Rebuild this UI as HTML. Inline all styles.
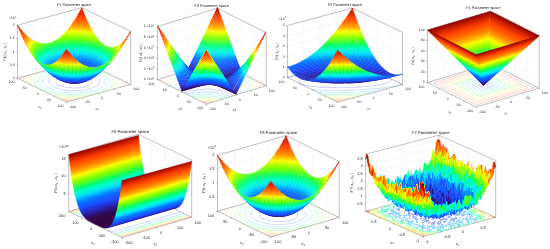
<!DOCTYPE html>
<html><head><meta charset="utf-8"><title>Parameter space</title>
<style>
html,body{margin:0;padding:0;background:#fff}
svg{display:block;text-rendering:geometricPrecision;font-family:"Liberation Sans",sans-serif;fill:#2a2a2a}
.s path{fill:currentColor;stroke:currentColor;stroke-width:.45;stroke-linejoin:round}
.k{filter:blur(.4px)}
.c path{fill:none}
.c{opacity:.55}
.c7{opacity:.9}
.g{fill:none;stroke:#ebebeb;stroke-width:.35}
.b{fill:none;stroke:#888;stroke-width:.5}
.p{font-size:3.5px}
.q{font-size:3.85px}
.p .tt{font-size:3.8px;fill:#111}
.q .tt{font-size:4.15px;fill:#111}
.u{font-size:75%}
</style></head><body>
<svg width="550" height="249" viewBox="0 0 550 249">
<rect width="550" height="249" fill="#fff"/>
<defs><linearGradient id="u" gradientUnits="userSpaceOnUse"/><filter id="cm" color-interpolation-filters="sRGB" x="-5%" y="-5%" width="110%" height="110%"><feComponentTransfer><feFuncR type="table" tableValues=".199 .19 .182 .17 .159 .15 .137 .128 .116 .106 .09 .078 .064 .052 .031 .005 0 0 0 0 0 0 0 0 0 0 0 .001 .052 .125 .201 .279 .355 .429 .498 .561 .632 .721 .795 .874 .952 .998 1 1 1 1 1 1 1 1 1 1 1 1 1 .986 .948 .914 .867 .825 .768 .719 .667 .597 .537"/><feFuncG type="table" tableValues=".026 .048 .071 .103 .137 .164 .201 .23 .271 .303 .336 .358 .391 .42 .467 .525 .581 .665 .755 .825 .883 .929 .954 .984 1 1 1 1 1 1 1 1 1 1 1 1 1 1 1 1 .993 .95 .87 .778 .713 .658 .596 .549 .506 .455 .417 .382 .343 .314 .281 .254 .218 .191 .158 .133 .102 .079 .056 .028 .006"/><feFuncB type="table" tableValues=".26 .357 .448 .56 .662 .733 .817 .874 .941 .985 1 1 1 1 1 1 1 1 1 1 .958 .909 .867 .813 .754 .674 .581 .473 .412 .332 .257 .188 .126 .073 .03 .001 0 0 0 0 .011 .019 .017 .012 .004 0 0 0 0 0 0 0 0 0 0 0 0 0 0 0 0 0 0 0 0"/></feComponentTransfer></filter></defs>
<g class="p"><g class="k"><path class="g" d="M66.4 102L17.5 78.2M17.5 78.2L17.5 25.2M82.5 97.6L33.6 73.8M33.6 73.8L33.6 20.8M98.5 93.2L49.6 69.5M49.6 69.5L49.6 16.5M114.6 88.9L65.7 65.1M65.7 65.1L65.7 12.1M130.7 84.5L81.8 60.7M81.8 60.7L81.8 7.7M66.4 102L130.7 84.5M130.7 84.5L130.7 31.5M54.2 96L118.5 78.5M118.5 78.5L118.5 25.5M42 90.1L106.2 72.6M106.2 72.6L106.2 19.6M29.7 84.2L94 66.7M94 66.7L94 13.7M17.5 78.2L81.8 60.7M81.8 60.7L81.8 7.7M17.5 78.2L81.8 60.7M81.8 60.7L130.7 84.5M17.5 65L81.8 47.5M81.8 47.5L130.7 71.2M17.5 51.7L81.8 34.2M81.8 34.2L130.7 58M17.5 38.5L81.8 21M81.8 21L130.7 44.8M17.5 25.2L81.8 7.7M81.8 7.7L130.7 31.5"/><path class="b" d="M66.4 102L130.7 84.5M66.4 102L17.5 78.2M130.7 84.5L81.8 60.7M17.5 78.2L81.8 60.7M17.5 78.2L17.5 25.2M81.8 60.7L81.8 7.7M130.7 84.5L130.7 31.5M17.5 25.2L81.8 7.7M81.8 7.7L130.7 31.5M66.4 102L66.9 103.2M82.5 97.6L83 98.8M98.5 93.2L99 94.5M114.6 88.9L115.1 90.1M130.7 84.5L131.2 85.7M66.4 102L65.8 103.2M54.2 96L53.6 97.2M42 90.1L41.4 91.3M29.7 84.2L29.1 85.4M17.5 78.2L16.9 79.4M17.5 78.2L16.2 78.2M17.5 65L16.2 65M17.5 51.7L16.2 51.7M17.5 38.5L16.2 38.5M17.5 25.2L16.2 25.2"/><g class="c" stroke-width="0.4"><path stroke="#2236d5" d="M80.6 87.6l-1 .1-1.1 .1-1.1 .1-1.1 0-.9 0-1.5 .1-1.3-.1-1.4-.1-1.5-.1-1.4-.1-1.1-.2-1.1-.2-.9-.2-1-.2-.8-.2-.9-.2-.7-.3-.8-.3-.6-.2-.7-.3-.6-.3-.5-.4-.5-.3-.9-.7-.6-.7-.4-.8-.2-.9 .3-1 .3-.6 .4-.5 .4-.4 .5-.4 .5-.3 .6-.3 .6-.4 .6-.3 .7-.2 .7-.3 .8-.2 .8-.3 .8-.2 .8-.2 .9-.2 1-.1 .9-.2 1-.1 1.1-.1 1-.1 1.2 0 .9 0 1.5-.1 1.3 .1 1.4 .1 1.5 .1 1.4 .1 1.1 .2 1.1 .2 .9 .2 1 .2 .8 .2 .9 .2 .7 .3 .8 .3 .6 .2 .7 .3 .6 .3 .5 .4 .5 .3 .9 .7 .6 .7 .4 .8 .2 .9-.3 1-.3 .6-.4 .5-.4 .4-.5 .4-.5 .3-.6 .3-.6 .4-.6 .3-.7 .2-.7 .3-.8 .2-.8 .3-.8 .2-.8 .2-.9 .2-1 .1-.9 .2z"/><path stroke="#0d6bff" d="M87 89.5l-.7 .1-1.1 .2-.9 .2-1 .1-1 .1-1 .2-1 0-1.1 .1-1.1 .1-1.2 0-1.2 .1-1.2 0-1.3 0-.9 0-1.5-.1-1.4-.1-1.3-.1-1.2-.1-1.1-.2-1.2-.1-1.1-.2-1-.2-1-.2-.9-.2-.9-.2-.9-.3-.8-.2-.8-.2-.7-.3-.8-.3-.6-.2-.7-.3-.6-.3-.6-.3-.6-.3-.5-.3-.5-.4-.5-.3-.8-.7-.7-.8-.4-.5-.3-.6-.3-.9 0-.9 .2-.9 .3-.7 .3-.5 .5-.6 .5-.5 .4-.3 .5-.4 .6-.4 .5-.3 .6-.3 .6-.3 .7-.3 .6-.3 .7-.3 .7-.3 .8-.2 .7-.3 .8-.2 .9-.2 .8-.2 .9-.2 .7-.1 1.1-.2 .9-.2 1-.1 1-.1 1-.2 1 0 1.1-.1 1.1-.1 1.2 0 1.2-.1 1.2 0 1.3 0 .9 0 1.5 .1 1.4 .1 1.3 .1 1.2 .1 1.1 .2 1.2 .1 1.1 .2 1 .2 1 .2 .9 .2 .9 .2 .9 .3 .8 .2 .8 .2 .7 .3 .8 .3 .6 .2 .7 .3 .6 .3 .6 .3 .6 .3 .5 .3 .5 .4 .5 .3 .8 .7 .7 .8 .4 .5 .3 .6 .3 .9 0 .9-.2 .9-.3 .7-.3 .5-.5 .6-.5 .5-.4 .3-.5 .4-.6 .4-.5 .3-.6 .3-.6 .3-.7 .3-.6 .3-.7 .3-.7 .3-.8 .2-.7 .3-.8 .2-.9 .2-.8 .2-.9 .2z"/><path stroke="#00d7fd" d="M86.9 91.9l-.7 .1-1.2 .1-1 .2-.9 .1-1.2 .1-1.1 .1-1.1 0-1.1 .1-1.1 0-1 .1-1.5 0-1.2 0-1.3 0-1-.1-1.5 0-1.4-.1-1.3-.1-1.3-.1-.8-.1-1.5-.2-1.1-.2-.9-.1-1.3-.2-.7-.2-1.2-.2-1-.2-.9-.3-.8-.2-.9-.2-.8-.3-.8-.2-.7-.3-.7-.2-.8-.3-.6-.3-.7-.3-.6-.3-.6-.3-.6-.3-.5-.3-.5-.3-.5-.3-.5-.4-.7-.6-.5-.4-.7-.8-.5-.8-.5-.8-.2-.8-.1-.9 .1-.9 .2-.6 .5-.9 .5-.8 .5-.5 .4-.4 .5-.4 .5-.4 .5-.4 .5-.3 .6-.4 .5-.3 .6-.3 .7-.3 .6-.3 .7-.3 .7-.3 .7-.2 .7-.3 .8-.2 .8-.2 .8-.3 .8-.2 .8-.2 .9-.2 .8-.2 .9-.1 .9-.2 1-.2 .7-.1 1.2-.1 1-.2 .9-.1 1.2-.1 1.1-.1 1.1 0 1.1-.1 1.1 0 1-.1 1.5 0 1.2 0 1.3 0 1 .1 1.5 0 1.4 .1 1.3 .1 1.3 .1 .8 .1 1.5 .2 1.1 .2 .9 .1 1.3 .2 .7 .2 1.2 .2 1 .2 .9 .3 .8 .2 .9 .2 .8 .3 .8 .2 .7 .3 .7 .2 .8 .3 .6 .3 .7 .3 .6 .3 .6 .3 .6 .3 .5 .3 .5 .3 .5 .3 .5 .4 .7 .6 .5 .4 .7 .8 .5 .8 .5 .8 .2 .8 .1 .9-.1 .9-.2 .6-.5 .9-.5 .8-.5 .5-.4 .4-.5 .4-.5 .4-.5 .4-.5 .3-.6 .4-.5 .3-.6 .3-.7 .3-.6 .3-.7 .3-.7 .3-.7 .2-.7 .3-.8 .2-.8 .2-.8 .3-.8 .2-.8 .2-.9 .2-.8 .2-.9 .1-.9 .2-1 .2z"/><path stroke="#00ffa0" d="M89.9 93.3l-.9 .2-1 .1-.9 .2-1 .1-1 .1-1.1 .1-.8 .1-1.3 .1-1.1 .1-1.1 0-1 .1-1.3 0-1.2 0-1.2 .1-1.3 0-1.3-.1-1.4 0-.8 0-1.4-.1-1.4-.1-1.3-.1-.9-.1-1.5-.2-1.2-.1-1.1-.2-1.1-.1-1.1-.2-1-.2-1-.2-1-.2-.9-.2-1-.2-.7-.2-1-.3-.8-.2-.8-.2-.8-.3-.8-.3-.7-.2-.7-.3-.7-.3-.7-.2-.6-.3-.7-.3-.6-.3-.5-.3-.6-.3-.5-.4-.5-.3-.5-.3-.5-.4-.8-.7-.8-.7-.6-.7-.6-.8-.4-.8-.3-.9-.1-.8 0-1 .2-.8 .3-.7 .2-.5 .4-.6 .4-.6 .4-.4 .4-.4 .4-.4 .5-.4 .5-.4 .5-.3 .5-.4 .6-.3 .6-.4 .5-.3 .7-.3 .6-.3 .7-.3 .6-.3 .7-.2 .7-.3 .8-.3 .7-.2 .8-.2 .7-.3 .8-.2 .8-.2 .9-.2 .8-.2 .9-.2 .9-.2 .9-.2 .9-.1 .9-.2 1-.1 .9-.2 1-.1 1-.1 1.1-.1 .8-.1 1.3-.1 1.1-.1 1.1 0 1-.1 1.3 0 1.2 0 1.2-.1 1.3 0 1.3 .1 1.4 0 .8 0 1.4 .1 1.4 .1 1.3 .1 .9 .1 1.5 .2 1.2 .1 1.1 .2 1.1 .1 1.1 .2 1 .2 1 .2 1 .2 .9 .2 1 .2 .7 .2 1 .3 .8 .2 .8 .2 .8 .3 .8 .3 .7 .2 .7 .3 .7 .3 .7 .2 .6 .3 .7 .3 .6 .3 .5 .3 .6 .3 .5 .4 .5 .3 .5 .3 .5 .4 .8 .7 .8 .7 .6 .7 .6 .8 .4 .8 .3 .9 .1 .8 0 1-.2 .8-.3 .7-.2 .5-.4 .6-.4 .6-.4 .4-.4 .4-.4 .4-.5 .4-.5 .4-.5 .3-.5 .4-.6 .3-.6 .4-.5 .3-.7 .3-.6 .3-.7 .3-.6 .3-.7 .2-.7 .3-.8 .3-.7 .2-.8 .2-.7 .3-.8 .2-.8 .2-.9 .2-.8 .2-.9 .2-.9 .2-.9 .2-.9 .1z"/><path stroke="#5bff20" d="M98.6 93.2l-.9 .3-.8 .2-.8 .2-.9 .2-.9 .1-.9 .2-.9 .2-.9 .2-.8 .1-1.1 .2-.9 .1-1 .1-1 .1-1.1 .2-1 .1-1.1 .1-1 0-1.1 .1-1.2 .1-1.1 0-1.2 .1-1.2 0-1.2 0-1.2 0-1.3 0-1.3 0-1.4-.1-1.3 0-.8-.1-1.4-.1-1.3-.1-1 0-1.6-.2-1.1-.1-1.2-.2-1-.1-1.2-.2-1.1-.2-1-.2-1-.2-1-.2-.8-.1-1.1-.3-.9-.2-.8-.2-.9-.3-.8-.2-.8-.2-.8-.3-.8-.3-.7-.2-.7-.3-.7-.3-.7-.2-.7-.3-.6-.3-.6-.3M106.2 72.6l.7 .3 .5 .3 .6 .3 .5 .3 .6 .4 .5 .3 .4 .3 .9 .7 .4 .4 .8 .7 .7 .7 .3 .5 .5 .7 .4 .8 .3 .9 .1 .7 .1 1.1-.2 .9-.2 .8-.4 .8-.3 .5-.4 .6-.6 .6-.6 .7-.5 .4-.4 .4-.5 .3-.5 .4-.5 .4-.6 .3-.5 .3-.6 .4-.6 .3-.7 .3-.6 .3-.6 .3-.7 .3-.7 .2-.7 .3-.7 .3-.8 .2-.7 .3-.8 .2-.8 .2-.7 .2M42 90.1l-.7-.3-.5-.3-.6-.3-.5-.3-.6-.4-.5-.3-.4-.3-.9-.7-.4-.4-.8-.7-.7-.7-.3-.5-.5-.7-.4-.8-.3-.9-.1-.7-.1-1.1 .2-.9 .2-.8 .4-.8 .3-.5 .4-.6 .6-.6 .6-.7 .5-.4 .4-.4 .5-.3 .5-.4 .5-.4 .6-.3 .5-.3 .6-.4 .6-.3 .7-.3 .6-.3 .6-.3 .7-.3 .7-.2 .7-.3 .7-.3 .8-.2 .7-.3 .8-.2 .8-.2 .7-.3M49.6 69.4l.9-.2 .8-.2 .8-.2 .9-.2 .9-.1 .9-.2 .9-.2 .9-.2 .8-.1 1.1-.2 .9-.1 1-.1 1-.1 1.1-.2 1-.1 1.1-.1 1 0 1.1-.1 1.2-.1 1.1 0 1.2-.1 1.2 0 1.2 0 1.2 0 1.3 0 1.3 0 1.4 .1 1.3 0 .8 .1 1.4 .1 1.3 .1 1 0 1.5 .2 1.2 .1 1.2 .2 1 .1 1.2 .2 1.1 .2 1 .2 1 .2 1 .2 .8 .1 1.1 .3 .9 .2 .8 .2 .9 .3 .8 .2 .8 .2 .8 .3 .8 .3 .7 .2 .7 .3 .7 .3 .7 .2 .7 .3 .6 .3 .6 .3"/><path stroke="#d0ff00" d="M84.2 97.2l-1.2 .1-1.1 0-1.2 .1-.9 0-1.4 .1-1.2 0-1.2 0-1.2 0-1.3 0-.8 0-1.6 0-1.5-.1-1.4-.1-1.4 0-1.4-.1-1.3-.1-1.2-.2-.8-.1-1.6-.1-1.2-.2-1.1-.1-1.1-.2-1.1-.2-1-.2-1-.2-1-.2M117.2 77.9l.5 .9 .3 .7 .2 .7 .1 1.2 0 .9-.2 1-.4 1-.3 .6-.3 .5-.4 .6-.5 .6-.4 .4-.4 .4-.5 .4-.4 .4-.5 .4-.5 .3-.5 .4M31 84.8l-.5-.9-.3-.7-.2-.7-.1-1.2 0-.9 .2-1 .4-1 .3-.6 .3-.5 .4-.6 .5-.6 .4-.4 .4-.4 .5-.4 .4-.4 .5-.4 .5-.3 .5-.4M64 65.5l1.2-.1 1.1 0 1.2-.1 .9 0 1.4-.1 1.2 0 1.2 0 1.2 0 1.3 0 .8 0 1.6 0 1.5 .1 1.4 .1 1.4 0 1.4 .1 1.3 .1 1.2 .2 .8 .1 1.6 .1 1.2 .2 1.1 .1 1.1 .2 1.1 .2 1 .2 1 .2 1 .2"/><path stroke="#ffab00" d="M78.2 98.8l-.8 0-1 0-1.5 0-1.2 0-1.3 0-1 0-1.5-.1-1.5 0-1.4-.1-1.4-.1-1.3-.1-1.3-.1-1.2-.1-1-.1-1.4-.2-1.2-.2-.8-.1M121.7 80.1l.1 .8 .1 .9-.1 .8-.2 1.1-.5 1-.3 .6-.4 .6-.4 .6-.4 .5-.4 .4M26.5 82.6l-.1-.8-.1-.9 .1-.8 .2-1.1 .5-1 .3-.6 .4-.6 .4-.6 .4-.5 .4-.4M70 63.9l.8 0 1 0 1.5 0 1.2 0 1.3 0 1 0 1.5 .1 1.5 0 1.4 .1 1.4 .1 1.3 .1 1.3 .1 1.2 .1 1 .1 1.4 .2 1.2 .2 .8 .1"/><path stroke="#ff5f00" d="M73.6 100l-1.3 0-1.3 0-1.3-.1-1.4 0-.8-.1-1.4 0-1.3-.1-.8-.1-1.5-.1-1.6-.2M125.2 81.8l-.1 1-.2 .7-.2 .8-.4 .8-.5 .8-.3 .6M23 80.9l.1-1 .2-.7 .2-.8 .4-.8 .5-.8 .3-.6M74.6 62.7l1.3 0 1.3 0 1.3 .1 1.4 0 .8 .1 1.4 0 1.3 .1 .8 .1 1.5 .1 1.6 .2"/><path stroke="#e22c00" d="M69.8 101.1l-1.5-.1-1.4-.1-1.4 0-1.4-.1M128.1 83.2l-.3 1.1-.2 .6M20.1 79.5l.3-1.1 .2-.6M78.4 61.6l1.5 .1 1.4 .1 1.4 0 1.4 .1"/></g><g filter="url(#cm)"><g stroke-width="0.35" stroke-linejoin="round"><linearGradient id="a0" href="#u" x1="74.1" y1="81.3" x2="92.4" y2="39.9"><stop offset="0" stop-color="#000"/><stop offset=".149" stop-color="#080808"/><stop offset=".366" stop-color="#202020"/><stop offset=".649" stop-color="#484848"/><stop offset="1" stop-color="#808080"/></linearGradient><path fill="url(#a0)" stroke="url(#a0)" d="M74.1 81.3Q90.2 77 106.2 46.1L103.8 44.7Q89 76.4 74.1 81.3z"/><linearGradient id="a1" href="#u" x1="74.1" y1="81.3" x2="89.5" y2="39"><stop offset="0" stop-color="#000"/><stop offset=".144" stop-color="#080808"/><stop offset=".359" stop-color="#212121"/><stop offset=".644" stop-color="#494949"/><stop offset="1" stop-color="#828282"/></linearGradient><path fill="url(#a1)" stroke="url(#a1)" d="M74.1 81.3Q89 76.4 103.8 44.7L101.4 42.7Q87.7 75.8 74.1 81.3z"/><linearGradient id="a2" href="#u" x1="74.1" y1="81.3" x2="87.2" y2="37.6"><stop offset="0" stop-color="#000"/><stop offset=".139" stop-color="#080808"/><stop offset=".352" stop-color="#222"/><stop offset=".639" stop-color="#4c4c4c"/><stop offset="1" stop-color="#878787"/></linearGradient><path fill="url(#a2)" stroke="url(#a2)" d="M74.1 81.3Q87.7 75.8 101.4 42.7L98.8 40.1Q86.5 75.2 74.1 81.3z"/><linearGradient id="a3" href="#u" x1="74.1" y1="81.3" x2="85.3" y2="35.5"><stop offset="0" stop-color="#000"/><stop offset=".135" stop-color="#090909"/><stop offset=".346" stop-color="#242424"/><stop offset=".635" stop-color="#515151"/><stop offset="1" stop-color="#909090"/></linearGradient><path fill="url(#a3)" stroke="url(#a3)" d="M74.1 81.3Q86.5 75.2 98.8 40.1L96.1 36.6Q85.1 74.5 74.1 81.3z"/><linearGradient id="a4" href="#u" x1="74.1" y1="81.3" x2="83.7" y2="32.4"><stop offset="0" stop-color="#000"/><stop offset=".13" stop-color="#0a0a0a"/><stop offset=".341" stop-color="#272727"/><stop offset=".63" stop-color="#585858"/><stop offset="1" stop-color="#9c9c9c"/></linearGradient><path fill="url(#a4)" stroke="url(#a4)" d="M74.1 81.3Q85.1 74.5 96.1 36.6L93.2 32.2Q83.6 73.8 74.1 81.3z"/><linearGradient id="a5" href="#u" x1="74.1" y1="81.3" x2="82.2" y2="28"><stop offset="0" stop-color="#000"/><stop offset=".053" stop-color="#030303"/><stop offset=".126" stop-color="#0b0b0b"/><stop offset=".22" stop-color="#181818"/><stop offset=".335" stop-color="#2b2b2b"/><stop offset=".47" stop-color="#444"/><stop offset=".626" stop-color="#616161"/><stop offset=".803" stop-color="#858585"/><stop offset="1" stop-color="#adadad"/></linearGradient><path fill="url(#a5)" stroke="url(#a5)" d="M74.1 81.3Q83.6 73.8 93.2 32.2L89.9 26.3Q82 73 74.1 81.3z"/><linearGradient id="a6" href="#u" x1="74.1" y1="81.3" x2="80.8" y2="21.9"><stop offset="0" stop-color="#000"/><stop offset=".05" stop-color="#030303"/><stop offset=".122" stop-color="#0c0c0c"/><stop offset=".215" stop-color="#1c1c1c"/><stop offset=".329" stop-color="#313131"/><stop offset=".465" stop-color="#4d4d4d"/><stop offset=".622" stop-color="#6f6f6f"/><stop offset=".8" stop-color="#979797"/><stop offset="1" stop-color="#c6c6c6"/></linearGradient><path fill="url(#a6)" stroke="url(#a6)" d="M74.1 81.3Q82 73 89.9 26.3L86.2 18.5Q80.1 72.1 74.1 81.3z"/><linearGradient id="a7" href="#u" x1="74.1" y1="81.3" x2="79.1" y2="13.2"><stop offset="0" stop-color="#000"/><stop offset=".048" stop-color="#040404"/><stop offset=".118" stop-color="#0f0f0f"/><stop offset=".21" stop-color="#212121"/><stop offset=".324" stop-color="#3a3a3a"/><stop offset=".46" stop-color="#5b5b5b"/><stop offset=".618" stop-color="#838383"/><stop offset=".798" stop-color="#b2b2b2"/><stop offset="1" stop-color="#e8e8e8"/></linearGradient><path fill="url(#a7)" stroke="url(#a7)" d="M74.1 81.3Q80.1 72.1 86.2 18.5L81.8 7.7Q78 71 74.1 81.3z"/><linearGradient id="a8" href="#u" x1="74.1" y1="81.3" x2="76.7" y2="13.2"><stop offset="0" stop-color="#000"/><stop offset=".048" stop-color="#040404"/><stop offset=".117" stop-color="#0f0f0f"/><stop offset=".209" stop-color="#212121"/><stop offset=".323" stop-color="#3a3a3a"/><stop offset=".459" stop-color="#5b5b5b"/><stop offset=".617" stop-color="#838383"/><stop offset=".798" stop-color="#b2b2b2"/><stop offset="1" stop-color="#e8e8e8"/></linearGradient><path fill="url(#a8)" stroke="url(#a8)" d="M74.1 81.3Q78 71 81.8 7.7L76 17.9Q75.1 71.8 74.1 81.3z"/><linearGradient id="a9" href="#u" x1="74.1" y1="81.3" x2="74.2" y2="21.9"><stop offset="0" stop-color="#000"/><stop offset=".049" stop-color="#030303"/><stop offset=".12" stop-color="#0c0c0c"/><stop offset=".213" stop-color="#1c1c1c"/><stop offset=".327" stop-color="#313131"/><stop offset=".463" stop-color="#4d4d4d"/><stop offset=".62" stop-color="#6f6f6f"/><stop offset=".799" stop-color="#979797"/><stop offset="1" stop-color="#c6c6c6"/></linearGradient><path fill="url(#a9)" stroke="url(#a9)" d="M74.1 81.3Q75.1 71.8 76 17.9L71.1 25.3Q72.6 72.5 74.1 81.3z"/><linearGradient id="a10" href="#u" x1="74.1" y1="81.3" x2="72.3" y2="28.1"><stop offset="0" stop-color="#000"/><stop offset=".051" stop-color="#030303"/><stop offset=".123" stop-color="#0b0b0b"/><stop offset=".217" stop-color="#181818"/><stop offset=".331" stop-color="#2b2b2b"/><stop offset=".467" stop-color="#444"/><stop offset=".623" stop-color="#616161"/><stop offset=".801" stop-color="#858585"/><stop offset="1" stop-color="#adadad"/></linearGradient><path fill="url(#a10)" stroke="url(#a10)" d="M74.1 81.3Q72.6 72.5 71.1 25.3L66.8 30.7Q70.5 73.1 74.1 81.3z"/><linearGradient id="a11" href="#u" x1="74.1" y1="81.3" x2="70.6" y2="32.5"><stop offset="0" stop-color="#000"/><stop offset=".126" stop-color="#0a0a0a"/><stop offset=".335" stop-color="#272727"/><stop offset=".626" stop-color="#585858"/><stop offset="1" stop-color="#9c9c9c"/></linearGradient><path fill="url(#a11)" stroke="url(#a11)" d="M74.1 81.3Q70.5 73.1 66.8 30.7L63 34.8Q68.5 73.6 74.1 81.3z"/><linearGradient id="a12" href="#u" x1="74.1" y1="81.3" x2="69.1" y2="35.6"><stop offset="0" stop-color="#000"/><stop offset=".129" stop-color="#090909"/><stop offset=".339" stop-color="#242424"/><stop offset=".629" stop-color="#515151"/><stop offset="1" stop-color="#909090"/></linearGradient><path fill="url(#a12)" stroke="url(#a12)" d="M74.1 81.3Q68.5 73.6 63 34.8L59.4 37.9Q66.8 74.1 74.1 81.3z"/><linearGradient id="a13" href="#u" x1="74.1" y1="81.3" x2="67.5" y2="37.6"><stop offset="0" stop-color="#000"/><stop offset=".132" stop-color="#080808"/><stop offset=".343" stop-color="#222"/><stop offset=".632" stop-color="#4c4c4c"/><stop offset="1" stop-color="#878787"/></linearGradient><path fill="url(#a13)" stroke="url(#a13)" d="M74.1 81.3Q66.8 74.1 59.4 37.9L56 40.2Q65.1 74.5 74.1 81.3z"/><linearGradient id="a14" href="#u" x1="74.1" y1="81.3" x2="65.8" y2="38.8"><stop offset="0" stop-color="#000"/><stop offset=".135" stop-color="#080808"/><stop offset=".347" stop-color="#212121"/><stop offset=".635" stop-color="#494949"/><stop offset="1" stop-color="#828282"/></linearGradient><path fill="url(#a14)" stroke="url(#a14)" d="M74.1 81.3Q65.1 74.5 56 40.2L52.8 41.8Q63.5 75 74.1 81.3z"/><linearGradient id="a15" href="#u" x1="74.1" y1="81.3" x2="63.8" y2="39.4"><stop offset="0" stop-color="#000"/><stop offset=".138" stop-color="#080808"/><stop offset=".351" stop-color="#202020"/><stop offset=".638" stop-color="#484848"/><stop offset="1" stop-color="#808080"/></linearGradient><path fill="url(#a15)" stroke="url(#a15)" d="M74.1 81.3Q63.5 75 52.8 41.8L49.6 43Q61.9 75.4 74.1 81.3z"/><linearGradient id="a16" href="#u" x1="74.1" y1="81.3" x2="61.4" y2="39.3"><stop offset="0" stop-color="#000"/><stop offset=".141" stop-color="#080808"/><stop offset=".355" stop-color="#202020"/><stop offset=".641" stop-color="#484848"/><stop offset="1" stop-color="#808080"/></linearGradient><path fill="url(#a16)" stroke="url(#a16)" d="M74.1 81.3Q61.9 75.4 49.6 43L46.5 43.6Q60.3 75.8 74.1 81.3z"/><linearGradient id="a17" href="#u" x1="74.1" y1="81.3" x2="58.4" y2="38.7"><stop offset="0" stop-color="#000"/><stop offset=".145" stop-color="#080808"/><stop offset=".36" stop-color="#212121"/><stop offset=".645" stop-color="#494949"/><stop offset="1" stop-color="#828282"/></linearGradient><path fill="url(#a17)" stroke="url(#a17)" d="M74.1 81.3Q60.3 75.8 46.5 43.6L43.3 43.6Q58.7 76.3 74.1 81.3z"/><linearGradient id="a18" href="#u" x1="74.1" y1="81.3" x2="54.4" y2="37.7"><stop offset="0" stop-color="#000"/><stop offset=".149" stop-color="#080808"/><stop offset=".366" stop-color="#222"/><stop offset=".649" stop-color="#4c4c4c"/><stop offset="1" stop-color="#878787"/></linearGradient><path fill="url(#a18)" stroke="url(#a18)" d="M74.1 81.3Q58.7 76.3 43.3 43.6L39.9 43.2Q57 76.7 74.1 81.3z"/><linearGradient id="a19" href="#u" x1="74.1" y1="81.3" x2="49.2" y2="36.5"><stop offset="0" stop-color="#000"/><stop offset=".154" stop-color="#090909"/><stop offset=".373" stop-color="#242424"/><stop offset=".654" stop-color="#515151"/><stop offset="1" stop-color="#909090"/></linearGradient><path fill="url(#a19)" stroke="url(#a19)" d="M74.1 81.3Q57 76.7 39.9 43.2L36.3 42Q55.2 77.2 74.1 81.3z"/><linearGradient id="a20" href="#u" x1="74.1" y1="81.3" x2="42.2" y2="35.7"><stop offset="0" stop-color="#000"/><stop offset=".16" stop-color="#0a0a0a"/><stop offset=".381" stop-color="#272727"/><stop offset=".66" stop-color="#585858"/><stop offset="1" stop-color="#9c9c9c"/></linearGradient><path fill="url(#a20)" stroke="url(#a20)" d="M74.1 81.3Q55.2 77.2 36.3 42L32.5 40.1Q53.3 77.7 74.1 81.3z"/><linearGradient id="a21" href="#u" x1="74.1" y1="81.3" x2="33.1" y2="36.2"><stop offset="0" stop-color="#000"/><stop offset=".077" stop-color="#030303"/><stop offset=".168" stop-color="#0b0b0b"/><stop offset=".273" stop-color="#181818"/><stop offset=".391" stop-color="#2b2b2b"/><stop offset=".523" stop-color="#444"/><stop offset=".668" stop-color="#616161"/><stop offset=".827" stop-color="#858585"/><stop offset="1" stop-color="#adadad"/></linearGradient><path fill="url(#a21)" stroke="url(#a21)" d="M74.1 81.3Q53.3 77.7 32.5 40.1L28.2 37Q51.1 78.3 74.1 81.3z"/><linearGradient id="a22" href="#u" x1="74.1" y1="81.3" x2="21.9" y2="39.7"><stop offset="0" stop-color="#000"/><stop offset=".083" stop-color="#030303"/><stop offset=".178" stop-color="#0c0c0c"/><stop offset=".285" stop-color="#1c1c1c"/><stop offset=".404" stop-color="#313131"/><stop offset=".535" stop-color="#4d4d4d"/><stop offset=".678" stop-color="#6f6f6f"/><stop offset=".833" stop-color="#979797"/><stop offset="1" stop-color="#c6c6c6"/></linearGradient><path fill="url(#a22)" stroke="url(#a22)" d="M74.1 81.3Q51.1 78.3 28.2 37L23.3 32.3Q48.7 79 74.1 81.3z"/><linearGradient id="a23" href="#u" x1="74.1" y1="81.3" x2="10.4" y2="48.8"><stop offset="0" stop-color="#000"/><stop offset=".091" stop-color="#040404"/><stop offset=".192" stop-color="#0f0f0f"/><stop offset=".303" stop-color="#212121"/><stop offset=".423" stop-color="#3a3a3a"/><stop offset=".553" stop-color="#5b5b5b"/><stop offset=".692" stop-color="#838383"/><stop offset=".841" stop-color="#b2b2b2"/><stop offset="1" stop-color="#e8e8e8"/></linearGradient><path fill="url(#a23)" stroke="url(#a23)" d="M74.1 81.3Q48.7 79 23.3 32.3L17.5 25.2Q45.8 79.8 74.1 81.3z"/><linearGradient id="a24" href="#u" x1="74.1" y1="81.3" x2="11.4" y2="66.5"><stop offset="0" stop-color="#000"/><stop offset=".106" stop-color="#040404"/><stop offset=".218" stop-color="#0f0f0f"/><stop offset=".335" stop-color="#212121"/><stop offset=".457" stop-color="#3a3a3a"/><stop offset=".585" stop-color="#5b5b5b"/><stop offset=".718" stop-color="#838383"/><stop offset=".856" stop-color="#b2b2b2"/><stop offset="1" stop-color="#e8e8e8"/></linearGradient><path fill="url(#a24)" stroke="url(#a24)" d="M74.1 81.3Q45.8 79.8 17.5 25.2L21.9 36Q48 80.8 74.1 81.3z"/><linearGradient id="a25" href="#u" x1="74.1" y1="81.3" x2="25.2" y2="83"><stop offset="0" stop-color="#000"/><stop offset=".128" stop-color="#030303"/><stop offset=".255" stop-color="#0c0c0c"/><stop offset=".381" stop-color="#1c1c1c"/><stop offset=".507" stop-color="#313131"/><stop offset=".631" stop-color="#4d4d4d"/><stop offset=".755" stop-color="#6f6f6f"/><stop offset=".878" stop-color="#979797"/><stop offset="1" stop-color="#c6c6c6"/></linearGradient><path fill="url(#a25)" stroke="url(#a25)" d="M74.1 81.3Q48 80.8 21.9 36L25.6 43.8Q49.9 81.7 74.1 81.3z"/><linearGradient id="a26" href="#u" x1="74.1" y1="81.3" x2="40.7" y2="91.4"><stop offset="0" stop-color="#000"/><stop offset=".158" stop-color="#030303"/><stop offset=".306" stop-color="#0b0b0b"/><stop offset=".445" stop-color="#181818"/><stop offset=".575" stop-color="#2b2b2b"/><stop offset=".695" stop-color="#444"/><stop offset=".806" stop-color="#616161"/><stop offset=".908" stop-color="#858585"/><stop offset="1" stop-color="#adadad"/></linearGradient><path fill="url(#a26)" stroke="url(#a26)" d="M74.1 81.3Q49.9 81.7 25.6 43.8L28.9 49.7Q51.5 82.5 74.1 81.3z"/><linearGradient id="a27" href="#u" x1="74.1" y1="81.3" x2="54" y2="93"><stop offset="0" stop-color="#000"/><stop offset=".381" stop-color="#0a0a0a"/><stop offset=".674" stop-color="#272727"/><stop offset=".881" stop-color="#585858"/><stop offset="1" stop-color="#9c9c9c"/></linearGradient><path fill="url(#a27)" stroke="url(#a27)" d="M74.1 81.3Q51.5 82.5 28.9 49.7L31.8 54.1Q53 83.3 74.1 81.3z"/><linearGradient id="a28" href="#u" x1="74.1" y1="81.3" x2="62.9" y2="91"><stop offset="0" stop-color="#000"/><stop offset=".437" stop-color="#070707"/><stop offset=".75" stop-color="#1b1b1b"/><stop offset=".937" stop-color="#3d3d3d"/><stop offset="1" stop-color="#6d6d6d"/></linearGradient><path fill="url(#a28)" stroke="url(#a28)" d="M74.1 81.3Q55.7 83 37.4 61.2L39.7 64Q56.9 83.6 74.1 81.3z"/><linearGradient id="a30" href="#u" x1="74.1" y1="81.3" x2="67.5" y2="89"><stop offset="0" stop-color="#000"/><stop offset=".437" stop-color="#040404"/><stop offset=".75" stop-color="#101010"/><stop offset=".937" stop-color="#242424"/><stop offset="1" stop-color="#404040"/></linearGradient><path fill="url(#a30)" stroke="url(#a30)" d="M74.1 81.3Q60.5 83.1 46.9 71.2L48.7 72.8Q61.4 83.5 74.1 81.3z"/><linearGradient id="a32" href="#u" x1="74.1" y1="81.3" x2="70" y2="87.5"><stop offset="0" stop-color="#000"/><stop offset=".438" stop-color="#030303"/><stop offset=".751" stop-color="#0b0b0b"/><stop offset=".938" stop-color="#181818"/><stop offset="1" stop-color="#2b2b2b"/></linearGradient><path fill="url(#a32)" stroke="url(#a32)" d="M74.1 81.3Q63.5 83.2 52.9 76L54.3 76.9Q64.2 83.5 74.1 81.3z"/><linearGradient id="a34" href="#u" x1="74.1" y1="81.3" x2="71.4" y2="86.3"><stop offset="0" stop-color="#000"/><stop offset=".75" stop-color="#080808"/><stop offset="1" stop-color="#1f1f1f"/></linearGradient><path fill="url(#a34)" stroke="url(#a34)" d="M74.1 81.3Q65.6 83.2 57.1 78.6L58.3 79.2Q66.2 83.5 74.1 81.3z"/><linearGradient id="a36" href="#u" x1="74.1" y1="81.3" x2="72.3" y2="85.5"><stop offset="0" stop-color="#000"/><stop offset=".75" stop-color="#060606"/><stop offset="1" stop-color="#181818"/></linearGradient><path fill="url(#a36)" stroke="url(#a36)" d="M74.1 81.3Q67.1 83.2 60.2 80.2L61.2 80.6Q67.7 83.5 74.1 81.3z"/><linearGradient id="a38" href="#u" x1="74.1" y1="81.3" x2="72.8" y2="84.9"><stop offset="0" stop-color="#000"/><stop offset=".75" stop-color="#050505"/><stop offset="1" stop-color="#131313"/></linearGradient><path fill="url(#a38)" stroke="url(#a38)" d="M74.1 81.3Q68.4 83.3 62.6 81.2L63.6 81.5Q68.8 83.5 74.1 81.3z"/><linearGradient id="a40" href="#u" x1="74.1" y1="81.3" x2="73.2" y2="84.5"><stop offset="0" stop-color="#000"/><stop offset=".75" stop-color="#040404"/><stop offset="1" stop-color="#101010"/></linearGradient><path fill="url(#a40)" stroke="url(#a40)" d="M74.1 81.3Q69.4 83.3 64.7 81.9L65.5 82.2Q69.8 83.5 74.1 81.3z"/><linearGradient id="a42" href="#u" x1="74.1" y1="81.3" x2="73.4" y2="84.1"><stop offset="0" stop-color="#000"/><stop offset=".749" stop-color="#040404"/><stop offset="1" stop-color="#0e0e0e"/></linearGradient><path fill="url(#a42)" stroke="url(#a42)" d="M74.1 81.3Q70.2 83.3 66.4 82.4L67.2 82.6Q70.7 83.5 74.1 81.3z"/><linearGradient id="a44" href="#u" x1="74.1" y1="81.3" x2="73.6" y2="83.9"><stop offset="0" stop-color="#000"/><stop offset=".75" stop-color="#030303"/><stop offset="1" stop-color="#0d0d0d"/></linearGradient><path fill="url(#a44)" stroke="url(#a44)" d="M74.1 81.3Q71 83.3 67.9 82.7L68.7 82.9Q71.4 83.5 74.1 81.3z"/><linearGradient id="a46" href="#u" x1="74.1" y1="81.3" x2="73.7" y2="83.7"><stop offset="0" stop-color="#000"/><stop offset=".75" stop-color="#030303"/><stop offset="1" stop-color="#0b0b0b"/></linearGradient><path fill="url(#a46)" stroke="url(#a46)" d="M74.1 81.3Q71.6 83.3 69.2 83L70 83.1Q72.1 83.5 74.1 81.3z"/><linearGradient id="a48" href="#u" x1="74.1" y1="81.3" x2="73.9" y2="83.6"><stop offset="0" stop-color="#000"/><stop offset=".749" stop-color="#030303"/><stop offset="1" stop-color="#0b0b0b"/></linearGradient><path fill="url(#a48)" stroke="url(#a48)" d="M74.1 81.3Q72.3 83.3 70.4 83.2L71.3 83.3Q72.7 83.5 74.1 81.3z"/><linearGradient id="a50" href="#u" x1="74.1" y1="81.3" x2="73.9" y2="83.5"><stop offset="0" stop-color="#000"/><stop offset=".75" stop-color="#030303"/><stop offset="1" stop-color="#0a0a0a"/></linearGradient><path fill="url(#a50)" stroke="url(#a50)" d="M74.1 81.3Q72.8 83.3 71.6 83.3L72.5 83.3Q73.3 83.5 74.1 81.3z"/><linearGradient id="a52" href="#u" x1="74.1" y1="81.3" x2="74" y2="83.4"><stop offset="0" stop-color="#000"/><stop offset="1" stop-color="#0a0a0a"/></linearGradient><path fill="url(#a52)" stroke="url(#a52)" d="M74.1 81.3Q73.3 83.5 72.5 83.4L73.7 83.4Q73.9 83.3 74.1 81.3z"/><linearGradient id="a54" href="#u" x1="74.1" y1="81.3" x2="74.1" y2="83.4"><stop offset="0" stop-color="#000"/><stop offset="1" stop-color="#0a0a0a"/></linearGradient><path fill="url(#a54)" stroke="url(#a54)" d="M74.1 81.3Q73.9 83.5 73.7 83.4L74.8 83.4Q74.4 83.3 74.1 81.3z"/><linearGradient id="a56" href="#u" x1="74.1" y1="81.3" x2="74.2" y2="83.4"><stop offset="0" stop-color="#000"/><stop offset="1" stop-color="#0a0a0a"/></linearGradient><path fill="url(#a56)" stroke="url(#a56)" d="M74.1 81.3Q74.5 83.5 74.8 83.4L75.8 83.4Q75 83.3 74.1 81.3z"/><linearGradient id="a58" href="#u" x1="74.1" y1="81.3" x2="74.3" y2="83.5"><stop offset="0" stop-color="#000"/><stop offset=".75" stop-color="#030303"/><stop offset="1" stop-color="#0a0a0a"/></linearGradient><path fill="url(#a58)" stroke="url(#a58)" d="M74.1 81.3Q75 83.5 76 83.4L77 83.3Q75.5 83.3 74.1 81.3z"/><linearGradient id="a60" href="#u" x1="74.1" y1="81.3" x2="74.3" y2="83.6"><stop offset="0" stop-color="#000"/><stop offset=".75" stop-color="#030303"/><stop offset="1" stop-color="#0b0b0b"/></linearGradient><path fill="url(#a60)" stroke="url(#a60)" d="M74.1 81.3Q75.6 83.5 77.2 83.3L78.1 83.2Q76.1 83.4 74.1 81.3z"/><linearGradient id="a62" href="#u" x1="74.1" y1="81.3" x2="74.5" y2="83.7"><stop offset="0" stop-color="#000"/><stop offset=".749" stop-color="#030303"/><stop offset="1" stop-color="#0c0c0c"/></linearGradient><path fill="url(#a62)" stroke="url(#a62)" d="M74.1 81.3Q76.3 83.5 78.4 83.1L79.4 83Q76.8 83.4 74.1 81.3z"/><linearGradient id="a64" href="#u" x1="74.1" y1="81.3" x2="74.6" y2="83.9"><stop offset="0" stop-color="#000"/><stop offset=".751" stop-color="#030303"/><stop offset="1" stop-color="#0d0d0d"/></linearGradient><path fill="url(#a64)" stroke="url(#a64)" d="M74.1 81.3Q76.9 83.5 79.8 82.9L80.8 82.7Q77.5 83.4 74.1 81.3z"/><linearGradient id="a66" href="#u" x1="74.1" y1="81.3" x2="74.8" y2="84.2"><stop offset="0" stop-color="#000"/><stop offset=".75" stop-color="#040404"/><stop offset="1" stop-color="#0f0f0f"/></linearGradient><path fill="url(#a66)" stroke="url(#a66)" d="M74.1 81.3Q77.7 83.5 81.3 82.6L82.4 82.3Q78.2 83.4 74.1 81.3z"/><linearGradient id="a68" href="#u" x1="74.1" y1="81.3" x2="75.1" y2="84.6"><stop offset="0" stop-color="#000"/><stop offset=".75" stop-color="#040404"/><stop offset="1" stop-color="#111"/></linearGradient><path fill="url(#a68)" stroke="url(#a68)" d="M74.1 81.3Q78.5 83.5 83 82.2L84.1 81.8Q79.1 83.4 74.1 81.3z"/><linearGradient id="a70" href="#u" x1="74.1" y1="81.3" x2="75.5" y2="85.1"><stop offset="0" stop-color="#000"/><stop offset=".751" stop-color="#050505"/><stop offset="1" stop-color="#141414"/></linearGradient><path fill="url(#a70)" stroke="url(#a70)" d="M74.1 81.3Q79.6 83.5 85 81.5L86.3 81.1Q80.2 83.4 74.1 81.3z"/><linearGradient id="a72" href="#u" x1="74.1" y1="81.3" x2="76.1" y2="85.7"><stop offset="0" stop-color="#000"/><stop offset=".75" stop-color="#060606"/><stop offset="1" stop-color="#191919"/></linearGradient><path fill="url(#a72)" stroke="url(#a72)" d="M74.1 81.3Q80.8 83.5 87.4 80.6L88.9 79.9Q81.5 83.3 74.1 81.3z"/><linearGradient id="a74" href="#u" x1="74.1" y1="81.3" x2="77" y2="86.6"><stop offset="0" stop-color="#000"/><stop offset=".75" stop-color="#080808"/><stop offset="1" stop-color="#212121"/></linearGradient><path fill="url(#a74)" stroke="url(#a74)" d="M74.1 81.3Q82.3 83.6 90.6 79.1L92.3 78.1Q83.2 83.3 74.1 81.3z"/><linearGradient id="a76" href="#u" x1="74.1" y1="81.3" x2="78.7" y2="87.9"><stop offset="0" stop-color="#000"/><stop offset=".437" stop-color="#030303"/><stop offset=".75" stop-color="#0c0c0c"/><stop offset=".937" stop-color="#1a1a1a"/><stop offset="1" stop-color="#2f2f2f"/></linearGradient><path fill="url(#a76)" stroke="url(#a76)" d="M74.1 81.3Q84.4 83.6 94.7 76.6L96.8 75.1Q85.5 83.3 74.1 81.3z"/><linearGradient id="a78" href="#u" x1="74.1" y1="81.3" x2="81.5" y2="89.5"><stop offset="0" stop-color="#000"/><stop offset=".438" stop-color="#040404"/><stop offset=".75" stop-color="#121212"/><stop offset=".938" stop-color="#282828"/><stop offset="1" stop-color="#484848"/></linearGradient><path fill="url(#a78)" stroke="url(#a78)" d="M74.1 81.3Q87.5 83.7 100.9 71.9L103.7 69.4Q88.9 83.3 74.1 81.3z"/><linearGradient id="a80" href="#u" x1="74.1" y1="81.3" x2="87" y2="91.6"><stop offset="0" stop-color="#000"/><stop offset=".437" stop-color="#080808"/><stop offset=".75" stop-color="#202020"/><stop offset=".937" stop-color="#484848"/><stop offset="1" stop-color="#7f7f7f"/></linearGradient><path fill="url(#a80)" stroke="url(#a80)" d="M74.1 81.3Q92.5 83.8 111 61.5L114.9 56.6Q94.5 83.2 74.1 81.3z"/><linearGradient id="a82" href="#u" x1="74.1" y1="81.3" x2="98.6" y2="93.9"><stop offset="0" stop-color="#000"/><stop offset=".212" stop-color="#040404"/><stop offset=".4" stop-color="#0f0f0f"/><stop offset=".562" stop-color="#212121"/><stop offset=".699" stop-color="#3a3a3a"/><stop offset=".812" stop-color="#5b5b5b"/><stop offset=".9" stop-color="#838383"/><stop offset=".962" stop-color="#b2b2b2"/><stop offset="1" stop-color="#e8e8e8"/></linearGradient><path fill="url(#a82)" stroke="url(#a82)" d="M74.1 81.3Q99.5 83.7 124.9 41.7L130.7 31.5Q102.4 82.9 74.1 81.3z"/><linearGradient id="a83" href="#u" x1="74.1" y1="81.3" x2="115.2" y2="91.1"><stop offset="0" stop-color="#000"/><stop offset=".154" stop-color="#040404"/><stop offset=".299" stop-color="#0f0f0f"/><stop offset=".437" stop-color="#212121"/><stop offset=".566" stop-color="#3a3a3a"/><stop offset=".687" stop-color="#5b5b5b"/><stop offset=".799" stop-color="#838383"/><stop offset=".904" stop-color="#b2b2b2"/><stop offset="1" stop-color="#e8e8e8"/></linearGradient><path fill="url(#a83)" stroke="url(#a83)" d="M74.1 81.3Q102.4 82.9 130.7 31.5L126.3 38Q100.2 81.9 74.1 81.3z"/><linearGradient id="a84" href="#u" x1="74.1" y1="81.3" x2="125.7" y2="79.7"><stop offset="0" stop-color="#000"/><stop offset=".122" stop-color="#030303"/><stop offset=".245" stop-color="#0c0c0c"/><stop offset=".369" stop-color="#1c1c1c"/><stop offset=".493" stop-color="#313131"/><stop offset=".619" stop-color="#4d4d4d"/><stop offset=".745" stop-color="#6f6f6f"/><stop offset=".872" stop-color="#979797"/><stop offset="1" stop-color="#c6c6c6"/></linearGradient><path fill="url(#a84)" stroke="url(#a84)" d="M74.1 81.3Q100.2 81.9 126.3 38L122.6 42.2Q98.3 80.9 74.1 81.3z"/><linearGradient id="a85" href="#u" x1="74.1" y1="81.3" x2="127.4" y2="65.2"><stop offset="0" stop-color="#000"/><stop offset=".105" stop-color="#030303"/><stop offset=".215" stop-color="#0b0b0b"/><stop offset=".331" stop-color="#181818"/><stop offset=".453" stop-color="#2b2b2b"/><stop offset=".581" stop-color="#444"/><stop offset=".715" stop-color="#616161"/><stop offset=".855" stop-color="#858585"/><stop offset="1" stop-color="#adadad"/></linearGradient><path fill="url(#a85)" stroke="url(#a85)" d="M74.1 81.3Q98.3 80.9 122.6 42.2L119.3 44.9Q96.7 80.2 74.1 81.3z"/><linearGradient id="a86" href="#u" x1="74.1" y1="81.3" x2="122.3" y2="53.6"><stop offset="0" stop-color="#000"/><stop offset=".195" stop-color="#0a0a0a"/><stop offset=".427" stop-color="#272727"/><stop offset=".695" stop-color="#585858"/><stop offset="1" stop-color="#9c9c9c"/></linearGradient><path fill="url(#a86)" stroke="url(#a86)" d="M74.1 81.3Q96.7 80.2 119.3 44.9L116.4 46.5Q95.2 79.4 74.1 81.3z"/><linearGradient id="a87" href="#u" x1="74.1" y1="81.3" x2="114.6" y2="46.5"><stop offset="0" stop-color="#000"/><stop offset=".182" stop-color="#090909"/><stop offset=".409" stop-color="#242424"/><stop offset=".682" stop-color="#515151"/><stop offset="1" stop-color="#909090"/></linearGradient><path fill="url(#a87)" stroke="url(#a87)" d="M74.1 81.3Q95.2 79.4 116.4 46.5L113.7 47.3Q93.9 78.8 74.1 81.3z"/><linearGradient id="a88" href="#u" x1="74.1" y1="81.3" x2="107.1" y2="42.9"><stop offset="0" stop-color="#000"/><stop offset=".171" stop-color="#080808"/><stop offset=".395" stop-color="#222"/><stop offset=".671" stop-color="#4c4c4c"/><stop offset="1" stop-color="#878787"/></linearGradient><path fill="url(#a88)" stroke="url(#a88)" d="M74.1 81.3Q93.9 78.8 113.7 47.3L111.1 47.4Q92.6 78.2 74.1 81.3z"/><linearGradient id="a89" href="#u" x1="74.1" y1="81.3" x2="101" y2="41.3"><stop offset="0" stop-color="#000"/><stop offset=".163" stop-color="#080808"/><stop offset=".383" stop-color="#212121"/><stop offset=".663" stop-color="#494949"/><stop offset="1" stop-color="#828282"/></linearGradient><path fill="url(#a89)" stroke="url(#a89)" d="M74.1 81.3Q92.6 78.2 111.1 47.4L108.7 47Q91.4 77.6 74.1 81.3z"/><linearGradient id="a90" href="#u" x1="74.1" y1="81.3" x2="96.1" y2="40.5"><stop offset="0" stop-color="#000"/><stop offset=".156" stop-color="#080808"/><stop offset=".374" stop-color="#202020"/><stop offset=".656" stop-color="#484848"/><stop offset="1" stop-color="#808080"/></linearGradient><path fill="url(#a90)" stroke="url(#a90)" d="M74.1 81.3Q91.4 77.6 108.7 47L106.2 46.1Q90.2 77 74.1 81.3z"/></g></g><g filter="url(#cm)"><g stroke-width="0.35" stroke-linejoin="round"><linearGradient id="a29" href="#u" x1="38.6" y1="62.7" x2="38.8" y2="62.5"><stop offset="0" stop-color="#6d6d6d"/><stop offset="1" stop-color="#909090"/></linearGradient><path fill="url(#a29)" stroke="url(#a29)" d="M37.4 61.2Q34.6 57.9 31.8 54.1L34.5 57.6Q37.1 61 39.7 64z"/><linearGradient id="a31" href="#u" x1="47.8" y1="72" x2="49.2" y2="70.5"><stop offset="0" stop-color="#404040"/><stop offset=".25" stop-color="#606060"/><stop offset="1" stop-color="#878787"/></linearGradient><path fill="url(#a31)" stroke="url(#a31)" d="M46.9 71.2Q40.7 65.8 34.5 57.6L37.1 60.2Q42.9 67.8 48.7 72.8z"/><linearGradient id="a33" href="#u" x1="53.6" y1="76.5" x2="55.9" y2="73"><stop offset="0" stop-color="#2b2b2b"/><stop offset=".251" stop-color="#515151"/><stop offset="1" stop-color="#828282"/></linearGradient><path fill="url(#a33)" stroke="url(#a33)" d="M52.9 76Q45 70.6 37.1 60.2L39.5 62.2Q46.9 72 54.3 76.9z"/><linearGradient id="a35" href="#u" x1="57.7" y1="78.9" x2="60.5" y2="73.6"><stop offset="0" stop-color="#1f1f1f"/><stop offset=".25" stop-color="#474747"/><stop offset="1" stop-color="#808080"/></linearGradient><path fill="url(#a35)" stroke="url(#a35)" d="M57.1 78.6Q48.3 73.8 39.5 62.2L41.9 63.6Q50.1 74.8 58.3 79.2z"/><linearGradient id="a37" href="#u" x1="60.7" y1="80.4" x2="63.9" y2="73.3"><stop offset="0" stop-color="#181818"/><stop offset=".063" stop-color="#2a2a2a"/><stop offset=".25" stop-color="#424242"/><stop offset=".563" stop-color="#5e5e5e"/><stop offset="1" stop-color="#808080"/></linearGradient><path fill="url(#a37)" stroke="url(#a37)" d="M60.2 80.2Q51.1 76.2 41.9 63.6L44.4 64.5Q52.8 76.9 61.2 80.6z"/><linearGradient id="a39" href="#u" x1="63.1" y1="81.4" x2="66.4" y2="72.3"><stop offset="0" stop-color="#131313"/><stop offset=".062" stop-color="#262626"/><stop offset=".25" stop-color="#3e3e3e"/><stop offset=".562" stop-color="#5d5d5d"/><stop offset="1" stop-color="#828282"/></linearGradient><path fill="url(#a39)" stroke="url(#a39)" d="M62.6 81.2Q53.5 77.9 44.4 64.5L46.8 64.9Q55.2 78.4 63.6 81.5z"/><linearGradient id="a41" href="#u" x1="65.1" y1="82" x2="68.4" y2="71"><stop offset="0" stop-color="#101010"/><stop offset=".062" stop-color="#232323"/><stop offset=".25" stop-color="#3d3d3d"/><stop offset=".562" stop-color="#5f5f5f"/><stop offset="1" stop-color="#878787"/></linearGradient><path fill="url(#a41)" stroke="url(#a41)" d="M64.7 81.9Q55.7 79.3 46.8 64.9L49.4 64.8Q57.5 79.6 65.5 82.2z"/><linearGradient id="a43" href="#u" x1="66.8" y1="82.5" x2="70" y2="69.2"><stop offset="0" stop-color="#0e0e0e"/><stop offset=".062" stop-color="#222"/><stop offset=".25" stop-color="#3e3e3e"/><stop offset=".562" stop-color="#636363"/><stop offset="1" stop-color="#909090"/></linearGradient><path fill="url(#a43)" stroke="url(#a43)" d="M66.4 82.4Q57.9 80.4 49.4 64.8L52.1 64Q59.6 80.6 67.2 82.6z"/><linearGradient id="a45" href="#u" x1="68.3" y1="82.8" x2="71.4" y2="66.8"><stop offset="0" stop-color="#0d0d0d"/><stop offset=".062" stop-color="#212121"/><stop offset=".25" stop-color="#404040"/><stop offset=".562" stop-color="#696969"/><stop offset="1" stop-color="#9c9c9c"/></linearGradient><path fill="url(#a45)" stroke="url(#a45)" d="M67.9 82.7Q60 81.3 52.1 64L55 62.4Q61.9 81.4 68.7 82.9z"/><linearGradient id="a47" href="#u" x1="69.6" y1="83.1" x2="72.6" y2="63.6"><stop offset="0" stop-color="#0b0b0b"/><stop offset=".063" stop-color="#222"/><stop offset=".25" stop-color="#454545"/><stop offset=".563" stop-color="#737373"/><stop offset="1" stop-color="#adadad"/></linearGradient><path fill="url(#a47)" stroke="url(#a47)" d="M69.2 83Q62.1 82.1 55 62.4L58.3 59.7Q64.2 82 70 83.1z"/><linearGradient id="a49" href="#u" x1="70.8" y1="83.2" x2="73.5" y2="59.4"><stop offset="0" stop-color="#0b0b0b"/><stop offset=".062" stop-color="#242424"/><stop offset=".25" stop-color="#4b4b4b"/><stop offset=".562" stop-color="#818181"/><stop offset="1" stop-color="#c6c6c6"/></linearGradient><path fill="url(#a49)" stroke="url(#a49)" d="M70.4 83.2Q64.4 82.7 58.3 59.7L62 55.5Q66.7 82.4 71.3 83.3z"/><linearGradient id="a51" href="#u" x1="72" y1="83.3" x2="74.2" y2="53.4"><stop offset="0" stop-color="#0a0a0a"/><stop offset=".062" stop-color="#272727"/><stop offset=".25" stop-color="#555"/><stop offset=".562" stop-color="#969696"/><stop offset="1" stop-color="#e8e8e8"/></linearGradient><path fill="url(#a51)" stroke="url(#a51)" d="M71.6 83.3Q66.8 83.2 62 55.5L66.4 49Q69.4 82.7 72.5 83.3z"/><linearGradient id="a53" href="#u" x1="73.1" y1="83.4" x2="74.3" y2="53.1"><stop offset="0" stop-color="#0a0a0a"/><stop offset=".063" stop-color="#262626"/><stop offset=".25" stop-color="#555"/><stop offset=".563" stop-color="#959595"/><stop offset="1" stop-color="#e8e8e8"/></linearGradient><path fill="url(#a53)" stroke="url(#a53)" d="M72.5 83.4Q69.5 82.8 66.4 49L72.2 56.1Q72.9 83.7 73.7 83.4z"/><linearGradient id="a55" href="#u" x1="74.2" y1="83.4" x2="74.3" y2="58.7"><stop offset="0" stop-color="#0a0a0a"/><stop offset=".062" stop-color="#222"/><stop offset=".25" stop-color="#4a4a4a"/><stop offset=".562" stop-color="#808080"/><stop offset="1" stop-color="#c6c6c6"/></linearGradient><path fill="url(#a55)" stroke="url(#a55)" d="M73.7 83.4Q72.9 83.1 72.2 56.1L77.1 60.8Q75.9 83.6 74.8 83.4z"/><linearGradient id="a57" href="#u" x1="75.3" y1="83.4" x2="74.6" y2="62.6"><stop offset="0" stop-color="#0a0a0a"/><stop offset=".062" stop-color="#202020"/><stop offset=".25" stop-color="#434343"/><stop offset=".562" stop-color="#727272"/><stop offset="1" stop-color="#adadad"/></linearGradient><path fill="url(#a57)" stroke="url(#a57)" d="M74.8 83.4Q75.9 83.2 77.1 60.8L81.4 63.9Q78.6 83.4 75.8 83.4z"/><linearGradient id="a59" href="#u" x1="76.5" y1="83.3" x2="75.2" y2="65.5"><stop offset="0" stop-color="#0a0a0a"/><stop offset=".063" stop-color="#1f1f1f"/><stop offset=".25" stop-color="#3e3e3e"/><stop offset=".563" stop-color="#676767"/><stop offset="1" stop-color="#9c9c9c"/></linearGradient><path fill="url(#a59)" stroke="url(#a59)" d="M76 83.4Q78.7 83 81.4 63.9L85.2 65.8Q81.1 83.1 77 83.3z"/><linearGradient id="a61" href="#u" x1="77.7" y1="83.2" x2="76" y2="67.7"><stop offset="0" stop-color="#0b0b0b"/><stop offset=".062" stop-color="#1e1e1e"/><stop offset=".25" stop-color="#3a3a3a"/><stop offset=".562" stop-color="#606060"/><stop offset="1" stop-color="#909090"/></linearGradient><path fill="url(#a61)" stroke="url(#a61)" d="M77.2 83.3Q81.2 82.7 85.2 65.8L88.8 67Q83.5 82.7 78.1 83.2z"/><linearGradient id="a63" href="#u" x1="78.9" y1="83.1" x2="76.8" y2="69.3"><stop offset="0" stop-color="#0c0c0c"/><stop offset=".062" stop-color="#1e1e1e"/><stop offset=".25" stop-color="#393939"/><stop offset=".562" stop-color="#5c5c5c"/><stop offset="1" stop-color="#878787"/></linearGradient><path fill="url(#a63)" stroke="url(#a63)" d="M78.4 83.1Q83.6 82.3 88.8 67L92.2 67.4Q85.8 82.1 79.4 83z"/><linearGradient id="a65" href="#u" x1="80.3" y1="82.8" x2="77.9" y2="70.6"><stop offset="0" stop-color="#0d0d0d"/><stop offset=".063" stop-color="#1f1f1f"/><stop offset=".25" stop-color="#383838"/><stop offset=".563" stop-color="#595959"/><stop offset="1" stop-color="#828282"/></linearGradient><path fill="url(#a65)" stroke="url(#a65)" d="M79.8 82.9Q86 81.6 92.2 67.4L95.4 67.4Q88.1 81.3 80.8 82.7z"/><linearGradient id="a67" href="#u" x1="81.8" y1="82.5" x2="79.1" y2="71.5"><stop offset="0" stop-color="#0f0f0f"/><stop offset=".063" stop-color="#202020"/><stop offset=".25" stop-color="#393939"/><stop offset=".563" stop-color="#595959"/><stop offset="1" stop-color="#808080"/></linearGradient><path fill="url(#a67)" stroke="url(#a67)" d="M81.3 82.6Q88.3 80.9 95.4 67.4L98.5 66.8Q90.5 80.4 82.4 82.3z"/><linearGradient id="a69" href="#u" x1="83.6" y1="82" x2="80.6" y2="72.1"><stop offset="0" stop-color="#111"/><stop offset=".063" stop-color="#232323"/><stop offset=".25" stop-color="#3b3b3b"/><stop offset=".563" stop-color="#5a5a5a"/><stop offset="1" stop-color="#808080"/></linearGradient><path fill="url(#a69)" stroke="url(#a69)" d="M83 82.2Q90.8 79.8 98.5 66.8L101.7 65.6Q92.9 79.1 84.1 81.8z"/><linearGradient id="a71" href="#u" x1="85.6" y1="81.3" x2="82.4" y2="72.6"><stop offset="0" stop-color="#141414"/><stop offset=".063" stop-color="#272727"/><stop offset=".25" stop-color="#3f3f3f"/><stop offset=".563" stop-color="#5e5e5e"/><stop offset="1" stop-color="#828282"/></linearGradient><path fill="url(#a71)" stroke="url(#a71)" d="M85 81.5Q93.4 78.5 101.7 65.6L104.9 64Q95.6 77.6 86.3 81.1z"/><linearGradient id="a73" href="#u" x1="88.2" y1="80.3" x2="84.8" y2="72.7"><stop offset="0" stop-color="#191919"/><stop offset=".063" stop-color="#2d2d2d"/><stop offset=".25" stop-color="#464646"/><stop offset=".563" stop-color="#646464"/><stop offset="1" stop-color="#878787"/></linearGradient><path fill="url(#a73)" stroke="url(#a73)" d="M87.4 80.6Q96.2 76.7 104.9 64L108.3 61.7Q98.6 75.5 88.9 79.9z"/><linearGradient id="a75" href="#u" x1="91.4" y1="78.6" x2="88" y2="72.5"><stop offset="0" stop-color="#212121"/><stop offset=".25" stop-color="#4f4f4f"/><stop offset="1" stop-color="#909090"/></linearGradient><path fill="url(#a75)" stroke="url(#a75)" d="M90.6 79.1Q99.4 74.3 108.3 61.7L111.9 58.6Q102.1 72.5 92.3 78.1z"/><linearGradient id="a77" href="#u" x1="95.8" y1="75.9" x2="92.6" y2="71.4"><stop offset="0" stop-color="#2f2f2f"/><stop offset=".249" stop-color="#5d5d5d"/><stop offset="1" stop-color="#9c9c9c"/></linearGradient><path fill="url(#a77)" stroke="url(#a77)" d="M94.7 76.6Q103.3 70.8 111.9 58.6L115.7 54.5Q106.3 68.3 96.8 75.1z"/><linearGradient id="a79" href="#u" x1="102.2" y1="70.7" x2="100" y2="68.2"><stop offset="0" stop-color="#484848"/><stop offset=".251" stop-color="#757575"/><stop offset="1" stop-color="#adadad"/></linearGradient><path fill="url(#a79)" stroke="url(#a79)" d="M100.9 71.9Q108.3 65.4 115.7 54.5L120 49.1Q111.9 61.6 103.7 69.4z"/><linearGradient id="a81" href="#u" x1="112.9" y1="59.2" x2="112.1" y2="58.6"><stop offset="0" stop-color="#7f7f7f"/><stop offset="1" stop-color="#c6c6c6"/></linearGradient><path fill="url(#a81)" stroke="url(#a81)" d="M111 61.5Q115.5 56 120 49.1L124.9 41.7Q119.9 50 114.9 56.6z"/></g></g></g><text x="69" y="107.8">-100</text><text x="85.1" y="103.4">-50</text><text x="101.1" y="99">0</text><text x="117.2" y="94.6">50</text><text x="133.3" y="90.2">100</text><text x="63.4" y="107.1" text-anchor="end">-100</text><text x="51.2" y="101.1" text-anchor="end">-50</text><text x="39" y="95.2" text-anchor="end">0</text><text x="26.7" y="89.2" text-anchor="end">50</text><text x="14.5" y="83.3" text-anchor="end">100</text><text x="14.7" y="79" text-anchor="end">0</text><text x="14.7" y="65.8" text-anchor="end">0.5</text><text x="14.7" y="52.5" text-anchor="end">1</text><text x="14.7" y="39.2" text-anchor="end">1.5</text><text x="14.7" y="26" text-anchor="end">2</text><text class="tt" x="74.1" y="6.1" text-anchor="middle">F1 Parameter space</text><text x="97" y="109.5" text-anchor="middle">x<tspan class="u" dy=".9">1</tspan></text><text x="39.9" y="108" text-anchor="middle">x<tspan class="u" dy=".9">2</tspan></text><text text-anchor="middle" transform="translate(5.9 51.7) rotate(-90)">F1( x<tspan class="u" dy=".9">1</tspan><tspan dy="-.9"> , x</tspan><tspan class="u" dy=".9">2</tspan><tspan dy="-.9"> )</tspan></text><text x="8.7" y="19.2">×10<tspan class="u" dy="-1.4">4</tspan></text></g>
<g class="p"><g class="k"><path class="g" d="M206.2 104L157.5 79.5M157.5 79.5L157.5 26.5M221.2 99.4L172.5 74.9M172.5 74.9L172.5 21.9M236.2 94.8L187.5 70.3M187.5 70.3L187.5 17.3M251.2 90.3L202.5 65.8M202.5 65.8L202.5 12.8M266.2 85.7L217.5 61.2M217.5 61.2L217.5 8.2M206.2 104L266.2 85.7M266.2 85.7L266.2 32.7M194 97.9L254 79.6M254 79.6L254 26.6M181.8 91.8L241.8 73.5M241.8 73.5L241.8 20.5M169.7 85.6L229.7 67.3M229.7 67.3L229.7 14.3M157.5 79.5L217.5 61.2M217.5 61.2L217.5 8.2M157.5 79.5L217.5 61.2M217.5 61.2L266.2 85.7M157.5 68.9L217.5 50.6M217.5 50.6L266.2 75.1M157.5 58.3L217.5 40M217.5 40L266.2 64.5M157.5 47.7L217.5 29.4M217.5 29.4L266.2 53.9M157.5 37.1L217.5 18.8M217.5 18.8L266.2 43.3M157.5 26.5L217.5 8.2M217.5 8.2L266.2 32.7"/><path class="b" d="M206.2 104L266.2 85.7M206.2 104L157.5 79.5M266.2 85.7L217.5 61.2M157.5 79.5L217.5 61.2M157.5 79.5L157.5 26.5M217.5 61.2L217.5 8.2M266.2 85.7L266.2 32.7M157.5 26.5L217.5 8.2M217.5 8.2L266.2 32.7M206.2 104L206.7 105.2M221.2 99.4L221.7 100.6M236.2 94.8L236.7 96M251.2 90.3L251.7 91.5M266.2 85.7L266.7 86.9M206.2 104L205.6 105.2M194 97.9L193.4 99.1M181.8 91.8L181.2 93M169.7 85.6L169.1 86.8M157.5 79.5L156.9 80.7M157.5 79.5L156.2 79.5M157.5 68.9L156.2 68.9M157.5 58.3L156.2 58.3M157.5 47.7L156.2 47.7M157.5 37.1L156.2 37.1M157.5 26.5L156.2 26.5"/><g class="c" stroke-width="0.4"><path stroke="#2333d0" d="M233.5 95.7l-.7-.3-.6-.3-.7-.3-.7-.3-.7-.2-.7-.3-.8-.3-.7-.3-.7-.2-.7-.3-.8-.3-.7-.2-.8-.3-.8-.2-.8-.3-.8-.2-.8-.3-.8-.2-.7-.2-1.1-.3-.9-.2-.9-.2-1-.2-1-.2-1.1-.1-1.2-.2-1.2-.1-1.3-.1-1.5 0-1.6 0-1.1 0-1.1 .1-1.1 .1-1 .1-1 .1-1 .1-.9 .1-1 .1-.9 .2-.9 .1-.9 .2-.9 .1-.9 .2-.8 .2-.9 .2-.8 .1-.9 .2-.8 .2-.9 .2-.8 .2-.8 .2-.8 .2-.9 .1-.8 .2-.8 .2M244 74.5l-.7 .3-.7 .3-.6 .2-.7 .3-.7 .3-.7 .2-.6 .3-.7 .3-.6 .2-.7 .3-.6 .3-.7 .3-.6 .3-.6 .3-.6 .3-.6 .3-.6 .3-.5 .3-.6 .4-.5 .3-.5 .4-.5 .3-.4 .4-.4 .4-.7 .9-.4 .7-.1 .9 .2 1.1 .4 .8 .6 .8 .4 .5 .7 .7 .6 .6 .6 .5 .9 .7 .5 .3 .5 .4 .4 .3 .5 .4 .5 .3 .5 .3 .5 .4 .6 .3 .5 .3 .5 .4 .5 .3 .6 .3M179.7 90.7l.7-.3 .7-.3 .6-.2 .7-.3 .7-.3 .7-.2 .6-.3 .7-.3 .6-.2 .7-.3 .6-.3 .7-.3 .6-.3 .6-.3 .6-.3 .6-.3 .6-.3 .5-.3 .6-.4 .5-.3 .5-.4 .5-.3 .4-.4 .4-.4 .7-.9 .4-.7 .1-.9-.2-1.1-.4-.8-.6-.8-.4-.5-.7-.7-.6-.6-.6-.5-.9-.7-.5-.3-.5-.4-.4-.3-.5-.4-.5-.3-.5-.3-.5-.4-.6-.3-.5-.3-.5-.4-.5-.3-.6-.3M190.2 69.5l.7 .3 .6 .3 .7 .3 .7 .3 .7 .2 .7 .3 .8 .3 .7 .3 .7 .2 .7 .3 .8 .3 .7 .2 .8 .3 .8 .2 .8 .3 .8 .2 .8 .3 .8 .2 .7 .2 1.1 .3 .9 .2 .9 .2 1 .2 1 .2 1.1 .1 1.2 .2 1.2 .1 1.3 .1 1.5 0 1.6 0 1.1 0 1.1-.1 1.1-.1 1-.1 1-.1 1-.1 .9-.1 1-.1 .9-.2 .9-.1 .9-.2 .9-.1 .9-.2 .8-.2 .9-.2 .8-.1 .9-.2 .8-.2 .9-.2 .8-.2 .8-.2 .8-.2 .9-.1 .8-.2 .8-.2"/><path stroke="#0e68ff" d="M230.6 96.6l-.8-.3-.8-.2-.7-.3-.8-.3-.8-.2-.8-.3-.9-.2-.8-.2-.8-.3-.9-.2-.9-.2-.9-.2-.9-.2-.9-.3-1-.2-1-.1-1-.2-1.1-.2-1.1-.1-1.1-.2-1.1-.1-1.4-.1-1.4-.1-1.3 0-1.2 0-1.2 0-1 0-1.3 0-1.1 .1-1.1 .1-1 0-1 .1-1 .1-1 .1-1 .2-.9 .1-1 .1-.9 .2-.9 .1-.9 .2-.9 .1-.9 .2-.9 .1-.9 .2-.9 .2M246.4 75.8l-.6 .2-.6 .3-.6 .3-.6 .3-.6 .3-.6 .4-.6 .3-.6 .3-.5 .3-.6 .3-.5 .4-.5 .3-.5 .4-.5 .3-.5 .4-.4 .4-.4 .4-.5 .5-.4 .6-.4 .6-.3 1.1-.1 1 .1 .9 .3 .7 .3 .7 .5 .8 .7 .8 .4 .5 .6 .6 .7 .6 .5 .5 .9 .8 .9 .7 .4 .3M177.3 89.4l.6-.2 .6-.3 .6-.3 .6-.3 .6-.3 .6-.4 .6-.3 .6-.3 .5-.3 .6-.3 .5-.4 .5-.3 .5-.4 .5-.3 .5-.4 .4-.4 .4-.4 .5-.5 .4-.6 .4-.6 .3-1.1 .1-1-.1-.9-.3-.7-.3-.7-.5-.8-.7-.8-.4-.5-.6-.6-.7-.6-.5-.5-.9-.8-.9-.7-.4-.3M193.1 68.6l.8 .3 .8 .2 .7 .3 .8 .3 .8 .2 .8 .3 .9 .2 .8 .2 .8 .3 .9 .2 .9 .2 .9 .2 .9 .2 .9 .3 1 .2 1 .1 1 .2 1.1 .2 1.1 .1 1.1 .2 1.1 .1 1.4 .1 1.4 .1 1.3 0 1.2 0 1.2 0 1 0 1.3 0 1.1-.1 1.1-.1 1 0 1-.1 1-.1 1-.1 1-.2 .9-.1 1-.1 .9-.2 .9-.1 .9-.2 .9-.1 .9-.2 .9-.1 .9-.2 .9-.2"/><path stroke="#00d2ff" d="M227.6 97.5l-.8-.3-.9-.2-.9-.2-.8-.2-.9-.3-.9-.2-.9-.2-1-.2-.9-.2-1-.2-1-.2-1.1-.1-.8-.2-1.4-.2-1.1-.1-.8-.1-1.5-.1-1.4-.1-1.3-.1-1.4-.1-1.2 0-1.2 0-.9 0-1.5 0-1.1 .1-1 0-1.2 .1-.8 0-1.3 .1-.9 .1-1.1 .1-1 .1-1 .2-.9 .1-1 .1-.9 .1-1 .2M248.8 77l-.5 .3-.6 .3-.5 .3-.6 .4-.5 .3-.5 .4-.5 .3-.5 .4-.4 .4-.5 .4-.4 .3-.4 .5-.7 .8-.5 .7-.3 .6-.4 1.1-.1 1 .1 .9 .2 .6 .2 .8 .4 .8 .3 .5 .6 .8 .5 .6 .5 .6 .5 .5 .6 .6M174.9 88.2l.5-.3 .6-.3 .5-.3 .6-.4 .5-.3 .5-.4 .5-.3 .5-.4 .4-.4 .5-.4 .4-.3 .4-.5 .7-.8 .5-.7 .3-.6 .4-1.1 .1-1-.1-.9-.2-.6-.2-.8-.4-.8-.3-.5-.6-.8-.5-.6-.5-.6-.5-.5-.6-.6M196.1 67.7l.8 .3 .9 .2 .9 .2 .8 .2 .9 .3 .9 .2 .9 .2 1 .2 .9 .2 1 .2 1 .2 1.1 .1 .8 .2 1.4 .2 1.1 .1 .8 .1 1.5 .1 1.4 .1 1.3 .1 1.4 .1 1.2 0 1.2 0 .9 0 1.5 0 1.1-.1 1 0 1.2-.1 .8 0 1.3-.1 .9-.1 1.1-.1 1-.1 1-.2 .9-.1 1-.1 .9-.1 1-.2"/><path stroke="#00ffac" d="M224.6 98.4l-.9-.2-.9-.2-1-.2-.9-.2-1-.2-1-.2-1-.2-1.1-.2-1.1-.1-1.1-.2-1.1-.1-1-.1-1.4-.2-1.3-.1-1.3-.1-1.4 0-1.5-.1-1.3 0-1.2 0-1.2 0-1.1 0-1.2 0-1.1 .1-1.1 .1-1 0-1.1 .1-1 .1-1 .1-1.1 .1-.9 .1M251.3 78.2l-.6 .3-.4 .4-.5 .4-.5 .3-.4 .4-.5 .4-.4 .4-.7 .8-.5 .7-.4 .6-.3 .6-.3 .5-.2 1-.1 1.1 .1 1 .2 .9 .4 .8 .5 .9 .5 .8 .6 .8M172.4 87l.6-.3 .4-.4 .5-.4 .5-.3 .4-.4 .5-.4 .4-.4 .7-.8 .5-.7 .4-.6 .3-.6 .3-.5 .2-1 .1-1.1-.1-1-.2-.9-.4-.8-.5-.9-.5-.8-.6-.8M199.1 66.8l.9 .2 .9 .2 1 .2 .9 .2 1 .2 1 .2 1 .2 1.1 .2 1.1 .1 1.1 .2 1.1 .1 1 .1 1.4 .2 1.3 .1 1.3 .1 1.4 0 1.5 .1 1.3 0 1.2 0 1.2 0 1.1 0 1.2 0 1.1-.1 1.1-.1 1 0 1.1-.1 1-.1 1-.1 1.1-.1 .9-.1"/><path stroke="#51ff28" d="M221.6 99.3l-.9-.2-1-.2-1.1-.2-1-.1-.7-.2-1.5-.2-1.1-.1-1.2-.1-1.1-.2-1.3-.1-1.3-.1-1.3-.1-1.4 0-1.5-.1-1.3 0-1.3 0-1.2 0-.9 0-1.4 0-1.1 0-1.1 .1-1.1 .1-.9 0-1.2 .1M253.7 79.4l-.5 .4-.4 .4-.4 .4-.4 .4-.7 .8-.5 .7-.4 .6-.3 .6-.2 .6-.3 .9-.1 1.2 .1 .9 .2 .9 .3 .9 .4 .8M170 85.8l.5-.4 .4-.4 .4-.4 .4-.4 .7-.8 .5-.7 .4-.6 .3-.6 .2-.6 .3-.9 .1-1.2-.1-.9-.2-.9-.3-.9-.4-.8M202.1 65.9l.9 .2 1 .2 1.1 .2 1 .1 .7 .2 1.5 .2 1.1 .1 1.2 .1 1.1 .2 1.3 .1 1.3 .1 1.3 .1 1.4 0 1.5 .1 1.3 0 1.3 0 1.2 0 .9 0 1.4 0 1.1 0 1.1-.1 1.1-.1 .9 0 1.2-.1"/><path stroke="#c1ff00" d="M218.7 100.2l-1.1-.2-1.1-.1-1.1-.2-1.1-.1-1.2-.2-1.2-.1-1.2-.1-1-.1-1.4-.1-1.3-.1-1.4 0-1.2-.1-1.3 0-.8 0-1.6 0-1.2 0-1.2 0-1.1 .1-1.1 0M256.1 80.6l-.4 .4-.6 .7-.4 .6-.4 .6-.3 .6-.3 .6-.2 .7-.2 .9-.1 1 0 1 .2 .9 .3 .9M167.6 84.6l.4-.4 .6-.7 .4-.6 .4-.6 .3-.6 .3-.6 .2-.7 .2-.9 .1-1 0-1-.2-.9-.3-.9M205 65l1.1 .2 1.1 .1 1.1 .2 1.1 .1 1.2 .2 1.2 .1 1.2 .1 1 .1 1.4 .1 1.3 .1 1.4 0 1.2 .1 1.3 0 .8 0 1.6 0 1.2 0 1.2 0 1.1-.1 1.1 0"/><path stroke="#ffb601" d="M215.7 101.1l-1.1-.1-1.2-.2-1.2-.1-1.2-.1-.9-.1-1.4-.1-1.4-.1-1.4-.1-1.3 0-1.3-.1-1.2 0-.9 0-1.5 0-1.2 0M258.5 81.8l-.6 .9-.5 .8-.2 .5-.3 .7-.2 1-.2 1 .1 .8 .1 1.1M165.2 83.4l.6-.9 .5-.8 .2-.5 .3-.7 .2-1 .2-1-.1-.8-.1-1.1M208 64.1l1.1 .1 1.2 .2 1.2 .1 1.2 .1 .9 .1 1.4 .1 1.4 .1 1.4 .1 1.3 0 1.3 .1 1.2 0 .9 0 1.5 0 1.2 0"/><path stroke="#ff6800" d="M212.7 102l-1-.1-1.4-.1-1.3-.1-1.3-.1-1.4-.1-1.4-.1-1.4 0-1.4-.1-1.2 0M260.9 83l-.5 1-.2 .6-.3 .9-.2 1.2 0 1M162.8 82.2l.5-1 .2-.6 .3-.9 .2-1.2 0-1M211 63.2l1 .1 1.4 .1 1.3 .1 1.3 .1 1.4 .1 1.4 .1 1.4 0 1.4 .1 1.2 0"/><path stroke="#ee3400" d="M209.8 102.9l-1.1-.1-1.4-.1-1.4 0-1.3-.1-1.3-.1M263.3 84.2l-.3 1-.3 1.1M160.4 81l.3-1 .3-1.1M213.9 62.3l1.1 .1 1.4 .1 1.4 0 1.3 .1 1.3 .1"/></g><g filter="url(#cm)"><defs><linearGradient id="b91" href="#u" x1="188.3" y1="70.2" x2="197.5" y2="4.4"><stop offset="0" stop-color="#020202"/><stop offset="1" stop-color="#fff"/></linearGradient></defs><path fill="url(#b91)" stroke="url(#b91)" stroke-width=".3" d="M188.3 70.2l30-61-.8-2.1-30 62.7z"/><defs><linearGradient id="b92" href="#u" x1="188.3" y1="70.2" x2="163.8" y2="22.8"><stop offset="0" stop-color="#020202"/><stop offset="1" stop-color="#fff"/></linearGradient></defs><path fill="url(#b92)" stroke="url(#b92)" stroke-width=".3" d="M158.3 27.5l30 42.7-.8-.4-30-44.4z"/><defs><linearGradient id="b93" href="#u" x1="189" y1="70.6" x2="197.6" y2="6.5"><stop offset="0" stop-color="#020202"/><stop offset="1" stop-color="#f7f7f7"/></linearGradient></defs><path fill="url(#b93)" stroke="url(#b93)" stroke-width=".3" d="M189 70.6l30-59.3-.7-2.1-30 61z"/><defs><linearGradient id="b94" href="#u" x1="189" y1="70.6" x2="162.6" y2="25.6"><stop offset="0" stop-color="#020202"/><stop offset="1" stop-color="#f7f7f7"/></linearGradient></defs><path fill="url(#b94)" stroke="url(#b94)" stroke-width=".3" d="M159 29.6l30 41-.7-.4-30-42.7z"/><defs><linearGradient id="b95" href="#u" x1="189.8" y1="71" x2="197.6" y2="8.6"><stop offset="0" stop-color="#020202"/><stop offset="1" stop-color="#efefef"/></linearGradient></defs><path fill="url(#b95)" stroke="url(#b95)" stroke-width=".3" d="M189.8 71l30-57.7-.8-2-30 59.3z"/><defs><linearGradient id="b96" href="#u" x1="189.8" y1="71" x2="161.9" y2="28.3"><stop offset="0" stop-color="#020202"/><stop offset="1" stop-color="#efefef"/></linearGradient></defs><path fill="url(#b96)" stroke="url(#b96)" stroke-width=".3" d="M159.8 31.6l30 39.4-.8-.4-30-41z"/><defs><linearGradient id="b97" href="#u" x1="190.5" y1="71.4" x2="197.7" y2="10.8"><stop offset="0" stop-color="#020202"/><stop offset="1" stop-color="#e7e7e7"/></linearGradient></defs><path fill="url(#b97)" stroke="url(#b97)" stroke-width=".3" d="M190.5 71.4l30-56-.7-2.1-30 57.7z"/><defs><linearGradient id="b98" href="#u" x1="190.5" y1="71.4" x2="161.7" y2="31"><stop offset="0" stop-color="#020202"/><stop offset="1" stop-color="#e7e7e7"/></linearGradient></defs><path fill="url(#b98)" stroke="url(#b98)" stroke-width=".3" d="M160.5 33.7l30 37.7-.7-.4-30-39.4z"/><defs><linearGradient id="b99" href="#u" x1="191.3" y1="71.8" x2="197.8" y2="12.9"><stop offset="0" stop-color="#020202"/><stop offset="1" stop-color="#dfdfdf"/></linearGradient></defs><path fill="url(#b99)" stroke="url(#b99)" stroke-width=".3" d="M191.3 71.8l30-54.4-.8-2-30 56z"/><defs><linearGradient id="b100" href="#u" x1="191.3" y1="71.8" x2="161.8" y2="33.4"><stop offset="0" stop-color="#020202"/><stop offset="1" stop-color="#dfdfdf"/></linearGradient></defs><path fill="url(#b100)" stroke="url(#b100)" stroke-width=".3" d="M161.3 35.7l30 36.1-.8-.4-30-37.7z"/><defs><linearGradient id="b101" href="#u" x1="192.1" y1="72.2" x2="197.9" y2="15.1"><stop offset="0" stop-color="#020202"/><stop offset="1" stop-color="#d8d8d8"/></linearGradient></defs><path fill="url(#b101)" stroke="url(#b101)" stroke-width=".3" d="M192.1 72.2l30-52.7-.8-2.1-30 54.4z"/><defs><linearGradient id="b102" href="#u" x1="192.1" y1="72.2" x2="162.2" y2="35.7"><stop offset="0" stop-color="#020202"/><stop offset="1" stop-color="#d8d8d8"/></linearGradient></defs><path fill="url(#b102)" stroke="url(#b102)" stroke-width=".3" d="M162.1 37.8l30 34.4-.8-.4-30-36.1z"/><defs><linearGradient id="b103" href="#u" x1="192.8" y1="72.6" x2="198" y2="17.3"><stop offset="0" stop-color="#020202"/><stop offset="1" stop-color="#d0d0d0"/></linearGradient></defs><path fill="url(#b103)" stroke="url(#b103)" stroke-width=".3" d="M192.8 72.6l30-51.1-.7-2-30 52.7z"/><defs><linearGradient id="b104" href="#u" x1="192.8" y1="72.6" x2="163" y2="37.7"><stop offset="0" stop-color="#020202"/><stop offset="1" stop-color="#d0d0d0"/></linearGradient></defs><path fill="url(#b104)" stroke="url(#b104)" stroke-width=".3" d="M162.8 39.8l30 32.8-.7-.4-30-34.4z"/><defs><linearGradient id="b105" href="#u" x1="193.6" y1="73" x2="198.1" y2="19.5"><stop offset="0" stop-color="#020202"/><stop offset="1" stop-color="#c8c8c8"/></linearGradient></defs><path fill="url(#b105)" stroke="url(#b105)" stroke-width=".3" d="M193.6 73l30-49.4-.8-2.1-30 51.1z"/><defs><linearGradient id="b106" href="#u" x1="193.6" y1="73" x2="163.9" y2="39.5"><stop offset="0" stop-color="#020202"/><stop offset="1" stop-color="#c8c8c8"/></linearGradient></defs><path fill="url(#b106)" stroke="url(#b106)" stroke-width=".3" d="M163.6 41.9l30 31.1-.8-.4-30-32.8z"/><defs><linearGradient id="b107" href="#u" x1="194.3" y1="73.4" x2="198.3" y2="21.7"><stop offset="0" stop-color="#020202"/><stop offset="1" stop-color="#c0c0c0"/></linearGradient></defs><path fill="url(#b107)" stroke="url(#b107)" stroke-width=".3" d="M194.3 73.4l30-47.8-.7-2-30 49.4z"/><defs><linearGradient id="b108" href="#u" x1="194.3" y1="73.4" x2="165.1" y2="41.2"><stop offset="0" stop-color="#020202"/><stop offset="1" stop-color="#c0c0c0"/></linearGradient></defs><path fill="url(#b108)" stroke="url(#b108)" stroke-width=".3" d="M164.3 43.9l30 29.5-.7-.4-30-31.1z"/><defs><linearGradient id="b109" href="#u" x1="195.1" y1="73.8" x2="198.4" y2="24"><stop offset="0" stop-color="#020202"/><stop offset="1" stop-color="#b8b8b8"/></linearGradient></defs><path fill="url(#b109)" stroke="url(#b109)" stroke-width=".3" d="M195.1 73.8l30-46.1-.8-2.1-30 47.8z"/><defs><linearGradient id="b110" href="#u" x1="195.1" y1="73.8" x2="166.4" y2="42.7"><stop offset="0" stop-color="#020202"/><stop offset="1" stop-color="#b8b8b8"/></linearGradient></defs><path fill="url(#b110)" stroke="url(#b110)" stroke-width=".3" d="M165.1 46l30 27.8-.8-.4-30-29.5z"/><defs><linearGradient id="b111" href="#u" x1="195.9" y1="74.2" x2="198.6" y2="26.3"><stop offset="0" stop-color="#020202"/><stop offset="1" stop-color="#b0b0b0"/></linearGradient></defs><path fill="url(#b111)" stroke="url(#b111)" stroke-width=".3" d="M195.9 74.2l30-44.4-.8-2.1-30 46.1z"/><defs><linearGradient id="b112" href="#u" x1="195.9" y1="74.2" x2="167.9" y2="44"><stop offset="0" stop-color="#020202"/><stop offset="1" stop-color="#b0b0b0"/></linearGradient></defs><path fill="url(#b112)" stroke="url(#b112)" stroke-width=".3" d="M165.9 48.1l30 26.1-.8-.4-30-27.8z"/><defs><linearGradient id="b113" href="#u" x1="196.6" y1="74.6" x2="198.8" y2="28.6"><stop offset="0" stop-color="#020202"/><stop offset="1" stop-color="#a8a8a8"/></linearGradient></defs><path fill="url(#b113)" stroke="url(#b113)" stroke-width=".3" d="M196.6 74.6l30-42.8-.7-2-30 44.4z"/><defs><linearGradient id="b114" href="#u" x1="196.6" y1="74.6" x2="169.6" y2="45.3"><stop offset="0" stop-color="#020202"/><stop offset="1" stop-color="#a8a8a8"/></linearGradient></defs><path fill="url(#b114)" stroke="url(#b114)" stroke-width=".3" d="M166.6 50.1l30 24.5-.7-.4-30-26.1z"/><defs><linearGradient id="b115" href="#u" x1="197.4" y1="75" x2="199" y2="30.9"><stop offset="0" stop-color="#010101"/><stop offset="1" stop-color="#a0a0a0"/></linearGradient></defs><path fill="url(#b115)" stroke="url(#b115)" stroke-width=".3" d="M197.4 75l30-41.1-.8-2.1-30 42.8z"/><defs><linearGradient id="b116" href="#u" x1="197.4" y1="75" x2="171.3" y2="46.4"><stop offset="0" stop-color="#010101"/><stop offset="1" stop-color="#a0a0a0"/></linearGradient></defs><path fill="url(#b116)" stroke="url(#b116)" stroke-width=".3" d="M167.4 52.2l30 22.8-.8-.4-30-24.5z"/><defs><linearGradient id="b117" href="#u" x1="198.2" y1="75.4" x2="199.2" y2="33.3"><stop offset="0" stop-color="#010101"/><stop offset="1" stop-color="#989898"/></linearGradient></defs><path fill="url(#b117)" stroke="url(#b117)" stroke-width=".3" d="M198.2 75.4l30-39.5-.8-2-30 41.1z"/><defs><linearGradient id="b118" href="#u" x1="198.2" y1="75.4" x2="173.2" y2="47.5"><stop offset="0" stop-color="#010101"/><stop offset="1" stop-color="#989898"/></linearGradient></defs><path fill="url(#b118)" stroke="url(#b118)" stroke-width=".3" d="M168.2 54.2l30 21.2-.8-.4-30-22.8z"/><defs><linearGradient id="b119" href="#u" x1="198.9" y1="75.8" x2="199.4" y2="35.7"><stop offset="0" stop-color="#010101"/><stop offset="1" stop-color="#919191"/></linearGradient></defs><path fill="url(#b119)" stroke="url(#b119)" stroke-width=".3" d="M198.9 75.8l30-37.8-.7-2.1-30 39.5z"/><defs><linearGradient id="b120" href="#u" x1="198.9" y1="75.8" x2="175.2" y2="48.6"><stop offset="0" stop-color="#010101"/><stop offset="1" stop-color="#919191"/></linearGradient></defs><path fill="url(#b120)" stroke="url(#b120)" stroke-width=".3" d="M168.9 56.3l30 19.5-.7-.4-30-21.2z"/><defs><linearGradient id="b121" href="#u" x1="199.7" y1="76.2" x2="199.7" y2="38.1"><stop offset="0" stop-color="#010101"/><stop offset="1" stop-color="#898989"/></linearGradient></defs><path fill="url(#b121)" stroke="url(#b121)" stroke-width=".3" d="M199.7 76.2l30-36.2-.8-2-30 37.8z"/><defs><linearGradient id="b122" href="#u" x1="199.7" y1="76.2" x2="177.2" y2="49.7"><stop offset="0" stop-color="#010101"/><stop offset="1" stop-color="#898989"/></linearGradient></defs><path fill="url(#b122)" stroke="url(#b122)" stroke-width=".3" d="M169.7 58.3l30 17.9-.8-.4-30-19.5z"/><defs><linearGradient id="b123" href="#u" x1="200.4" y1="76.6" x2="200" y2="40.5"><stop offset="0" stop-color="#010101"/><stop offset="1" stop-color="#818181"/></linearGradient></defs><path fill="url(#b123)" stroke="url(#b123)" stroke-width=".3" d="M200.4 76.6l30-34.5-.7-2.1-30 36.2z"/><defs><linearGradient id="b124" href="#u" x1="200.4" y1="76.6" x2="179.4" y2="50.9"><stop offset="0" stop-color="#010101"/><stop offset="1" stop-color="#818181"/></linearGradient></defs><path fill="url(#b124)" stroke="url(#b124)" stroke-width=".3" d="M170.4 60.4l30 16.2-.7-.4-30-17.9z"/><defs><linearGradient id="b125" href="#u" x1="201.2" y1="77" x2="200.3" y2="43"><stop offset="0" stop-color="#010101"/><stop offset="1" stop-color="#797979"/></linearGradient></defs><path fill="url(#b125)" stroke="url(#b125)" stroke-width=".3" d="M201.2 77l30-32.9-.8-2-30 34.5z"/><defs><linearGradient id="b126" href="#u" x1="201.2" y1="77" x2="181.6" y2="52.1"><stop offset="0" stop-color="#010101"/><stop offset="1" stop-color="#797979"/></linearGradient></defs><path fill="url(#b126)" stroke="url(#b126)" stroke-width=".3" d="M171.2 62.4l30 14.6-.8-.4-30-16.2z"/><defs><linearGradient id="b127" href="#u" x1="202" y1="77.4" x2="200.7" y2="45.4"><stop offset="0" stop-color="#010101"/><stop offset="1" stop-color="#717171"/></linearGradient></defs><path fill="url(#b127)" stroke="url(#b127)" stroke-width=".3" d="M202 77.4l30-31.2-.8-2.1-30 32.9z"/><defs><linearGradient id="b128" href="#u" x1="202" y1="77.4" x2="183.8" y2="53.4"><stop offset="0" stop-color="#010101"/><stop offset="1" stop-color="#717171"/></linearGradient></defs><path fill="url(#b128)" stroke="url(#b128)" stroke-width=".3" d="M172 64.5l30 12.9-.8-.4-30-14.6z"/><defs><linearGradient id="b129" href="#u" x1="202.7" y1="77.8" x2="201.1" y2="48"><stop offset="0" stop-color="#010101"/><stop offset="1" stop-color="#696969"/></linearGradient></defs><path fill="url(#b129)" stroke="url(#b129)" stroke-width=".3" d="M202.7 77.8l30-29.5-.7-2.1-30 31.2z"/><defs><linearGradient id="b130" href="#u" x1="202.7" y1="77.8" x2="186.1" y2="54.7"><stop offset="0" stop-color="#010101"/><stop offset="1" stop-color="#696969"/></linearGradient></defs><path fill="url(#b130)" stroke="url(#b130)" stroke-width=".3" d="M172.7 66.6l30 11.2-.7-.4-30-12.9z"/><defs><linearGradient id="b131" href="#u" x1="203.5" y1="78.2" x2="201.6" y2="50.5"><stop offset="0" stop-color="#010101"/><stop offset="1" stop-color="#616161"/></linearGradient></defs><path fill="url(#b131)" stroke="url(#b131)" stroke-width=".3" d="M203.5 78.2l30-27.9-.8-2-30 29.5z"/><defs><linearGradient id="b132" href="#u" x1="203.5" y1="78.2" x2="188.5" y2="56.2"><stop offset="0" stop-color="#010101"/><stop offset="1" stop-color="#616161"/></linearGradient></defs><path fill="url(#b132)" stroke="url(#b132)" stroke-width=".3" d="M173.5 68.6l30 9.6-.8-.4-30-11.2z"/><defs><linearGradient id="b133" href="#u" x1="204.2" y1="78.6" x2="202.1" y2="53.1"><stop offset="0" stop-color="#010101"/><stop offset="1" stop-color="#595959"/></linearGradient></defs><path fill="url(#b133)" stroke="url(#b133)" stroke-width=".3" d="M204.2 78.6l30-26.2-.7-2.1-30 27.9z"/><defs><linearGradient id="b134" href="#u" x1="204.2" y1="78.6" x2="190.8" y2="57.8"><stop offset="0" stop-color="#010101"/><stop offset="1" stop-color="#595959"/></linearGradient></defs><path fill="url(#b134)" stroke="url(#b134)" stroke-width=".3" d="M174.2 70.7l30 7.9-.7-.4-30-9.6z"/><defs><linearGradient id="b135" href="#u" x1="205" y1="79" x2="202.7" y2="55.6"><stop offset="0" stop-color="#010101"/><stop offset="1" stop-color="#515151"/></linearGradient></defs><path fill="url(#b135)" stroke="url(#b135)" stroke-width=".3" d="M205 79l30-24.6-.8-2-30 26.2z"/><defs><linearGradient id="b136" href="#u" x1="205" y1="79" x2="193.1" y2="59.5"><stop offset="0" stop-color="#010101"/><stop offset="1" stop-color="#515151"/></linearGradient></defs><path fill="url(#b136)" stroke="url(#b136)" stroke-width=".3" d="M175 72.7l30 6.3-.8-.4-30-7.9z"/><defs><linearGradient id="b137" href="#u" x1="205.8" y1="79.4" x2="203.3" y2="58.3"><stop offset="0" stop-color="#010101"/><stop offset="1" stop-color="#4a4a4a"/></linearGradient></defs><path fill="url(#b137)" stroke="url(#b137)" stroke-width=".3" d="M205.8 79.4l30-22.9-.8-2.1-30 24.6z"/><defs><linearGradient id="b138" href="#u" x1="205.8" y1="79.4" x2="195.4" y2="61.3"><stop offset="0" stop-color="#010101"/><stop offset="1" stop-color="#4a4a4a"/></linearGradient></defs><path fill="url(#b138)" stroke="url(#b138)" stroke-width=".3" d="M175.8 74.8l30 4.6-.8-.4-30-6.3z"/><defs><linearGradient id="b139" href="#u" x1="206.5" y1="79.8" x2="204" y2="60.9"><stop offset="0" stop-color="#010101"/><stop offset="1" stop-color="#424242"/></linearGradient></defs><path fill="url(#b139)" stroke="url(#b139)" stroke-width=".3" d="M206.5 79.8l30-21.3-.7-2-30 22.9z"/><defs><linearGradient id="b140" href="#u" x1="206.5" y1="79.8" x2="197.6" y2="63.3"><stop offset="0" stop-color="#010101"/><stop offset="1" stop-color="#424242"/></linearGradient></defs><path fill="url(#b140)" stroke="url(#b140)" stroke-width=".3" d="M176.5 76.8l30 3-.7-.4-30-4.6z"/><defs><linearGradient id="b141" href="#u" x1="207.3" y1="80.2" x2="204.7" y2="63.6"><stop offset="0" stop-color="#000"/><stop offset="1" stop-color="#3a3a3a"/></linearGradient></defs><path fill="url(#b141)" stroke="url(#b141)" stroke-width=".3" d="M207.3 80.2l30-19.6-.8-2.1-30 21.3z"/><defs><linearGradient id="b142" href="#u" x1="207.3" y1="80.2" x2="199.8" y2="65.4"><stop offset="0" stop-color="#000"/><stop offset="1" stop-color="#3a3a3a"/></linearGradient></defs><path fill="url(#b142)" stroke="url(#b142)" stroke-width=".3" d="M177.3 78.9l30 1.3-.8-.4-30-3z"/><defs><linearGradient id="b143" href="#u" x1="208" y1="80.6" x2="205.6" y2="66.2"><stop offset="0" stop-color="#000"/><stop offset="1" stop-color="#323232"/></linearGradient></defs><path fill="url(#b143)" stroke="url(#b143)" stroke-width=".3" d="M208 80.6l30-18-.7-2-30 19.6z"/><defs><linearGradient id="b144" href="#u" x1="208" y1="80.6" x2="201.8" y2="67.5"><stop offset="0" stop-color="#000"/><stop offset="1" stop-color="#323232"/></linearGradient></defs><path fill="url(#b144)" stroke="url(#b144)" stroke-width=".3" d="M178 80.9l30-.3-.7-.4-30-1.3z"/><defs><linearGradient id="b145" href="#u" x1="208.8" y1="81" x2="206.5" y2="68.9"><stop offset="0" stop-color="#000"/><stop offset="1" stop-color="#2a2a2a"/></linearGradient></defs><path fill="url(#b145)" stroke="url(#b145)" stroke-width=".3" d="M208.8 81l30-16.3-.8-2.1-30 18z"/><defs><linearGradient id="b146" href="#u" x1="208.8" y1="81" x2="203.8" y2="69.8"><stop offset="0" stop-color="#000"/><stop offset="1" stop-color="#2a2a2a"/></linearGradient></defs><path fill="url(#b146)" stroke="url(#b146)" stroke-width=".3" d="M178.8 83l30-2-.8-.4-30 .3z"/><defs><linearGradient id="b147" href="#u" x1="209.6" y1="81.4" x2="207.5" y2="71.6"><stop offset="0" stop-color="#000"/><stop offset="1" stop-color="#222"/></linearGradient></defs><path fill="url(#b147)" stroke="url(#b147)" stroke-width=".3" d="M209.6 81.4l30-14.6-.8-2.1-30 16.3z"/><defs><linearGradient id="b148" href="#u" x1="209.6" y1="81.4" x2="205.8" y2="72.2"><stop offset="0" stop-color="#000"/><stop offset="1" stop-color="#222"/></linearGradient></defs><path fill="url(#b148)" stroke="url(#b148)" stroke-width=".3" d="M179.6 85.1l30-3.7-.8-.4-30 2z"/><defs><linearGradient id="b149" href="#u" x1="210.3" y1="81.8" x2="208.6" y2="74.3"><stop offset="0" stop-color="#000"/><stop offset="1" stop-color="#1a1a1a"/></linearGradient></defs><path fill="url(#b149)" stroke="url(#b149)" stroke-width=".3" d="M210.3 81.8l30-13-.7-2-30 14.6z"/><defs><linearGradient id="b150" href="#u" x1="210.3" y1="81.8" x2="207.6" y2="74.6"><stop offset="0" stop-color="#000"/><stop offset="1" stop-color="#1a1a1a"/></linearGradient></defs><path fill="url(#b150)" stroke="url(#b150)" stroke-width=".3" d="M180.3 87.1l30-5.3-.7-.4-30 3.7z"/><defs><linearGradient id="b151" href="#u" x1="211.1" y1="82.2" x2="209.7" y2="77"><stop offset="0" stop-color="#000"/><stop offset="1" stop-color="#121212"/></linearGradient></defs><path fill="url(#b151)" stroke="url(#b151)" stroke-width=".3" d="M211.1 82.2l30-11.3-.8-2.1-30 13z"/><defs><linearGradient id="b152" href="#u" x1="211.1" y1="82.2" x2="209.3" y2="77.1"><stop offset="0" stop-color="#000"/><stop offset="1" stop-color="#121212"/></linearGradient></defs><path fill="url(#b152)" stroke="url(#b152)" stroke-width=".3" d="M181.1 89.2l30-7-.8-.4-30 5.3z"/><defs><linearGradient id="b153" href="#u" x1="211.8" y1="82.6" x2="211" y2="79.6"><stop offset="0" stop-color="#000"/><stop offset="1" stop-color="#0a0a0a"/></linearGradient></defs><path fill="url(#b153)" stroke="url(#b153)" stroke-width=".3" d="M211.8 82.6l30-9.7-.7-2-30 11.3z"/><defs><linearGradient id="b154" href="#u" x1="211.8" y1="82.6" x2="210.9" y2="79.7"><stop offset="0" stop-color="#000"/><stop offset="1" stop-color="#0a0a0a"/></linearGradient></defs><path fill="url(#b154)" stroke="url(#b154)" stroke-width=".3" d="M181.8 91.2l30-8.6-.7-.4-30 7z"/><defs><linearGradient id="b155" href="#u" x1="211.8" y1="82.6" x2="211.3" y2="80.9"><stop offset="0" stop-color="#000"/><stop offset="1" stop-color="#0a0a0a"/></linearGradient></defs><path fill="url(#b155)" stroke="url(#b155)" stroke-width=".3" d="M212.6 83l30-11.4-.8 1.3-30 9.7z"/><defs><linearGradient id="b156" href="#u" x1="211.8" y1="82.6" x2="211.4" y2="80.9"><stop offset="0" stop-color="#000"/><stop offset="1" stop-color="#0a0a0a"/></linearGradient></defs><path fill="url(#b156)" stroke="url(#b156)" stroke-width=".3" d="M182.6 89.9l30-6.9-.8-.4-30 8.6z"/><defs><linearGradient id="b157" href="#u" x1="212.6" y1="83" x2="211.6" y2="79.9"><stop offset="0" stop-color="#000"/><stop offset="1" stop-color="#121212"/></linearGradient></defs><path fill="url(#b157)" stroke="url(#b157)" stroke-width=".3" d="M213.4 83.3l30-13-.8 1.3-30 11.4z"/><defs><linearGradient id="b158" href="#u" x1="212.6" y1="83" x2="211.8" y2="80.1"><stop offset="0" stop-color="#000"/><stop offset="1" stop-color="#121212"/></linearGradient></defs><path fill="url(#b158)" stroke="url(#b158)" stroke-width=".3" d="M183.4 88.6l30-5.3-.8-.3-30 6.9z"/><defs><linearGradient id="b159" href="#u" x1="213.4" y1="83.3" x2="211.9" y2="78.8"><stop offset="0" stop-color="#000"/><stop offset="1" stop-color="#1a1a1a"/></linearGradient></defs><path fill="url(#b159)" stroke="url(#b159)" stroke-width=".3" d="M214.1 83.7l30-14.7-.7 1.3-30 13z"/><defs><linearGradient id="b160" href="#u" x1="213.4" y1="83.3" x2="212.3" y2="79.3"><stop offset="0" stop-color="#000"/><stop offset="1" stop-color="#1a1a1a"/></linearGradient></defs><path fill="url(#b160)" stroke="url(#b160)" stroke-width=".3" d="M184.1 87.4l30-3.7-.7-.4-30 5.3z"/><defs><linearGradient id="b161" href="#u" x1="214.1" y1="83.7" x2="212.2" y2="77.6"><stop offset="0" stop-color="#000"/><stop offset="1" stop-color="#222"/></linearGradient></defs><path fill="url(#b161)" stroke="url(#b161)" stroke-width=".3" d="M214.9 84.1l30-16.3-.8 1.2-30 14.7z"/><defs><linearGradient id="b162" href="#u" x1="214.1" y1="83.7" x2="212.8" y2="78.5"><stop offset="0" stop-color="#000"/><stop offset="1" stop-color="#222"/></linearGradient></defs><path fill="url(#b162)" stroke="url(#b162)" stroke-width=".3" d="M184.9 86.1l30-2-.8-.4-30 3.7z"/><defs><linearGradient id="b163" href="#u" x1="214.9" y1="84.1" x2="212.5" y2="76.2"><stop offset="0" stop-color="#000"/><stop offset="1" stop-color="#2a2a2a"/></linearGradient></defs><path fill="url(#b163)" stroke="url(#b163)" stroke-width=".3" d="M215.7 84.4l30-17.9-.8 1.3-30 16.3z"/><defs><linearGradient id="b164" href="#u" x1="214.9" y1="84.1" x2="213.3" y2="77.7"><stop offset="0" stop-color="#000"/><stop offset="1" stop-color="#2a2a2a"/></linearGradient></defs><path fill="url(#b164)" stroke="url(#b164)" stroke-width=".3" d="M185.7 84.8l30-.4-.8-.3-30 2z"/><defs><linearGradient id="b165" href="#u" x1="215.7" y1="84.4" x2="212.7" y2="74.7"><stop offset="0" stop-color="#000"/><stop offset="1" stop-color="#323232"/></linearGradient></defs><path fill="url(#b165)" stroke="url(#b165)" stroke-width=".3" d="M216.4 84.8l30-19.6-.7 1.3-30 17.9z"/><defs><linearGradient id="b166" href="#u" x1="215.7" y1="84.4" x2="213.9" y2="76.9"><stop offset="0" stop-color="#000"/><stop offset="1" stop-color="#323232"/></linearGradient></defs><path fill="url(#b166)" stroke="url(#b166)" stroke-width=".3" d="M186.4 83.5l30 1.3-.7-.4-30 .4z"/><defs><linearGradient id="b167" href="#u" x1="216.4" y1="84.8" x2="213.1" y2="73"><stop offset="0" stop-color="#000"/><stop offset="1" stop-color="#3a3a3a"/></linearGradient></defs><path fill="url(#b167)" stroke="url(#b167)" stroke-width=".3" d="M217.2 85.2l30-21.3-.8 1.3-30 19.6z"/><defs><linearGradient id="b168" href="#u" x1="216.4" y1="84.8" x2="214.6" y2="76.1"><stop offset="0" stop-color="#000"/><stop offset="1" stop-color="#3a3a3a"/></linearGradient></defs><path fill="url(#b168)" stroke="url(#b168)" stroke-width=".3" d="M187.2 82.2l30 3-.8-.4-30-1.3z"/><defs><linearGradient id="b169" href="#u" x1="217.2" y1="85.2" x2="213.5" y2="71"><stop offset="0" stop-color="#010101"/><stop offset="1" stop-color="#424242"/></linearGradient></defs><path fill="url(#b169)" stroke="url(#b169)" stroke-width=".3" d="M217.9 85.5l30-22.9-.7 1.3-30 21.3z"/><defs><linearGradient id="b170" href="#u" x1="217.2" y1="85.2" x2="215.3" y2="75.3"><stop offset="0" stop-color="#010101"/><stop offset="1" stop-color="#424242"/></linearGradient></defs><path fill="url(#b170)" stroke="url(#b170)" stroke-width=".3" d="M187.9 80.9l30 4.6-.7-.3-30-3z"/><defs><linearGradient id="b171" href="#u" x1="217.9" y1="85.5" x2="214" y2="68.9"><stop offset="0" stop-color="#010101"/><stop offset="1" stop-color="#4a4a4a"/></linearGradient></defs><path fill="url(#b171)" stroke="url(#b171)" stroke-width=".3" d="M218.7 85.9l30-24.6-.8 1.3-30 22.9z"/><defs><linearGradient id="b172" href="#u" x1="217.9" y1="85.5" x2="216" y2="74.5"><stop offset="0" stop-color="#010101"/><stop offset="1" stop-color="#4a4a4a"/></linearGradient></defs><path fill="url(#b172)" stroke="url(#b172)" stroke-width=".3" d="M188.7 79.6l30 6.3-.8-.4-30-4.6z"/><defs><linearGradient id="b173" href="#u" x1="218.7" y1="85.9" x2="214.7" y2="66.4"><stop offset="0" stop-color="#010101"/><stop offset="1" stop-color="#515151"/></linearGradient></defs><path fill="url(#b173)" stroke="url(#b173)" stroke-width=".3" d="M219.5 86.3l30-26.3-.8 1.3-30 24.6z"/><defs><linearGradient id="b174" href="#u" x1="218.7" y1="85.9" x2="216.7" y2="73.6"><stop offset="0" stop-color="#010101"/><stop offset="1" stop-color="#515151"/></linearGradient></defs><path fill="url(#b174)" stroke="url(#b174)" stroke-width=".3" d="M189.5 78.3l30 8-.8-.4-30-6.3z"/><defs><linearGradient id="b175" href="#u" x1="219.5" y1="86.3" x2="215.7" y2="63.8"><stop offset="0" stop-color="#010101"/><stop offset="1" stop-color="#595959"/></linearGradient></defs><path fill="url(#b175)" stroke="url(#b175)" stroke-width=".3" d="M220.2 86.6l30-27.9-.7 1.3-30 26.3z"/><defs><linearGradient id="b176" href="#u" x1="219.5" y1="86.3" x2="217.5" y2="72.8"><stop offset="0" stop-color="#010101"/><stop offset="1" stop-color="#595959"/></linearGradient></defs><path fill="url(#b176)" stroke="url(#b176)" stroke-width=".3" d="M190.2 77l30 9.6-.7-.3-30-8z"/><defs><linearGradient id="b177" href="#u" x1="220.2" y1="86.6" x2="217" y2="61"><stop offset="0" stop-color="#010101"/><stop offset="1" stop-color="#616161"/></linearGradient></defs><path fill="url(#b177)" stroke="url(#b177)" stroke-width=".3" d="M221 87l30-29.6-.8 1.3-30 27.9z"/><defs><linearGradient id="b178" href="#u" x1="220.2" y1="86.6" x2="218.3" y2="71.9"><stop offset="0" stop-color="#010101"/><stop offset="1" stop-color="#616161"/></linearGradient></defs><path fill="url(#b178)" stroke="url(#b178)" stroke-width=".3" d="M191 75.7l30 11.3-.8-.4-30-9.6z"/><defs><linearGradient id="b179" href="#u" x1="221" y1="87" x2="218.7" y2="58"><stop offset="0" stop-color="#010101"/><stop offset="1" stop-color="#696969"/></linearGradient></defs><path fill="url(#b179)" stroke="url(#b179)" stroke-width=".3" d="M221.7 87.4l30-31.2-.7 1.2-30 29.6z"/><defs><linearGradient id="b180" href="#u" x1="221" y1="87" x2="219.2" y2="71.1"><stop offset="0" stop-color="#010101"/><stop offset="1" stop-color="#696969"/></linearGradient></defs><path fill="url(#b180)" stroke="url(#b180)" stroke-width=".3" d="M191.7 74.4l30 13-.7-.4-30-11.3z"/><defs><linearGradient id="b181" href="#u" x1="221.7" y1="87.4" x2="220.9" y2="55"><stop offset="0" stop-color="#010101"/><stop offset="1" stop-color="#717171"/></linearGradient></defs><path fill="url(#b181)" stroke="url(#b181)" stroke-width=".3" d="M222.5 87.7l30-32.8-.8 1.3-30 31.2z"/><defs><linearGradient id="b182" href="#u" x1="221.7" y1="87.4" x2="220.1" y2="70.2"><stop offset="0" stop-color="#010101"/><stop offset="1" stop-color="#717171"/></linearGradient></defs><path fill="url(#b182)" stroke="url(#b182)" stroke-width=".3" d="M192.5 73.2l30 14.5-.8-.3-30-13z"/><defs><linearGradient id="b183" href="#u" x1="222.5" y1="87.7" x2="223.4" y2="52.1"><stop offset="0" stop-color="#010101"/><stop offset="1" stop-color="#797979"/></linearGradient></defs><path fill="url(#b183)" stroke="url(#b183)" stroke-width=".3" d="M223.3 88.1l30-34.5-.8 1.3-30 32.8z"/><defs><linearGradient id="b184" href="#u" x1="222.5" y1="87.7" x2="221" y2="69.3"><stop offset="0" stop-color="#010101"/><stop offset="1" stop-color="#797979"/></linearGradient></defs><path fill="url(#b184)" stroke="url(#b184)" stroke-width=".3" d="M193.3 71.9l30 16.2-.8-.4-30-14.5z"/><defs><linearGradient id="b185" href="#u" x1="223.3" y1="88.1" x2="226.3" y2="49.4"><stop offset="0" stop-color="#010101"/><stop offset="1" stop-color="#818181"/></linearGradient></defs><path fill="url(#b185)" stroke="url(#b185)" stroke-width=".3" d="M224 88.5l30-36.2-.7 1.3-30 34.5z"/><defs><linearGradient id="b186" href="#u" x1="223.3" y1="88.1" x2="221.9" y2="68.4"><stop offset="0" stop-color="#010101"/><stop offset="1" stop-color="#818181"/></linearGradient></defs><path fill="url(#b186)" stroke="url(#b186)" stroke-width=".3" d="M194 70.6l30 17.9-.7-.4-30-16.2z"/><defs><linearGradient id="b187" href="#u" x1="224" y1="88.5" x2="229.6" y2="46.9"><stop offset="0" stop-color="#010101"/><stop offset="1" stop-color="#898989"/></linearGradient></defs><path fill="url(#b187)" stroke="url(#b187)" stroke-width=".3" d="M224.8 88.8l30-37.8-.8 1.3-30 36.2z"/><defs><linearGradient id="b188" href="#u" x1="224" y1="88.5" x2="222.9" y2="67.5"><stop offset="0" stop-color="#010101"/><stop offset="1" stop-color="#898989"/></linearGradient></defs><path fill="url(#b188)" stroke="url(#b188)" stroke-width=".3" d="M194.8 69.3l30 19.5-.8-.3-30-17.9z"/><defs><linearGradient id="b189" href="#u" x1="224.8" y1="88.8" x2="233.1" y2="44.8"><stop offset="0" stop-color="#010101"/><stop offset="1" stop-color="#919191"/></linearGradient></defs><path fill="url(#b189)" stroke="url(#b189)" stroke-width=".3" d="M225.5 89.2l30-39.5-.7 1.3-30 37.8z"/><defs><linearGradient id="b190" href="#u" x1="224.8" y1="88.8" x2="223.9" y2="66.6"><stop offset="0" stop-color="#010101"/><stop offset="1" stop-color="#919191"/></linearGradient></defs><path fill="url(#b190)" stroke="url(#b190)" stroke-width=".3" d="M195.5 68l30 21.2-.7-.4-30-19.5z"/><defs><linearGradient id="b191" href="#u" x1="225.5" y1="89.2" x2="236.7" y2="43"><stop offset="0" stop-color="#010101"/><stop offset="1" stop-color="#989898"/></linearGradient></defs><path fill="url(#b191)" stroke="url(#b191)" stroke-width=".3" d="M226.3 89.6l30-41.2-.8 1.3-30 39.5z"/><defs><linearGradient id="b192" href="#u" x1="225.5" y1="89.2" x2="224.9" y2="65.7"><stop offset="0" stop-color="#010101"/><stop offset="1" stop-color="#989898"/></linearGradient></defs><path fill="url(#b192)" stroke="url(#b192)" stroke-width=".3" d="M196.3 66.7l30 22.9-.8-.4-30-21.2z"/><defs><linearGradient id="b193" href="#u" x1="226.3" y1="89.6" x2="240.4" y2="41.6"><stop offset="0" stop-color="#010101"/><stop offset="1" stop-color="#a0a0a0"/></linearGradient></defs><path fill="url(#b193)" stroke="url(#b193)" stroke-width=".3" d="M227.1 89.9l30-42.8-.8 1.3-30 41.2z"/><defs><linearGradient id="b194" href="#u" x1="226.3" y1="89.6" x2="225.9" y2="64.8"><stop offset="0" stop-color="#010101"/><stop offset="1" stop-color="#a0a0a0"/></linearGradient></defs><path fill="url(#b194)" stroke="url(#b194)" stroke-width=".3" d="M197.1 65.4l30 24.5-.8-.3-30-22.9z"/><defs><linearGradient id="b195" href="#u" x1="227.1" y1="89.9" x2="243.9" y2="40.5"><stop offset="0" stop-color="#020202"/><stop offset="1" stop-color="#a8a8a8"/></linearGradient></defs><path fill="url(#b195)" stroke="url(#b195)" stroke-width=".3" d="M227.8 90.3l30-44.5-.7 1.3-30 42.8z"/><defs><linearGradient id="b196" href="#u" x1="227.1" y1="89.9" x2="227" y2="63.9"><stop offset="0" stop-color="#020202"/><stop offset="1" stop-color="#a8a8a8"/></linearGradient></defs><path fill="url(#b196)" stroke="url(#b196)" stroke-width=".3" d="M197.8 64.1l30 26.2-.7-.4-30-24.5z"/><defs><linearGradient id="b197" href="#u" x1="227.8" y1="90.3" x2="247.4" y2="39.7"><stop offset="0" stop-color="#020202"/><stop offset="1" stop-color="#b0b0b0"/></linearGradient></defs><path fill="url(#b197)" stroke="url(#b197)" stroke-width=".3" d="M228.6 90.7l30-46.2-.8 1.3-30 44.5z"/><defs><linearGradient id="b198" href="#u" x1="227.8" y1="90.3" x2="228.1" y2="62.9"><stop offset="0" stop-color="#020202"/><stop offset="1" stop-color="#b0b0b0"/></linearGradient></defs><path fill="url(#b198)" stroke="url(#b198)" stroke-width=".3" d="M198.6 62.8l30 27.9-.8-.4-30-26.2z"/><defs><linearGradient id="b199" href="#u" x1="228.6" y1="90.7" x2="250.8" y2="39"><stop offset="0" stop-color="#020202"/><stop offset="1" stop-color="#b8b8b8"/></linearGradient></defs><path fill="url(#b199)" stroke="url(#b199)" stroke-width=".3" d="M229.4 91l30-47.8-.8 1.3-30 46.2z"/><defs><linearGradient id="b200" href="#u" x1="228.6" y1="90.7" x2="229.2" y2="62"><stop offset="0" stop-color="#020202"/><stop offset="1" stop-color="#b8b8b8"/></linearGradient></defs><path fill="url(#b200)" stroke="url(#b200)" stroke-width=".3" d="M199.4 61.6l30 29.4-.8-.3-30-27.9z"/><defs><linearGradient id="b201" href="#u" x1="229.4" y1="91" x2="253.9" y2="38.6"><stop offset="0" stop-color="#020202"/><stop offset="1" stop-color="#c0c0c0"/></linearGradient></defs><path fill="url(#b201)" stroke="url(#b201)" stroke-width=".3" d="M230.1 91.4l30-49.4-.7 1.2-30 47.8z"/><defs><linearGradient id="b202" href="#u" x1="229.4" y1="91" x2="230.3" y2="61.1"><stop offset="0" stop-color="#020202"/><stop offset="1" stop-color="#c0c0c0"/></linearGradient></defs><path fill="url(#b202)" stroke="url(#b202)" stroke-width=".3" d="M200.1 60.3l30 31.1-.7-.4-30-29.4z"/><defs><linearGradient id="b203" href="#u" x1="230.1" y1="91.4" x2="256.9" y2="38.2"><stop offset="0" stop-color="#020202"/><stop offset="1" stop-color="#c8c8c8"/></linearGradient></defs><path fill="url(#b203)" stroke="url(#b203)" stroke-width=".3" d="M230.9 91.8l30-51.1-.8 1.3-30 49.4z"/><defs><linearGradient id="b204" href="#u" x1="230.1" y1="91.4" x2="231.4" y2="60.1"><stop offset="0" stop-color="#020202"/><stop offset="1" stop-color="#c8c8c8"/></linearGradient></defs><path fill="url(#b204)" stroke="url(#b204)" stroke-width=".3" d="M200.9 59l30 32.8-.8-.4-30-31.1z"/><defs><linearGradient id="b205" href="#u" x1="230.9" y1="91.8" x2="259.7" y2="37.9"><stop offset="0" stop-color="#020202"/><stop offset="1" stop-color="#d0d0d0"/></linearGradient></defs><path fill="url(#b205)" stroke="url(#b205)" stroke-width=".3" d="M231.6 92.1l30-52.7-.7 1.3-30 51.1z"/><defs><linearGradient id="b206" href="#u" x1="230.9" y1="91.8" x2="232.6" y2="59.2"><stop offset="0" stop-color="#020202"/><stop offset="1" stop-color="#d0d0d0"/></linearGradient></defs><path fill="url(#b206)" stroke="url(#b206)" stroke-width=".3" d="M201.6 57.7l30 34.4-.7-.3-30-32.8z"/><defs><linearGradient id="b207" href="#u" x1="231.6" y1="92.1" x2="262.4" y2="37.7"><stop offset="0" stop-color="#020202"/><stop offset="1" stop-color="#d8d8d8"/></linearGradient></defs><path fill="url(#b207)" stroke="url(#b207)" stroke-width=".3" d="M232.4 92.5l30-54.4-.8 1.3-30 52.7z"/><defs><linearGradient id="b208" href="#u" x1="231.6" y1="92.1" x2="233.8" y2="58.2"><stop offset="0" stop-color="#020202"/><stop offset="1" stop-color="#d8d8d8"/></linearGradient></defs><path fill="url(#b208)" stroke="url(#b208)" stroke-width=".3" d="M202.4 56.4l30 36.1-.8-.4-30-34.4z"/><defs><linearGradient id="b209" href="#u" x1="232.4" y1="92.5" x2="264.9" y2="37.4"><stop offset="0" stop-color="#020202"/><stop offset="1" stop-color="#dfdfdf"/></linearGradient></defs><path fill="url(#b209)" stroke="url(#b209)" stroke-width=".3" d="M233.2 92.9l30-56.1-.8 1.3-30 54.4z"/><defs><linearGradient id="b210" href="#u" x1="232.4" y1="92.5" x2="234.9" y2="57.3"><stop offset="0" stop-color="#020202"/><stop offset="1" stop-color="#dfdfdf"/></linearGradient></defs><path fill="url(#b210)" stroke="url(#b210)" stroke-width=".3" d="M203.2 55.1l30 37.8-.8-.4-30-36.1z"/><defs><linearGradient id="b211" href="#u" x1="233.2" y1="92.9" x2="267.3" y2="37.2"><stop offset="0" stop-color="#020202"/><stop offset="1" stop-color="#e7e7e7"/></linearGradient></defs><path fill="url(#b211)" stroke="url(#b211)" stroke-width=".3" d="M233.9 93.2l30-57.7-.7 1.3-30 56.1z"/><defs><linearGradient id="b212" href="#u" x1="233.2" y1="92.9" x2="236.1" y2="56.3"><stop offset="0" stop-color="#020202"/><stop offset="1" stop-color="#e7e7e7"/></linearGradient></defs><path fill="url(#b212)" stroke="url(#b212)" stroke-width=".3" d="M203.9 53.8l30 39.4-.7-.3-30-37.8z"/><defs><linearGradient id="b213" href="#u" x1="233.9" y1="93.2" x2="269.6" y2="36.9"><stop offset="0" stop-color="#020202"/><stop offset="1" stop-color="#efefef"/></linearGradient></defs><path fill="url(#b213)" stroke="url(#b213)" stroke-width=".3" d="M234.7 93.6l30-59.4-.8 1.3-30 57.7z"/><defs><linearGradient id="b214" href="#u" x1="233.9" y1="93.2" x2="237.3" y2="55.4"><stop offset="0" stop-color="#020202"/><stop offset="1" stop-color="#efefef"/></linearGradient></defs><path fill="url(#b214)" stroke="url(#b214)" stroke-width=".3" d="M204.7 52.5l30 41.1-.8-.4-30-39.4z"/><defs><linearGradient id="b215" href="#u" x1="234.7" y1="93.6" x2="271.7" y2="36.7"><stop offset="0" stop-color="#020202"/><stop offset="1" stop-color="#f7f7f7"/></linearGradient></defs><path fill="url(#b215)" stroke="url(#b215)" stroke-width=".3" d="M235.4 94l30-61.1-.7 1.3-30 59.4z"/><defs><linearGradient id="b216" href="#u" x1="234.7" y1="93.6" x2="238.6" y2="54.4"><stop offset="0" stop-color="#020202"/><stop offset="1" stop-color="#f7f7f7"/></linearGradient></defs><path fill="url(#b216)" stroke="url(#b216)" stroke-width=".3" d="M205.4 51.2l30 42.8-.7-.4-30-41.1z"/><defs><linearGradient id="b217" href="#u" x1="235.4" y1="94" x2="273.8" y2="36.4"><stop offset="0" stop-color="#020202"/><stop offset="1" stop-color="#fff"/></linearGradient></defs><path fill="url(#b217)" stroke="url(#b217)" stroke-width=".3" d="M236.2 94.3l30-62.7-.8 1.3-30 61.1z"/><defs><linearGradient id="b218" href="#u" x1="235.4" y1="94" x2="239.8" y2="53.4"><stop offset="0" stop-color="#020202"/><stop offset="1" stop-color="#fff"/></linearGradient></defs><path fill="url(#b218)" stroke="url(#b218)" stroke-width=".3" d="M206.2 49.9l30 44.4-.8-.3-30-42.8z"/></g></g><text x="208.8" y="109.8">-100</text><text x="223.8" y="105.2">-50</text><text x="238.8" y="100.6">0</text><text x="253.8" y="96">50</text><text x="268.8" y="91.5">100</text><text x="203.2" y="109.1" text-anchor="end">-100</text><text x="191" y="103" text-anchor="end">-50</text><text x="178.8" y="96.8" text-anchor="end">0</text><text x="166.7" y="90.7" text-anchor="end">50</text><text x="154.5" y="84.6" text-anchor="end">100</text><text x="154.1" y="80.3" text-anchor="end">0 ×10<tspan class="u" dy="-1.4">0</tspan></text><text x="154.1" y="69.7" text-anchor="end">2 ×10<tspan class="u" dy="-1.4">3</tspan></text><text x="154.1" y="59.1" text-anchor="end">4 ×10<tspan class="u" dy="-1.4">3</tspan></text><text x="154.1" y="48.5" text-anchor="end">6 ×10<tspan class="u" dy="-1.4">3</tspan></text><text x="154.1" y="37.9" text-anchor="end">8 ×10<tspan class="u" dy="-1.4">3</tspan></text><text x="154.1" y="27.3" text-anchor="end">1 ×10<tspan class="u" dy="-1.4">4</tspan></text><text class="tt" x="211.8" y="6.6" text-anchor="middle">F2 Parameter space</text><text x="234.7" y="111.1" text-anchor="middle">x1</text><text x="179.8" y="109.7" text-anchor="middle">x2</text><text text-anchor="middle" transform="translate(142.2 53) rotate(-90)">F2( x1 , x2 )</text></g>
<g class="p"><g class="k"><path class="g" d="M337.5 102L287.5 77.5M287.5 77.5L287.5 25.5M353.8 97.6L303.8 73.1M303.8 73.1L303.8 21.1M370 93.2L320 68.8M320 68.8L320 16.8M386.2 88.9L336.2 64.4M336.2 64.4L336.2 12.4M402.5 84.5L352.5 60M352.5 60L352.5 8M337.5 102L402.5 84.5M402.5 84.5L402.5 32.5M325 95.9L390 78.4M390 78.4L390 26.4M312.5 89.8L377.5 72.2M377.5 72.2L377.5 20.2M300 83.6L365 66.1M365 66.1L365 14.1M287.5 77.5L352.5 60M352.5 60L352.5 8M287.5 77.5L352.5 60M352.5 60L402.5 84.5M287.5 67.1L352.5 49.6M352.5 49.6L402.5 74.1M287.5 56.7L352.5 39.2M352.5 39.2L402.5 63.7M287.5 46.3L352.5 28.8M352.5 28.8L402.5 53.3M287.5 35.9L352.5 18.4M352.5 18.4L402.5 42.9M287.5 25.5L352.5 8M352.5 8L402.5 32.5"/><path class="b" d="M337.5 102L402.5 84.5M337.5 102L287.5 77.5M402.5 84.5L352.5 60M287.5 77.5L352.5 60M287.5 77.5L287.5 25.5M352.5 60L352.5 8M402.5 84.5L402.5 32.5M287.5 25.5L352.5 8M352.5 8L402.5 32.5M337.5 102L338 103.2M353.8 97.6L354.2 98.8M370 93.2L370.5 94.5M386.2 88.9L386.8 90.1M402.5 84.5L403 85.7M337.5 102L336.9 103.2M325 95.9L324.4 97.1M312.5 89.8L311.9 91M300 83.6L299.4 84.8M287.5 77.5L286.9 78.7M287.5 77.5L286.2 77.5M287.5 67.1L286.2 67.1M287.5 56.7L286.2 56.7M287.5 46.3L286.2 46.3M287.5 35.9L286.2 35.9M287.5 25.5L286.2 25.5"/><g class="c" stroke-width="0.4"><path stroke="#2236d5" d="M390 78.4l.6 .3 .5 .3 .5 .8-.2 1-.5 .5-.5 .4-.6 .3-.6 .3-.7 .3-.7 .2-.8 .3-.8 .2-.8 .2-.8 .2-.9 .2-.8 .2-.9 .2-.9 .2-.9 .2-.9 .1-1 .2-.9 .1-1 .2-1 .1-.9 .2-1 .1-1 .1-1.1 .1-1 .2-1 .1-1.1 .1-1 .1-1.1 .1-1 .1-1.1 .1-1.1 0-.8 .1-1.4 .1-1 .1-1.2 .1-1.1 0-1.1 .1-1.1 0-1.2 .1-.9 0-1.4 .1-1.2 0-1.2 .1-1.2 0-1.1 .1-1.3 0-1.2 0-1.2 0-1.2 0-1.2 .1-1.3 0-1.2 0-1.3 0-1 0-1.6-.1-1.3 0-1.3 0-.8 0-1.6-.1-1.6 0-1.4-.1-1.4 0-1.4-.1-1.4-.1-1.4-.1-1.5-.1-1.5-.1-1.5-.1-1.3-.1-1.3-.2-1.2-.1-1-.1-1.4-.2-1.2-.2-1-.1-1.2-.2-.8-.2-1.2-.2-.9-.3-.9-.2-.9-.2-.8-.3-.7-.3-.7-.3M300 83.6l-.6-.3-.5-.3-.5-.8 .2-1 .5-.5 .5-.4 .6-.3 .6-.3 .7-.3 .7-.2 .8-.3 .8-.2 .8-.2 .8-.2 .9-.2 .8-.2 .9-.2 .9-.2 .9-.2 .9-.1 1-.2 .9-.1 1-.2 1-.1 .9-.2 1-.1 1-.1 1.1-.1 1-.2 1-.1 1.1-.1 1-.1 1.1-.1 1-.1 1.1-.1 1.1 0 .8-.1 1.4-.1 1-.1 1.2-.1 1.1 0 1.1-.1 1.1 0 1.2-.1 .9 0 1.4-.1 1.2 0 1.2-.1 1.2 0 1.1-.1 1.3 0 1.2 0 1.2 0 1.2 0 1.2-.1 1.3 0 1.2 0 1.3 0 1 0 1.6 .1 1.3 0 1.3 0 .8 0 1.6 .1 1.6 0 1.4 .1 1.4 0 1.4 .1 1.4 .1 1.4 .1 1.5 .1 1.5 .1 1.5 .1 1.3 .1 1.3 .2 1.2 .1 1 .1 1.4 .2 1.2 .2 1 .1 1.2 .2 .8 .2 1.2 .2 .9 .3 .9 .2 .9 .2 .8 .3 .7 .3 .7 .3"/><path stroke="#0d6bff" d="M402.5 84.5l-.8 .2-.9 .2-.8 .2-.9 .2-.8 .2-.9 .2-.9 .2-.9 .1-.9 .2-.9 .2-1 .1-.9 .2-1 .1-1 .2-.9 .1-1 .2-1 .1-1 .1-1 .2-1 .1-1 .1-1 .1-1 .1-1 .2-1.1 .1-1 .1-1.1 .1-1 .1-1.1 .1-1.1 .1-1 .1-1.1 0-1.1 .1-1.1 .1-1.1 .1-1.1 .1-1.1 .1-1.1 0-1.1 .1-1.1 .1-1.2 0-1.1 .1-1.1 0-1.2 .1-1.1 .1-1.2 0-1.1 .1-1.2 0-1.2 0-.8 .1-1.5 0-1.2 .1-1.2 0-1.2 0-1.2 0-1.2 .1-1.3 0-.8 0-1.6 0-1.3 0-.8 0-1.7 0-1.2 0-1.3 0-1 0-1.6 0-1.2 0-1.3 0-1-.1-1.6 0-1.4 0-1.3-.1-1.4 0-1.3 0-1-.1-1.5 0-1.5-.1-1.5-.1-1.5-.1-1.4 0M287.5 77.5l.8-.2 .9-.2 .8-.2 .9-.2 .8-.2 .9-.2 .9-.2 .9-.1 .9-.2 .9-.2 1-.1 .9-.2 1-.1 1-.2 .9-.1 1-.2 1-.1 1-.1 1-.2 1-.1 1-.1 1-.1 1-.1 1-.2 1.1-.1 1-.1 1.1-.1 1-.1 1.1-.1 1.1-.1 1-.1 1.1 0 1.1-.1 1.1-.1 1.1-.1 1.1-.1 1.1-.1 1.1 0 1.1-.1 1.1-.1 1.2 0 1.1-.1 1.1 0 1.2-.1 1.1-.1 1.2 0 1.1-.1 1.2 0 1.2 0 .8-.1 1.5 0 1.2-.1 1.2 0 1.2 0 1.2 0 1.2-.1 1.3 0 .8 0 1.6 0 1.3 0 .8 0 1.7 0 1.2 0 1.3 0 1 0 1.6 0 1.2 0 1.3 0 1 .1 1.6 0 1.4 0 1.3 .1 1.4 0 1.3 0 1 .1 1.5 0 1.5 .1 1.5 .1 1.5 .1 1.4 0"/><path stroke="#00d7fd" d="M379.5 90.7l-.8 .1-1 0-1.1 .1-1.1 .1-1 .1-1.2 .1-1.1 .1-1.1 0-1.1 .1-1.1 .1-1.1 0-1.2 .1-1.1 .1-1.1 0-1.1 .1-1.2 .1-1.1 0-1.2 .1-1.1 0-1.2 .1-.8 0-1.5 .1-1.2 0-1.2 0-1.2 .1-1 0-1.3 0-1.2 .1-1.2 0-1.2 0-.9 0-1.6 .1-1.2 0-.9 0-1.6 0-1.2 0-.9 0-1.6 0-1.2 0-1.3 0-1.2 0-1.3 0-1.3 0-.8 0-1.7 0-1.4 0-1.3 0-1.3-.1-1 0-1.6 0-1.4-.1-1.3 0M310.5 71.3l.8-.1 1 0 1.1-.1 1.1-.1 1-.1 1.2-.1 1.1-.1 1.1 0 1.1-.1 1.1-.1 1.1 0 1.2-.1 1.1-.1 1.1 0 1.1-.1 1.2-.1 1.1 0 1.2-.1 1.1 0 1.2-.1 .8 0 1.5-.1 1.2 0 1.2 0 1.2-.1 1 0 1.3 0 1.2-.1 1.2 0 1.2 0 .9 0 1.6-.1 1.2 0 .9 0 1.6 0 1.2 0 .9 0 1.6 0 1.2 0 1.3 0 1.2 0 1.3 0 1.3 0 .8 0 1.7 0 1.4 0 1.3 0 1.3 .1 1 0 1.6 0 1.4 .1 1.3 0"/><path stroke="#00ffa0" d="M370 93.2l-1.1 .1-1.1 .1-1.2 0-1 .1-1.3 .1-.9 0-1.4 .1-1.1 0-1.2 .1-1.1 0-1.2 .1-1.2 0-1.1 0-1.2 .1-1.2 0-1.2 .1-1.2 0-1.1 0-1.3 0-1.2 .1-1.2 0-1.2 0-.9 0-1.6 .1-1.2 0-.9 0-1.5 0-1.3 0-.8 0-1.7 0-1.2 0-1.3 0-1.1 0-1.4 0-1.3 0-.8 0-1.7 0-1.4 0-1.2 0-1.4-.1M320 68.8l1.1-.1 1.1-.1 1.2 0 1-.1 1.3-.1 .9 0 1.4-.1 1.1 0 1.2-.1 1.1 0 1.2-.1 1.2 0 1.1 0 1.2-.1 1.2 0 1.2-.1 1.2 0 1.1 0 1.3 0 1.2-.1 1.2 0 1.2 0 .9 0 1.6-.1 1.2 0 .9 0 1.5 0 1.3 0 .8 0 1.7 0 1.2 0 1.3 0 1.1 0 1.4 0 1.3 0 .8 0 1.7 0 1.4 0 1.2 0 1.4 .1"/><path stroke="#5bff20" d="M362.7 95.2l-1.2 .1-.9 0-1.4 .1-1.2 0-1.1 0-1.2 .1-1.2 0-1.2 .1-.8 0-1.6 0-1.2 .1-1.1 0-1.3 0-1.2 0-1.2 .1-1.2 0-.8 0-1.6 0-1.3 0-.8 .1-1.6 0-1.3 0-.8 0-1.6 0-1.3 0-1.3 0-1.1 0-1.4 0-1.2 0-.9 0-1.7 0M327.3 66.8l1.2-.1 .9 0 1.4-.1 1.2 0 1.1 0 1.2-.1 1.2 0 1.2-.1 .8 0 1.6 0 1.2-.1 1.1 0 1.3 0 1.2 0 1.2-.1 1.2 0 .8 0 1.6 0 1.3 0 .8-.1 1.6 0 1.3 0 .8 0 1.6 0 1.3 0 1.3 0 1.1 0 1.4 0 1.2 0 .9 0 1.7 0"/><path stroke="#d0ff00" d="M356.5 96.9l-1.7 0-1.1 .1-1.1 0-1.3 0-1.2 .1-1.2 0-1.2 0-1 0-1.4 .1-1.2 0-1.2 0-1.3 0-1.2 .1-1.2 0-1.3 0-1.2 0-1.1 0-1.4 0-1.2 0-1 0-1.5 0-1.3 0-1.3 0M333.5 65.1l1.7 0 1.1-.1 1.1 0 1.3 0 1.2-.1 1.2 0 1.2 0 1 0 1.4-.1 1.2 0 1.2 0 1.3 0 1.2-.1 1.2 0 1.3 0 1.2 0 1.1 0 1.4 0 1.2 0 1 0 1.5 0 1.3 0 1.3 0"/><path stroke="#ffab00" d="M351.1 98.3l-.9 .1-1 0-1.4 0-1.2 0-1.2 .1-1.2 0-1.2 0-1.3 0-1.2 0-.8 .1-1.6 0-1.3 0-.8 0-1.6 0-1.3 0-1.2 0-1.3 0M338.9 63.7l.9-.1 1 0 1.4 0 1.2 0 1.2-.1 1.2 0 1.2 0 1.3 0 1.2 0 .8-.1 1.6 0 1.3 0 .8 0 1.6 0 1.3 0 1.2 0 1.3 0"/><path stroke="#ff5f00" d="M346.2 99.7l-.9 0-1 0-1.4 0-1.2 0-1.1 .1-1.4 0-1.2 0-1.1 0-1.3 0-1.3 0-1.1 0M343.8 62.3l.9 0 1 0 1.4 0 1.2 0 1.1-.1 1.4 0 1.2 0 1.1 0 1.3 0 1.3 0 1.1 0"/><path stroke="#e22c00" d="M341.7 100.9l-1.4 0-1.3 0-1 0-1.4 0-1.2 0M348.3 61.1l1.4 0 1.3 0 1 0 1.4 0 1.2 0"/></g><g filter="url(#cm)"><g stroke-width="0.35" stroke-linejoin="round"><linearGradient id="c219" href="#u" x1="345" y1="81" x2="346.2" y2="58.6"><stop offset="0" stop-color="#000"/><stop offset=".154" stop-color="#040404"/><stop offset=".372" stop-color="#0e0e0e"/><stop offset=".654" stop-color="#202020"/><stop offset="1" stop-color="#383838"/></linearGradient><path fill="url(#c219)" stroke="url(#c219)" d="M345 81Q361.2 76.6 377.5 61.9L375 58.4Q360 76 345 81z"/><linearGradient id="c220" href="#u" x1="345" y1="81" x2="346" y2="55.4"><stop offset="0" stop-color="#000"/><stop offset=".148" stop-color="#040404"/><stop offset=".364" stop-color="#111"/><stop offset=".648" stop-color="#262626"/><stop offset="1" stop-color="#444"/></linearGradient><path fill="url(#c220)" stroke="url(#c220)" d="M345 81Q360 76 375 58.4L372.5 54.5Q358.8 75.4 345 81z"/><linearGradient id="c221" href="#u" x1="345" y1="81" x2="345.8" y2="51.6"><stop offset="0" stop-color="#000"/><stop offset=".142" stop-color="#050505"/><stop offset=".356" stop-color="#151515"/><stop offset=".642" stop-color="#2f2f2f"/><stop offset="1" stop-color="#535353"/></linearGradient><path fill="url(#c221)" stroke="url(#c221)" d="M345 81Q358.8 75.4 372.5 54.5L369.9 49.9Q357.5 74.8 345 81z"/><linearGradient id="c222" href="#u" x1="345" y1="81" x2="345.6" y2="46.9"><stop offset="0" stop-color="#000"/><stop offset=".137" stop-color="#060606"/><stop offset=".35" stop-color="#191919"/><stop offset=".637" stop-color="#393939"/><stop offset="1" stop-color="#656565"/></linearGradient><path fill="url(#c222)" stroke="url(#c222)" d="M345 81Q357.5 74.8 369.9 49.9L367.1 44.6Q356.1 74.1 345 81z"/><linearGradient id="c223" href="#u" x1="345" y1="81" x2="345.4" y2="41.4"><stop offset="0" stop-color="#000"/><stop offset=".132" stop-color="#080808"/><stop offset=".343" stop-color="#1f1f1f"/><stop offset=".632" stop-color="#454545"/><stop offset="1" stop-color="#7a7a7a"/></linearGradient><path fill="url(#c223)" stroke="url(#c223)" d="M345 81Q356.1 74.1 367.1 44.6L364.1 38.2Q354.6 73.3 345 81z"/><linearGradient id="c224" href="#u" x1="345" y1="81" x2="345.1" y2="34.5"><stop offset="0" stop-color="#000"/><stop offset=".128" stop-color="#090909"/><stop offset=".337" stop-color="#252525"/><stop offset=".628" stop-color="#545454"/><stop offset="1" stop-color="#959595"/></linearGradient><path fill="url(#c224)" stroke="url(#c224)" d="M345 81Q354.6 73.3 364.1 38.2L360.8 30.5Q352.9 72.5 345 81z"/><linearGradient id="c225" href="#u" x1="345" y1="81" x2="344.8" y2="25.9"><stop offset="0" stop-color="#000"/><stop offset=".051" stop-color="#030303"/><stop offset=".123" stop-color="#0b0b0b"/><stop offset=".216" stop-color="#1a1a1a"/><stop offset=".331" stop-color="#2e2e2e"/><stop offset=".466" stop-color="#474747"/><stop offset=".623" stop-color="#676767"/><stop offset=".801" stop-color="#8c8c8c"/><stop offset="1" stop-color="#b7b7b7"/></linearGradient><path fill="url(#c225)" stroke="url(#c225)" d="M345 81Q352.9 72.5 360.8 30.5L357 20.7Q351 71.6 345 81z"/><linearGradient id="c226" href="#u" x1="345" y1="81" x2="344.4" y2="14.9"><stop offset="0" stop-color="#000"/><stop offset=".048" stop-color="#040404"/><stop offset=".119" stop-color="#0e0e0e"/><stop offset=".211" stop-color="#202020"/><stop offset=".325" stop-color="#393939"/><stop offset=".461" stop-color="#595959"/><stop offset=".619" stop-color="#808080"/><stop offset=".798" stop-color="#aeaeae"/><stop offset="1" stop-color="#e3e3e3"/></linearGradient><path fill="url(#c226)" stroke="url(#c226)" d="M345 81Q351 71.6 357 20.7L352.5 8Q348.7 70.5 345 81z"/><linearGradient id="c227" href="#u" x1="345" y1="81" x2="344" y2="12.7"><stop offset="0" stop-color="#000"/><stop offset=".048" stop-color="#040404"/><stop offset=".118" stop-color="#0f0f0f"/><stop offset=".21" stop-color="#212121"/><stop offset=".324" stop-color="#3b3b3b"/><stop offset=".46" stop-color="#5c5c5c"/><stop offset=".618" stop-color="#858585"/><stop offset=".798" stop-color="#b5b5b5"/><stop offset="1" stop-color="#ececec"/></linearGradient><path fill="url(#c227)" stroke="url(#c227)" d="M345 81Q348.7 70.5 352.5 8L346.7 16.7Q345.8 71.3 345 81z"/><linearGradient id="c228" href="#u" x1="345" y1="81" x2="343.8" y2="20.3"><stop offset="0" stop-color="#000"/><stop offset=".049" stop-color="#030303"/><stop offset=".12" stop-color="#0d0d0d"/><stop offset=".213" stop-color="#1d1d1d"/><stop offset=".327" stop-color="#333"/><stop offset=".463" stop-color="#505050"/><stop offset=".62" stop-color="#747474"/><stop offset=".799" stop-color="#9d9d9d"/><stop offset="1" stop-color="#cecece"/></linearGradient><path fill="url(#c228)" stroke="url(#c228)" d="M345 81Q345.8 71.3 346.7 16.7L341.7 23.6Q343.4 71.9 345 81z"/><linearGradient id="c229" href="#u" x1="345" y1="81" x2="343.6" y2="26.4"><stop offset="0" stop-color="#000"/><stop offset=".051" stop-color="#030303"/><stop offset=".123" stop-color="#0b0b0b"/><stop offset=".216" stop-color="#1a1a1a"/><stop offset=".331" stop-color="#2d2d2d"/><stop offset=".466" stop-color="#474747"/><stop offset=".623" stop-color="#666"/><stop offset=".801" stop-color="#8b8b8b"/><stop offset="1" stop-color="#b5b5b5"/></linearGradient><path fill="url(#c229)" stroke="url(#c229)" d="M345 81Q343.4 71.9 341.7 23.6L337.4 29.2Q341.2 72.5 345 81z"/><linearGradient id="c230" href="#u" x1="345" y1="81" x2="343.5" y2="31.4"><stop offset="0" stop-color="#000"/><stop offset=".052" stop-color="#030303"/><stop offset=".126" stop-color="#0a0a0a"/><stop offset=".219" stop-color="#171717"/><stop offset=".334" stop-color="#282828"/><stop offset=".469" stop-color="#3f3f3f"/><stop offset=".626" stop-color="#5b5b5b"/><stop offset=".802" stop-color="#7c7c7c"/><stop offset="1" stop-color="#a2a2a2"/></linearGradient><path fill="url(#c230)" stroke="url(#c230)" d="M345 81Q341.2 72.5 337.4 29.2L333.5 33.9Q339.2 73.1 345 81z"/><linearGradient id="c231" href="#u" x1="345" y1="81" x2="343.4" y2="35.6"><stop offset="0" stop-color="#000"/><stop offset=".128" stop-color="#090909"/><stop offset=".337" stop-color="#242424"/><stop offset=".628" stop-color="#525252"/><stop offset="1" stop-color="#919191"/></linearGradient><path fill="url(#c231)" stroke="url(#c231)" d="M345 81Q339.2 73.1 333.5 33.9L329.9 38Q337.4 73.5 345 81z"/><linearGradient id="c232" href="#u" x1="345" y1="81" x2="343.3" y2="39.3"><stop offset="0" stop-color="#000"/><stop offset=".13" stop-color="#080808"/><stop offset=".341" stop-color="#212121"/><stop offset=".63" stop-color="#4a4a4a"/><stop offset="1" stop-color="#838383"/></linearGradient><path fill="url(#c232)" stroke="url(#c232)" d="M345 81Q337.4 73.5 329.9 38L326.5 41.7Q335.7 74 345 81z"/><linearGradient id="c233" href="#u" x1="345" y1="81" x2="343.1" y2="42.5"><stop offset="0" stop-color="#000"/><stop offset=".133" stop-color="#070707"/><stop offset=".344" stop-color="#1e1e1e"/><stop offset=".633" stop-color="#434343"/><stop offset="1" stop-color="#767676"/></linearGradient><path fill="url(#c233)" stroke="url(#c233)" d="M345 81Q335.7 74 326.5 41.7L323.2 44.9Q334.1 74.4 345 81z"/><linearGradient id="c234" href="#u" x1="345" y1="81" x2="343" y2="45.3"><stop offset="0" stop-color="#000"/><stop offset=".136" stop-color="#070707"/><stop offset=".347" stop-color="#1b1b1b"/><stop offset=".636" stop-color="#3c3c3c"/><stop offset="1" stop-color="#6b6b6b"/></linearGradient><path fill="url(#c234)" stroke="url(#c234)" d="M345 81Q334.1 74.4 323.2 44.9L320 48Q332.5 74.9 345 81z"/><linearGradient id="c235" href="#u" x1="345" y1="81" x2="342.9" y2="47.9"><stop offset="0" stop-color="#000"/><stop offset=".138" stop-color="#060606"/><stop offset=".351" stop-color="#181818"/><stop offset=".638" stop-color="#373737"/><stop offset="1" stop-color="#616161"/></linearGradient><path fill="url(#c235)" stroke="url(#c235)" d="M345 81Q332.5 74.9 320 48L316.8 50.8Q330.9 75.3 345 81z"/><linearGradient id="c236" href="#u" x1="345" y1="81" x2="342.8" y2="50.1"><stop offset="0" stop-color="#000"/><stop offset=".141" stop-color="#050505"/><stop offset=".355" stop-color="#161616"/><stop offset=".641" stop-color="#313131"/><stop offset="1" stop-color="#585858"/></linearGradient><path fill="url(#c236)" stroke="url(#c236)" d="M345 81Q330.9 75.3 316.8 50.8L313.5 53.4Q329.3 75.7 345 81z"/><linearGradient id="c237" href="#u" x1="345" y1="81" x2="342.7" y2="52.2"><stop offset="0" stop-color="#000"/><stop offset=".145" stop-color="#050505"/><stop offset=".36" stop-color="#141414"/><stop offset=".645" stop-color="#2d2d2d"/><stop offset="1" stop-color="#505050"/></linearGradient><path fill="url(#c237)" stroke="url(#c237)" d="M345 81Q329.3 75.7 313.5 53.4L310.1 56Q327.6 76.2 345 81z"/><linearGradient id="c238" href="#u" x1="345" y1="81" x2="342.5" y2="54"><stop offset="0" stop-color="#000"/><stop offset=".149" stop-color="#050505"/><stop offset=".365" stop-color="#121212"/><stop offset=".649" stop-color="#292929"/><stop offset="1" stop-color="#484848"/></linearGradient><path fill="url(#c238)" stroke="url(#c238)" d="M345 81Q327.6 76.2 310.1 56L306.5 58.4Q325.8 76.7 345 81z"/><linearGradient id="c239" href="#u" x1="345" y1="81" x2="342.2" y2="55.5"><stop offset="0" stop-color="#000"/><stop offset=".154" stop-color="#040404"/><stop offset=".371" stop-color="#101010"/><stop offset=".654" stop-color="#252525"/><stop offset="1" stop-color="#414141"/></linearGradient><path fill="url(#c239)" stroke="url(#c239)" d="M345 81Q325.8 76.7 306.5 58.4L302.6 60.8Q323.8 77.2 345 81z"/><linearGradient id="c240" href="#u" x1="345" y1="81" x2="341.8" y2="56.5"><stop offset="0" stop-color="#000"/><stop offset=".159" stop-color="#040404"/><stop offset=".379" stop-color="#0f0f0f"/><stop offset=".659" stop-color="#212121"/><stop offset="1" stop-color="#3b3b3b"/></linearGradient><path fill="url(#c240)" stroke="url(#c240)" d="M345 81Q323.8 77.2 302.6 60.8L298.3 63.1Q321.6 77.8 345 81z"/><linearGradient id="c241" href="#u" x1="345" y1="81" x2="341" y2="56.7"><stop offset="0" stop-color="#000"/><stop offset=".167" stop-color="#030303"/><stop offset=".389" stop-color="#0e0e0e"/><stop offset=".667" stop-color="#1f1f1f"/><stop offset="1" stop-color="#363636"/></linearGradient><path fill="url(#c241)" stroke="url(#c241)" d="M345 81Q321.6 77.8 298.3 63.1L293.3 65.2Q319.2 78.5 345 81z"/><linearGradient id="c242" href="#u" x1="345" y1="81" x2="339.3" y2="55.4"><stop offset="0" stop-color="#000"/><stop offset=".177" stop-color="#030303"/><stop offset=".403" stop-color="#0d0d0d"/><stop offset=".677" stop-color="#1d1d1d"/><stop offset="1" stop-color="#333"/></linearGradient><path fill="url(#c242)" stroke="url(#c242)" d="M345 81Q319.2 78.5 293.3 65.2L287.5 67.1Q316.3 79.2 345 81z"/><linearGradient id="c243" href="#u" x1="345" y1="81" x2="335.8" y2="54.2"><stop offset="0" stop-color="#000"/><stop offset=".196" stop-color="#030303"/><stop offset=".428" stop-color="#0b0b0b"/><stop offset=".696" stop-color="#181818"/><stop offset="1" stop-color="#2a2a2a"/></linearGradient><path fill="url(#c243)" stroke="url(#c243)" d="M345 81Q316.3 79.2 287.5 67.1L292 72.4Q318.5 80.3 345 81z"/><linearGradient id="c244" href="#u" x1="345" y1="81" x2="321.8" y2="52"><stop offset="0" stop-color="#000"/><stop offset=".466" stop-color="#080808"/><stop offset="1" stop-color="#1f1f1f"/></linearGradient><path fill="url(#c244)" stroke="url(#c244)" d="M345 81Q318.5 80.3 292 72.4L295.8 75.8Q320.4 81.3 345 81z"/><linearGradient id="c245" href="#u" x1="345" y1="81" x2="309.7" y2="99.9"><stop offset="0" stop-color="#000"/><stop offset=".516" stop-color="#070707"/><stop offset="1" stop-color="#1b1b1b"/></linearGradient><path fill="url(#c245)" stroke="url(#c245)" d="M345 81Q320.4 81.3 295.8 75.8L299.1 78Q322.1 82.1 345 81z"/><linearGradient id="c246" href="#u" x1="345" y1="81" x2="339.6" y2="94.4"><stop offset="0" stop-color="#000"/><stop offset=".584" stop-color="#060606"/><stop offset="1" stop-color="#1a1a1a"/></linearGradient><path fill="url(#c246)" stroke="url(#c246)" d="M345 81Q322.1 82.1 299.1 78L302.1 79.3Q323.6 82.8 345 81z"/><linearGradient id="c247" href="#u" x1="345" y1="81" x2="343.5" y2="88.2"><stop offset="0" stop-color="#000"/><stop offset=".686" stop-color="#070707"/><stop offset="1" stop-color="#1c1c1c"/></linearGradient><path fill="url(#c247)" stroke="url(#c247)" d="M345 81Q323.6 82.8 302.1 79.3L304.9 80Q325 83.5 345 81z"/><linearGradient id="c248" href="#u" x1="345" y1="81" x2="344.4" y2="85.6"><stop offset="0" stop-color="#000"/><stop offset=".75" stop-color="#060606"/><stop offset="1" stop-color="#171717"/></linearGradient><path fill="url(#c248)" stroke="url(#c248)" d="M345 81Q328 83.1 311 80.9L313.2 81.3Q329.1 83.7 345 81z"/><linearGradient id="c250" href="#u" x1="345" y1="81" x2="344.7" y2="84.5"><stop offset="0" stop-color="#000"/><stop offset=".75" stop-color="#040404"/><stop offset="1" stop-color="#111"/></linearGradient><path fill="url(#c250)" stroke="url(#c250)" d="M345 81Q332.4 83.1 319.8 82L321.5 82.2Q333.3 83.5 345 81z"/><linearGradient id="c252" href="#u" x1="345" y1="81" x2="344.8" y2="83.9"><stop offset="0" stop-color="#000"/><stop offset=".75" stop-color="#040404"/><stop offset="1" stop-color="#0e0e0e"/></linearGradient><path fill="url(#c252)" stroke="url(#c252)" d="M345 81Q335.2 83.1 325.5 82.5L326.8 82.6Q335.9 83.4 345 81z"/><linearGradient id="c254" href="#u" x1="345" y1="81" x2="344.9" y2="83.6"><stop offset="0" stop-color="#000"/><stop offset=".75" stop-color="#030303"/><stop offset="1" stop-color="#0d0d0d"/></linearGradient><path fill="url(#c254)" stroke="url(#c254)" d="M345 81Q337.2 83.1 329.4 82.8L330.6 82.9Q337.8 83.4 345 81z"/><linearGradient id="c256" href="#u" x1="345" y1="81" x2="344.9" y2="83.4"><stop offset="0" stop-color="#000"/><stop offset=".75" stop-color="#030303"/><stop offset="1" stop-color="#0c0c0c"/></linearGradient><path fill="url(#c256)" stroke="url(#c256)" d="M345 81Q338.7 83.1 332.4 83L333.5 83Q339.2 83.3 345 81z"/><linearGradient id="c258" href="#u" x1="345" y1="81" x2="344.9" y2="83.3"><stop offset="0" stop-color="#000"/><stop offset=".749" stop-color="#030303"/><stop offset="1" stop-color="#0b0b0b"/></linearGradient><path fill="url(#c258)" stroke="url(#c258)" d="M345 81Q339.9 83.1 334.8 83L335.8 83.1Q340.4 83.3 345 81z"/><linearGradient id="c260" href="#u" x1="345" y1="81" x2="345" y2="83.2"><stop offset="0" stop-color="#000"/><stop offset=".749" stop-color="#030303"/><stop offset="1" stop-color="#0b0b0b"/></linearGradient><path fill="url(#c260)" stroke="url(#c260)" d="M345 81Q340.9 83.1 336.8 83.1L337.7 83.1Q341.3 83.3 345 81z"/><linearGradient id="c262" href="#u" x1="345" y1="81" x2="345" y2="83.2"><stop offset="0" stop-color="#000"/><stop offset=".75" stop-color="#030303"/><stop offset="1" stop-color="#0b0b0b"/></linearGradient><path fill="url(#c262)" stroke="url(#c262)" d="M345 81Q341.7 83 338.4 83.1L339.3 83.1Q342.2 83.3 345 81z"/><linearGradient id="c264" href="#u" x1="345" y1="81" x2="345" y2="83.1"><stop offset="0" stop-color="#000"/><stop offset=".75" stop-color="#030303"/><stop offset="1" stop-color="#0b0b0b"/></linearGradient><path fill="url(#c264)" stroke="url(#c264)" d="M345 81Q342.5 83 339.9 83.1L340.8 83.1Q342.9 83.3 345 81z"/><linearGradient id="c266" href="#u" x1="345" y1="81" x2="345" y2="83.1"><stop offset="0" stop-color="#000"/><stop offset=".75" stop-color="#030303"/><stop offset="1" stop-color="#0a0a0a"/></linearGradient><path fill="url(#c266)" stroke="url(#c266)" d="M345 81Q343.1 83 341.2 83.1L342.1 83.1Q343.6 83.2 345 81z"/><linearGradient id="c268" href="#u" x1="345" y1="81" x2="345" y2="83.1"><stop offset="0" stop-color="#000"/><stop offset=".751" stop-color="#030303"/><stop offset="1" stop-color="#0a0a0a"/></linearGradient><path fill="url(#c268)" stroke="url(#c268)" d="M345 81Q343.7 83 342.4 83.1L343.4 83.1Q344.2 83.2 345 81z"/><linearGradient id="c270" href="#u" x1="345" y1="81" x2="345" y2="83.1"><stop offset="0" stop-color="#000"/><stop offset=".75" stop-color="#030303"/><stop offset="1" stop-color="#0a0a0a"/></linearGradient><path fill="url(#c270)" stroke="url(#c270)" d="M345 81Q344.2 83.2 343.4 83.1L344.7 83.1Q344.8 83 345 81z"/><linearGradient id="c272" href="#u" x1="345" y1="81" x2="345" y2="83.1"><stop offset="0" stop-color="#000"/><stop offset=".75" stop-color="#030303"/><stop offset="1" stop-color="#0a0a0a"/></linearGradient><path fill="url(#c272)" stroke="url(#c272)" d="M345 81Q344.8 83.2 344.6 83.1L345.7 83.1Q345.4 83 345 81z"/><linearGradient id="c274" href="#u" x1="345" y1="81" x2="345.1" y2="83.1"><stop offset="0" stop-color="#000"/><stop offset=".751" stop-color="#030303"/><stop offset="1" stop-color="#0a0a0a"/></linearGradient><path fill="url(#c274)" stroke="url(#c274)" d="M345 81Q345.4 83.2 345.8 83.1L346.8 83.1Q345.9 83 345 81z"/><linearGradient id="c276" href="#u" x1="345" y1="81" x2="345.1" y2="83.1"><stop offset="0" stop-color="#000"/><stop offset=".749" stop-color="#030303"/><stop offset="1" stop-color="#0a0a0a"/></linearGradient><path fill="url(#c276)" stroke="url(#c276)" d="M345 81Q346 83.1 346.9 83L347.9 83Q346.5 83 345 81z"/><linearGradient id="c278" href="#u" x1="345" y1="81" x2="345.1" y2="83.1"><stop offset="0" stop-color="#000"/><stop offset=".751" stop-color="#030303"/><stop offset="1" stop-color="#0a0a0a"/></linearGradient><path fill="url(#c278)" stroke="url(#c278)" d="M345 81Q346.6 83.1 348.1 83L349.1 83Q347 83 345 81z"/><linearGradient id="c280" href="#u" x1="345" y1="81" x2="345.1" y2="83.1"><stop offset="0" stop-color="#000"/><stop offset=".749" stop-color="#030303"/><stop offset="1" stop-color="#0b0b0b"/></linearGradient><path fill="url(#c280)" stroke="url(#c280)" d="M345 81Q347.1 83.1 349.3 83L350.3 82.9Q347.6 83 345 81z"/><linearGradient id="c282" href="#u" x1="345" y1="81" x2="345.1" y2="83.2"><stop offset="0" stop-color="#000"/><stop offset=".75" stop-color="#030303"/><stop offset="1" stop-color="#0b0b0b"/></linearGradient><path fill="url(#c282)" stroke="url(#c282)" d="M345 81Q347.8 83.1 350.6 82.9L351.6 82.9Q348.3 83 345 81z"/><linearGradient id="c284" href="#u" x1="345" y1="81" x2="345.1" y2="83.2"><stop offset="0" stop-color="#000"/><stop offset=".751" stop-color="#030303"/><stop offset="1" stop-color="#0b0b0b"/></linearGradient><path fill="url(#c284)" stroke="url(#c284)" d="M345 81Q348.5 83.1 352 82.8L353 82.8Q349 83 345 81z"/><linearGradient id="c286" href="#u" x1="345" y1="81" x2="345.1" y2="83.3"><stop offset="0" stop-color="#000"/><stop offset=".75" stop-color="#030303"/><stop offset="1" stop-color="#0b0b0b"/></linearGradient><path fill="url(#c286)" stroke="url(#c286)" d="M345 81Q349.2 83.1 353.5 82.8L354.6 82.7Q349.8 82.9 345 81z"/><linearGradient id="c288" href="#u" x1="345" y1="81" x2="345.2" y2="83.4"><stop offset="0" stop-color="#000"/><stop offset=".75" stop-color="#030303"/><stop offset="1" stop-color="#0c0c0c"/></linearGradient><path fill="url(#c288)" stroke="url(#c288)" d="M345 81Q350.1 83.1 355.3 82.6L356.4 82.6Q350.7 82.9 345 81z"/><linearGradient id="c290" href="#u" x1="345" y1="81" x2="345.2" y2="83.5"><stop offset="0" stop-color="#000"/><stop offset=".75" stop-color="#030303"/><stop offset="1" stop-color="#0c0c0c"/></linearGradient><path fill="url(#c290)" stroke="url(#c290)" d="M345 81Q351.2 83.1 357.3 82.5L358.7 82.4Q351.8 82.9 345 81z"/><linearGradient id="c292" href="#u" x1="345" y1="81" x2="345.2" y2="83.7"><stop offset="0" stop-color="#000"/><stop offset=".75" stop-color="#030303"/><stop offset="1" stop-color="#0d0d0d"/></linearGradient><path fill="url(#c292)" stroke="url(#c292)" d="M345 81Q352.5 83.1 359.9 82.3L361.4 82.1Q353.2 82.8 345 81z"/><linearGradient id="c294" href="#u" x1="345" y1="81" x2="345.3" y2="83.9"><stop offset="0" stop-color="#000"/><stop offset=".75" stop-color="#040404"/><stop offset="1" stop-color="#0f0f0f"/></linearGradient><path fill="url(#c294)" stroke="url(#c294)" d="M345 81Q354.1 83 363.2 82L365 81.8Q355 82.8 345 81z"/><linearGradient id="c296" href="#u" x1="345" y1="81" x2="345.4" y2="84.4"><stop offset="0" stop-color="#000"/><stop offset=".75" stop-color="#040404"/><stop offset="1" stop-color="#111"/></linearGradient><path fill="url(#c296)" stroke="url(#c296)" d="M345 81Q356.3 83 367.6 81.4L369.9 81.1Q357.5 82.7 345 81z"/><linearGradient id="c298" href="#u" x1="345" y1="81" x2="345.7" y2="85.2"><stop offset="0" stop-color="#000"/><stop offset=".75" stop-color="#050505"/><stop offset="1" stop-color="#151515"/></linearGradient><path fill="url(#c298)" stroke="url(#c298)" d="M345 81Q359.6 83 374.3 80.5L377.4 80Q361.2 82.6 345 81z"/><linearGradient id="c300" href="#u" x1="345" y1="81" x2="346.4" y2="87.1"><stop offset="0" stop-color="#000"/><stop offset=".75" stop-color="#080808"/><stop offset="1" stop-color="#202020"/></linearGradient><path fill="url(#c300)" stroke="url(#c300)" d="M345 81Q365.2 83 385.4 78.4L390 77.4Q367.5 82.4 345 81z"/><linearGradient id="c302" href="#u" x1="345" y1="81" x2="348.9" y2="92.3"><stop offset="0" stop-color="#000"/><stop offset=".378" stop-color="#030303"/><stop offset=".671" stop-color="#0b0b0b"/><stop offset=".878" stop-color="#181818"/><stop offset="1" stop-color="#2a2a2a"/></linearGradient><path fill="url(#c302)" stroke="url(#c302)" d="M345 81Q373.7 82.7 402.5 74.1L398 75Q371.5 81.7 345 81z"/><linearGradient id="c303" href="#u" x1="345" y1="81" x2="361.9" y2="102.2"><stop offset="0" stop-color="#000"/><stop offset=".546" stop-color="#080808"/><stop offset="1" stop-color="#1f1f1f"/></linearGradient><path fill="url(#c303)" stroke="url(#c303)" d="M345 81Q371.5 81.7 398 75L394.2 74.6Q369.6 80.7 345 81z"/><linearGradient id="c304" href="#u" x1="345" y1="81" x2="384.8" y2="59.7"><stop offset="0" stop-color="#000"/><stop offset=".486" stop-color="#070707"/><stop offset="1" stop-color="#1b1b1b"/></linearGradient><path fill="url(#c304)" stroke="url(#c304)" d="M345 81Q369.6 80.7 394.2 74.6L390.9 73.6Q367.9 79.9 345 81z"/><linearGradient id="c305" href="#u" x1="345" y1="81" x2="354" y2="58.7"><stop offset="0" stop-color="#000"/><stop offset=".45" stop-color="#060606"/><stop offset="1" stop-color="#1a1a1a"/></linearGradient><path fill="url(#c305)" stroke="url(#c305)" d="M345 81Q367.9 79.9 390.9 73.6L387.9 72Q366.4 79.2 345 81z"/><linearGradient id="c306" href="#u" x1="345" y1="81" x2="348.8" y2="63"><stop offset="0" stop-color="#000"/><stop offset=".425" stop-color="#070707"/><stop offset="1" stop-color="#1c1c1c"/></linearGradient><path fill="url(#c306)" stroke="url(#c306)" d="M345 81Q366.4 79.2 387.9 72L385.1 70Q365 78.5 345 81z"/><linearGradient id="c307" href="#u" x1="345" y1="81" x2="347.4" y2="63.8"><stop offset="0" stop-color="#000"/><stop offset=".407" stop-color="#080808"/><stop offset="1" stop-color="#202020"/></linearGradient><path fill="url(#c307)" stroke="url(#c307)" d="M345 81Q365 78.5 385.1 70L382.5 67.6Q363.7 77.8 345 81z"/><linearGradient id="c308" href="#u" x1="345" y1="81" x2="346.7" y2="63"><stop offset="0" stop-color="#000"/><stop offset=".393" stop-color="#0a0a0a"/><stop offset="1" stop-color="#262626"/></linearGradient><path fill="url(#c308)" stroke="url(#c308)" d="M345 81Q363.7 77.8 382.5 67.6L380 64.9Q362.5 77.2 345 81z"/><linearGradient id="c309" href="#u" x1="345" y1="81" x2="346.4" y2="61.1"><stop offset="0" stop-color="#000"/><stop offset=".161" stop-color="#030303"/><stop offset=".382" stop-color="#0c0c0c"/><stop offset=".661" stop-color="#1a1a1a"/><stop offset="1" stop-color="#2e2e2e"/></linearGradient><path fill="url(#c309)" stroke="url(#c309)" d="M345 81Q362.5 77.2 380 64.9L377.5 61.9Q361.2 76.6 345 81z"/></g></g><g filter="url(#cm)"><g stroke-width="0.35" stroke-linejoin="round"><linearGradient id="c249" href="#u" x1="312.1" y1="81.1" x2="312.1" y2="81"><stop offset="0" stop-color="#171717"/><stop offset="1" stop-color="#202020"/></linearGradient><path fill="url(#c249)" stroke="url(#c249)" d="M311 80.9Q307.9 80.6 304.9 80L307.5 80.2Q310.4 80.8 313.2 81.3z"/><linearGradient id="c251" href="#u" x1="320.7" y1="82.2" x2="320.8" y2="81.3"><stop offset="0" stop-color="#111"/><stop offset="1" stop-color="#262626"/></linearGradient><path fill="url(#c251)" stroke="url(#c251)" d="M319.8 82Q313.7 81.5 307.5 80.2L310 80Q315.8 81.6 321.5 82.2z"/><linearGradient id="c253" href="#u" x1="326.2" y1="82.6" x2="326.3" y2="80.8"><stop offset="0" stop-color="#0e0e0e"/><stop offset="1" stop-color="#2e2e2e"/></linearGradient><path fill="url(#c253)" stroke="url(#c253)" d="M325.5 82.5Q317.8 82.1 310 80L312.5 79.4Q319.7 82 326.8 82.6z"/><linearGradient id="c255" href="#u" x1="330" y1="82.8" x2="330.2" y2="79.7"><stop offset="0" stop-color="#0d0d0d"/><stop offset=".25" stop-color="#1f1f1f"/><stop offset="1" stop-color="#383838"/></linearGradient><path fill="url(#c255)" stroke="url(#c255)" d="M329.4 82.8Q321 82.5 312.5 79.4L315 78.3Q322.8 82.3 330.6 82.9z"/><linearGradient id="c257" href="#u" x1="332.9" y1="83" x2="333.1" y2="78.3"><stop offset="0" stop-color="#0c0c0c"/><stop offset=".25" stop-color="#222"/><stop offset="1" stop-color="#444"/></linearGradient><path fill="url(#c257)" stroke="url(#c257)" d="M332.4 83Q323.7 82.8 315 78.3L317.5 76.8Q325.5 82.5 333.5 83z"/><linearGradient id="c259" href="#u" x1="335.3" y1="83.1" x2="335.5" y2="76.4"><stop offset="0" stop-color="#0b0b0b"/><stop offset=".25" stop-color="#272727"/><stop offset="1" stop-color="#535353"/></linearGradient><path fill="url(#c259)" stroke="url(#c259)" d="M334.8 83Q326.1 83 317.5 76.8L320.1 74.8Q327.9 82.6 335.8 83.1z"/><linearGradient id="c261" href="#u" x1="337.2" y1="83.1" x2="337.4" y2="73.9"><stop offset="0" stop-color="#0b0b0b"/><stop offset=".062" stop-color="#191919"/><stop offset=".25" stop-color="#2c2c2c"/><stop offset=".562" stop-color="#464646"/><stop offset="1" stop-color="#656565"/></linearGradient><path fill="url(#c261)" stroke="url(#c261)" d="M336.8 83.1Q328.4 83.1 320.1 74.8L322.9 72.2Q330.3 82.7 337.7 83.1z"/><linearGradient id="c263" href="#u" x1="338.9" y1="83.1" x2="339" y2="70.8"><stop offset="0" stop-color="#0b0b0b"/><stop offset=".062" stop-color="#1b1b1b"/><stop offset=".25" stop-color="#333"/><stop offset=".562" stop-color="#535353"/><stop offset="1" stop-color="#7a7a7a"/></linearGradient><path fill="url(#c263)" stroke="url(#c263)" d="M338.4 83.1Q330.6 83.3 322.9 72.2L325.9 68.8Q332.6 82.8 339.3 83.1z"/><linearGradient id="c265" href="#u" x1="340.3" y1="83.1" x2="340.4" y2="66.8"><stop offset="0" stop-color="#0b0b0b"/><stop offset=".063" stop-color="#1e1e1e"/><stop offset=".25" stop-color="#3c3c3c"/><stop offset=".563" stop-color="#636363"/><stop offset="1" stop-color="#959595"/></linearGradient><path fill="url(#c265)" stroke="url(#c265)" d="M339.9 83.1Q332.9 83.4 325.9 68.8L329.2 64.4Q335 82.8 340.8 83.1z"/><linearGradient id="c267" href="#u" x1="341.7" y1="83.1" x2="341.6" y2="61.5"><stop offset="0" stop-color="#0a0a0a"/><stop offset=".063" stop-color="#222"/><stop offset=".25" stop-color="#464646"/><stop offset=".563" stop-color="#787878"/><stop offset="1" stop-color="#b7b7b7"/></linearGradient><path fill="url(#c267)" stroke="url(#c267)" d="M341.2 83.1Q335.2 83.5 329.2 64.4L333 58.3Q337.6 82.7 342.1 83.1z"/><linearGradient id="c269" href="#u" x1="342.9" y1="83.1" x2="342.6" y2="54.4"><stop offset="0" stop-color="#0a0a0a"/><stop offset=".063" stop-color="#262626"/><stop offset=".25" stop-color="#545454"/><stop offset=".563" stop-color="#939393"/><stop offset="1" stop-color="#e3e3e3"/></linearGradient><path fill="url(#c269)" stroke="url(#c269)" d="M342.4 83.1Q337.7 83.5 333 58.3L337.5 50Q340.4 82.6 343.4 83.1z"/><linearGradient id="c271" href="#u" x1="344.1" y1="83.1" x2="343.6" y2="52.9"><stop offset="0" stop-color="#0a0a0a"/><stop offset=".063" stop-color="#272727"/><stop offset=".25" stop-color="#565656"/><stop offset=".563" stop-color="#989898"/><stop offset="1" stop-color="#ececec"/></linearGradient><path fill="url(#c271)" stroke="url(#c271)" d="M343.4 83.1Q340.5 82.8 337.5 50L343.3 55.6Q344 83.4 344.7 83.1z"/><linearGradient id="c273" href="#u" x1="345.2" y1="83.1" x2="344.7" y2="57.8"><stop offset="0" stop-color="#0a0a0a"/><stop offset=".063" stop-color="#242424"/><stop offset=".25" stop-color="#4d4d4d"/><stop offset=".563" stop-color="#868686"/><stop offset="1" stop-color="#cecece"/></linearGradient><path fill="url(#c273)" stroke="url(#c273)" d="M344.6 83.1Q344 82.8 343.3 55.6L348.3 59.8Q347 83.3 345.7 83.1z"/><linearGradient id="c275" href="#u" x1="346.3" y1="83.1" x2="345.8" y2="61.6"><stop offset="0" stop-color="#0a0a0a"/><stop offset=".063" stop-color="#212121"/><stop offset=".25" stop-color="#464646"/><stop offset=".563" stop-color="#777"/><stop offset="1" stop-color="#b5b5b5"/></linearGradient><path fill="url(#c275)" stroke="url(#c275)" d="M345.8 83.1Q347 82.8 348.3 59.8L352.6 63Q349.7 83.2 346.8 83.1z"/><linearGradient id="c277" href="#u" x1="347.4" y1="83" x2="346.9" y2="64.7"><stop offset="0" stop-color="#0a0a0a"/><stop offset=".062" stop-color="#1f1f1f"/><stop offset=".25" stop-color="#3f3f3f"/><stop offset=".562" stop-color="#6b6b6b"/><stop offset="1" stop-color="#a2a2a2"/></linearGradient><path fill="url(#c277)" stroke="url(#c277)" d="M346.9 83Q349.8 82.8 352.6 63L356.5 65.7Q352.2 83.1 347.9 83z"/><linearGradient id="c279" href="#u" x1="348.6" y1="83" x2="348" y2="67.2"><stop offset="0" stop-color="#0a0a0a"/><stop offset=".063" stop-color="#1e1e1e"/><stop offset=".25" stop-color="#3a3a3a"/><stop offset=".563" stop-color="#616161"/><stop offset="1" stop-color="#919191"/></linearGradient><path fill="url(#c279)" stroke="url(#c279)" d="M348.1 83Q352.3 82.7 356.5 65.7L360.1 67.8Q354.6 82.9 349.1 83z"/><linearGradient id="c281" href="#u" x1="349.8" y1="83" x2="349.2" y2="69.3"><stop offset="0" stop-color="#0b0b0b"/><stop offset=".062" stop-color="#1c1c1c"/><stop offset=".25" stop-color="#363636"/><stop offset=".562" stop-color="#585858"/><stop offset="1" stop-color="#838383"/></linearGradient><path fill="url(#c281)" stroke="url(#c281)" d="M349.3 83Q354.7 82.6 360.1 67.8L363.5 69.6Q356.9 82.8 350.3 82.9z"/><linearGradient id="c283" href="#u" x1="351.1" y1="82.9" x2="350.5" y2="71.1"><stop offset="0" stop-color="#0b0b0b"/><stop offset=".063" stop-color="#1b1b1b"/><stop offset=".25" stop-color="#323232"/><stop offset=".563" stop-color="#515151"/><stop offset="1" stop-color="#767676"/></linearGradient><path fill="url(#c283)" stroke="url(#c283)" d="M350.6 82.9Q357.1 82.5 363.5 69.6L366.8 71.2Q359.2 82.6 351.6 82.9z"/><linearGradient id="c285" href="#u" x1="352.5" y1="82.8" x2="351.9" y2="72.7"><stop offset="0" stop-color="#0b0b0b"/><stop offset=".063" stop-color="#1a1a1a"/><stop offset=".25" stop-color="#2f2f2f"/><stop offset=".563" stop-color="#4a4a4a"/><stop offset="1" stop-color="#6b6b6b"/></linearGradient><path fill="url(#c285)" stroke="url(#c285)" d="M352 82.8Q359.4 82.3 366.8 71.2L370 72.4Q361.5 82.4 353 82.8z"/><linearGradient id="c287" href="#u" x1="354" y1="82.7" x2="353.5" y2="74.1"><stop offset="0" stop-color="#0b0b0b"/><stop offset=".062" stop-color="#191919"/><stop offset=".25" stop-color="#2c2c2c"/><stop offset=".562" stop-color="#444"/><stop offset="1" stop-color="#616161"/></linearGradient><path fill="url(#c287)" stroke="url(#c287)" d="M353.5 82.8Q361.7 82.1 370 72.4L373.2 73.5Q363.9 82.2 354.6 82.7z"/><linearGradient id="c289" href="#u" x1="355.8" y1="82.6" x2="355.3" y2="75.4"><stop offset="0" stop-color="#0c0c0c"/><stop offset=".25" stop-color="#292929"/><stop offset="1" stop-color="#585858"/></linearGradient><path fill="url(#c289)" stroke="url(#c289)" d="M355.3 82.6Q364.2 81.9 373.2 73.5L376.5 74.4Q366.5 82 356.4 82.6z"/><linearGradient id="c291" href="#u" x1="358" y1="82.4" x2="357.5" y2="76.5"><stop offset="0" stop-color="#0c0c0c"/><stop offset=".25" stop-color="#272727"/><stop offset="1" stop-color="#505050"/></linearGradient><path fill="url(#c291)" stroke="url(#c291)" d="M357.3 82.5Q366.9 81.6 376.5 74.4L379.9 75.1Q369.3 81.6 358.7 82.4z"/><linearGradient id="c293" href="#u" x1="360.7" y1="82.2" x2="360.2" y2="77.4"><stop offset="0" stop-color="#0d0d0d"/><stop offset=".25" stop-color="#252525"/><stop offset="1" stop-color="#484848"/></linearGradient><path fill="url(#c293)" stroke="url(#c293)" d="M359.9 82.3Q369.9 81.2 379.9 75.1L383.5 75.7Q372.5 81.2 361.4 82.1z"/><linearGradient id="c295" href="#u" x1="364.1" y1="81.9" x2="363.7" y2="78.2"><stop offset="0" stop-color="#0f0f0f"/><stop offset=".25" stop-color="#232323"/><stop offset="1" stop-color="#414141"/></linearGradient><path fill="url(#c295)" stroke="url(#c295)" d="M363.2 82Q373.3 80.8 383.5 75.7L387.4 75.9Q376.2 80.6 365 81.8z"/><linearGradient id="c297" href="#u" x1="368.7" y1="81.3" x2="368.4" y2="78.7"><stop offset="0" stop-color="#111"/><stop offset=".25" stop-color="#232323"/><stop offset="1" stop-color="#3b3b3b"/></linearGradient><path fill="url(#c297)" stroke="url(#c297)" d="M367.6 81.4Q377.5 80.1 387.4 75.9L391.7 75.9Q380.8 79.7 369.9 81.1z"/><linearGradient id="c299" href="#u" x1="375.8" y1="80.3" x2="375.5" y2="78.7"><stop offset="0" stop-color="#151515"/><stop offset="1" stop-color="#363636"/></linearGradient><path fill="url(#c299)" stroke="url(#c299)" d="M374.3 80.5Q383 79 391.7 75.9L396.7 75.3Q387 78.4 377.4 80z"/><linearGradient id="c301" href="#u" x1="387.6" y1="78" x2="387.5" y2="77.5"><stop offset="0" stop-color="#202020"/><stop offset="1" stop-color="#333"/></linearGradient><path fill="url(#c301)" stroke="url(#c301)" d="M385.4 78.4Q391.1 77.1 396.7 75.3L402.5 74.1Q396.2 76 390 77.4z"/></g></g></g><text x="340.1" y="107.8">-100</text><text x="356.4" y="103.4">-50</text><text x="372.6" y="99">0</text><text x="388.9" y="94.6">50</text><text x="405.1" y="90.2">100</text><text x="334.5" y="107.1" text-anchor="end">-100</text><text x="322" y="101" text-anchor="end">-50</text><text x="309.5" y="94.8" text-anchor="end">0</text><text x="297" y="88.7" text-anchor="end">50</text><text x="284.5" y="82.6" text-anchor="end">100</text><text x="284.7" y="78.3" text-anchor="end">0</text><text x="284.7" y="67.9" text-anchor="end">1</text><text x="284.7" y="57.5" text-anchor="end">2</text><text x="284.7" y="47.1" text-anchor="end">3</text><text x="284.7" y="36.7" text-anchor="end">4</text><text x="284.7" y="26.3" text-anchor="end">5</text><text class="tt" x="345" y="6.4" text-anchor="middle">F3 Parameter space</text><text x="368.5" y="109.5" text-anchor="middle">x<tspan class="u" dy=".9">1</tspan></text><text x="310.4" y="107.7" text-anchor="middle">x<tspan class="u" dy=".9">2</tspan></text><text text-anchor="middle" transform="translate(278.2 51.5) rotate(-90)">F3( x<tspan class="u" dy=".9">1</tspan><tspan dy="-.9"> , x</tspan><tspan class="u" dy=".9">2</tspan><tspan dy="-.9"> )</tspan></text><text x="278.7" y="19.5">×10<tspan class="u" dy="-1.4">4</tspan></text></g>
<g class="p"><g class="k"><path class="g" d="M476.2 107L427.5 82.5M427.5 82.5L427.5 30M491.9 102.3L443.2 77.8M443.2 77.8L443.2 25.3M507.7 97.6L459 73.1M459 73.1L459 20.6M523.5 92.9L474.8 68.4M474.8 68.4L474.8 15.9M539.2 88.2L490.5 63.7M490.5 63.7L490.5 11.2M476.2 107L539.2 88.2M539.2 88.2L539.2 35.7M464 100.9L527 82.1M527 82.1L527 29.6M451.9 94.8L514.9 76M514.9 76L514.9 23.5M439.7 88.6L502.7 69.8M502.7 69.8L502.7 17.3M427.5 82.5L490.5 63.7M490.5 63.7L490.5 11.2M427.5 82.5L490.5 63.7M490.5 63.7L539.2 88.2M427.5 72L490.5 53.2M490.5 53.2L539.2 77.7M427.5 61.5L490.5 42.7M490.5 42.7L539.2 67.2M427.5 51L490.5 32.2M490.5 32.2L539.2 56.7M427.5 40.5L490.5 21.7M490.5 21.7L539.2 46.2M427.5 30L490.5 11.2M490.5 11.2L539.2 35.7"/><path class="b" d="M476.2 107L539.2 88.2M476.2 107L427.5 82.5M539.2 88.2L490.5 63.7M427.5 82.5L490.5 63.7M427.5 82.5L427.5 30M490.5 63.7L490.5 11.2M539.2 88.2L539.2 35.7M427.5 30L490.5 11.2M490.5 11.2L539.2 35.7M476.2 107L476.7 108.2M491.9 102.3L492.4 103.5M507.7 97.6L508.2 98.8M523.5 92.9L524 94.1M539.2 88.2L539.7 89.4M476.2 107L475.6 108.2M464 100.9L463.4 102.1M451.9 94.8L451.2 96M439.7 88.6L439.1 89.8M427.5 82.5L426.9 83.7M427.5 82.5L426.2 82.5M427.5 72L426.2 72M427.5 61.5L426.2 61.5M427.5 51L426.2 51M427.5 40.5L426.2 40.5M427.5 30L426.2 30"/><g class="c" stroke-width="0.4"><path stroke="#2236d5" d="M482.6 87.5l-.6-.3-.6-.3-.6-.3-.6-.3-.6-.3-.6-.3-.6-.3-.6-.3 .8-.3 .7-.2 .8-.2 .8-.3 .8-.2 .8-.2 .8-.3 .8-.2 .6 .3 .6 .3 .6 .3 .6 .3 .6 .3 .6 .3 .6 .3 .6 .3-.8 .3-.7 .2-.8 .2-.8 .3-.8 .2-.8 .2-.8 .3-.8 .2z"/><path stroke="#0d6bff" d="M481.9 89.7l-.6-.3-.6-.3-.6-.3-.6-.3-.6-.4-.6-.3-.6-.3-.6-.3-.7-.3-.6-.3-.6-.3-.6-.3-.6-.3-.6-.3-.6-.3-.6-.3 .8-.3 .8-.2 .7-.2 .8-.3 .8-.2 .8-.2 .8-.3 .8-.2 .8-.2 .8-.3 .7-.2 .8-.2 .8-.3 .8-.2 .8-.2 .8-.3 .6 .3 .6 .3 .6 .3 .6 .3 .6 .4 .6 .3 .6 .3 .6 .3 .7 .3 .6 .3 .6 .3 .6 .3 .6 .3 .6 .3 .6 .3 .6 .3-.8 .3-.8 .2-.7 .2-.8 .3-.8 .2-.8 .2-.8 .3-.8 .2-.8 .2-.8 .3-.7 .2-.8 .2-.8 .3-.8 .2-.8 .2-.8 .3z"/><path stroke="#00d7fd" d="M481.2 91.8l-.6-.3-.6-.3-.6-.3-.6-.3-.6-.3-.6-.3-.7-.3-.6-.3-.6-.3-.6-.3-.6-.3-.6-.3-.6-.3-.6-.3-.6-.3-.6-.4-.6-.3-.7-.3-.6-.3-.6-.3-.6-.3-.6-.3-.6-.3-.6-.3 .8-.2 .8-.3 .8-.2 .7-.2 .8-.3 .8-.2 .8-.2 .8-.3 .8-.2 .8-.3 .8-.2 .7-.2 .8-.3 .8-.2 .8-.2 .8-.3 .8-.2 .8-.2 .8-.3 .7-.2 .8-.2 .8-.3 .8-.2 .8-.2 .6 .3 .6 .3 .6 .3 .6 .3 .6 .3 .6 .3 .7 .3 .6 .3 .6 .3 .6 .3 .6 .3 .6 .3 .6 .3 .6 .3 .6 .3 .6 .4 .6 .3 .7 .3 .6 .3 .6 .3 .6 .3 .6 .3 .6 .3 .6 .3-.8 .2-.8 .3-.8 .2-.7 .2-.8 .3-.8 .2-.8 .2-.8 .3-.8 .2-.8 .3-.8 .2-.7 .2-.8 .3-.8 .2-.8 .2-.8 .3-.8 .2-.8 .2-.8 .3-.7 .2-.8 .2-.8 .3-.8 .2-.8 .2z"/><path stroke="#00ffa0" d="M480.5 94l-.6-.3-.6-.3-.6-.3-.6-.3-.7-.3-.6-.3-.6-.3-.6-.3-.6-.3-.6-.4-.6-.3-.6-.3-.6-.3-.6-.3-.6-.3-.6-.3-.7-.3-.6-.3-.6-.3-.6-.3-.6-.3-.6-.3-.6-.3-.6-.3-.6-.3-.6-.4-.6-.3-.7-.3-.6-.3-.6-.3-.6-.3-.6-.3 .8-.2 .8-.3 .8-.2 .8-.2 .7-.3 .8-.2 .8-.2 .8-.3 .8-.2 .8-.2 .8-.3 .8-.2 .7-.2 .8-.3 .8-.2 .8-.3 .8-.2 .8-.2 .8-.3 .8-.2 .7-.2 .8-.3 .8-.2 .8-.2 .8-.3 .8-.2 .8-.2 .8-.3 .7-.2 .8-.2 .8-.3 .8-.2 .6 .3 .6 .3 .6 .3 .6 .3 .7 .3 .6 .3 .6 .3 .6 .3 .6 .3 .6 .4 .6 .3 .6 .3 .6 .3 .6 .3 .6 .3 .7 .3 .6 .3 .6 .3 .6 .3 .6 .3 .6 .3 .6 .3 .6 .3 .6 .3 .6 .3 .6 .4 .6 .3 .7 .3 .6 .3 .6 .3 .6 .3 .6 .3-.8 .2-.8 .3-.8 .2-.8 .2-.7 .3-.8 .2-.8 .2-.8 .3-.8 .2-.8 .2-.8 .3-.8 .2-.7 .2-.8 .3-.8 .2-.8 .2-.8 .3-.8 .2-.8 .3-.8 .2-.7 .2-.8 .3-.8 .2-.8 .2-.8 .3-.8 .2-.8 .2-.8 .3-.7 .2-.8 .2-.8 .3-.8 .2z"/><path stroke="#5bff20" d="M479.8 96.2l-.6-.3-.6-.3-.7-.3-.6-.3-.6-.4-.6-.3-.6-.3-.6-.3-.6-.3-.6-.3-.6-.3-.6-.3-.6-.3-.6-.3-.7-.3-.6-.3-.6-.3-.6-.3-.6-.3-.6-.4-.6-.3-.6-.3-.6-.3-.6-.3-.6-.3-.7-.3-.6-.3-.6-.3-.6-.3-.6-.3-.6-.3-.6-.3-.6-.3-.6-.3-.6-.3-.6-.3-.6-.4-.7-.3-.6-.3-.6-.3 .8-.2 .8-.2 .8-.3 .8-.2 .8-.2 .8-.3 .7-.2 .8-.3 .8-.2 .8-.2 .8-.3 .8-.2 .8-.2 .7-.3 .8-.2 .8-.2 .8-.3 .8-.2 .8-.2 .8-.3 .8-.2 .8-.2 .7-.3 .8-.2 .8-.3 .8-.2 .8-.2 .8-.3 .8-.2 .8-.2 .7-.3 .8-.2 .8-.2 .8-.3 .8-.2 .8-.2 .8-.3 .8-.2 .7-.2 .8-.3 .6 .3 .6 .3 .7 .3 .6 .4 .6 .3 .6 .3 .6 .3 .6 .3 .6 .3 .6 .3 .6 .3 .6 .3 .6 .3 .6 .3 .7 .3 .6 .3 .6 .3 .6 .3 .6 .3 .6 .3 .6 .4 .6 .3 .6 .3 .6 .3 .6 .3 .7 .3 .6 .3 .6 .3 .6 .3 .6 .3 .6 .3 .6 .3 .6 .3 .6 .3 .6 .3 .6 .4 .6 .3 .7 .3 .6 .3 .6 .3-.8 .2-.8 .2-.8 .3-.8 .2-.8 .3-.7 .2-.8 .2-.8 .3-.8 .2-.8 .2-.8 .3-.8 .2-.8 .2-.7 .3-.8 .2-.8 .2-.8 .3-.8 .2-.8 .2-.8 .3-.8 .2-.7 .2-.8 .3-.8 .2-.8 .2-.8 .3-.8 .2-.8 .3-.8 .2-.8 .2-.7 .3-.8 .2-.8 .2-.8 .3-.8 .2-.8 .2-.8 .3-.7 .2-.8 .2-.8 .3z"/><path stroke="#d0ff00" d="M479.1 98.3l-.6-.3-.7-.3-.6-.3-.6-.3-.6-.3-.6-.3-.6-.3-.6-.3-.6-.3-.6-.3-.6-.3-.6-.3-.7-.3-.6-.3-.6-.4-.6-.3-.6-.3-.6-.3-.6-.3-.6-.3-.6-.3-.6-.3-.6-.3-.7-.3-.6-.3-.6-.3-.6-.3-.6-.3-.6-.3-.6-.3-.6-.4-.6-.3-.6-.3-.6-.3-.6-.3-.7-.3-.6-.3-.6-.3-.6-.3-.6-.3-.6-.3-.6-.3-.6-.3-.6-.3-.6-.3-.6-.3-.7-.4-.6-.3 .8-.2 .8-.2 .8-.3 .8-.2 .8-.2 .8-.3 .8-.2 .7-.2 .8-.3 .8-.2 .8-.2 .8-.3 .8-.2 .8-.2 .8-.3 .7-.2 .8-.3 .8-.2 .8-.2 .8-.3 .8-.2 .8-.2 .8-.3 .7-.2 .8-.2 .8-.3 .8-.2 .8-.2 .8-.3 .8-.2 .8-.2 .7-.3 .8-.2 .8-.3 .8-.2 .8-.2 .8-.3 .8-.2 .8-.2 .7-.3 .8-.2 .8-.2 .8-.3 .8-.2 .8-.2 .8-.3 .8-.2 .7-.2 .6 .3 .7 .3 .6 .3 .6 .3 .6 .3 .6 .3 .6 .3 .6 .3 .6 .3 .6 .3 .6 .3 .6 .3 .7 .3 .6 .3 .6 .4 .6 .3 .6 .3 .6 .3 .6 .3 .6 .3 .6 .3 .6 .3 .6 .3 .6 .3 .7 .3 .6 .3 .6 .3 .6 .3 .6 .3 .6 .3 .6 .4 .6 .3 .6 .3 .6 .3 .6 .3 .7 .3 .6 .3 .6 .3 .6 .3 .6 .3 .6 .3 .6 .3 .6 .3 .6 .3 .6 .3 .6 .3 .7 .4 .6 .3-.8 .2-.8 .2-.8 .3-.8 .2-.8 .2-.8 .3-.8 .2-.7 .2-.8 .3-.8 .2-.8 .2-.8 .3-.8 .2-.8 .3-.8 .2-.7 .2-.8 .3-.8 .2-.8 .2-.8 .3-.8 .2-.8 .2-.8 .3-.7 .2-.8 .2-.8 .3-.8 .2-.8 .2-.8 .3-.8 .2-.8 .2-.7 .3-.8 .2-.8 .2-.8 .3-.8 .2-.8 .3-.8 .2-.8 .2-.7 .3-.8 .2-.8 .2-.8 .3-.8 .2-.8 .2-.8 .3-.8 .2-.7 .2z"/><path stroke="#ffab00" d="M478.3 100.5l-.6-.3-.6-.3-.6-.3-.6-.3-.6-.3-.6-.3-.6-.3-.6-.3-.6-.4-.6-.3-.7-.3-.6-.3-.6-.3-.6-.3-.6-.3-.6-.3-.6-.3-.6-.3-.6-.3-.6-.3-.6-.3-.6-.3-.7-.3-.6-.3-.6-.4-.6-.3-.6-.3-.6-.3-.6-.3-.6-.3-.6-.3-.6-.3-.6-.3-.7-.3-.6-.3-.6-.3-.6-.3-.6-.3-.6-.3-.6-.3-.6-.4-.6-.3-.6-.3-.6-.3-.6-.3-.7-.3-.6-.3-.6-.3-.6-.3-.6-.3-.6-.3-.6-.3-.6-.3-.6-.3-.6-.3-.6-.3 .7-.3 .8-.2 .8-.3 .8-.2 .8-.2 .8-.3 .8-.2 .8-.2 .7-.3 .8-.2 .8-.2 .8-.3 .8-.2 .8-.2 .8-.3 .8-.2 .7-.2 .8-.3 .8-.2 .8-.2 .8-.3 .8-.2 .8-.2 .8-.3 .7-.2 .8-.3 .8-.2 .8-.2 .8-.3 .8-.2 .8-.2 .8-.3 .7-.2 .8-.2 .8-.3 .8-.2 .8-.2 .8-.3 .8-.2 .8-.2 .7-.3 .8-.2 .8-.3 .8-.2 .8-.2 .8-.3 .8-.2 .8-.2 .7-.3 .8-.2 .8-.2 .8-.3 .8-.2 .8-.2 .8-.3 .8-.2 .6 .3 .6 .3 .6 .3 .6 .3 .6 .3 .6 .3 .6 .3 .6 .3 .6 .4 .6 .3 .7 .3 .6 .3 .6 .3 .6 .3 .6 .3 .6 .3 .6 .3 .6 .3 .6 .3 .6 .3 .6 .3 .6 .3 .7 .3 .6 .3 .6 .4 .6 .3 .6 .3 .6 .3 .6 .3 .6 .3 .6 .3 .6 .3 .6 .3 .7 .3 .6 .3 .6 .3 .6 .3 .6 .3 .6 .3 .6 .3 .6 .4 .6 .3 .6 .3 .6 .3 .6 .3 .7 .3 .6 .3 .6 .3 .6 .3 .6 .3 .6 .3 .6 .3 .6 .3 .6 .3 .6 .3 .6 .3-.7 .3-.8 .2-.8 .2-.8 .3-.8 .2-.8 .3-.8 .2-.8 .2-.7 .3-.8 .2-.8 .2-.8 .3-.8 .2-.8 .2-.8 .3-.8 .2-.7 .2-.8 .3-.8 .2-.8 .2-.8 .3-.8 .2-.8 .3-.8 .2-.7 .2-.8 .3-.8 .2-.8 .2-.8 .3-.8 .2-.8 .2-.8 .3-.7 .2-.8 .2-.8 .3-.8 .2-.8 .2-.8 .3-.8 .2-.8 .2-.7 .3-.8 .2-.8 .2-.8 .3-.8 .2-.8 .3-.8 .2-.8 .2-.7 .3-.8 .2-.8 .2-.8 .3-.8 .2-.8 .2-.8 .3-.8 .2z"/><path stroke="#ff5f00" d="M477.6 102.7l-.6-.3-.6-.3-.6-.3-.6-.4-.6-.3-.6-.3-.6-.3-.6-.3-.6-.3-.7-.3-.6-.3-.6-.3-.6-.3-.6-.3-.6-.3-.6-.3-.6-.3-.6-.3-.6-.3-.6-.4-.7-.3-.6-.3-.6-.3-.6-.3-.6-.3-.6-.3-.6-.3-.6-.3-.6-.3-.6-.3-.6-.3-.6-.3-.7-.3-.6-.3-.6-.3-.6-.4-.6-.3-.6-.3-.6-.3-.6-.3-.6-.3-.6-.3-.6-.3-.7-.3-.6-.3-.6-.3-.6-.3-.6-.3-.6-.3-.6-.3-.6-.3-.6-.4-.6-.3-.6-.3-.7-.3-.6-.3-.6-.3-.6-.3-.6-.3-.6-.3-.6-.3-.6-.3-.6-.3-.6-.3 .8-.3 .7-.2 .8-.2 .8-.3 .8-.2 .8-.2 .8-.3 .8-.2 .8-.2 .7-.3 .8-.2 .8-.3 .8-.2 .8-.2 .8-.3 .8-.2 .8-.2 .7-.3 .8-.2 .8-.2 .8-.3 .8-.2 .8-.2 .8-.3 .8-.2 .7-.2 .8-.3 .8-.2 .8-.2 .8-.3 .8-.2 .8-.2 .8-.3 .7-.2 .8-.3 .8-.2 .8-.2 .8-.3 .8-.2 .8-.2 .8-.3 .7-.2 .8-.2 .8-.3 .8-.2 .8-.2 .8-.3 .8-.2 .8-.2 .7-.3 .8-.2 .8-.2 .8-.3 .8-.2 .8-.3 .8-.2 .8-.2 .7-.3 .8-.2 .8-.2 .8-.3 .8-.2 .8-.2 .8-.3 .6 .3 .6 .3 .6 .3 .6 .4 .6 .3 .6 .3 .6 .3 .6 .3 .6 .3 .7 .3 .6 .3 .6 .3 .6 .3 .6 .3 .6 .3 .6 .3 .6 .3 .6 .3 .6 .3 .6 .4 .7 .3 .6 .3 .6 .3 .6 .3 .6 .3 .6 .3 .6 .3 .6 .3 .6 .3 .6 .3 .6 .3 .7 .3 .6 .3 .6 .3 .6 .3 .6 .4 .6 .3 .6 .3 .6 .3 .6 .3 .6 .3 .6 .3 .6 .3 .7 .3 .6 .3 .6 .3 .6 .3 .6 .3 .6 .3 .6 .3 .6 .3 .6 .4 .6 .3 .6 .3 .7 .3 .6 .3 .6 .3 .6 .3 .6 .3 .6 .3 .6 .3 .6 .3 .6 .3 .6 .3-.8 .3-.7 .2-.8 .2-.8 .3-.8 .2-.8 .2-.8 .3-.8 .2-.8 .2-.7 .3-.8 .2-.8 .2-.8 .3-.8 .2-.8 .3-.8 .2-.8 .2-.7 .3-.8 .2-.8 .2-.8 .3-.8 .2-.8 .2-.8 .3-.8 .2-.7 .2-.8 .3-.8 .2-.8 .2-.8 .3-.8 .2-.8 .2-.8 .3-.7 .2-.8 .3-.8 .2-.8 .2-.8 .3-.8 .2-.8 .2-.8 .3-.7 .2-.8 .2-.8 .3-.8 .2-.8 .2-.8 .3-.8 .2-.8 .2-.7 .3-.8 .2-.8 .2-.8 .3-.8 .2-.8 .3-.8 .2-.8 .2-.7 .3-.8 .2-.8 .2-.8 .3-.8 .2-.8 .2-.8 .3z"/><path stroke="#e22c00" d="M476.9 104.8l-.6-.3-.6-.3-.6-.3-.6-.3-.6-.3-.6-.3-.6-.3-.7-.3-.6-.3-.6-.3-.6-.3-.6-.3-.6-.3-.6-.4-.6-.3-.6-.3-.6-.3-.6-.3-.7-.3-.6-.3-.6-.3-.6-.3-.6-.3-.6-.3-.6-.3-.6-.3-.6-.3-.6-.3-.6-.3-.6-.4-.7-.3-.6-.3-.6-.3-.6-.3-.6-.3-.6-.3-.6-.3-.6-.3-.6-.3-.6-.3-.6-.3-.7-.3-.6-.3-.6-.3-.6-.3-.6-.4-.6-.3-.6-.3-.6-.3-.6-.3-.6-.3-.6-.3-.6-.3-.7-.3-.6-.3-.6-.3-.6-.3-.6-.3-.6-.3-.6-.3-.6-.3-.6-.4-.6-.3-.6-.3-.7-.3-.6-.3-.6-.3-.6-.3-.6-.3-.6-.3-.6-.3-.6-.3 .8-.2 .8-.3 .7-.2 .8-.3 .8-.2 .8-.2 .8-.3 .8-.2 .8-.2 .8-.3 .7-.2 .8-.2 .8-.3 .8-.2 .8-.2 .8-.3 .8-.2 .8-.2 .7-.3 .8-.2 .8-.3 .8-.2 .8-.2 .8-.3 .8-.2 .8-.2 .7-.3 .8-.2 .8-.2 .8-.3 .8-.2 .8-.2 .8-.3 .8-.2 .7-.2 .8-.3 .8-.2 .8-.2 .8-.3 .8-.2 .8-.2 .8-.3 .7-.2 .8-.3 .8-.2 .8-.2 .8-.3 .8-.2 .8-.2 .8-.3 .7-.2 .8-.2 .8-.3 .8-.2 .8-.2 .8-.3 .8-.2 .8-.2 .7-.3 .8-.2 .8-.3 .8-.2 .8-.2 .8-.3 .8-.2 .8-.2 .7-.3 .8-.2 .8-.2 .8-.3 .8-.2 .8-.2 .6 .3 .6 .3 .6 .3 .6 .3 .6 .3 .6 .3 .6 .3 .7 .3 .6 .3 .6 .3 .6 .3 .6 .3 .6 .3 .6 .4 .6 .3 .6 .3 .6 .3 .6 .3 .7 .3 .6 .3 .6 .3 .6 .3 .6 .3 .6 .3 .6 .3 .6 .3 .6 .3 .6 .3 .6 .3 .6 .4 .7 .3 .6 .3 .6 .3 .6 .3 .6 .3 .6 .3 .6 .3 .6 .3 .6 .3 .6 .3 .6 .3 .7 .3 .6 .3 .6 .3 .6 .3 .6 .4 .6 .3 .6 .3 .6 .3 .6 .3 .6 .3 .6 .3 .6 .3 .7 .3 .6 .3 .6 .3 .6 .3 .6 .3 .6 .3 .6 .3 .6 .3 .6 .4 .6 .3 .6 .3 .7 .3 .6 .3 .6 .3 .6 .3 .6 .3 .6 .3 .6 .3 .6 .3-.8 .3-.8 .2-.7 .2-.8 .3-.8 .2-.8 .2-.8 .3-.8 .2-.8 .2-.8 .3-.7 .2-.8 .2-.8 .3-.8 .2-.8 .2-.8 .3-.8 .2-.8 .2-.7 .3-.8 .2-.8 .3-.8 .2-.8 .2-.8 .3-.8 .2-.8 .2-.7 .3-.8 .2-.8 .2-.8 .3-.8 .2-.8 .2-.8 .3-.8 .2-.7 .2-.8 .3-.8 .2-.8 .2-.8 .3-.8 .2-.8 .3-.8 .2-.7 .2-.8 .3-.8 .2-.8 .2-.8 .3-.8 .2-.8 .2-.8 .3-.7 .2-.8 .2-.8 .3-.8 .2-.8 .2-.8 .3-.8 .2-.8 .2-.7 .3-.8 .2-.8 .2-.8 .3-.8 .2-.8 .3-.8 .2-.8 .2-.7 .3-.8 .2-.8 .2-.8 .3-.8 .2-.8 .2z"/></g><g filter="url(#cm)"><defs><linearGradient id="d310" href="#u" x1="483.4" y1="85.3" x2="463.6" y2="19.2"><stop offset="0" stop-color="#000"/><stop offset="1" stop-color="#fff"/></linearGradient></defs><path fill="url(#d310)" stroke="url(#d310)" stroke-width=".3" d="M427.5 30l63-18.8-7.1 74.2z"/></g><g filter="url(#cm)"><defs><linearGradient id="d311" href="#u" x1="483.4" y1="85.3" x2="514.6" y2="23.3"><stop offset="0" stop-color="#000"/><stop offset="1" stop-color="#fff"/></linearGradient></defs><path fill="url(#d311)" stroke="url(#d311)" stroke-width=".3" d="M490.5 11.2l48.7 24.5-55.8 49.7z"/></g><g filter="url(#cm)"><defs><linearGradient id="d312" href="#u" x1="483.4" y1="85.3" x2="474.3" y2="55.1"><stop offset="0" stop-color="#000"/><stop offset="1" stop-color="#fff"/></linearGradient></defs><path fill="url(#d312)" stroke="url(#d312)" stroke-width=".3" d="M476.2 54.5l63-18.8-55.8 49.7z"/></g><g filter="url(#cm)"><defs><linearGradient id="d313" href="#u" x1="483.4" y1="85.3" x2="494.3" y2="63.6"><stop offset="0" stop-color="#000"/><stop offset="1" stop-color="#fff"/></linearGradient></defs><path fill="url(#d313)" stroke="url(#d313)" stroke-width=".3" d="M476.2 54.5l-48.7-24.5 55.9 55.4z"/></g></g><text x="478.8" y="112.8">-100</text><text x="494.6" y="108">-50</text><text x="510.3" y="103.3">0</text><text x="526.1" y="98.7">50</text><text x="541.8" y="94">100</text><text x="473.2" y="112.1" text-anchor="end">-100</text><text x="461" y="106" text-anchor="end">-50</text><text x="448.9" y="99.8" text-anchor="end">0</text><text x="436.7" y="93.7" text-anchor="end">50</text><text x="424.5" y="87.6" text-anchor="end">100</text><text x="424.7" y="83.3" text-anchor="end">0</text><text x="424.7" y="72.8" text-anchor="end">20</text><text x="424.7" y="62.3" text-anchor="end">40</text><text x="424.7" y="51.8" text-anchor="end">60</text><text x="424.7" y="41.3" text-anchor="end">80</text><text x="424.7" y="30.8" text-anchor="end">100</text><text class="tt" x="483.4" y="9.4" text-anchor="middle">F4 Parameter space</text><text x="506.2" y="113.9" text-anchor="middle">x<tspan class="u" dy=".9">1</tspan></text><text x="449.8" y="112.7" text-anchor="middle">x<tspan class="u" dy=".9">2</tspan></text><text text-anchor="middle" transform="translate(414.2 56.2) rotate(-90)">F4( x<tspan class="u" dy=".9">1</tspan><tspan dy="-.9"> , x</tspan><tspan class="u" dy=".9">2</tspan><tspan dy="-.9"> )</tspan></text></g>
<g class="q"><g class="k"><path class="g" d="M122 237.5L68.7 211.5M68.7 211.5L68.7 154.5M139.4 232.4L86.1 206.4M86.1 206.4L86.1 149.4M156.8 227.3L103.5 201.3M103.5 201.3L103.5 144.3M174.3 222.3L121 196.3M121 196.3L121 139.3M191.7 217.2L138.4 191.2M138.4 191.2L138.4 134.2M122 237.5L191.7 217.2M191.7 217.2L191.7 160.2M108.7 231L178.4 210.7M178.4 210.7L178.4 153.7M95.3 224.5L165 204.2M165 204.2L165 147.2M82 218L151.7 197.7M151.7 197.7L151.7 140.7M68.7 211.5L138.4 191.2M138.4 191.2L138.4 134.2M68.7 193.9L138.4 173.6M138.4 173.6L191.7 199.6M68.7 176.2L138.4 155.9M138.4 155.9L191.7 181.9M68.7 158.6L138.4 138.3M138.4 138.3L191.7 164.3"/><path class="b" d="M122 237.5L191.7 217.2M122 237.5L68.7 211.5M191.7 217.2L138.4 191.2M68.7 211.5L138.4 191.2M68.7 211.5L68.7 154.5M138.4 191.2L138.4 134.2M191.7 217.2L191.7 160.2M68.7 154.5L138.4 134.2M138.4 134.2L191.7 160.2M122 237.5L122.5 238.7M139.4 232.4L139.9 233.6M156.8 227.3L157.3 228.5M174.3 222.3L174.8 223.5M191.7 217.2L192.2 218.4M122 237.5L121.4 238.7M108.7 231L108.1 232.2M95.3 224.5L94.8 225.7M82 218L81.4 219.2M68.7 211.5L68.1 212.7M68.7 193.9L67.4 193.9M68.7 176.2L67.4 176.2M68.7 158.6L67.4 158.6"/><g class="c" stroke-width="0.4"><path stroke="#1e42ec" d="M181 212l-.7 .2-.7 .2-.7 .2-.7 .2-.7 .2-.7 .2-.7 .2-.7 .2-.7 .2-.7 .2-.7 .2-.7 .2-.7 .2-.7 .2-.7 .2-.7 .2-.7 .2-.7 .2-.7 .2-.7 .2-.7 .2-.7 .2-.7 .2-.7 .2-.7 .2-.7 .2-.7 .2-.7 .2-.7 .2-.7 .2-.7 .2-.7 .2-.7 .2-.7 .2-.7 .2-.7 .3-.7 .2-.7 .2-.7 .2-.7 .2-.7 .2-.7 .2-.7 .2-.7 .2-.7 .2-.7 .2-.7 .2-.7 .2-.7 .2-.7 .2-.7 .2-.7 .2-.7 .2-.7 .2-.7 .2-.7 .2-.7 .2-.7 .2-.7 .2-.7 .2-.7 .2-.7 .2-.6 .2-.7 .2-.7 .2-.7 .2-.7 .2-.7 .2-.7 .2-.7 .2-.7 .2-.7 .2-.7 .2-.7 .2-.7 .2-.7 .2-.7 .2-.7 .2-.7 .2-.7 .2-.7 .2-.7 .2-.7 .2-.7 .2-.7 .2-.7 .2-.7 .2-.7 .2-.7 .3-.7 .2-.7 .2-.7 .2-.7 .2-.7 .2-.7 .2-.7 .2-.7 .2-.7 .2-.7 .2-.7 .2M79.6 216.8l.7-.2 .7-.2 .7-.2 .7-.2 .7-.2 .7-.2 .7-.2 .7-.2 .7-.2 .7-.2 .7-.2 .7-.2 .7-.2 .6-.2 .7-.2 .7-.2 .7-.2 .7-.2 .7-.2 .7-.3 .7-.2 .7-.2 .7-.2 .7-.2 .7-.2 .7-.2 .7-.2 .7-.2 .7-.2 .7-.2 .7-.2 .7-.2 .6-.2 .7-.2 .7-.2 .7-.2 .7-.2 .7-.2 .7-.2 .7-.2 .7-.2 .7-.2 .7-.2 .7-.3 .7-.2 .7-.2 .7-.2 .7-.2 .7-.2 .7-.2 .7-.2 .6-.2 .7-.2 .7-.2 .7-.2 .7-.2 .7-.2 .7-.2 .7-.2 .7-.2 .7-.2 .7-.2 .7-.2 .7-.2 .7-.2 .7-.2 .7-.2 .7-.3 .7-.2 .7-.2 .6-.2 .7-.2 .7-.2 .7-.2 .7-.2 .7-.2 .7-.2 .7-.2 .7-.2 .7-.2 .7-.2 .7-.2 .7-.2 .7-.2 .7-.2 .7-.2 .7-.2 .7-.2 .7-.2 .6-.2 .7-.2 .7-.3 .7-.2 .7-.2 .7-.2 .7-.2 .7-.2 .7-.2 .7-.2 .7-.2"/><path stroke="#0094ff" d="M184 213.4l-.7 .2-.7 .2-.7 .2-.7 .2-.7 .2-.7 .2-.7 .3-.7 .2-.7 .2-.7 .2-.7 .2-.7 .2-.7 .2-.7 .2-.7 .2-.7 .2-.7 .2-.7 .2-.7 .2-.7 .2-.7 .2-.7 .2-.7 .2-.7 .2-.7 .2-.7 .2-.7 .2-.7 .2-.7 .2-.7 .2-.7 .2-.7 .2-.7 .2-.7 .2-.7 .2-.7 .2-.7 .2-.7 .2-.7 .2-.7 .2-.7 .2-.7 .2-.7 .2-.7 .2-.7 .2-.7 .2-.7 .2-.7 .2-.7 .2-.7 .2-.7 .2-.7 .2-.7 .2-.7 .2-.7 .3-.7 .2-.7 .2-.7 .2-.7 .2-.6 .2-.7 .2-.7 .2-.7 .2-.7 .2-.7 .2-.7 .2-.7 .2-.7 .2-.7 .2-.7 .2-.7 .2-.7 .2-.7 .2-.7 .2-.7 .2-.7 .2-.7 .2-.7 .2-.7 .2-.7 .2-.7 .2-.7 .2-.7 .2-.7 .2-.7 .2-.7 .2-.7 .2-.7 .2-.7 .2-.7 .2-.7 .2-.7 .2-.7 .2-.7 .2-.7 .2-.7 .2-.7 .2-.7 .2-.7 .2-.7 .2M76.6 215.4l.7-.2 .7-.3 .7-.2 .7-.2 .7-.2 .7-.2 .7-.2 .7-.2 .7-.2 .7-.2 .7-.2 .6-.2 .7-.2 .7-.2 .7-.2 .7-.2 .7-.2 .7-.2 .7-.2 .7-.2 .7-.2 .7-.2 .7-.2 .7-.2 .7-.2 .7-.2 .7-.3 .7-.2 .7-.2 .7-.2 .7-.2 .6-.2 .7-.2 .7-.2 .7-.2 .7-.2 .7-.2 .7-.2 .7-.2 .7-.2 .7-.2 .7-.2 .7-.2 .7-.2 .7-.2 .7-.2 .7-.2 .7-.2 .7-.2 .7-.2 .7-.2 .7-.2 .6-.3 .7-.2 .7-.2 .7-.2 .7-.2 .7-.2 .7-.2 .7-.2 .7-.2 .7-.2 .7-.2 .7-.2 .7-.2 .7-.2 .7-.2 .7-.2 .7-.2 .7-.2 .7-.2 .7-.2 .6-.2 .7-.2 .7-.2 .7-.2 .7-.2 .7-.2 .7-.3 .7-.2 .7-.2 .7-.2 .7-.2 .7-.2 .7-.2 .7-.2 .7-.2 .7-.2 .7-.2 .7-.2 .7-.2 .7-.2 .7-.2 .6-.2 .7-.2 .7-.2 .7-.2 .7-.2 .7-.2 .7-.2"/><path stroke="#00ffc5" d="M186 214.4l-.7 .2-.7 .2-.7 .2-.7 .2-.7 .2-.7 .2-.7 .2-.7 .2-.7 .2-.7 .2-.7 .2-.7 .2-.7 .2-.7 .2-.7 .2-.7 .2-.7 .2-.7 .3-.7 .2-.7 .2-.7 .2-.7 .2-.7 .2-.7 .2-.7 .2-.7 .2-.7 .2-.7 .2-.7 .2-.7 .2-.7 .2-.7 .2-.7 .2-.7 .2-.7 .2-.7 .2-.7 .2-.7 .2-.7 .2-.7 .2-.7 .2-.7 .2-.7 .2-.7 .2-.7 .2-.7 .2-.7 .2-.7 .2-.6 .2-.7 .2-.7 .2-.7 .2-.7 .2-.7 .2-.7 .2-.7 .2-.7 .2-.7 .2-.7 .2-.7 .2-.7 .2-.7 .2-.7 .3-.7 .2-.7 .2-.7 .2-.7 .2-.7 .2-.7 .2-.7 .2-.7 .2-.7 .2-.7 .2-.7 .2-.7 .2-.7 .2-.7 .2-.7 .2-.7 .2-.7 .2-.7 .2-.7 .2-.7 .2-.7 .2-.7 .2-.7 .2-.7 .2-.7 .2-.7 .2-.7 .2-.7 .2-.7 .2-.7 .2-.7 .2-.7 .2-.7 .2-.7 .2-.7 .2-.7 .2-.7 .2M74.6 214.4l.7-.2 .7-.2 .7-.2 .7-.2 .7-.3 .7-.2 .6-.2 .7-.2 .7-.2 .7-.2 .7-.2 .7-.2 .7-.2 .7-.2 .7-.2 .7-.2 .7-.2 .7-.2 .7-.2 .7-.2 .7-.2 .7-.2 .7-.2 .7-.2 .7-.2 .7-.2 .7-.2 .6-.2 .7-.2 .7-.2 .7-.2 .7-.3 .7-.2 .7-.2 .7-.2 .7-.2 .7-.2 .7-.2 .7-.2 .7-.2 .7-.2 .7-.2 .7-.2 .7-.2 .7-.2 .7-.2 .7-.2 .7-.2 .7-.2 .6-.2 .7-.2 .7-.2 .7-.2 .7-.2 .7-.2 .7-.2 .7-.2 .7-.3 .7-.2 .7-.2 .7-.2 .7-.2 .7-.2 .7-.2 .7-.2 .7-.2 .7-.2 .7-.2 .7-.2 .7-.2 .6-.2 .7-.2 .7-.2 .7-.2 .7-.2 .7-.2 .7-.2 .7-.2 .7-.2 .7-.2 .7-.2 .7-.2 .7-.2 .7-.3 .7-.2 .7-.2 .7-.2 .7-.2 .7-.2 .7-.2 .7-.2 .7-.2 .6-.2 .7-.2 .7-.2 .7-.2 .7-.2 .7-.2 .7-.2 .7-.2"/><path stroke="#56ff24" d="M187.5 215.2l-.7 .2-.7 .2-.7 .2-.7 .2-.7 .2-.7 .2-.7 .2-.7 .2-.7 .2-.6 .2-.7 .2-.7 .2-.7 .2-.7 .2-.7 .2-.7 .2-.7 .2-.7 .2-.7 .2-.7 .2-.7 .2-.7 .2-.7 .2-.7 .2-.7 .2-.7 .2-.7 .2-.7 .2-.7 .2-.7 .2-.7 .2-.7 .2-.7 .2-.7 .2-.7 .2-.7 .2-.7 .3-.7 .2-.7 .2-.7 .2-.7 .2-.7 .2-.7 .2-.7 .2-.7 .2-.7 .2-.7 .2-.7 .2-.7 .2-.7 .2-.7 .2-.7 .2-.7 .2-.7 .2-.7 .2-.7 .2-.7 .2-.7 .2-.7 .2-.7 .2-.7 .2-.7 .2-.7 .2-.7 .2-.7 .2-.7 .2-.7 .2-.7 .2-.7 .2-.7 .2-.7 .2-.7 .2-.7 .2-.7 .2-.7 .2-.7 .2-.7 .2-.7 .2-.6 .2-.7 .2-.7 .3-.7 .2-.7 .2-.7 .2-.7 .2-.7 .2-.7 .2-.7 .2-.7 .2-.7 .2-.7 .2-.7 .2-.7 .2-.7 .2-.7 .2-.7 .2-.7 .2-.7 .2-.7 .2-.7 .2M73 213.6l.7-.2 .7-.2 .7-.2 .7-.2 .7-.2 .7-.2 .7-.2 .7-.2 .7-.2 .7-.2 .7-.2 .7-.2 .7-.2 .7-.2 .7-.2 .6-.3 .7-.2 .7-.2 .7-.2 .7-.2 .7-.2 .7-.2 .7-.2 .7-.2 .7-.2 .7-.2 .7-.2 .7-.2 .7-.2 .7-.2 .7-.2 .7-.2 .7-.2 .7-.2 .6-.2 .8-.2 .6-.2 .7-.2 .7-.2 .7-.2 .7-.2 .7-.3 .7-.2 .7-.2 .7-.2 .7-.2 .7-.2 .7-.2 .7-.2 .7-.2 .7-.2 .7-.2 .7-.2 .7-.2 .7-.2 .7-.2 .7-.2 .7-.2 .7-.2 .6-.2 .7-.2 .7-.2 .7-.2 .7-.2 .7-.2 .7-.2 .7-.2 .7-.2 .7-.3 .7-.2 .7-.2 .7-.2 .7-.2 .7-.2 .7-.2 .7-.2 .7-.2 .7-.2 .7-.2 .7-.2 .7-.2 .6-.2 .7-.2 .7-.2 .7-.2 .7-.2 .7-.2 .7-.2 .7-.2 .7-.2 .7-.2 .7-.2 .7-.2 .7-.2 .7-.3 .7-.2 .7-.2 .7-.2 .7-.2 .7-.2"/><path stroke="#e9ff01" d="M188.8 215.8l-.7 .2-.7 .2-.7 .2-.7 .2-.7 .2-.7 .2-.7 .2-.7 .2-.7 .2-.7 .2-.7 .2-.7 .2-.7 .2-.7 .2-.7 .2-.7 .2-.7 .2-.7 .2-.7 .2-.7 .2-.7 .2-.7 .2-.6 .2-.7 .2-.7 .2-.7 .3-.7 .2-.7 .2-.7 .2-.7 .2-.7 .2-.7 .2-.7 .2-.7 .2-.7 .2-.7 .2-.7 .2-.7 .2-.7 .2-.7 .2-.7 .2-.7 .2-.7 .2-.7 .2-.7 .2-.7 .2-.7 .2-.7 .2-.7 .2-.7 .2-.7 .2-.7 .2-.7 .2-.7 .2-.7 .2-.7 .2-.7 .2-.7 .2-.7 .2-.7 .2-.7 .2-.7 .2-.7 .2-.7 .2-.7 .2-.7 .2-.7 .2-.7 .2-.7 .2-.7 .3-.7 .2-.7 .2-.7 .2-.7 .2-.7 .2-.7 .2-.7 .2-.7 .2-.7 .2-.7 .2-.7 .2-.7 .2-.7 .2-.7 .2-.7 .2-.7 .2-.7 .2-.7 .2-.6 .2-.7 .2-.7 .2-.7 .2-.7 .2-.7 .2-.7 .2-.7 .2-.7 .2-.7 .2-.7 .2-.7 .2M71.7 213l.7-.2 .7-.2 .7-.2 .7-.2 .7-.2 .7-.2 .7-.2 .7-.3 .7-.2 .7-.2 .7-.2 .7-.2 .7-.2 .7-.2 .7-.2 .7-.2 .7-.2 .7-.2 .6-.2 .7-.2 .7-.2 .7-.2 .7-.2 .7-.2 .7-.2 .7-.2 .7-.2 .7-.2 .7-.2 .7-.2 .7-.2 .7-.2 .7-.2 .7-.2 .7-.3 .7-.2 .7-.2 .7-.2 .7-.2 .7-.2 .6-.2 .7-.2 .7-.2 .7-.2 .7-.2 .7-.2 .7-.2 .7-.2 .7-.2 .7-.2 .7-.2 .7-.2 .7-.2 .7-.2 .7-.2 .7-.2 .7-.2 .7-.2 .7-.2 .7-.2 .7-.2 .7-.3 .7-.2 .6-.2 .7-.2 .7-.2 .7-.2 .7-.2 .7-.2 .7-.2 .7-.2 .7-.2 .7-.2 .7-.2 .7-.2 .7-.2 .7-.2 .7-.2 .7-.2 .7-.2 .7-.2 .7-.2 .7-.2 .7-.2 .7-.2 .6-.2 .7-.2 .7-.2 .7-.3 .7-.2 .7-.2 .7-.2 .7-.2 .7-.2 .7-.2 .7-.2 .7-.2 .7-.2 .7-.2 .7-.2"/><path stroke="#ff8600" d="M189.9 216.3l-.7 .2-.7 .2-.7 .2-.7 .2-.7 .2-.7 .2-.7 .2-.7 .2-.7 .3-.7 .2-.7 .2-.7 .2-.7 .2-.7 .2-.7 .2-.7 .2-.7 .2-.7 .2-.7 .2-.7 .2-.6 .2-.7 .2-.7 .2-.7 .2-.7 .2-.7 .2-.7 .2-.7 .2-.7 .2-.7 .2-.7 .2-.7 .2-.7 .2-.7 .2-.7 .2-.7 .2-.7 .2-.7 .2-.7 .2-.7 .2-.7 .2-.7 .2-.7 .2-.7 .2-.7 .2-.7 .2-.7 .2-.7 .2-.7 .2-.7 .2-.7 .2-.7 .3-.7 .2-.7 .2-.7 .2-.7 .2-.7 .2-.7 .2-.7 .2-.7 .2-.7 .2-.7 .2-.7 .2-.7 .2-.7 .2-.7 .2-.7 .2-.7 .2-.7 .2-.7 .2-.7 .2-.7 .2-.7 .2-.7 .2-.7 .2-.7 .2-.7 .2-.7 .2-.7 .2-.7 .2-.7 .2-.7 .2-.7 .2-.7 .2-.6 .2-.7 .2-.7 .2-.7 .2-.7 .2-.7 .2-.7 .2-.7 .2-.7 .2-.7 .2-.7 .2-.7 .3-.7 .2-.7 .2-.7 .2-.7 .2M70.6 212.4l.7-.2 .7-.2 .7-.2 .7-.2 .7-.2 .7-.2 .7-.2 .7-.2 .7-.2 .7-.2 .7-.2 .7-.2 .7-.2 .7-.2 .7-.2 .7-.2 .6-.2 .7-.2 .7-.2 .7-.2 .7-.2 .7-.2 .7-.2 .7-.2 .7-.3 .7-.2 .7-.2 .7-.2 .7-.2 .7-.2 .7-.2 .7-.2 .7-.2 .7-.2 .7-.2 .7-.2 .7-.2 .7-.2 .7-.2 .6-.2 .7-.2 .7-.2 .7-.2 .7-.2 .7-.2 .7-.2 .7-.2 .7-.2 .7-.2 .7-.2 .7-.2 .7-.3 .7-.2 .7-.2 .7-.2 .7-.2 .7-.2 .7-.2 .7-.2 .7-.2 .7-.2 .7-.2 .6-.2 .7-.2 .7-.2 .7-.2 .7-.2 .7-.2 .7-.2 .7-.2 .7-.2 .7-.2 .7-.2 .7-.2 .7-.2 .7-.2 .7-.2 .7-.2 .7-.3 .7-.2 .7-.2 .7-.2 .7-.2 .7-.2 .6-.2 .7-.2 .7-.2 .7-.2 .7-.2 .7-.2 .7-.2 .7-.2 .7-.2 .7-.2 .7-.2 .7-.2 .7-.2 .7-.2 .7-.2 .7-.2"/><path stroke="#f83d00" d="M190.9 216.8l-.7 .2-.7 .2-.7 .2-.7 .2-.7 .2-.7 .2-.7 .2-.7 .2-.7 .2-.7 .2-.7 .2-.7 .2-.7 .2-.7 .2-.7 .2-.7 .2-.7 .2-.7 .2-.7 .2-.7 .3-.7 .2-.7 .2-.7 .2-.7 .2-.7 .2-.7 .2-.7 .2-.7 .2-.7 .2-.7 .2-.7 .2-.7 .2-.7 .2-.7 .2-.7 .2-.7 .2-.6 .2-.7 .2-.7 .2-.7 .2-.7 .2-.7 .2-.7 .2-.7 .2-.7 .2-.7 .2-.7 .2-.7 .2-.7 .2-.7 .2-.7 .2-.7 .2-.7 .2-.7 .2-.7 .2-.7 .2-.7 .2-.7 .2-.7 .2-.7 .2-.7 .2-.7 .2-.7 .3-.7 .2-.7 .2-.7 .2-.7 .2-.7 .2-.7 .2-.7 .2-.7 .2-.7 .2-.7 .2-.7 .2-.7 .2-.7 .2-.7 .2-.7 .2-.7 .2-.7 .2-.7 .2-.7 .2-.7 .2-.7 .2-.7 .2-.7 .2-.7 .2-.7 .2-.7 .2-.7 .2-.7 .2-.7 .2-.7 .2-.7 .2-.7 .2-.7 .2-.7 .2-.7 .2-.6 .2-.7 .2M69.6 212l.7-.2 .7-.2 .7-.2 .7-.3 .7-.2 .7-.2 .7-.2 .7-.2 .7-.2 .7-.2 .7-.2 .7-.2 .7-.2 .7-.2 .7-.2 .7-.2 .7-.2 .7-.2 .7-.2 .7-.2 .7-.2 .7-.2 .6-.2 .7-.2 .7-.2 .7-.2 .7-.2 .7-.2 .7-.2 .7-.2 .7-.3 .7-.2 .7-.2 .7-.2 .7-.2 .7-.2 .7-.2 .7-.2 .7-.2 .7-.2 .7-.2 .7-.2 .7-.2 .7-.2 .7-.2 .6-.2 .7-.2 .7-.2 .7-.2 .7-.2 .7-.2 .7-.2 .7-.2 .7-.2 .7-.2 .7-.2 .7-.2 .7-.3 .7-.2 .7-.2 .7-.2 .7-.2 .7-.2 .7-.2 .7-.2 .7-.2 .7-.2 .7-.2 .6-.2 .7-.2 .7-.2 .7-.2 .7-.2 .7-.2 .7-.2 .7-.2 .7-.2 .7-.2 .7-.2 .7-.2 .7-.2 .7-.2 .7-.2 .7-.2 .7-.2 .7-.3 .7-.2 .7-.2 .7-.2 .7-.2 .6-.2 .7-.2 .7-.2 .7-.2 .7-.2 .7-.2 .7-.2 .7-.2 .7-.2 .7-.2"/></g><g filter="url(#cm)"><defs><linearGradient id="e314" href="#u" x1="103.5" y1="144.9" x2="126.2" y2="222.6"><stop offset="0" stop-color="#fcfcfc"/><stop offset=".125" stop-color="#d2d2d2"/><stop offset=".234" stop-color="#adadad"/><stop offset=".33" stop-color="#8d8d8d"/><stop offset=".414" stop-color="#717171"/><stop offset=".486" stop-color="#5a5a5a"/><stop offset=".549" stop-color="#474747"/><stop offset=".603" stop-color="#373737"/><stop offset=".649" stop-color="#2a2a2a"/><stop offset=".722" stop-color="#171717"/><stop offset=".775" stop-color="#0b0b0b"/><stop offset=".815" stop-color="#040404"/><stop offset=".845" stop-color="#010101"/><stop offset=".938" stop-color="#000"/><stop offset=".98" stop-color="#010101"/><stop offset=".994" stop-color="#040404"/><stop offset="1" stop-color="#0a0a0a"/></linearGradient></defs><path fill="url(#e314)" stroke="url(#e314)" stroke-width=".3" d="M68.7 154.5l.6 5.3 .6 4.9 .6 4.6 .6 4.3 .6 4.1 .6 3.7 .6 3.5 .6 3.2 1.2 5.8 1.3 5 1.2 4.2 1.2 3.6 1.2 3 1.2 2.5 1.2 2.1 1.2 1.7 2.4 2.7 2.4 1.9 4.9 2.7 4.8 2.3 4.8 2.1 2.5 .5 2.4-.3 69.7-20.1-2.4 .2-2.5-.5-4.8-2.1-4.8-2.4-4.9-2.6-2.4-1.9-2.4-2.5-1.2-1.7-1.2-2.1-1.2-2.4-1.2-3-1.2-3.5-1.2-4.1-1.3-4.9-1.2-5.7-.6-3.2-.6-3.4-.6-3.8-.6-3.9-.6-4.3-.6-4.6-.6-4.9-.6-5.2z"/></g><g filter="url(#cm)"><defs><linearGradient id="e315" href="#u" x1="156.8" y1="170.9" x2="168.3" y2="210.3"><stop offset="0" stop-color="#fcfcfc"/><stop offset=".155" stop-color="#dcdcdc"/><stop offset=".294" stop-color="#bebebe"/><stop offset=".415" stop-color="#a4a4a4"/><stop offset=".522" stop-color="#8c8c8c"/><stop offset=".615" stop-color="#777"/><stop offset=".695" stop-color="#656565"/><stop offset=".822" stop-color="#464646"/><stop offset=".908" stop-color="#2f2f2f"/><stop offset=".963" stop-color="#1e1e1e"/><stop offset=".992" stop-color="#121212"/><stop offset="1" stop-color="#0a0a0a"/></linearGradient></defs><path fill="url(#e315)" stroke="url(#e315)" stroke-width=".3" d="M122 180.5l-.9 6.9-.9 6.2-.9 5.5-1 4.9-.9 4.3-.9 3.7-.9 3.2-.9 2.8-.9 2.3-.9 2-.9 1.6-1 1.3-.9 1-.9 .8-1.8 .9 69.7-20.1 1.8-.8 .9-.8 .9-.9 1-1.3 .9-1.5 .9-1.9 .9-2.3 .9-2.7 .9-3.2 .9-3.6 .9-4.2 1-4.8 .9-5.5 .9-6.1 .9-6.9z"/></g></g><text x="124.9" y="243.8">-200</text><text x="142.3" y="238.8">-100</text><text x="159.7" y="233.7">0</text><text x="177.1" y="228.6">100</text><text x="194.6" y="223.5">200</text><text x="118.7" y="243.1" text-anchor="end">-200</text><text x="105.4" y="236.6" text-anchor="end">-100</text><text x="92" y="230.1" text-anchor="end">0</text><text x="78.7" y="223.6" text-anchor="end">100</text><text x="65.4" y="217.1" text-anchor="end">200</text><text x="65.6" y="194.7" text-anchor="end">5</text><text x="65.6" y="177.1" text-anchor="end">10</text><text x="65.6" y="159.5" text-anchor="end">15</text><text class="tt" x="130.2" y="132.7" text-anchor="middle">F5 Parameter space</text><text x="155.2" y="245.3" text-anchor="middle">x<tspan class="u" dy=".9">1</tspan></text><text x="93" y="244.2" text-anchor="middle">x<tspan class="u" dy=".9">2</tspan></text><text text-anchor="middle" transform="translate(57.4 183) rotate(-90)">F5( x<tspan class="u" dy=".9">1</tspan><tspan dy="-.9"> , x</tspan><tspan class="u" dy=".9">2</tspan><tspan dy="-.9"> )</tspan></text><text x="59" y="147.9">×10<tspan class="u" dy="-1.4">10</tspan></text></g>
<g class="q"><g class="k"><path class="g" d="M270.7 237L217.5 211.2M217.5 211.2L217.5 155.2M287.8 232.1L234.6 206.3M234.6 206.3L234.6 150.3M304.9 227.2L251.8 201.4M251.8 201.4L251.8 145.4M322.1 222.4L268.9 196.6M268.9 196.6L268.9 140.6M339.2 217.5L286 191.7M286 191.7L286 135.7M270.7 237L339.2 217.5M339.2 217.5L339.2 161.5M257.4 230.6L325.9 211.1M325.9 211.1L325.9 155.1M244.1 224.1L312.6 204.6M312.6 204.6L312.6 148.6M230.8 217.6L299.3 198.1M299.3 198.1L299.3 142.1M217.5 211.2L286 191.7M286 191.7L286 135.7M217.5 211.2L286 191.7M286 191.7L339.2 217.5M217.5 197.2L286 177.7M286 177.7L339.2 203.5M217.5 183.2L286 163.7M286 163.7L339.2 189.5M217.5 169.2L286 149.7M286 149.7L339.2 175.5M217.5 155.2L286 135.7M286 135.7L339.2 161.5"/><path class="b" d="M270.7 237L339.2 217.5M270.7 237L217.5 211.2M339.2 217.5L286 191.7M217.5 211.2L286 191.7M217.5 211.2L217.5 155.2M286 191.7L286 135.7M339.2 217.5L339.2 161.5M217.5 155.2L286 135.7M286 135.7L339.2 161.5M270.7 237L271.2 238.2M287.8 232.1L288.3 233.3M304.9 227.2L305.4 228.4M322.1 222.4L322.6 223.6M339.2 217.5L339.7 218.7M270.7 237L270.1 238.2M257.4 230.6L256.8 231.8M244.1 224.1L243.5 225.3M230.8 217.6L230.2 218.8M217.5 211.2L216.9 212.4M217.5 211.2L216.2 211.2M217.5 197.2L216.2 197.2M217.5 183.2L216.2 183.2M217.5 169.2L216.2 169.2M217.5 155.2L216.2 155.2"/><g class="c" stroke-width="0.4"><path stroke="#2236d5" d="M285.5 221.1l-1.1 .1-1.1 .2-1.2 .1-1.2 0-.9 .1-1.7 0-1.4 0-1.5-.1-1.6-.1-1.5-.2-1.2-.2-1.1-.2-1.1-.2-1-.2-.9-.3-.9-.2-.8-.3-.8-.3-.8-.3-.7-.3-.6-.3-.6-.4-.5-.3-.5-.4-.5-.4-.7-.8-.5-.9-.1-1 .2-1 .3-.7 .4-.5 .5-.4 .5-.5 .5-.4 .6-.3 .6-.4 .7-.3 .8-.3 .7-.3 .8-.3 .9-.2 .8-.3 .9-.2 1-.2 1-.1 1-.2 1.1-.1 1.1-.2 1.2-.1 1.2 0 .9-.1 1.7 0 1.4 0 1.5 .1 1.6 .1 1.5 .2 1.2 .2 1.1 .2 1.1 .2 1 .2 .9 .3 .9 .2 .8 .3 .8 .3 .8 .3 .7 .3 .6 .3 .6 .4 .5 .3 .5 .4 .5 .4 .7 .8 .5 .9 .1 1-.2 1-.3 .7-.4 .5-.5 .4-.5 .5-.5 .4-.6 .3-.6 .4-.7 .3-.8 .3-.7 .3-.8 .3-.9 .2-.8 .3-.9 .2-1 .2-1 .1-1 .2z"/><path stroke="#0d6bff" d="M292.5 223.2l-.8 .2-1.1 .2-1 .1-1.1 .2-1 .1-1.1 .2-1.2 .1-1.1 .1-1.2 .1-1.3 0-1.2 .1-1.4 0-1.3 0-1-.1-1.6 0-1.5-.1-1.4-.1-1.3-.1-1.2-.2-1.3-.2-1.1-.2-1.1-.2-1.1-.2-1-.2-1-.2-.9-.3-.9-.2-.9-.3-.8-.3-.8-.3-.7-.3-.7-.3-.7-.3-.7-.3-.6-.3-.6-.4-.5-.4-.5-.3-.5-.4-.4-.4-.4-.4-.7-.8-.5-.9-.3-.9-.1-.8 .1-.8 .3-.9 .3-.6 .4-.5 .4-.4 .4-.5 .5-.4 .5-.4 .5-.4 .6-.4 .6-.3 .7-.4 .7-.3 .7-.3 .7-.3 .8-.3 .8-.3 .8-.3 .8-.2 .9-.2 .9-.3 .9-.2 .8-.2 1.1-.2 1-.1 1.1-.2 1-.1 1.1-.2 1.2-.1 1.1-.1 1.2-.1 1.3 0 1.2-.1 1.4 0 1.3 0 1 .1 1.6 0 1.5 .1 1.4 .1 1.3 .1 1.2 .2 1.3 .2 1.1 .2 1.1 .2 1.1 .2 1 .2 1 .2 .9 .3 .9 .2 .9 .3 .8 .3 .8 .3 .7 .3 .7 .3 .7 .3 .7 .3 .6 .3 .6 .4 .5 .4 .5 .3 .5 .4 .4 .4 .4 .4 .7 .8 .5 .9 .3 .9 .1 .8-.1 .8-.3 .9-.3 .6-.4 .5-.4 .4-.4 .5-.5 .4-.5 .4-.5 .4-.6 .4-.6 .3-.7 .4-.7 .3-.7 .3-.7 .3-.8 .3-.8 .3-.8 .3-.8 .2-.9 .2-.9 .3-.9 .2z"/><path stroke="#00d7fd" d="M292.4 225.8l-.7 .1-1.3 .2-1.1 .1-1 .2-1.2 .1-1.2 .1-1.2 .1-1.2 0-1.2 .1-1.1 0-1.5 .1-1.3 0-.9 0-1.6-.1-1.6 0-1.5-.1-1.4-.1-1.4-.2-.9-.1-1.6-.2-1.2-.1-1-.2-1.3-.2-.8-.1-1.3-.3-1-.2-1-.3-.9-.2-1-.3-.8-.2-.9-.3-.8-.3-.8-.3-.8-.3-.7-.3-.7-.3-.7-.3-.6-.3-.7-.4-.5-.3-.6-.4-.6-.3-.5-.4-.4-.4-.5-.3-.4-.4-.7-.8-.4-.5-.3-.5-.4-.8-.3-.8-.1-.8 0-.8 .2-1 .3-.7 .3-.6 .5-.7 .5-.6 .4-.4 .5-.4 .5-.5 .5-.4 .6-.3 .6-.4 .6-.4 .6-.3 .7-.4 .7-.3 .7-.3 .7-.3 .8-.3 .8-.3 .8-.2 .8-.3 .8-.2 .9-.3 .9-.2 .9-.2 .9-.2 1-.2 1-.2 1-.2 .7-.1 1.3-.2 1.1-.1 1-.2 1.2-.1 1.2-.1 1.2-.1 1.2 0 1.2-.1 1.1 0 1.5-.1 1.3 0 .9 0 1.6 .1 1.6 0 1.5 .1 1.4 .1 1.4 .2 .9 .1 1.6 .2 1.2 .1 1 .2 1.3 .2 .8 .1 1.3 .3 1 .2 1 .3 .9 .2 1 .3 .8 .2 .9 .3 .8 .3 .8 .3 .8 .3 .7 .3 .7 .3 .7 .3 .6 .3 .7 .4 .5 .3 .6 .4 .6 .3 .5 .4 .4 .4 .5 .3 .4 .4 .7 .8 .4 .5 .3 .5 .4 .8 .3 .8 .1 .8 0 .8-.2 1-.3 .7-.3 .6-.5 .7-.5 .6-.4 .4-.5 .4-.5 .5-.5 .4-.6 .3-.6 .4-.6 .4-.6 .3-.7 .4-.7 .3-.7 .3-.7 .3-.8 .3-.8 .3-.8 .2-.8 .3-.8 .2-.9 .3-.9 .2-.9 .2-.9 .2-1 .2-1 .2-1 .2z"/><path stroke="#00ffa0" d="M295.7 227.4l-1 .1-1 .2-1.1 .2-1 .1-1.1 .1-1.1 .2-.9 .1-1.4 .1-1.2 .1-1.2 0-1 .1-1.5 .1-1.3 0-1.2 0-1.4 0-1.4 0-1.5 0-.8-.1-1.5-.1-1.5 0-.8-.1-1.6-.1-1.7-.2-1.2-.2-1.3-.1-1.2-.2-1.1-.2-1.1-.2-1.1-.2-1-.2-1-.2-1-.3-.9-.2-1-.3-.9-.2-.9-.3-.8-.2-.9-.3-.8-.3-.7-.3-.8-.3-.7-.3-.7-.3-.7-.3-.6-.4-.7-.3-.6-.3-.5-.4-.6-.3-.5-.4-.5-.4-.5-.3-.5-.4-.4-.4-.4-.4-.7-.8-.6-.9-.5-.9-.3-.9-.2-.9 0-1.1 .1-.8 .3-.8 .3-.6 .4-.7 .4-.6 .4-.4 .4-.5 .5-.4 .5-.5 .5-.4 .5-.4 .6-.4 .6-.3 .6-.4 .5-.3 .7-.4 .7-.3 .7-.3 .7-.4 .8-.3 .7-.3 .8-.2 .8-.3 .8-.3 .8-.2 .9-.3 .8-.2 .9-.3 .9-.2 .9-.2 1-.2 .9-.2 1-.2 1-.1 1-.2 1.1-.2 1-.1 1.1-.1 1.1-.2 .9-.1 1.4-.1 1.2-.1 1.2 0 1-.1 1.5-.1 1.3 0 1.2 0 1.4 0 1.4 0 1.5 0 .8 .1 1.5 .1 1.5 0 .8 .1 1.6 .1 1.7 .2 1.2 .2 1.3 .1 1.2 .2 1.1 .2 1.1 .2 1.1 .2 1 .2 1 .2 1 .3 .9 .2 1 .3 .9 .2 .9 .3 .8 .2 .9 .3 .8 .3 .7 .3 .8 .3 .7 .3 .7 .3 .7 .3 .6 .4 .7 .3 .6 .3 .5 .4 .6 .3 .5 .4 .5 .4 .5 .3 .5 .4 .4 .4 .4 .4 .7 .8 .6 .9 .5 .9 .3 .9 .2 .9 0 1.1-.1 .8-.3 .8-.3 .6-.4 .7-.4 .6-.4 .4-.4 .5-.5 .4-.5 .5-.5 .4-.5 .4-.6 .4-.6 .3-.6 .4-.5 .3-.7 .4-.7 .3-.7 .3-.7 .4-.8 .3-.7 .3-.8 .2-.8 .3-.8 .3-.8 .2-.9 .3-.8 .2-.9 .3-.9 .2-.9 .2-1 .2-.9 .2-1 .2z"/><path stroke="#5bff20" d="M305 227.2l-.9 .3-.9 .2-.9 .2-.9 .3-.9 .2-1 .2-1 .2-.9 .1-.9 .2-1.2 .2-1 .1-1.1 .2-1 .1-1.1 .1-1.1 .2-1.2 .1-1.1 .1-1.2 .1-1.2 0-1.2 .1-1.3 0-1.3 .1-1.3 0-1.3 0-1.4 0-1.4 0-1.4-.1-.9 0-1.5-.1-1.5 0-.7-.1-1.7-.1-1.7-.2-1.3-.2-1.2-.1-1.2-.2-1.2-.2-.7-.1-1.6-.2-1-.2-1.1-.3-.8-.1-1.2-.3-1-.2-.9-.3-1-.2-.9-.3-.8-.2-.9-.3-.8-.3-.8-.3-.8-.3-.8-.3-.7-.3-.7-.3-.7-.3-.7-.3M312.6 204.6l.7 .3 .6 .4 .6 .3 .6 .3 .6 .4 .5 .3 .5 .4 .5 .4 .5 .4 .5 .3 .4 .4 .4 .4 .7 .8 .4 .5 .6 .8 .4 .9 .4 .9 .1 .8 .1 1.2-.1 .8-.2 .8-.3 .9-.5 .9-.4 .6-.4 .5-.4 .5-.4 .4-.5 .4-.5 .5-.5 .4-.5 .4-.6 .4-.5 .4-.6 .3-.7 .4-.6 .3-.7 .4-.6 .3-.7 .3-.7 .3-.8 .3-.7 .3-.8 .3-.8 .3-.8 .3-.8 .2-.8 .3-.8 .2M244.1 224.1l-.7-.3-.6-.4-.6-.3-.6-.3-.6-.4-.5-.3-.5-.4-.5-.4-.5-.4-.5-.3-.4-.4-.4-.4-.7-.8-.4-.5-.6-.8-.4-.9-.4-.9-.1-.8-.1-1.2 .1-.8 .2-.8 .3-.9 .5-.9 .4-.6 .4-.5 .4-.5 .4-.4 .5-.4 .5-.5 .5-.4 .5-.4 .6-.4 .5-.4 .6-.3 .7-.4 .6-.3 .7-.4 .6-.3 .7-.3 .7-.3 .8-.3 .7-.3 .8-.3 .8-.3 .8-.3 .8-.2 .8-.3 .9-.3M251.8 201.4l.8-.2 .9-.2 .9-.2 .9-.3 .9-.2 1-.2 1-.2 .9-.1 .9-.2 1.2-.2 1-.1 1.1-.2 1-.1 1.1-.1 1.1-.2 1.2-.1 1.1-.1 1.2-.1 1.2 0 1.2-.1 1.3 0 1.3-.1 1.3 0 1.3 0 1.4 0 1.4 0 1.4 .1 .9 0 1.5 .1 1.5 0 .7 .1 1.7 .1 1.7 .2 1.3 .2 1.2 .1 1.2 .2 1.2 .2 .7 .1 1.6 .2 1 .2 1.1 .3 .8 .1 1.2 .3 1 .2 .9 .3 1 .2 .9 .3 .8 .2 .9 .3 .8 .3 .8 .3 .8 .3 .8 .3 .7 .3 .7 .3 .7 .3 .7 .3"/><path stroke="#d0ff00" d="M289.6 231.6l-1.3 .1-1.1 .1-1.3 .1-1 0-1.4 .1-1.3 0-1.3 0-1.4 .1-1.3 0-.9 0-1.7-.1-1.6 0-1.6-.1-1.4-.1-1.5-.1-1.4-.1-1.3-.1-.9-.1-1.7-.2-1.3-.2-1.2-.1-1.2-.2-1.1-.2-1.1-.2-1.1-.2-1.1-.2M324.5 210.4l.5 .9 .4 .8 .2 .8 .2 .7 .1 1-.1 1-.3 1.2-.2 .6-.3 .6-.4 .6-.4 .6-.5 .7-.4 .4-.5 .5-.4 .4-.5 .4-.5 .4-.5 .5-.6 .3M232.2 218.3l-.5-.9-.4-.8-.2-.8-.2-.7-.1-1 .1-1 .3-1.2 .2-.6 .3-.6 .4-.6 .4-.6 .5-.7 .4-.4 .5-.5 .4-.4 .5-.4 .5-.4 .5-.5 .6-.3M267.1 197.1l1.3-.1 1.1-.1 1.3-.1 1 0 1.4-.1 1.3 0 1.3 0 1.4-.1 1.3 0 .9 0 1.7 .1 1.6 0 1.6 .1 1.4 .1 1.5 .1 1.4 .1 1.3 .1 .9 .1 1.7 .2 1.3 .2 1.2 .1 1.2 .2 1.1 .2 1.1 .2 1.1 .2 1.1 .2"/><path stroke="#ffab00" d="M283.3 233.4l-.9 0-1.1 .1-1.6 0-1.3 0-1.4 0-1-.1-1.7 0-1.5-.1-1.6 0-1.4-.1-1.5-.1-1.3-.2-1.4-.1-1-.1-1.6-.2-1.2-.1-.9-.1M329.4 212.8l.2 .7 .1 1.1-.1 .9-.1 .7-.3 1-.3 .7-.3 .6-.4 .6-.4 .6-.5 .6-.4 .5M227.3 215.9l-.2-.7-.1-1.1 .1-.9 .1-.7 .3-1 .3-.7 .3-.6 .4-.6 .4-.6 .5-.6 .4-.5M273.4 195.3l.9 0 1.1-.1 1.6 0 1.3 0 1.4 0 1 .1 1.7 0 1.5 .1 1.6 0 1.4 .1 1.5 .1 1.3 .2 1.4 .1 1 .1 1.6 .2 1.2 .1 .9 .1"/><path stroke="#ff5f00" d="M278.4 234.8l-1.4 0-1.4 0-1.4-.1-1.5 0-.8-.1-1.6-.1-1.4-.1-.9 0-1.6-.1-1.7-.2M333.2 214.6l-.1 1-.1 .9-.3 .8-.2 .6-.3 .6-.3 .6-.4 .6M223.5 214.1l.1-1 .1-.9 .3-.8 .2-.6 .3-.6 .3-.6 .4-.6M278.3 193.9l1.4 0 1.4 0 1.4 .1 1.5 0 .8 .1 1.6 .1 1.4 .1 .9 0 1.6 .1 1.7 .2"/><path stroke="#e22c00" d="M274.3 236l-1.6-.1-1.5-.1-1.5 0-1.5-.1M336.4 216.1l-.2 .7-.3 1.1-.3 .6M220.3 212.6l.2-.7 .3-1.1 .3-.6M282.4 192.7l1.6 .1 1.5 .1 1.5 0 1.5 .1"/></g><g filter="url(#cm)"><g stroke-width="0.35" stroke-linejoin="round"><linearGradient id="h316" href="#u" x1="278.4" y1="214.3" x2="297.8" y2="170"><stop offset="0" stop-color="#000"/><stop offset=".151" stop-color="#080808"/><stop offset=".367" stop-color="#202020"/><stop offset=".651" stop-color="#484848"/><stop offset="1" stop-color="#808080"/></linearGradient><path fill="url(#h316)" stroke="url(#h316)" d="M278.4 214.3Q295.5 209.5 312.6 176.6L310 175.1Q294.2 208.8 278.4 214.3z"/><linearGradient id="h317" href="#u" x1="278.4" y1="214.3" x2="294.7" y2="169"><stop offset="0" stop-color="#000"/><stop offset=".145" stop-color="#080808"/><stop offset=".36" stop-color="#212121"/><stop offset=".645" stop-color="#494949"/><stop offset="1" stop-color="#828282"/></linearGradient><path fill="url(#h317)" stroke="url(#h317)" d="M278.4 214.3Q294.2 208.8 310 175.1L307.3 172.9Q292.8 208.2 278.4 214.3z"/><linearGradient id="h318" href="#u" x1="278.4" y1="214.3" x2="292.3" y2="167.5"><stop offset="0" stop-color="#000"/><stop offset=".14" stop-color="#080808"/><stop offset=".354" stop-color="#222"/><stop offset=".64" stop-color="#4c4c4c"/><stop offset="1" stop-color="#878787"/></linearGradient><path fill="url(#h318)" stroke="url(#h318)" d="M278.4 214.3Q292.8 208.2 307.3 172.9L304.5 170.1Q291.4 207.5 278.4 214.3z"/><linearGradient id="h319" href="#u" x1="278.4" y1="214.3" x2="290.2" y2="165.3"><stop offset="0" stop-color="#000"/><stop offset=".136" stop-color="#090909"/><stop offset=".348" stop-color="#242424"/><stop offset=".636" stop-color="#515151"/><stop offset="1" stop-color="#909090"/></linearGradient><path fill="url(#h319)" stroke="url(#h319)" d="M278.4 214.3Q291.4 207.5 304.5 170.1L301.6 166.5Q290 206.8 278.4 214.3z"/><linearGradient id="h320" href="#u" x1="278.4" y1="214.3" x2="288.5" y2="162"><stop offset="0" stop-color="#000"/><stop offset=".132" stop-color="#0a0a0a"/><stop offset=".342" stop-color="#272727"/><stop offset=".632" stop-color="#585858"/><stop offset="1" stop-color="#9c9c9c"/></linearGradient><path fill="url(#h320)" stroke="url(#h320)" d="M278.4 214.3Q290 206.8 301.6 166.5L298.4 161.7Q288.4 206 278.4 214.3z"/><linearGradient id="h321" href="#u" x1="278.4" y1="214.3" x2="286.9" y2="157.3"><stop offset="0" stop-color="#000"/><stop offset=".054" stop-color="#030303"/><stop offset=".128" stop-color="#0b0b0b"/><stop offset=".222" stop-color="#181818"/><stop offset=".337" stop-color="#2b2b2b"/><stop offset=".472" stop-color="#444"/><stop offset=".628" stop-color="#616161"/><stop offset=".804" stop-color="#858585"/><stop offset="1" stop-color="#adadad"/></linearGradient><path fill="url(#h321)" stroke="url(#h321)" d="M278.4 214.3Q288.4 206 298.4 161.7L294.8 155.5Q286.6 205.2 278.4 214.3z"/><linearGradient id="h322" href="#u" x1="278.4" y1="214.3" x2="285.3" y2="150.8"><stop offset="0" stop-color="#000"/><stop offset=".051" stop-color="#030303"/><stop offset=".123" stop-color="#0c0c0c"/><stop offset=".217" stop-color="#1c1c1c"/><stop offset=".331" stop-color="#313131"/><stop offset=".467" stop-color="#4d4d4d"/><stop offset=".623" stop-color="#6f6f6f"/><stop offset=".801" stop-color="#979797"/><stop offset="1" stop-color="#c6c6c6"/></linearGradient><path fill="url(#h322)" stroke="url(#h322)" d="M278.4 214.3Q286.6 205.2 294.8 155.5L290.8 147.2Q284.6 204.2 278.4 214.3z"/><linearGradient id="h323" href="#u" x1="278.4" y1="214.3" x2="283.5" y2="141.6"><stop offset="0" stop-color="#000"/><stop offset=".049" stop-color="#040404"/><stop offset=".119" stop-color="#0f0f0f"/><stop offset=".212" stop-color="#212121"/><stop offset=".326" stop-color="#3a3a3a"/><stop offset=".462" stop-color="#5b5b5b"/><stop offset=".619" stop-color="#838383"/><stop offset=".799" stop-color="#b2b2b2"/><stop offset="1" stop-color="#e8e8e8"/></linearGradient><path fill="url(#h323)" stroke="url(#h323)" d="M278.4 214.3Q284.6 204.2 290.8 147.2L286 135.7Q282.2 203 278.4 214.3z"/><linearGradient id="h324" href="#u" x1="278.4" y1="214.3" x2="280.8" y2="141.5"><stop offset="0" stop-color="#000"/><stop offset=".048" stop-color="#040404"/><stop offset=".119" stop-color="#0f0f0f"/><stop offset=".211" stop-color="#212121"/><stop offset=".325" stop-color="#3a3a3a"/><stop offset=".461" stop-color="#5b5b5b"/><stop offset=".619" stop-color="#838383"/><stop offset=".798" stop-color="#b2b2b2"/><stop offset="1" stop-color="#e8e8e8"/></linearGradient><path fill="url(#h324)" stroke="url(#h324)" d="M278.4 214.3Q282.2 203 286 135.7L279.9 146.6Q279.1 203.9 278.4 214.3z"/><linearGradient id="h325" href="#u" x1="278.4" y1="214.3" x2="278.1" y2="150.8"><stop offset="0" stop-color="#000"/><stop offset=".05" stop-color="#030303"/><stop offset=".122" stop-color="#0c0c0c"/><stop offset=".215" stop-color="#1c1c1c"/><stop offset=".329" stop-color="#313131"/><stop offset=".465" stop-color="#4d4d4d"/><stop offset=".622" stop-color="#6f6f6f"/><stop offset=".8" stop-color="#979797"/><stop offset="1" stop-color="#c6c6c6"/></linearGradient><path fill="url(#h325)" stroke="url(#h325)" d="M278.4 214.3Q279.1 203.9 279.9 146.6L274.6 154.4Q276.5 204.6 278.4 214.3z"/><linearGradient id="h326" href="#u" x1="278.4" y1="214.3" x2="276.1" y2="157.4"><stop offset="0" stop-color="#000"/><stop offset=".052" stop-color="#030303"/><stop offset=".125" stop-color="#0b0b0b"/><stop offset=".219" stop-color="#181818"/><stop offset=".333" stop-color="#2b2b2b"/><stop offset=".469" stop-color="#444"/><stop offset=".625" stop-color="#616161"/><stop offset=".802" stop-color="#858585"/><stop offset="1" stop-color="#adadad"/></linearGradient><path fill="url(#h326)" stroke="url(#h326)" d="M278.4 214.3Q276.5 204.6 274.6 154.4L270.1 160.2Q274.2 205.3 278.4 214.3z"/><linearGradient id="h327" href="#u" x1="278.4" y1="214.3" x2="274.3" y2="162.1"><stop offset="0" stop-color="#000"/><stop offset=".128" stop-color="#0a0a0a"/><stop offset=".337" stop-color="#272727"/><stop offset=".628" stop-color="#585858"/><stop offset="1" stop-color="#9c9c9c"/></linearGradient><path fill="url(#h327)" stroke="url(#h327)" d="M278.4 214.3Q274.2 205.3 270.1 160.2L265.9 164.6Q272.1 205.9 278.4 214.3z"/><linearGradient id="h328" href="#u" x1="278.4" y1="214.3" x2="272.6" y2="165.4"><stop offset="0" stop-color="#000"/><stop offset=".131" stop-color="#090909"/><stop offset=".341" stop-color="#242424"/><stop offset=".631" stop-color="#515151"/><stop offset="1" stop-color="#909090"/></linearGradient><path fill="url(#h328)" stroke="url(#h328)" d="M278.4 214.3Q272.1 205.9 265.9 164.6L262.1 167.9Q270.2 206.4 278.4 214.3z"/><linearGradient id="h329" href="#u" x1="278.4" y1="214.3" x2="270.9" y2="167.6"><stop offset="0" stop-color="#000"/><stop offset=".134" stop-color="#080808"/><stop offset=".345" stop-color="#222"/><stop offset=".634" stop-color="#4c4c4c"/><stop offset="1" stop-color="#878787"/></linearGradient><path fill="url(#h329)" stroke="url(#h329)" d="M278.4 214.3Q270.2 206.4 262.1 167.9L258.6 170.4Q268.5 206.9 278.4 214.3z"/><linearGradient id="h330" href="#u" x1="278.4" y1="214.3" x2="269" y2="168.9"><stop offset="0" stop-color="#000"/><stop offset=".137" stop-color="#080808"/><stop offset=".349" stop-color="#212121"/><stop offset=".637" stop-color="#494949"/><stop offset="1" stop-color="#828282"/></linearGradient><path fill="url(#h330)" stroke="url(#h330)" d="M278.4 214.3Q268.5 206.9 258.6 170.4L255.1 172.2Q266.7 207.4 278.4 214.3z"/><linearGradient id="h331" href="#u" x1="278.4" y1="214.3" x2="266.8" y2="169.5"><stop offset="0" stop-color="#000"/><stop offset=".14" stop-color="#080808"/><stop offset=".353" stop-color="#202020"/><stop offset=".64" stop-color="#484848"/><stop offset="1" stop-color="#808080"/></linearGradient><path fill="url(#h331)" stroke="url(#h331)" d="M278.4 214.3Q266.7 207.4 255.1 172.2L251.8 173.4Q265 207.9 278.4 214.3z"/><linearGradient id="h332" href="#u" x1="278.4" y1="214.3" x2="264.2" y2="169.4"><stop offset="0" stop-color="#000"/><stop offset=".143" stop-color="#080808"/><stop offset=".358" stop-color="#202020"/><stop offset=".643" stop-color="#484848"/><stop offset="1" stop-color="#808080"/></linearGradient><path fill="url(#h332)" stroke="url(#h332)" d="M278.4 214.3Q265 207.9 251.8 173.4L248.4 174.1Q263.4 208.4 278.4 214.3z"/><linearGradient id="h333" href="#u" x1="278.4" y1="214.3" x2="260.8" y2="168.8"><stop offset="0" stop-color="#000"/><stop offset=".147" stop-color="#080808"/><stop offset=".363" stop-color="#212121"/><stop offset=".647" stop-color="#494949"/><stop offset="1" stop-color="#828282"/></linearGradient><path fill="url(#h333)" stroke="url(#h333)" d="M278.4 214.3Q263.4 208.4 248.4 174.1L244.9 174.3Q261.6 208.9 278.4 214.3z"/><linearGradient id="h334" href="#u" x1="278.4" y1="214.3" x2="256.5" y2="167.9"><stop offset="0" stop-color="#000"/><stop offset=".152" stop-color="#080808"/><stop offset=".369" stop-color="#222"/><stop offset=".652" stop-color="#4c4c4c"/><stop offset="1" stop-color="#878787"/></linearGradient><path fill="url(#h334)" stroke="url(#h334)" d="M278.4 214.3Q261.6 208.9 244.9 174.3L241.4 173.8Q259.9 209.4 278.4 214.3z"/><linearGradient id="h335" href="#u" x1="278.4" y1="214.3" x2="250.7" y2="166.8"><stop offset="0" stop-color="#000"/><stop offset=".157" stop-color="#090909"/><stop offset=".376" stop-color="#242424"/><stop offset=".657" stop-color="#515151"/><stop offset="1" stop-color="#909090"/></linearGradient><path fill="url(#h335)" stroke="url(#h335)" d="M278.4 214.3Q259.9 209.4 241.4 173.8L237.6 172.7Q258 209.9 278.4 214.3z"/><linearGradient id="h336" href="#u" x1="278.4" y1="214.3" x2="243.2" y2="166.2"><stop offset="0" stop-color="#000"/><stop offset=".163" stop-color="#0a0a0a"/><stop offset=".384" stop-color="#272727"/><stop offset=".663" stop-color="#585858"/><stop offset="1" stop-color="#9c9c9c"/></linearGradient><path fill="url(#h336)" stroke="url(#h336)" d="M278.4 214.3Q258 209.9 237.6 172.7L233.4 170.7Q255.9 210.5 278.4 214.3z"/><linearGradient id="h337" href="#u" x1="278.4" y1="214.3" x2="233.3" y2="167.2"><stop offset="0" stop-color="#000"/><stop offset=".079" stop-color="#030303"/><stop offset=".171" stop-color="#0b0b0b"/><stop offset=".276" stop-color="#181818"/><stop offset=".394" stop-color="#2b2b2b"/><stop offset=".526" stop-color="#444"/><stop offset=".671" stop-color="#616161"/><stop offset=".829" stop-color="#858585"/><stop offset="1" stop-color="#adadad"/></linearGradient><path fill="url(#h337)" stroke="url(#h337)" d="M278.4 214.3Q255.9 210.5 233.4 170.7L228.9 167.5Q253.6 211.2 278.4 214.3z"/><linearGradient id="h338" href="#u" x1="278.4" y1="214.3" x2="221.6" y2="171.7"><stop offset="0" stop-color="#000"/><stop offset=".085" stop-color="#030303"/><stop offset=".181" stop-color="#0c0c0c"/><stop offset=".289" stop-color="#1c1c1c"/><stop offset=".408" stop-color="#313131"/><stop offset=".539" stop-color="#4d4d4d"/><stop offset=".681" stop-color="#6f6f6f"/><stop offset=".835" stop-color="#979797"/><stop offset="1" stop-color="#c6c6c6"/></linearGradient><path fill="url(#h338)" stroke="url(#h338)" d="M278.4 214.3Q253.6 211.2 228.9 167.5L223.6 162.6Q251 211.9 278.4 214.3z"/><linearGradient id="h339" href="#u" x1="278.4" y1="214.3" x2="210" y2="182"><stop offset="0" stop-color="#000"/><stop offset=".093" stop-color="#040404"/><stop offset=".196" stop-color="#0f0f0f"/><stop offset=".307" stop-color="#212121"/><stop offset=".428" stop-color="#3a3a3a"/><stop offset=".557" stop-color="#5b5b5b"/><stop offset=".696" stop-color="#838383"/><stop offset=".843" stop-color="#b2b2b2"/><stop offset="1" stop-color="#e8e8e8"/></linearGradient><path fill="url(#h339)" stroke="url(#h339)" d="M278.4 214.3Q251 211.9 223.6 162.6L217.5 155.2Q247.9 212.8 278.4 214.3z"/><linearGradient id="h340" href="#u" x1="278.4" y1="214.3" x2="211.9" y2="200.8"><stop offset="0" stop-color="#000"/><stop offset=".109" stop-color="#040404"/><stop offset=".222" stop-color="#0f0f0f"/><stop offset=".34" stop-color="#212121"/><stop offset=".462" stop-color="#3a3a3a"/><stop offset=".59" stop-color="#5b5b5b"/><stop offset=".722" stop-color="#838383"/><stop offset=".859" stop-color="#b2b2b2"/><stop offset="1" stop-color="#e8e8e8"/></linearGradient><path fill="url(#h340)" stroke="url(#h340)" d="M278.4 214.3Q247.9 212.8 217.5 155.2L222.3 166.7Q250.3 213.9 278.4 214.3z"/><linearGradient id="h341" href="#u" x1="278.4" y1="214.3" x2="227.1" y2="217.4"><stop offset="0" stop-color="#000"/><stop offset=".13" stop-color="#030303"/><stop offset=".259" stop-color="#0c0c0c"/><stop offset=".387" stop-color="#1c1c1c"/><stop offset=".513" stop-color="#313131"/><stop offset=".637" stop-color="#4d4d4d"/><stop offset=".759" stop-color="#6f6f6f"/><stop offset=".88" stop-color="#979797"/><stop offset="1" stop-color="#c6c6c6"/></linearGradient><path fill="url(#h341)" stroke="url(#h341)" d="M278.4 214.3Q250.3 213.9 222.3 166.7L226.3 175Q252.3 214.9 278.4 214.3z"/><linearGradient id="h342" href="#u" x1="278.4" y1="214.3" x2="243.5" y2="225.6"><stop offset="0" stop-color="#000"/><stop offset=".16" stop-color="#030303"/><stop offset=".31" stop-color="#0b0b0b"/><stop offset=".45" stop-color="#181818"/><stop offset=".58" stop-color="#2b2b2b"/><stop offset=".7" stop-color="#444"/><stop offset=".81" stop-color="#616161"/><stop offset=".91" stop-color="#858585"/><stop offset="1" stop-color="#adadad"/></linearGradient><path fill="url(#h342)" stroke="url(#h342)" d="M278.4 214.3Q252.3 214.9 226.3 175L229.9 181.2Q254.1 215.8 278.4 214.3z"/><linearGradient id="h343" href="#u" x1="278.4" y1="214.3" x2="257.2" y2="226.9"><stop offset="0" stop-color="#000"/><stop offset=".383" stop-color="#0a0a0a"/><stop offset=".678" stop-color="#272727"/><stop offset=".883" stop-color="#585858"/><stop offset="1" stop-color="#9c9c9c"/></linearGradient><path fill="url(#h343)" stroke="url(#h343)" d="M278.4 214.3Q254.1 215.8 229.9 181.2L233.1 186Q255.7 216.6 278.4 214.3z"/><linearGradient id="h344" href="#u" x1="278.4" y1="214.3" x2="266.4" y2="224.8"><stop offset="0" stop-color="#000"/><stop offset=".437" stop-color="#070707"/><stop offset=".75" stop-color="#1b1b1b"/><stop offset=".937" stop-color="#3e3e3e"/><stop offset="1" stop-color="#6d6d6d"/></linearGradient><path fill="url(#h344)" stroke="url(#h344)" d="M278.4 214.3Q258.6 216.3 238.9 193.2L241.4 196.2Q259.9 216.9 278.4 214.3z"/><linearGradient id="h346" href="#u" x1="278.4" y1="214.3" x2="271.3" y2="222.7"><stop offset="0" stop-color="#000"/><stop offset=".438" stop-color="#040404"/><stop offset=".75" stop-color="#101010"/><stop offset=".938" stop-color="#252525"/><stop offset="1" stop-color="#414141"/></linearGradient><path fill="url(#h346)" stroke="url(#h346)" d="M278.4 214.3Q263.6 216.4 248.9 203.6L250.9 205.3Q264.6 216.8 278.4 214.3z"/><linearGradient id="h348" href="#u" x1="278.4" y1="214.3" x2="273.9" y2="221.1"><stop offset="0" stop-color="#000"/><stop offset=".437" stop-color="#030303"/><stop offset=".749" stop-color="#0b0b0b"/><stop offset=".937" stop-color="#191919"/><stop offset="1" stop-color="#2c2c2c"/></linearGradient><path fill="url(#h348)" stroke="url(#h348)" d="M278.4 214.3Q266.9 216.4 255.4 208.7L256.9 209.7Q267.6 216.8 278.4 214.3z"/><linearGradient id="h350" href="#u" x1="278.4" y1="214.3" x2="275.4" y2="219.9"><stop offset="0" stop-color="#000"/><stop offset=".75" stop-color="#080808"/><stop offset="1" stop-color="#202020"/></linearGradient><path fill="url(#h350)" stroke="url(#h350)" d="M278.4 214.3Q269.1 216.5 259.8 211.5L261.1 212.2Q269.7 216.8 278.4 214.3z"/><linearGradient id="h352" href="#u" x1="278.4" y1="214.3" x2="276.3" y2="219"><stop offset="0" stop-color="#000"/><stop offset=".75" stop-color="#060606"/><stop offset="1" stop-color="#191919"/></linearGradient><path fill="url(#h352)" stroke="url(#h352)" d="M278.4 214.3Q270.8 216.5 263.2 213.2L264.4 213.7Q271.4 216.8 278.4 214.3z"/><linearGradient id="h354" href="#u" x1="278.4" y1="214.3" x2="276.9" y2="218.3"><stop offset="0" stop-color="#000"/><stop offset=".75" stop-color="#050505"/><stop offset="1" stop-color="#141414"/></linearGradient><path fill="url(#h354)" stroke="url(#h354)" d="M278.4 214.3Q272.1 216.5 265.9 214.3L266.9 214.7Q272.6 216.8 278.4 214.3z"/><linearGradient id="h356" href="#u" x1="278.4" y1="214.3" x2="277.3" y2="217.8"><stop offset="0" stop-color="#000"/><stop offset=".75" stop-color="#040404"/><stop offset="1" stop-color="#111"/></linearGradient><path fill="url(#h356)" stroke="url(#h356)" d="M278.4 214.3Q273.2 216.5 268 215L269 215.3Q273.7 216.8 278.4 214.3z"/><linearGradient id="h358" href="#u" x1="278.4" y1="214.3" x2="277.6" y2="217.4"><stop offset="0" stop-color="#000"/><stop offset=".75" stop-color="#040404"/><stop offset="1" stop-color="#0f0f0f"/></linearGradient><path fill="url(#h358)" stroke="url(#h358)" d="M278.4 214.3Q274.1 216.6 269.9 215.6L270.9 215.8Q274.6 216.8 278.4 214.3z"/><linearGradient id="h360" href="#u" x1="278.4" y1="214.3" x2="277.8" y2="217.2"><stop offset="0" stop-color="#000"/><stop offset=".75" stop-color="#030303"/><stop offset="1" stop-color="#0d0d0d"/></linearGradient><path fill="url(#h360)" stroke="url(#h360)" d="M278.4 214.3Q275 216.6 271.6 216L272.5 216.1Q275.4 216.8 278.4 214.3z"/><linearGradient id="h362" href="#u" x1="278.4" y1="214.3" x2="278" y2="217"><stop offset="0" stop-color="#000"/><stop offset=".751" stop-color="#030303"/><stop offset="1" stop-color="#0c0c0c"/></linearGradient><path fill="url(#h362)" stroke="url(#h362)" d="M278.4 214.3Q275.7 216.6 273 216.2L274 216.4Q276.2 216.8 278.4 214.3z"/><linearGradient id="h364" href="#u" x1="278.4" y1="214.3" x2="278.1" y2="216.8"><stop offset="0" stop-color="#000"/><stop offset=".751" stop-color="#030303"/><stop offset="1" stop-color="#0c0c0c"/></linearGradient><path fill="url(#h364)" stroke="url(#h364)" d="M278.4 214.3Q276.4 216.6 274.4 216.4L275.4 216.5Q276.9 216.8 278.4 214.3z"/><linearGradient id="h366" href="#u" x1="278.4" y1="214.3" x2="278.2" y2="216.7"><stop offset="0" stop-color="#000"/><stop offset=".751" stop-color="#030303"/><stop offset="1" stop-color="#0b0b0b"/></linearGradient><path fill="url(#h366)" stroke="url(#h366)" d="M278.4 214.3Q277 216.6 275.6 216.6L276.7 216.6Q277.5 216.8 278.4 214.3z"/><linearGradient id="h368" href="#u" x1="278.4" y1="214.3" x2="278.3" y2="216.7"><stop offset="0" stop-color="#000"/><stop offset=".751" stop-color="#030303"/><stop offset="1" stop-color="#0b0b0b"/></linearGradient><path fill="url(#h368)" stroke="url(#h368)" d="M278.4 214.3Q277.5 216.8 276.7 216.6L278 216.7Q278.2 216.6 278.4 214.3z"/><linearGradient id="h370" href="#u" x1="278.4" y1="214.3" x2="278.4" y2="216.7"><stop offset="0" stop-color="#000"/><stop offset=".751" stop-color="#030303"/><stop offset="1" stop-color="#0b0b0b"/></linearGradient><path fill="url(#h370)" stroke="url(#h370)" d="M278.4 214.3Q278.2 216.8 278 216.7L279.2 216.7Q278.8 216.6 278.4 214.3z"/><linearGradient id="h372" href="#u" x1="278.4" y1="214.3" x2="278.4" y2="216.7"><stop offset="0" stop-color="#000"/><stop offset=".751" stop-color="#030303"/><stop offset="1" stop-color="#0b0b0b"/></linearGradient><path fill="url(#h372)" stroke="url(#h372)" d="M278.4 214.3Q278.8 216.8 279.3 216.7L280.4 216.6Q279.4 216.6 278.4 214.3z"/><linearGradient id="h374" href="#u" x1="278.4" y1="214.3" x2="278.5" y2="216.8"><stop offset="0" stop-color="#000"/><stop offset=".75" stop-color="#030303"/><stop offset="1" stop-color="#0b0b0b"/></linearGradient><path fill="url(#h374)" stroke="url(#h374)" d="M278.4 214.3Q279.5 216.8 280.6 216.6L281.7 216.5Q280 216.6 278.4 214.3z"/><linearGradient id="h376" href="#u" x1="278.4" y1="214.3" x2="278.6" y2="216.9"><stop offset="0" stop-color="#000"/><stop offset=".75" stop-color="#030303"/><stop offset="1" stop-color="#0c0c0c"/></linearGradient><path fill="url(#h376)" stroke="url(#h376)" d="M278.4 214.3Q280.1 216.8 281.9 216.5L283 216.4Q280.7 216.6 278.4 214.3z"/><linearGradient id="h378" href="#u" x1="278.4" y1="214.3" x2="278.8" y2="217.1"><stop offset="0" stop-color="#000"/><stop offset=".75" stop-color="#030303"/><stop offset="1" stop-color="#0d0d0d"/></linearGradient><path fill="url(#h378)" stroke="url(#h378)" d="M278.4 214.3Q280.8 216.8 283.3 216.3L284.4 216.2Q281.4 216.6 278.4 214.3z"/><linearGradient id="h380" href="#u" x1="278.4" y1="214.3" x2="279" y2="217.3"><stop offset="0" stop-color="#000"/><stop offset=".75" stop-color="#030303"/><stop offset="1" stop-color="#0e0e0e"/></linearGradient><path fill="url(#h380)" stroke="url(#h380)" d="M278.4 214.3Q281.6 216.8 284.8 216.1L286 215.9Q282.2 216.6 278.4 214.3z"/><linearGradient id="h382" href="#u" x1="278.4" y1="214.3" x2="279.2" y2="217.6"><stop offset="0" stop-color="#000"/><stop offset=".751" stop-color="#040404"/><stop offset="1" stop-color="#101010"/></linearGradient><path fill="url(#h382)" stroke="url(#h382)" d="M278.4 214.3Q282.4 216.8 286.5 215.7L287.7 215.4Q283 216.6 278.4 214.3z"/><linearGradient id="h384" href="#u" x1="278.4" y1="214.3" x2="279.5" y2="218"><stop offset="0" stop-color="#000"/><stop offset=".75" stop-color="#050505"/><stop offset="1" stop-color="#121212"/></linearGradient><path fill="url(#h384)" stroke="url(#h384)" d="M278.4 214.3Q283.4 216.8 288.5 215.2L289.7 214.8Q284 216.6 278.4 214.3z"/><linearGradient id="h386" href="#u" x1="278.4" y1="214.3" x2="280" y2="218.6"><stop offset="0" stop-color="#000"/><stop offset=".751" stop-color="#060606"/><stop offset="1" stop-color="#161616"/></linearGradient><path fill="url(#h386)" stroke="url(#h386)" d="M278.4 214.3Q284.6 216.8 290.8 214.5L292.2 213.9Q285.3 216.6 278.4 214.3z"/><linearGradient id="h388" href="#u" x1="278.4" y1="214.3" x2="280.7" y2="219.4"><stop offset="0" stop-color="#000"/><stop offset=".75" stop-color="#070707"/><stop offset="1" stop-color="#1c1c1c"/></linearGradient><path fill="url(#h388)" stroke="url(#h388)" d="M278.4 214.3Q285.9 216.8 293.5 213.3L295.1 212.6Q286.7 216.6 278.4 214.3z"/><linearGradient id="h390" href="#u" x1="278.4" y1="214.3" x2="281.9" y2="220.4"><stop offset="0" stop-color="#000"/><stop offset=".75" stop-color="#090909"/><stop offset="1" stop-color="#252525"/></linearGradient><path fill="url(#h390)" stroke="url(#h390)" d="M278.4 214.3Q287.7 216.9 297.1 211.5L299 210.4Q288.7 216.6 278.4 214.3z"/><linearGradient id="h392" href="#u" x1="278.4" y1="214.3" x2="283.8" y2="221.8"><stop offset="0" stop-color="#000"/><stop offset=".437" stop-color="#030303"/><stop offset=".75" stop-color="#0d0d0d"/><stop offset=".937" stop-color="#1d1d1d"/><stop offset="1" stop-color="#343434"/></linearGradient><path fill="url(#h392)" stroke="url(#h392)" d="M278.4 214.3Q290.1 216.9 301.9 208.5L304.3 206.8Q291.3 216.6 278.4 214.3z"/><linearGradient id="h394" href="#u" x1="278.4" y1="214.3" x2="287.2" y2="223.7"><stop offset="0" stop-color="#000"/><stop offset=".437" stop-color="#050505"/><stop offset=".75" stop-color="#141414"/><stop offset=".937" stop-color="#2e2e2e"/><stop offset="1" stop-color="#515151"/></linearGradient><path fill="url(#h394)" stroke="url(#h394)" d="M278.4 214.3Q293.7 217 309.1 202.8L312.2 199.8Q295.3 216.5 278.4 214.3z"/><linearGradient id="h396" href="#u" x1="278.4" y1="214.3" x2="293.8" y2="226"><stop offset="0" stop-color="#000"/><stop offset=".438" stop-color="#090909"/><stop offset=".75" stop-color="#252525"/><stop offset=".938" stop-color="#535353"/><stop offset="1" stop-color="#939393"/></linearGradient><path fill="url(#h396)" stroke="url(#h396)" d="M278.4 214.3Q299.7 217.1 321 189.7L325.5 183.7Q301.9 216.5 278.4 214.3z"/><linearGradient id="h398" href="#u" x1="278.4" y1="214.3" x2="307.3" y2="228"><stop offset="0" stop-color="#000"/><stop offset=".199" stop-color="#040404"/><stop offset=".378" stop-color="#0f0f0f"/><stop offset=".535" stop-color="#212121"/><stop offset=".67" stop-color="#3a3a3a"/><stop offset=".785" stop-color="#5b5b5b"/><stop offset=".878" stop-color="#838383"/><stop offset=".949" stop-color="#b2b2b2"/><stop offset="1" stop-color="#e8e8e8"/></linearGradient><path fill="url(#h398)" stroke="url(#h398)" d="M278.4 214.3Q305.7 216.8 333.1 172.4L339.2 161.5Q308.8 215.9 278.4 214.3z"/><linearGradient id="h399" href="#u" x1="278.4" y1="214.3" x2="324.7" y2="223.8"><stop offset="0" stop-color="#000"/><stop offset=".149" stop-color="#040404"/><stop offset=".29" stop-color="#0f0f0f"/><stop offset=".426" stop-color="#212121"/><stop offset=".554" stop-color="#3a3a3a"/><stop offset=".676" stop-color="#5b5b5b"/><stop offset=".79" stop-color="#838383"/><stop offset=".899" stop-color="#b2b2b2"/><stop offset="1" stop-color="#e8e8e8"/></linearGradient><path fill="url(#h399)" stroke="url(#h399)" d="M278.4 214.3Q308.8 215.9 339.2 161.5L334.4 168.3Q306.4 214.8 278.4 214.3z"/><linearGradient id="h400" href="#u" x1="278.4" y1="214.3" x2="334.7" y2="211"><stop offset="0" stop-color="#000"/><stop offset=".12" stop-color="#030303"/><stop offset=".241" stop-color="#0c0c0c"/><stop offset=".364" stop-color="#1c1c1c"/><stop offset=".489" stop-color="#313131"/><stop offset=".614" stop-color="#4d4d4d"/><stop offset=".741" stop-color="#6f6f6f"/><stop offset=".87" stop-color="#979797"/><stop offset="1" stop-color="#c6c6c6"/></linearGradient><path fill="url(#h400)" stroke="url(#h400)" d="M278.4 214.3Q306.4 214.8 334.4 168.3L330.4 172.7Q304.4 213.8 278.4 214.3z"/><linearGradient id="h401" href="#u" x1="278.4" y1="214.3" x2="335.5" y2="195.8"><stop offset="0" stop-color="#000"/><stop offset=".104" stop-color="#030303"/><stop offset=".213" stop-color="#0b0b0b"/><stop offset=".329" stop-color="#181818"/><stop offset=".451" stop-color="#2b2b2b"/><stop offset=".579" stop-color="#444"/><stop offset=".713" stop-color="#616161"/><stop offset=".854" stop-color="#858585"/><stop offset="1" stop-color="#adadad"/></linearGradient><path fill="url(#h401)" stroke="url(#h401)" d="M278.4 214.3Q304.4 213.8 330.4 172.7L326.8 175.5Q302.6 212.9 278.4 214.3z"/><linearGradient id="h402" href="#u" x1="278.4" y1="214.3" x2="329.6" y2="183.9"><stop offset="0" stop-color="#000"/><stop offset=".195" stop-color="#0a0a0a"/><stop offset=".427" stop-color="#272727"/><stop offset=".695" stop-color="#585858"/><stop offset="1" stop-color="#9c9c9c"/></linearGradient><path fill="url(#h402)" stroke="url(#h402)" d="M278.4 214.3Q302.6 212.9 326.8 175.5L323.6 177.1Q301 212.1 278.4 214.3z"/><linearGradient id="h403" href="#u" x1="278.4" y1="214.3" x2="321.3" y2="176.7"><stop offset="0" stop-color="#000"/><stop offset=".182" stop-color="#090909"/><stop offset=".409" stop-color="#242424"/><stop offset=".682" stop-color="#515151"/><stop offset="1" stop-color="#909090"/></linearGradient><path fill="url(#h403)" stroke="url(#h403)" d="M278.4 214.3Q301 212.1 323.6 177.1L320.7 177.9Q299.5 211.4 278.4 214.3z"/><linearGradient id="h404" href="#u" x1="278.4" y1="214.3" x2="313.4" y2="173.1"><stop offset="0" stop-color="#000"/><stop offset=".172" stop-color="#080808"/><stop offset=".395" stop-color="#222"/><stop offset=".672" stop-color="#4c4c4c"/><stop offset="1" stop-color="#878787"/></linearGradient><path fill="url(#h404)" stroke="url(#h404)" d="M278.4 214.3Q299.5 211.4 320.7 177.9L317.9 178.1Q298.1 210.8 278.4 214.3z"/><linearGradient id="h405" href="#u" x1="278.4" y1="214.3" x2="306.9" y2="171.5"><stop offset="0" stop-color="#000"/><stop offset=".163" stop-color="#080808"/><stop offset=".384" stop-color="#212121"/><stop offset=".663" stop-color="#494949"/><stop offset="1" stop-color="#828282"/></linearGradient><path fill="url(#h405)" stroke="url(#h405)" d="M278.4 214.3Q298.1 210.8 317.9 178.1L315.2 177.6Q296.8 210.1 278.4 214.3z"/><linearGradient id="h406" href="#u" x1="278.4" y1="214.3" x2="301.8" y2="170.7"><stop offset="0" stop-color="#000"/><stop offset=".156" stop-color="#080808"/><stop offset=".375" stop-color="#202020"/><stop offset=".656" stop-color="#484848"/><stop offset="1" stop-color="#808080"/></linearGradient><path fill="url(#h406)" stroke="url(#h406)" d="M278.4 214.3Q296.8 210.1 315.2 177.6L312.6 176.6Q295.5 209.5 278.4 214.3z"/></g></g><g filter="url(#cm)"><g stroke-width="0.35" stroke-linejoin="round"><linearGradient id="h345" href="#u" x1="240.2" y1="194.8" x2="240.4" y2="194.6"><stop offset="0" stop-color="#6d6d6d"/><stop offset="1" stop-color="#909090"/></linearGradient><path fill="url(#h345)" stroke="url(#h345)" d="M238.9 193.2Q236 189.9 233.1 186L236 189.6Q238.7 193.1 241.4 196.2z"/><linearGradient id="h347" href="#u" x1="249.9" y1="204.5" x2="251.3" y2="202.9"><stop offset="0" stop-color="#414141"/><stop offset=".25" stop-color="#616161"/><stop offset="1" stop-color="#878787"/></linearGradient><path fill="url(#h347)" stroke="url(#h347)" d="M248.9 203.6Q242.5 198 236 189.6L238.8 192.4Q244.8 200.2 250.9 205.3z"/><linearGradient id="h349" href="#u" x1="256.1" y1="209.2" x2="258.5" y2="205.8"><stop offset="0" stop-color="#2c2c2c"/><stop offset=".249" stop-color="#515151"/><stop offset="1" stop-color="#828282"/></linearGradient><path fill="url(#h349)" stroke="url(#h349)" d="M255.4 208.7Q247.1 203.1 238.8 192.4L241.5 194.6Q249.2 204.6 256.9 209.7z"/><linearGradient id="h351" href="#u" x1="260.5" y1="211.8" x2="263.4" y2="206.5"><stop offset="0" stop-color="#202020"/><stop offset=".25" stop-color="#484848"/><stop offset="1" stop-color="#808080"/></linearGradient><path fill="url(#h351)" stroke="url(#h351)" d="M259.8 211.5Q250.7 206.5 241.5 194.6L244.1 196.1Q252.6 207.6 261.1 212.2z"/><linearGradient id="h353" href="#u" x1="263.8" y1="213.4" x2="267" y2="206.1"><stop offset="0" stop-color="#191919"/><stop offset=".25" stop-color="#424242"/><stop offset="1" stop-color="#808080"/></linearGradient><path fill="url(#h353)" stroke="url(#h353)" d="M263.2 213.2Q253.6 209 244.1 196.1L246.7 197.1Q255.5 209.8 264.4 213.7z"/><linearGradient id="h355" href="#u" x1="266.4" y1="214.5" x2="269.7" y2="205.2"><stop offset="0" stop-color="#141414"/><stop offset=".062" stop-color="#272727"/><stop offset=".25" stop-color="#3f3f3f"/><stop offset=".562" stop-color="#5e5e5e"/><stop offset="1" stop-color="#828282"/></linearGradient><path fill="url(#h355)" stroke="url(#h355)" d="M265.9 214.3Q256.3 210.9 246.7 197.1L249.4 197.6Q258.2 211.4 266.9 214.7z"/><linearGradient id="h357" href="#u" x1="268.5" y1="215.2" x2="271.9" y2="203.9"><stop offset="0" stop-color="#111"/><stop offset=".063" stop-color="#242424"/><stop offset=".25" stop-color="#3e3e3e"/><stop offset=".563" stop-color="#5f5f5f"/><stop offset="1" stop-color="#878787"/></linearGradient><path fill="url(#h357)" stroke="url(#h357)" d="M268 215Q258.7 212.3 249.4 197.6L252.2 197.4Q260.6 212.7 269 215.3z"/><linearGradient id="h359" href="#u" x1="270.4" y1="215.7" x2="273.7" y2="202"><stop offset="0" stop-color="#0f0f0f"/><stop offset=".063" stop-color="#232323"/><stop offset=".25" stop-color="#3f3f3f"/><stop offset=".563" stop-color="#636363"/><stop offset="1" stop-color="#909090"/></linearGradient><path fill="url(#h359)" stroke="url(#h359)" d="M269.9 215.6Q261 213.5 252.2 197.4L255.1 196.6Q263 213.8 270.9 215.8z"/><linearGradient id="h361" href="#u" x1="272" y1="216.1" x2="275.2" y2="199.5"><stop offset="0" stop-color="#0d0d0d"/><stop offset=".062" stop-color="#222"/><stop offset=".25" stop-color="#414141"/><stop offset=".562" stop-color="#6a6a6a"/><stop offset="1" stop-color="#9c9c9c"/></linearGradient><path fill="url(#h361)" stroke="url(#h361)" d="M271.6 216Q263.3 214.5 255.1 196.6L258.3 195Q265.4 214.6 272.5 216.1z"/><linearGradient id="h363" href="#u" x1="273.5" y1="216.3" x2="276.5" y2="196.2"><stop offset="0" stop-color="#0c0c0c"/><stop offset=".063" stop-color="#232323"/><stop offset=".25" stop-color="#454545"/><stop offset=".563" stop-color="#747474"/><stop offset="1" stop-color="#adadad"/></linearGradient><path fill="url(#h363)" stroke="url(#h363)" d="M273 216.2Q265.7 215.3 258.3 195L261.9 192.2Q267.9 215.2 274 216.4z"/><linearGradient id="h365" href="#u" x1="274.8" y1="216.5" x2="277.5" y2="191.8"><stop offset="0" stop-color="#0c0c0c"/><stop offset=".063" stop-color="#252525"/><stop offset=".25" stop-color="#4c4c4c"/><stop offset=".563" stop-color="#828282"/><stop offset="1" stop-color="#c6c6c6"/></linearGradient><path fill="url(#h365)" stroke="url(#h365)" d="M274.4 216.4Q268.1 216 261.9 192.2L265.9 187.8Q270.6 215.7 275.4 216.5z"/><linearGradient id="h367" href="#u" x1="276.1" y1="216.6" x2="278.3" y2="185.5"><stop offset="0" stop-color="#0b0b0b"/><stop offset=".063" stop-color="#282828"/><stop offset=".25" stop-color="#565656"/><stop offset=".563" stop-color="#969696"/><stop offset="1" stop-color="#e8e8e8"/></linearGradient><path fill="url(#h367)" stroke="url(#h367)" d="M275.6 216.6Q270.8 216.5 265.9 187.8L270.7 181Q273.7 216 276.7 216.6z"/><linearGradient id="h369" href="#u" x1="277.4" y1="216.7" x2="278.4" y2="185.2"><stop offset="0" stop-color="#0b0b0b"/><stop offset=".063" stop-color="#272727"/><stop offset=".25" stop-color="#565656"/><stop offset=".563" stop-color="#969696"/><stop offset="1" stop-color="#e8e8e8"/></linearGradient><path fill="url(#h369)" stroke="url(#h369)" d="M276.7 216.6Q273.7 216.1 270.7 181L276.8 188.4Q277.4 217 278 216.7z"/><linearGradient id="h371" href="#u" x1="278.6" y1="216.7" x2="278.5" y2="191.1"><stop offset="0" stop-color="#0b0b0b"/><stop offset=".063" stop-color="#242424"/><stop offset=".25" stop-color="#4b4b4b"/><stop offset=".563" stop-color="#818181"/><stop offset="1" stop-color="#c6c6c6"/></linearGradient><path fill="url(#h371)" stroke="url(#h371)" d="M278 216.7Q277.4 216.3 276.8 188.4L282.1 193.3Q280.6 216.9 279.2 216.7z"/><linearGradient id="h373" href="#u" x1="279.9" y1="216.7" x2="279" y2="195.3"><stop offset="0" stop-color="#0b0b0b"/><stop offset=".063" stop-color="#212121"/><stop offset=".25" stop-color="#444"/><stop offset=".563" stop-color="#727272"/><stop offset="1" stop-color="#adadad"/></linearGradient><path fill="url(#h373)" stroke="url(#h373)" d="M279.3 216.7Q280.7 216.4 282.1 193.3L286.6 196.5Q283.5 216.7 280.4 216.6z"/><linearGradient id="h375" href="#u" x1="281.1" y1="216.6" x2="279.7" y2="198.3"><stop offset="0" stop-color="#0b0b0b"/><stop offset=".063" stop-color="#202020"/><stop offset=".25" stop-color="#3f3f3f"/><stop offset=".563" stop-color="#686868"/><stop offset="1" stop-color="#9c9c9c"/></linearGradient><path fill="url(#h375)" stroke="url(#h375)" d="M280.6 216.6Q283.6 216.2 286.6 196.5L290.8 198.5Q286.2 216.3 281.7 216.5z"/><linearGradient id="h377" href="#u" x1="282.5" y1="216.5" x2="280.6" y2="200.6"><stop offset="0" stop-color="#0c0c0c"/><stop offset=".063" stop-color="#1f1f1f"/><stop offset=".25" stop-color="#3b3b3b"/><stop offset=".563" stop-color="#616161"/><stop offset="1" stop-color="#909090"/></linearGradient><path fill="url(#h377)" stroke="url(#h377)" d="M281.9 216.5Q286.3 215.9 290.8 198.5L294.6 199.6Q288.8 215.8 283 216.4z"/><linearGradient id="h379" href="#u" x1="283.9" y1="216.3" x2="281.6" y2="202.3"><stop offset="0" stop-color="#0d0d0d"/><stop offset=".063" stop-color="#1f1f1f"/><stop offset=".25" stop-color="#3a3a3a"/><stop offset=".563" stop-color="#5d5d5d"/><stop offset="1" stop-color="#878787"/></linearGradient><path fill="url(#h379)" stroke="url(#h379)" d="M283.3 216.3Q288.9 215.3 294.6 199.6L298.1 200.1Q291.3 215.1 284.4 216.2z"/><linearGradient id="h381" href="#u" x1="285.4" y1="216" x2="282.9" y2="203.6"><stop offset="0" stop-color="#0e0e0e"/><stop offset=".062" stop-color="#202020"/><stop offset=".25" stop-color="#393939"/><stop offset=".562" stop-color="#5a5a5a"/><stop offset="1" stop-color="#828282"/></linearGradient><path fill="url(#h381)" stroke="url(#h381)" d="M284.8 216.1Q291.5 214.7 298.1 200.1L301.6 199.9Q293.8 214.3 286 215.9z"/><linearGradient id="h383" href="#u" x1="287.1" y1="215.6" x2="284.3" y2="204.5"><stop offset="0" stop-color="#101010"/><stop offset=".063" stop-color="#222"/><stop offset=".25" stop-color="#3a3a3a"/><stop offset=".563" stop-color="#5a5a5a"/><stop offset="1" stop-color="#808080"/></linearGradient><path fill="url(#h383)" stroke="url(#h383)" d="M286.5 215.7Q294.1 213.8 301.6 199.9L304.9 199.2Q296.3 213.2 287.7 215.4z"/><linearGradient id="h385" href="#u" x1="289.1" y1="215" x2="286" y2="205.2"><stop offset="0" stop-color="#121212"/><stop offset=".062" stop-color="#252525"/><stop offset=".25" stop-color="#3d3d3d"/><stop offset=".562" stop-color="#5b5b5b"/><stop offset="1" stop-color="#808080"/></linearGradient><path fill="url(#h385)" stroke="url(#h385)" d="M288.5 215.2Q296.7 212.6 304.9 199.2L308.3 198Q299 211.8 289.7 214.8z"/><linearGradient id="h387" href="#u" x1="291.5" y1="214.2" x2="288.2" y2="205.6"><stop offset="0" stop-color="#161616"/><stop offset=".063" stop-color="#292929"/><stop offset=".25" stop-color="#414141"/><stop offset=".563" stop-color="#5f5f5f"/><stop offset="1" stop-color="#828282"/></linearGradient><path fill="url(#h387)" stroke="url(#h387)" d="M290.8 214.5Q299.5 211.1 308.3 198L311.8 196.2Q302 210.1 292.2 213.9z"/><linearGradient id="h389" href="#u" x1="294.3" y1="213" x2="290.9" y2="205.7"><stop offset="0" stop-color="#1c1c1c"/><stop offset=".062" stop-color="#2f2f2f"/><stop offset=".25" stop-color="#484848"/><stop offset=".562" stop-color="#656565"/><stop offset="1" stop-color="#878787"/></linearGradient><path fill="url(#h389)" stroke="url(#h389)" d="M293.5 213.3Q302.6 209.1 311.8 196.2L315.3 193.7Q305.2 207.7 295.1 212.6z"/><linearGradient id="h391" href="#u" x1="298" y1="211" x2="294.7" y2="205.3"><stop offset="0" stop-color="#252525"/><stop offset=".25" stop-color="#525252"/><stop offset="1" stop-color="#909090"/></linearGradient><path fill="url(#h391)" stroke="url(#h391)" d="M297.1 211.5Q306.2 206.4 315.3 193.7L319.1 190.4Q309.1 204.4 299 210.4z"/><linearGradient id="h393" href="#u" x1="303.1" y1="207.7" x2="300.2" y2="203.7"><stop offset="0" stop-color="#343434"/><stop offset=".25" stop-color="#616161"/><stop offset="1" stop-color="#9c9c9c"/></linearGradient><path fill="url(#h393)" stroke="url(#h393)" d="M301.9 208.5Q310.5 202.4 319.1 190.4L323.3 186Q313.8 199.6 304.3 206.8z"/><linearGradient id="h395" href="#u" x1="310.6" y1="201.4" x2="308.7" y2="199.4"><stop offset="0" stop-color="#515151"/><stop offset=".25" stop-color="#7b7b7b"/><stop offset="1" stop-color="#adadad"/></linearGradient><path fill="url(#h395)" stroke="url(#h395)" d="M309.1 202.8Q316.2 196.2 323.3 186L327.8 180.2Q320 192 312.2 199.8z"/><linearGradient id="h397" href="#u" x1="323.2" y1="187" x2="322.8" y2="186.7"><stop offset="0" stop-color="#939393"/><stop offset="1" stop-color="#c6c6c6"/></linearGradient><path fill="url(#h397)" stroke="url(#h397)" d="M321 189.7Q324.4 185.4 327.8 180.2L333.1 172.4Q329.3 178.5 325.5 183.7z"/></g></g></g><text x="273.6" y="243.3">-100</text><text x="290.7" y="238.4">-50</text><text x="307.8" y="233.6">0</text><text x="324.9" y="228.7">50</text><text x="342.1" y="223.8">100</text><text x="267.4" y="242.6" text-anchor="end">-100</text><text x="254.1" y="236.2" text-anchor="end">-50</text><text x="240.8" y="229.7" text-anchor="end">0</text><text x="227.5" y="223.3" text-anchor="end">50</text><text x="214.2" y="216.8" text-anchor="end">100</text><text x="214.4" y="198.1" text-anchor="end">0.5</text><text x="214.4" y="184.1" text-anchor="end">1</text><text x="214.4" y="170.1" text-anchor="end">1.5</text><text x="214.4" y="156.1" text-anchor="end">2</text><text class="tt" x="278.4" y="134.2" text-anchor="middle">F6 Parameter space</text><text x="303.3" y="245.2" text-anchor="middle">x<tspan class="u" dy=".9">1</tspan></text><text x="241.8" y="243.8" text-anchor="middle">x<tspan class="u" dy=".9">2</tspan></text><text text-anchor="middle" transform="translate(204.7 183.2) rotate(-90)">F6( x<tspan class="u" dy=".9">1</tspan><tspan dy="-.9"> , x</tspan><tspan class="u" dy=".9">2</tspan><tspan dy="-.9"> )</tspan></text><text x="207.8" y="148.6">×10<tspan class="u" dy="-1.4">4</tspan></text></g>
<g class="q"><g class="k"><path class="g" d="M422.5 236.5L365.7 211.2M365.7 211.2L365.7 154.2M440.8 231.8L384 206.4M384 206.4L384 149.4M459.1 227L402.3 201.7M402.3 201.7L402.3 144.7M477.4 222.2L420.6 196.9M420.6 196.9L420.6 139.9M422.5 236.5L495.7 217.5M495.7 217.5L495.7 160.5M408.3 230.2L481.5 211.2M481.5 211.2L481.5 154.2M394.1 223.8L467.3 204.8M467.3 204.8L467.3 147.8M379.9 217.5L453.1 198.5M453.1 198.5L453.1 141.5M365.7 203.7L438.9 184.7M438.9 184.7L495.7 210M365.7 196.2L438.9 177.2M438.9 177.2L495.7 202.5M365.7 188.7L438.9 169.7M438.9 169.7L495.7 195M365.7 181.2L438.9 162.2M438.9 162.2L495.7 187.5M365.7 173.7L438.9 154.7M438.9 154.7L495.7 180M365.7 166.2L438.9 147.2M438.9 147.2L495.7 172.5M365.7 158.7L438.9 139.7M438.9 139.7L495.7 165"/><path class="b" d="M422.5 236.5L495.7 217.5M422.5 236.5L365.7 211.2M495.7 217.5L438.9 192.2M365.7 211.2L438.9 192.2M365.7 211.2L365.7 154.2M438.9 192.2L438.9 135.2M495.7 217.5L495.7 160.5M365.7 154.2L438.9 135.2M438.9 135.2L495.7 160.5M422.5 236.5L423 237.7M440.8 231.8L441.3 232.9M459.1 227L459.6 228.2M477.4 222.2L477.9 223.4M422.5 236.5L421.9 237.7M408.3 230.2L407.7 231.4M394.1 223.8L393.5 225M379.9 217.5L379.3 218.7M365.7 203.7L364.4 203.7M365.7 196.2L364.4 196.2M365.7 188.7L364.4 188.7M365.7 181.2L364.4 181.2M365.7 173.7L364.4 173.7M365.7 166.2L364.4 166.2M365.7 158.7L364.4 158.7"/><g class="c c7" stroke-width=".5"><path stroke="#1d48f4" d="M442.8 224.9l-1.3-.5 1.4 .4zM455 221l-1.5 .2 1.1-.3zM439.2 224.3l-.7 0-1.1-.5 1.4-.3 .7 .6zM441 223.1l-1.5 .2-1.8-.4-.6-.5 1-.4 .7-.9 1.7 .3-.3 .9 1.1 .5zM444.3 222.5l-1-.2 .3-.9 .7-.2 1.9 .3-.7 .5-1.2 .5zM454.1 219.6l-.6 .1-2.1-.3-.8-.3 1.2-.5 2 .2 .9 .5-.6 .3zM456.9 218.8l-2.1-.3 .1-.8 .8-.5 .8 .1-.2 .8 .6 .7zM460 218.1l-.5-.2 .5 .2zM432.5 224.4l-.8 .1 .9-.2zM434.8 223.4l-1.5-.1-1.3-.1-.9-.1 1.6-.6 1.8 .5 .3 .4zM463.8 215.7l-1.3 0 .2-.5 .8 .3zM441.9 220.4l-1.7-.5 1.7-.5 .2 .8zM447.1 219.6l-2-.2-.8 0-2.1 0 .7-.6 1.4-.5 2.1 0 .5 .6 .2 .7zM429.4 223.1l-1.2-.1 .4-.3 .8 0zM435.1 221.5l-1 0 1.2-.3zM450.9 217.1l-1.9 .3-1.5-.2 .4-.3 1.5-.4 .8 0 .7 .6zM458.2 215.3l-.6 .1-1.4-.5 .4-.4 .8 .1 .8 .6zM461.7 214.8l-.7-.3 .7 .3zM429.4 222l-.7-.3 .9 .2zM426.7 221.9l-.6-.3 1 .1zM440.1 218.5l-1 .1-.5-.7-2.3 0 .7-.7-.2-1.2 1.6 .4 1 .5 2 .1-1.1 .6-.1 .7zM454.6 214.7l-1.5-.6 1.5 .5zM427.4 221.2l-1.2-.1-1.1 0-1.2-.2-1.3-.4 .7-1 1.5-.5 .2-.8 .9-.2 1.2 .5-1.8 .7-.6 .7 1.3 .5 2 0 .9 0-1.5 .8zM433.1 219.6l-.7-.1 1-.3zM447.5 215.7l-2.3-.1-1.4 .5-1.8 .1-1.6-.4-1.6-.3-1.1-.1-1.1-.2 1.1-.3 1.4 .1 1.3 0 1.7 .4 2.4 0 1.6-.4 1.5-.2 .6 .6-.7 .3zM450.4 214.9l-1.6-.4 1.7 .3zM432.8 217.4l-1.1-.1 1.2-.3zM443 214.6l-1.3 .1 2.3-.6-1 .5zM430.2 217.2l-1.2 0-1.2-.5 .6-.3 1-.1 .9 .6zM440.2 214.4l-1.4-.6 1.2-.5 1.6-.2-.6 .7-.6 .4zM448.2 212.8l-1.3-.2-1.7-.4-.9-.1-1.3-.1 1.2-.3 1.4 0 1.1 .1 1.4 .4zM422 218.7l-1.6-.1 .6-.3 1.1-.1zM425.8 217.3l-1.6-.5 .6-.1 1.2 .5zM434.8 215.2l-1.6 .1-2.5-.1-.2-.8-2.2-.1-1 .6-.9-.2 .1-.9-.3-.4 2-.1 2.8 .2 1.7-.3 1.8-.2 1.1-.6 2 .2-.6 .4-.2 .6-1.5 .4-1-.1-1.7 .2 1.3 .7 1.4 0-.5 .4zM415.9 219.1l-.7 .1 .8-.2zM429.6 215.9l-1.1-.2-.5-.5 2 .1-.4 .6zM441.5 213l-1-.4 1 .4zM449 211.2l-2.4-.2-.3-.7 .9-.2 1.8 .3 0 .8zM452.8 209.8l-.7-.2 .7 .2zM416.4 218.3l-1.2 .1-1.4-.2-.9 0 .7-1-1-.6 2.2 0 .8 .1 1.1 .5-.1 .8zM422.1 216.7l-.9 .1-.7-.6-1.3-.5 .8-.2 .9 .6 1.2 .5zM426.6 215.6l-1 .1 1.9-.5-.9 .4zM438.6 211.7l-1.4 .2-2.3 .2-1.2-.1 .5-.2 1.3-.5 1.3-.4 1.3-.1 1.3 .5-.8 .4zM443.5 210.8l-1.4-.2-1.3-.5 .4-.4 .9 .1 1 .5 .4 .5zM424.1 214.5l-2.1-.3 .2-.5-.5-1 1.3-.7-.2-1.2 2.4 .1 2.6 .2-.8 .6-.6 .6-1.6 .4-.9 .7 .2 1.1zM444.8 209.3l-2.4-.4-.8-.6 1-.2 1.2 .4 2 .2-1 .6zM417.4 215.7l-1.1 0 .5-.3 .6 0zM429.2 212.6l-1 0 1.1-.3zM432.5 212.1l-1.1-.3-1.2-.5-2.1-.3 .6-.6 1.7-.3 .6 .2 1.7 .3-.7 1 .5 .5zM410.1 216.5l-1.2-.5 1.2 .5zM417.6 214.7l-1.8-.5-1.7-.3 .7-.4 1.7-.3 .3 .8 .9 .5zM420.6 214l-1.2-.5 1.4 .2zM414 215.1l-1.1-.1-1.9-.1-1.1 .5-1.3-.1 .5-.9-.8-.6 2.1-.2 1.3 .1 1.1 .5 1 .5zM437.1 209l-1.5 .1 .8-.5 .4-.6-1.1-.6 .3-.8 .7-.2 1.4 .4-.7 1 1.2 .5-1.5 .7zM443.1 206.5l-.9 .1 .5-.3zM407.1 215.2l-1.4 0 .6-.4 .8 .1zM416.5 213.2l-1.4-.4 .7-.2 .7 .6zM421.3 211.2l-1.9-.3 2-.5 .8 .6-.9 .2zM426.3 210.3l-1.1-.1-2-.2-.7 .1 .5-1-1.2-.4 .9-.3 1.5 .4 1 .6 1.6 .1 .4-.7 1.8 .4 .4 .5-2.1 0-1 .6zM433.4 208.3l-1.2 .1 .5-.4 .7 .3zM433.3 207.3l-2.3-.1-1.2 .2 .4-.5 0-1 1.7-.3 1 .2 1.1 .5-.7 1zM439.4 205.8l.6-.3-.6 .3zM409.5 213.1l-1.5-.1 1.8-.4-.3 .5zM413.7 210.9l-.9 .1 1.5-.4-.6 .3zM418.2 209.8l-.8 0-1.4-.4 .5-.3 1.6 .5zM409.6 211.2l-1.5-.6 .8-.2 1.3 .5-.6 .3zM433.2 205.1l-1.1 .1 .5-.3 .6 .2zM412.1 210.2l-1.9-.1-1.2-.3-.5-.2 1.1-.2 2.1 .3 .4 .5zM415 209.4l-1.2-.3 .9-.2 .3 .5zM426 206.1l-.5-.2 .5 .2zM406.1 210.6l-1 0 1.3-.4zM416 207.8l.9-.6 1.9-.2 .6-.8 1.2 .4-1.7 .4-1.2 .5-1.7 .3zM413.6 207.8l-.7 0 1-.3zM423.6 205l.9-.6 .9 .1-1.8 .5zM428 203.9l1.2-.5 .6 .2-1.8 .3zM414.1 206.9l-.6-.1 .6 .1zM398 210.1l-.6-.3 1.9-.2 .7-.1-2 .6zM418.6 204.8l-.9 .1 .9-.2zM421.4 204l1-.3-1 .3z"/><path stroke="#00a4ff" d="M458.3 225.6l-.7-.3 2.1-.1 1.3-.3-1.1 .4-1.6 .3zM439.7 229.7l-2-.4-.7-.6 .6-.9-2.2-.2-.9-.6 .4-.9-1.4-.2-1.4 .1-1.4-.4-.6 .9-2.2-.2-.8-.1 1.2 .8 1.2 .5 .7-1 2.1 .2-.1 .7 2.6 .3-.3 .7-2 .2-.4 .8-.5 .7-2.6 0-.9 .2-.4-.8-.6-.6 .5-.5 .4-.5-1.7 0-1.3 .4-1.8 .2-1.3 .2-.3-.8 2.3-.1 .6-.6-2 0-1.3 0-.7-.6-1.8-.3 .4-.6 1.1-.6-1.1-.5-1.1 .6-1.1-.1-.1-.7-.8-.1-.4 .4-1.9 .6 .7-.7-.8-1-1.1-.5-1.8-.1-1.7 .3-.6-.3 1.6-.3 .4-.7 .6-.1 1.6-.1 1-.6-2 .1-1.2-.1-1.8-.2-2.2 .1-1.2-.1 .5-1-.1-.7-.6-.7-.5-.7-1-.2-1.2 .5-1 .6-1.2-.5-1-.6 1.2-.4-.4-.6-1.1 0-1.4-.1-1.2-.5-1.1-.1-1.5 0 .1-.9-1.4-.4-.3-.7-1.9-.2-1.4 .4-.8 0-.6-.6 2.2-.1 1.9-.2 2-.1 1.5-.3 1.1-.6 .6-.3-1.6-.1-1.3 .4-1.5 0-1.2-.5 .1-.6 1.8 .1 1.4 .3-.4-.5-.7-.6-1.7-.2-1.5 .2 .1-.8 1.2-.5 .6 0 1.6 0 1.8-.3 1.2-.5 1.6-.3 1.3 0 1 0-1.3-.8 .5-.6 1.8 0 1.4 .5 2.4-.1-.6-.4-.6-.6-.6-.7-1.2-.5 2.4-.1 .9-.6 1.7 .2 1.3 .5 1 0 1.2-.5-1.8-.4 1.1-.3 1.4 0 1.4-.4 1-.6 1.9 .3 1.2 0 1.8 0 1.1 .6 1.8-.5 .6-.8 1.8-.2 .6-.6 .9-.8 .5-.4 1-.2 .2 .7 1.6 .3-.2-.6 1.3-.4 1.4 .5 1.4 .2 .1-.6 1.1-.3 1.7 .1 1.3 .6 .7 .7 1.1 .6 1.4 .1 1.5-.3 .9 0 1.7 .1 1 0 .6 .6 1.6 .4-.3 .9-1.6 .7 1.4 .9-.1 .7-.5 .3 .8-.1 1.4-.5 1.8-.2 .9 .3 2.2 .1 1.6 .5-1.2 .7 1.5 .9 .9 .5 1.3 .5-.1 .7 2.1-.1 1.7-.2 1.5-.1 .2 .7-1.2 .6-.9-.1-1.5 .1 1.3 .6 .8 0 .5 .5 .4 .9 1.1-.2 1.6 .3-1.7 .7-1 .6 1.3 .6 1 .4-.5-.5 .9-.4 1.7 .5 1.9 .1 .9 0 1.7 .1 .4 1 1.3 .4-1.2 .3-1.1-.5-1.6-.1 1.1 1-.2 .9 1.5 .2 .7 0 .1 .8-.2 .5-.5 .5-.9 .2-.3-.7-1-.2-.3 .5-.9 .3-2.1-.2-.8 .1 1.3-.8 1-.6-2.1 0-1.1 0-1.6-.1 .3 .5 .1 .7-.6 .7-.5 .4 .4 .6-2-.1-.4-.7-.3-.8-.9 0-1.3 .5 .6 .8 1.4 .4 1.2 .5 .5 .7 1.5 .4-.7 .2-1.7-.4-1.8-.4-.6-.6-1.6-.1 1.2 1-.3 .4-1.2 .6-1.6-.2-1.2-.5-1.1 0 .2 1 1.5 .5 .6 .5-2.1 .1 .5 .4-.8 .5-1.7 .2 .3-.8 .6-.2-1.3-.5-.9 0-1.8 .2-.2 .9-1.7 .1-1.8 .4-2.3-.2-2.7-.1-.5 1-.3 .9 1.4 .4 1.7 .3-.6 1-.5 .2zM451.8 226.8l-.9-.1-.5-.5 1.2 .4zM467.9 222.7l-.8-.2-.9-.5 .9-.7 1.1 .1 .9 .6-1.2 .7zM443.1 228.1l-1 .1-.6-.6-1.3-.5-.7-.6 1.7 .4 1.2-.1 1.7 .1-.3 .5-.5 .5zM457.7 224.3l-.9 .1 1.8-.7 .6 .2-1.5 .4zM474.2 220.3l-1-.2 .8-.2zM476.6 219.3l-2.4 0-.6-.3 1.5-.4 1.5 .6zM446.3 226.5l-.6-.3 .6 .1zM468.5 220.9l-1.4 0 .5-.4 1.1 0zM428.5 229.3l1.1 0-1.1 0zM444.9 225.1l.7 0-.5-.2zM449.2 224l.9 0 .2-.9-1.3-.7-.7 .8-.6 .4 1.5 .4zM469.9 218.6l.6-.2-.6 .2zM467.3 217.7l.7-.1-.5-.8-1.1 0 .9 .9zM434.3 225.4l.2-.8-1.2 .2 1 .6zM448.9 221.6l2-.3 .8-.4-1.6 0-1.1 .6zM452.5 220.7l1.3-.2 1-.4-1.6 .1-.7 .5zM424.7 226.3l.5-.1-.6-.1zM461.4 216.8l.8 .2-.8-.3zM418.3 227.4l-.6-.3 .7 .1zM421.4 226.4l1.6 0 .4-.6-1.4 .2-.6 .4zM470 214.3l-1.4-.2-1.4-.4 1.5-.4 1.1 .5 .2 .5zM422.5 225.3l.7 .2 .5-.5-1.7-.1 .5 .4zM454.8 216.1l.6-.2-.6 .2zM459.3 214.9l.9 .2-1.6-.7 .7 .5zM469.2 211.9l-.7-.2 .9-.2zM421.9 223.1l2.5-.2-.4-.4-.7-.1-1.5 .4zM456.8 214l1.6 .3 .8-.7 1.4-.4 .6-.4-1.1 .2-1.8 .2-1.9 .2 .4 .6zM464.7 212l0-.9 .5-.1 1.1 .5-1.6 .5zM416.7 222.8l.8 .1-.9-.4zM456.2 212.5l.8 .1-.7-.2zM416.9 221.9l.7 0-1.2-.5 .5 .5zM414.7 221.7l-.5-.3 .5 .3zM452.4 211.9l.7-.2-.7 .2zM415.9 220.6l1.2 .1-.8-.4zM454.1 210.7l1.3 .2-.4-.5-.7 0zM462.5 208.9l-.8-.2 .8 .2zM408.7 222.1l-1.4-.1 1.6-.4-.2 .5zM416.7 219.6l1.6-.4-1-.6-.5 .9zM459.7 208.7l-1.3 .1 .7-.4 .6 .3zM453.4 209.2l.9 .2 .4-.5-1.3 .1zM403.6 220.8l-.7 0-1.1-.5 1.6-.6 .3 .9zM407 219.7l.9 0-.6-.3zM449.6 208.7l1.3 .2-.4-.5-.9-.1zM408.8 218.4l1.4 .2-.3-.5-.8 .1zM447.3 208.4l-.5-.3 .5 .3zM405.9 218.4l1.3-.1-.6-.2-.7 .3zM450.1 206.9l1.4 .2 .4-.6-1.7 0zM434.9 210.1l1.5-.4-1.5 .3zM443.6 207.8l.6 .2-.8-.4zM404 217.3l.6-.1-.6-.3zM444.1 206.1l.9 .2-.3-.4-1.2-.3 .6 .5zM449.4 205.1l-.9-.2 .9 .2zM451.8 204.2l.6-.3-.6 .3zM397 217.9l-1-.1-.9-.6 1.6 .4zM403.5 215.8l1.2 .4-.8-.5zM449.3 204l-.7 .1 .7-.2zM400.6 215.7l.8 0-.7-.8-1.1-.5-1.2 0 0 1.1 2.2 .2zM403.6 215l.9-.2-.9 .2zM441.9 205l.9 .3-1.2-.5zM439 204.2l1.6 .1 .8-.7 .5-.2-.7 .1-2-.2-.7-.6-1.5 0 .2 1.1-1.7 .3-2.3 0-1.7 .3 2.7 .2 2-.2 1.1-.5 1.7 .3zM443.3 203.1l1.5 0 .5-.6-1.4 .2-.6 .4zM395.7 214.6l.9 0 .1-1 2.4 .1-.3-.7-1 .1-1.4 .4-1.7 .3 1 .8zM403.9 212.5l1.4-.2-1.4 .2zM416.8 208.3l1.6-.4-1.5 .3zM424 206.5l-.6-.7-1.3-.4-.5 .7 2.4 .4zM399.6 212l.7 .2-.9-.4zM398.8 210.6l.6-.1-.6 .1zM404.8 209.1l-1-.6 1 .6zM407.4 208.4l1 .1-.8-.3zM422 204.6l.9-.2-.9 .2zM429.3 202.7l.8 0 2-.1 .5-.7-1.8 .1-1.6 .3zM432.8 201.8l1.9-.1 .5-.5-1.8-.1-1.8 .2 1.2 .5zM410.3 206.8l1.7 .2-.3-.5-1.6-.4-.6 .1 .8 .6zM423.9 203.3l.7 .1 1.5-.4-.7-.3-1.5 .4zM397.7 209.3l.8 0 .6-.4-1.4 0zM412.3 205.5l.9 0-.8-.3zM415.1 204.8l1.1 0-.8-.3zM386.2 212.1l-1-.4-.8-.4 2.2-.1 1.6-.2-.9 .5-1.1 .6zM433.8 199.2l-.5-.2 .5 .2zM420.2 202.5l-2-.1-1.2-.5-1.1-.5-.3-.8-.4-.4 1.1 .3 1.1 .5 1.6 .4 1.3 0-.5-1 2.4 .1 1.1 .6-.4 .5-1.3 .4-1.4 .5zM430 199.6l-.9-.1-.9-.5 .8-.2 1 .5zM394.6 207.5l-1.4-.2 1.8-.6-.4 .8zM399.9 205.8l-.8-.1-.8-.6 2.1 .3-.5 .4zM409.9 203l-1.6-.4 .5-1 1.3-.3 1.3 .4-1.1 .5-.4 .7zM414.3 201.9l-2.6-.2 1.2-.5 2.1 .4-.7 .3zM391.2 207.1l-.8 .1 .9-.2zM404.7 202.8l-1.6 .3 1.3-.4z"/><path stroke="#00ffa6" d="M441 231.3l-1-.1 1.9-.5-.9 .6zM445.2 230.6l-1.2 0-2.1 .1-1.1-.6-2.4-.1-2 .3 .6 .3 1.6 .1-1.3 1-2.1 .1-1 .1-.7-.7-1.9-.3-1.4-.4-1 .3 1.1 .5-1.9 .6-.6-.3 .3-.6-1.5 .1-1.9 0-.3-.7-1.4-.4-1.1 0-1.6-.1-1.2-.5-1.3-.5-1.5-.3-.8 .1 .6-.2 .6-.1 1.1-.2-1.2-.6-2.1 .2-1.3-.1-1.1-.5 .4-.9-1.8-.4-1.6-.3-2-.3 .6-.6 1.6 0 1.1 .5 1-.2-1.3-.5-.9-.6-1.3-.1-1.3 0-.1-.8-.7-.1-1-.2-2.1-.2-1.4-.5-1.2-.5 2.2-.2-1.5-.8-2.3 .2-1.8 .2-2.1-.4 .5-.3 .3-.7-1.8 0-1.8 .2 .9-.6 .3-.6-.7-.6 1.9-.2-1.1-.8-1.2-.5-.7 0-1.4-.2-1.5-.1-1.7 .3-.5-.2 .3-.8-1.3-.4-1.5-.5-.7-.6-1.2-.4-1-.6 1.1-.3 .7-.1-1.8-.4-.6-.6 1.3-.5 .9-.1 1-.1 .9-.7 1.7-.2 .8-.1-1.3 .9 1.9-.2 1.4-.4-1.1-.6-1.7-.3-1.4 0-1.7 .3-1.3 0-.2-.6 1.9-.2 .9-.7-.1-.7-.4-.5 1.4-.4 1.5 .2 0 .8 1 .1 1.4-.4 .4-.9-1.3-.6-1.1 .1M448.5 229.8l-1.4-.5-1.3 0-.5 .5 1.4 .4M451.1 229.1l.9-.3M455.2 228l-1.2-.2-.8-.1-1.6 .1-1.8 .2-1.2 .1-.6 .1 .7 .7 .9 .6M454.3 227.4l1 0-.9-.4zM460.4 226.7l-1.8 .1-1.3 .4-.4 .4M472.7 223.5l.5-.5 1 .1M454.2 226.7l1.6-.2-.9-.4-.7 .6zM462.3 224.6l.8 .1 .5-.5-1.3 .1zM464.9 223.9l1 0-.9-.4zM477.6 220.8l-.8 0 1-.3zM442.5 228.9l1.5-.4-1.5 .4zM458.4 224.8l1-.3-.9 .2zM462.8 223.6l.7 .2-.6-.3zM480.9 219.2l-.9 0 1.2-.3zM481.4 218.4l-1.2-.1 1.6-.4-.4 .5zM423.1 231.6l-1.3-.5 1.9 .3-.6 .2zM479.6 215.5l-1 0-1.9-.3-.7-.6 .5-.5 1.4 0 .3 .7 1.4 .5zM470.1 212.9l1.2-.1 1.3-.4-2 .1-.5 .4zM466.7 212.2l.7-.1-.7 .1zM465.4 208.1l-1.2 0 1.8-.8-.6 .8zM402.8 223.6l-.9-.2 .9-.2zM455.9 206.2l.7 .1-1.2-.8-.8-.1 1.3 .8zM450.3 203.6l-.4-.3 .4 .3zM389 217.5l-1.3 0 .5-.4 1.3-.1-.5 .5zM450.4 201.5l-1.5 .1 .8-.5 .8 .1zM444.6 201.1l.6-.1-.6 .1zM389.1 214.7l.8-.2-.8 .2zM440.8 201.3l1.8-.2-1.8 .2zM385.1 214.2l1.3 0-1-.4zM439.7 200l2.6-.1-.4-.5-.8 0-1.3 .4zM384.6 212.7l.7-.2-.9-.2zM382.2 211.7l1.2 .1-.4-.3-.8-.2zM382.7 210.5l-1.3-.2 1.2-.3zM387 208.9l1.1-.1 1.4-.4-2.4-.1zM392.8 206.6l1.3-.3-1.3 .3zM396.7 205.6l.7 .1-.8-.9-1.3 0 1.4 .8zM402.3 204.1l1.1 .2-.4-.4-.7 .2zM381.8 208l-1 .1 .5-.3 .5 .2zM426.3 196.9l-1.3-.3 .8-.2 .5 .5zM391.5 204.5l1.6 .3-.3-.6M397 203.1l-.6 .9 1.8 0 1.2-.5 1.2-.5 .6-.8M405.5 200.9l-1.2 .7-.9 .6 2.4 .2 1.1-.3 1.1-1 1.5-.3 1.9 .1 .8 0 2.2 .1-.8-.6-2.5-.2-.7-.1-1.3-.2M410.2 199.7l1.4 0 .6-.6M413.2 198.9l1.6 .4 .9 .5 1.7 .4 .6 .3-.4-.4-.1-.8-.4-.3 1.7-.3 .3-.6-.8-.6M418.5 197.5l1.8 .3 1 0 1.5-.4 1.8-.2 1.8-.1 2.2-.2 1.3 0-.3 .4-1 .6-.9 .4 1.3-.2 1.9 .2 .8 0 2.2 0 .8-.7 1.3-.5 1.8 .2 .3 .7 .8 .6 .6 .1 1.9-.2 .9 0 2.1 .3 1.7 .3 .1 .8 1.1 .2 1.8-.1-.9 .5-.8 .6-.6 .8 .8 .4 1.3 .1 1.3 0 2.1-.1 1.1 .5 1.1 .6-.7 .6-1.1 .5 .7 .4 1.3 0 1 0 2.2 0 .6 .6 1.3 .5 1.1 .5-.1 .6-1.5 .4-1.2 .5 2.4 .2 2.4 .2 1 .5 1.3 .2 1 0 1.6 .1 1.4 0-.5 .4-1.4 .4-.5 .6 .6 .6 1.7-.4 2.4 .2 1.2 .5 1.5 .4 1.4 .4-.5 .9-1.4 .4-2.8 .1 .6 .5 1.2 .5 .6 0 1.7 .2-.2 .5 .9 .4 1.4 .1 .7 .6 1.7 0 2-.2-1 .6-1.2 .5-1.5-.1-1.3-.1-1.1 .6 1.2 .5 1.5-.4 .7 .8-.3 .4-.8 .7-2.1 .1-.2 .9-.4 .9-.6 .5-1 .3-1.2-.5-1.7-.2-.5 .7-.7 .8-1.6 .3-.3 .4-2 .6-1.1 .6-.9 .6M421.8 196.6l-.7 .2"/><path stroke="#7bff0a" d="M431.3 234.2l1.1-.5 .8-.7-2.3-.3 0-.7-1.6 .3-.9 .6-1.3 .5-1.6-.1-.9-.6-.5-.6-2.3-.2-1-.3-.6-.1-2.1-.3-1.9-.3-1.2-.5-1.8-.1-.6-.3 1.5-.3-.6-.5-2.5-.1-.6-.7-1-.5-1-.6-1.7-.3-1.1-.5-1.3-.2-1.2 0-.2-.6-1.9-.4 1-1-1-.6 .1-.9-1.6 .4-.8 .6-1.7 .1-.2-.7-.1-.8-.8-.6-1.7-.4-1-.5-1.5-.2-1.8-.6-2-.3-.2-.7-1.8-.3-1.2-.5 .4-.5 .3-.5-.8-.6-.4-.3 1.1-.6-.9-.4-.6-.1-1.6-.4-1.5-.4-1-.2-1.1 0-1.1-.6-1-.5 1.1-.3 1.2 0-.4-1-1.8-.3-1-.1-.9-.2 .4-.9 1.4-.6 1.7-.2-1.7-.4 .3-.9M421.5 233l-.8-.4 1 .1zM483.9 214.3l-1.2 .2 .8-.4zM464.6 205.7l-1 .1 .6-.2zM378.6 211.1l1.1-.3-.9 0zM439.9 195.7l-1.1-.3 1.1 .3zM379.4 207.6l1.2-.1M423.6 196.2l1-.1 1.6-.3 1.6 .1 .9 0-1.4-.6M429 194.8l2.2 .2 .4 .7 1.1 .5 1.7 .2-.2-.6 2-.5 .9 .6 1 .5 1.3 .5 .7 0 2.1 .1 1.1 .5 .2 .7 2.1 .1 2 .5 0 .8 .9 0 1.7 .1 1.3 .2 .6 .2-.9 .1-1.1 .1-.6 .3 2 .4 2.1 .2 1.1 .1 .7-.6 1.4 .5-1 .6-.6 .6 1.4 .4 1.4 .5 1.5 .1 1.1 0 .2 .6 1.6 .5 .1 .8 .3 .6 .8 .7 2.3 .2 1.7 .4-.1 .8 1.4 .4 1.5-.1 1.7 .1-.5 .4-1 .6 .6 .3 1.9-.2 1.4-.1-.2 .7-1.6 .2 1.1 .5 1.1-.5 1 .3-1.1 .7 1.3 .6 1.8-.3 1.1 .6 .2 .8 1.4 .4-.8 1 .8 .6 .7 .6 .8 0 1.6 .2 1.2 .5-1.6 .4-.9 0-.8 .5 1.6 .4 1.1 .4-1.5 1-.6 .4-.9 1 .7 .3 1.3-.5 2.1-.1"/><path stroke="#ffd904" d="M430.3 234.5l-1.4-.3-1.4 .4-1 .1-1.7-.4-.7-.6-1.4-.2-1.4 .1-1.2-.5-1-.2-.9-.1 .1-.8-1.7-.4-1.4-.4-1.1-.5-2.2-.3-1-.1-1.2-.1-1.5-.1M414.5 233l1.2-.3-1.1 .3M410.8 231.3l1.2-.1 .9 0 2.3 0-1 .6-1.9 .2M483.4 212l-1 .6 .7 .3 1.5 .3 .1 .8 .6 .6 1.1 .5 .4 .5 .6 .8 1.5 .1 .9 .1 .2 .8-.3 .5-.4 .5-1.7 .7M407.2 229.7l1.9-.2-.1-.7-1.3 .1-1.5-.2-1.8-.3M404.1 228.3l1.1-.5-.8-.4-2.1 .1M475.6 208.5l.2 .5-.2 .9 1.2 .5 .9 .1 1.4 .1 .9 .6 1 .5 2.1 .2M401.9 227.3l-.1-.7-.5-.6-.7-.3-.7-.1-1.9-.4-.6-.6-2-.2M470.8 206.4l.4 .6 1.6 .4M394.8 223.7l1.1-.1-.8-.3-.3 .4zM392.5 222.7l1.2 0 .6-.5-1.5 .1-.3 .4zM464.3 203.5l-1 .6 2.5 .3-.3 .7 1.1 .5 .6 .1-.1 .8 1.3-.1 .5-.4M389.9 222l-.9-.4M389.2 221.1l.9-.1-.8-.3zM386.6 220.5l.1-1-1.9-.4-1.8-.2M459.7 201.5l1.2 1 1.4 .4 1.2 .2M457.5 200.5l1.5 .6M382.3 218.6l1.3-.5 .3-.4-.8-.6-2-.1-2.3-.4-1.4-.4-1-.2M451.6 197.9l-.7 0M375.6 215.6l.2-.9-1.4-.7-.7-.1-1-.5 2.4 .2 0-.8-1.1-.6-.1-.7-1-.2-.4 .5-1.6 .5-.4-.7 1.2-.8 2-.2-.5-.5 .3-.6 1.5-.4M431.9 194l2.1 .1 .5 .3 .3 .5 .9 0 .5-.4 1.4-.3 .6 .6 1.7 .3 1.4 .5 1.1 .5 1.5-.4 .9 .1 .5 .3 .2 .8 1.7 0 1.6-.1 .5 .7-.7 1 1.8 .3 1.5 .4 1.1 .5 .2 .8 1.6-.2 1.9-.2"/><path stroke="#ff6600" d="M425.1 235.8l-1.8-.3 0-.7-1.8-.5-1.5 .1-.6 .5M492.5 216.1l-.5 .8 1.3 .4-.1 .8M417.6 234.3l-.2-.5-1.7-.3M489.5 214.7l.9 1 1.2 0M485.2 212.8l.6 .3M480.7 210.8l1.2 .7M373.1 214.5l-1.1-.5M369.8 213l-.8-1-.7-.7 1.7-.2-1.3-.7M435.4 193.1l1.4 .2 .7 .1 1.7 .3 1.1 .2 1.3 0-.2 .9 .9-.1 1.9 .1 1.1 .5 1.3 .5 .7 .6 .9-.1"/><path stroke="#d22200" d="M423.8 236.2l-1.7 .1M493.2 216.4l1.1 .7 .9 .2M368.6 212.5l-1.2-.9-1.6-.3M366.2 211.1l1.1-.2M437 192.7l.8 0 .5-.3"/></g><g filter="url(#cm)"><g stroke-width="0.3" stroke-linejoin="round"><linearGradient id="n407" href="#u" x1="366.3" x2="439.5"><stop offset=".01" stop-color="#fff"/><stop offset=".03" stop-color="#d9d9d9"/><stop offset=".05" stop-color="#e9e9e9"/><stop offset=".07" stop-color="#bbb"/><stop offset=".09" stop-color="#c0c0c0"/><stop offset=".11" stop-color="#929292"/><stop offset=".13" stop-color="#a0a0a0"/><stop offset=".15" stop-color="#797979"/><stop offset=".17" stop-color="#888"/><stop offset=".19" stop-color="#6c6c6c"/><stop offset=".21" stop-color="#525252"/><stop offset=".23" stop-color="#8a8a8a"/><stop offset=".25" stop-color="#4e4e4e"/><stop offset=".27" stop-color="#454545"/><stop offset=".29" stop-color="#7f7f7f"/><stop offset=".31" stop-color="#777"/><stop offset=".33" stop-color="#434343"/><stop offset=".35" stop-color="#4d4d4d"/><stop offset=".37" stop-color="#5e5e5e"/><stop offset=".39" stop-color="#424242"/><stop offset=".41" stop-color="#575757"/><stop offset=".43" stop-color="#7b7b7b"/><stop offset=".45" stop-color="#6b6b6b"/><stop offset=".47" stop-color="#616161"/><stop offset=".49" stop-color="#434343"/><stop offset=".51" stop-color="#606060"/><stop offset=".53" stop-color="#787878"/><stop offset=".55" stop-color="#767676"/><stop offset=".57" stop-color="#676767"/><stop offset=".59" stop-color="#686868"/><stop offset=".61" stop-color="#6a6a6a"/><stop offset=".63" stop-color="#3d3d3d"/><stop offset=".65" stop-color="#3f3f3f"/><stop offset=".67" stop-color="#696969"/><stop offset=".69" stop-color="#616161"/><stop offset=".71" stop-color="#767676"/><stop offset=".73" stop-color="#545454"/><stop offset=".75" stop-color="#6a6a6a"/><stop offset=".77" stop-color="#666"/><stop offset=".79" stop-color="#7b7b7b"/><stop offset=".81" stop-color="#555"/><stop offset=".83" stop-color="#757575"/><stop offset=".85" stop-color="#939393"/><stop offset=".87" stop-color="#676767"/><stop offset=".89" stop-color="#888"/><stop offset=".91" stop-color="#959595"/><stop offset=".93" stop-color="#a9a9a9"/><stop offset=".95" stop-color="#cacaca"/><stop offset=".97" stop-color="#d0d0d0"/><stop offset=".99" stop-color="#f8f8f8"/><stop offset="1" stop-color="#fff"/></linearGradient><path fill="url(#n407)" stroke="url(#n407)" d="M366.8 153.9l1.5 12.6 1.5-3.3 1.4 8.1 1.5-1.5 1.5 8.2 1.4-3 1.5 6.8 1.4-3.1 1.5 4.6 1.5 4.5 1.4-10.6 1.5 10.5 1.5 1.2 1.4-10.9 1.5 1 1.5 9.1 1.4-2.2 1.5-3.4 1.5 4.8 1.4-4.2 1.5-7.1 1.4 2.6 1.5 1.4 1.5 5.1 1.4-5.6 1.5-4.9 1.5 0 1.4 2.5 1.5-.6 1.5-.8 1.4 7.9 1.5-.9 1.4-8 1.5 1.1 1.5-4.2 1.4 5.9 1.5-4.4 1.5 .4 1.4-4.3 1.5 6.6 1.5-6.2 1.4-6 1.5 7.7 1.5-6.4 1.4-2.7 1.5-4.1 1.4-6.4 1.5-1.5 1.5-7.5 1.4-2.3-1.1 .1-1.5-1.5-1.4 4.4-1.5 11.2-1.5-5.7-1.4 9.5-1.5 2.8-1.4 4.7-1.5-.4-1.5-2.3-1.4-.9-1.5 8.3-1.5 5-1.4-8.1-1.5 8-1.5-5.9-1.4 .6-1.5 3.3-1.5 5.2-1.4-7.8-1.5 10.3-1.4-11.1-1.5 6.8-1.5 1.8-1.4 4.1-1.5-.1-1.5-5.5-1.4 2.4-1.5-.2-1.5 1.8-1.4 1.5-1.5 .7-1.4-3.4-1.5 5.2-1.5-1.7-1.4 1.2-1.5-3.1-1.5 1-1.4 .4-1.5-.1-1.5-8.1-1.4 4.5-1.5 1.3-1.5-5.8-1.4-5.6-1.5-1.5-1.4 4.9-1.5-1.3-1.5-6.1-1.4-8.3-1.5 2.5z"/><linearGradient id="n408" href="#u" x1="367.4" x2="440.6"><stop offset=".01" stop-color="#fff"/><stop offset=".03" stop-color="#bdbdbd"/><stop offset=".05" stop-color="#acacac"/><stop offset=".07" stop-color="#a1a1a1"/><stop offset=".09" stop-color="#aeaeae"/><stop offset=".11" stop-color="#828282"/><stop offset=".13" stop-color="#7f7f7f"/><stop offset=".15" stop-color="#888"/><stop offset=".17" stop-color="#747474"/><stop offset=".19" stop-color="#626262"/><stop offset=".21" stop-color="#828282"/><stop offset=".23" stop-color="#5e5e5e"/><stop offset=".25" stop-color="#404040"/><stop offset=".27" stop-color="#6e6e6e"/><stop offset=".29" stop-color="#737373"/><stop offset=".31" stop-color="#424242"/><stop offset=".33" stop-color="#565656"/><stop offset=".35" stop-color="#363636"/><stop offset=".37" stop-color="#454545"/><stop offset=".39" stop-color="#727272"/><stop offset=".41" stop-color="#4c4c4c"/><stop offset=".43" stop-color="#4a4a4a"/><stop offset=".45" stop-color="#3f3f3f"/><stop offset=".47" stop-color="#3b3b3b"/><stop offset=".49" stop-color="#363636"/><stop offset=".51" stop-color="#303030"/><stop offset=".53" stop-color="#656565"/><stop offset=".55" stop-color="#5a5a5a"/><stop offset=".57" stop-color="#323232"/><stop offset=".59" stop-color="#363636"/><stop offset=".61" stop-color="#717171"/><stop offset=".63" stop-color="#656565"/><stop offset=".65" stop-color="#3c3c3c"/><stop offset=".67" stop-color="#737373"/><stop offset=".69" stop-color="#5b5b5b"/><stop offset=".71" stop-color="#4f4f4f"/><stop offset=".73" stop-color="#3e3e3e"/><stop offset=".75" stop-color="#3d3d3d"/><stop offset=".77" stop-color="#505050"/><stop offset=".79" stop-color="#4a4a4a"/><stop offset=".81" stop-color="#616161"/><stop offset=".83" stop-color="#6f6f6f"/><stop offset=".85" stop-color="#6c6c6c"/><stop offset=".87" stop-color="#707070"/><stop offset=".89" stop-color="#a1a1a1"/><stop offset=".91" stop-color="#969696"/><stop offset=".93" stop-color="#c2c2c2"/><stop offset=".95" stop-color="#a7a7a7"/><stop offset=".97" stop-color="#bababa"/><stop offset=".99" stop-color="#ececec"/><stop offset="1" stop-color="#dedede"/></linearGradient><path fill="url(#n408)" stroke="url(#n408)" d="M368 156.3l1.4 15.9 1.5 2.7 1.5 1.5 1.4-2.7 1.5 7.7 1.5 .1 1.4-2 1.5 3.2 1.4 3 1.5-6.3 1.5 6.2 1.4 5.2 1.5-8.8 1.5-1.3 1.4 8.6 1.5-4.2 1.5 5.5 1.4-3.1 1.5-8.6 1.5 6.5 1.4 .1 1.5 1.6 1.4 .3 1.5 .7 1.5 .6 1.4-10.1 1.5 1.8 1.5 6.9 1.4-1.3 1.5-11 1.5 1.7 1.4 7.1 1.5-10.4 1.4 4 1.5 1.9 1.5 2.8 1.4-.4 1.5-3.7 1.5 .6 1.4-4.6 1.5-2.9 1.5 .1 1.4-1 1.5-9.3 1.5 1.7 1.4-8.5 1.5 4.6 1.4-3.9 1.5-9.4 1.5 2.1-1.2-7.1-1.4 2.3-1.5 7.5-1.5 1.5-1.4 6.4-1.5 4.1-1.4 2.7-1.5 6.4-1.5-7.7-1.4 6-1.5 6.2-1.5-6.6-1.4 4.3-1.5-.4-1.5 4.4-1.4-5.9-1.5 4.2-1.5-1.1-1.4 8-1.5 .9-1.4-7.9-1.5 .8-1.5 .6-1.4-2.5-1.5 0-1.5 4.9-1.4 5.6-1.5-5.1-1.5-1.4-1.4-2.6-1.5 7.1-1.4 4.2-1.5-4.8-1.5 3.4-1.4 2.2-1.5-9.1-1.5-1-1.4 10.9-1.5-1.2-1.5-10.5-1.4 10.6-1.5-4.5-1.5-4.6-1.4 3.1-1.5-6.8-1.4 3-1.5-8.2-1.5 1.5-1.4-8.1-1.5 3.3-1.5-12.6z"/><linearGradient id="n409" href="#u" x1="368.5" x2="441.7"><stop offset=".01" stop-color="#f1f1f1"/><stop offset=".03" stop-color="#b3b3b3"/><stop offset=".05" stop-color="#a8a8a8"/><stop offset=".07" stop-color="#c4c4c4"/><stop offset=".09" stop-color="#7a7a7a"/><stop offset=".11" stop-color="#7e7e7e"/><stop offset=".13" stop-color="#616161"/><stop offset=".15" stop-color="#777"/><stop offset=".17" stop-color="#737373"/><stop offset=".19" stop-color="#494949"/><stop offset=".21" stop-color="#414141"/><stop offset=".23" stop-color="#4a4a4a"/><stop offset=".25" stop-color="#5a5a5a"/><stop offset=".27" stop-color="#494949"/><stop offset=".29" stop-color="#3d3d3d"/><stop offset=".31" stop-color="#2f2f2f"/><stop offset=".33" stop-color="#5d5d5d"/><stop offset=".35" stop-color="#666"/><stop offset=".37" stop-color="#3d3d3d"/><stop offset=".39" stop-color="#656565"/><stop offset=".41" stop-color="#333"/><stop offset=".43" stop-color="#464646"/><stop offset=".45" stop-color="#4b4b4b"/><stop offset=".47" stop-color="#676767"/><stop offset=".49" stop-color="#383838"/><stop offset=".51" stop-color="#5f5f5f"/><stop offset=".53" stop-color="#373737"/><stop offset=".55" stop-color="#353535"/><stop offset=".57" stop-color="#2b2b2b"/><stop offset=".59" stop-color="#363636"/><stop offset=".61" stop-color="#2b2b2b"/><stop offset=".63" stop-color="#626262"/><stop offset=".65" stop-color="#282828"/><stop offset=".67" stop-color="#606060"/><stop offset=".69" stop-color="#505050"/><stop offset=".71" stop-color="#333"/><stop offset=".73" stop-color="#454545"/><stop offset=".75" stop-color="#525252"/><stop offset=".77" stop-color="#5e5e5e"/><stop offset=".79" stop-color="#515151"/><stop offset=".81" stop-color="#484848"/><stop offset=".83" stop-color="#515151"/><stop offset=".85" stop-color="#6a6a6a"/><stop offset=".87" stop-color="#787878"/><stop offset=".89" stop-color="#9a9a9a"/><stop offset=".91" stop-color="#727272"/><stop offset=".93" stop-color="#8b8b8b"/><stop offset=".95" stop-color="#a9a9a9"/><stop offset=".97" stop-color="#cecece"/><stop offset=".99" stop-color="#cacaca"/><stop offset="1" stop-color="#e9e9e9"/></linearGradient><path fill="url(#n409)" stroke="url(#n409)" d="M369.1 163.5l1.5 10.9 1.4 1.6 1.5-5.5 1.5 13.2 1.4-1 1.5 4.8 1.5-4.3 1.4 .2 1.5 7.4 1.4 1 1.5-1.9 1.5-3.5 1.4 2.7 1.5 2 1.5 2.2 1.4-8.9 1.5-1.9 1.5 7.1 1.4-7.9 1.5 8.9 1.5-3.9 1.4-1.2 1.5-5.6 1.4 8.3 1.5-7.6 1.5 6.9 1.4 .1 1.5 1.3 1.5-2.4 1.4 1.8 1.5-10.4 1.5 10.2 1.4-10.8 1.5 2.7 1.4 4.9 1.5-3.8 1.5-2.7 1.4-2.5 1.5 1.9 1.5 1.4 1.4-2 1.5-5 1.5-3 1.4-6.6 1.5 6.9 1.5-4.9 1.4-5.8 1.5-7.2 1.4 .3 1.5-5.9-1.1 1.5-1.5-2.1-1.5 9.4-1.4 3.9-1.5-4.6-1.4 8.5-1.5-1.7-1.5 9.3-1.4 1-1.5-.1-1.5 2.9-1.4 4.6-1.5-.6-1.5 3.7-1.4 .4-1.5-2.8-1.5-1.9-1.4-4-1.5 10.4-1.4-7.1-1.5-1.7-1.5 11-1.4 1.3-1.5-6.9-1.5-1.8-1.4 10.1-1.5-.6-1.5-.7-1.4-.3-1.5-1.6-1.4-.1-1.5-6.5-1.5 8.6-1.4 3.1-1.5-5.5-1.5 4.2-1.4-8.6-1.5 1.3-1.5 8.8-1.4-5.2-1.5-6.2-1.5 6.3-1.4-3-1.5-3.2-1.4 2-1.5-.1-1.5-7.7-1.4 2.7-1.5-1.5-1.5-2.7-1.4-15.9z"/><linearGradient id="n410" href="#u" x1="369.7" x2="442.9"><stop offset=".01" stop-color="#cdcdcd"/><stop offset=".03" stop-color="#d0d0d0"/><stop offset=".05" stop-color="#ccc"/><stop offset=".07" stop-color="#9d9d9d"/><stop offset=".09" stop-color="#939393"/><stop offset=".11" stop-color="#707070"/><stop offset=".13" stop-color="#929292"/><stop offset=".15" stop-color="#7c7c7c"/><stop offset=".17" stop-color="#4c4c4c"/><stop offset=".19" stop-color="#7a7a7a"/><stop offset=".21" stop-color="#6f6f6f"/><stop offset=".23" stop-color="#585858"/><stop offset=".25" stop-color="#676767"/><stop offset=".27" stop-color="#616161"/><stop offset=".29" stop-color="#575757"/><stop offset=".31" stop-color="#5b5b5b"/><stop offset=".33" stop-color="#242424"/><stop offset=".35" stop-color="#2e2e2e"/><stop offset=".37" stop-color="#4f4f4f"/><stop offset=".39" stop-color="#535353"/><stop offset=".41" stop-color="#292929"/><stop offset=".43" stop-color="#3d3d3d"/><stop offset=".45" stop-color="#343434"/><stop offset=".47" stop-color="#585858"/><stop offset=".49" stop-color="#3a3a3a"/><stop offset=".51" stop-color="#4e4e4e"/><stop offset=".53" stop-color="#4a4a4a"/><stop offset=".55" stop-color="#333"/><stop offset=".57" stop-color="#606060"/><stop offset=".59" stop-color="#555"/><stop offset=".61" stop-color="#313131"/><stop offset=".63" stop-color="#383838"/><stop offset=".65" stop-color="#2a2a2a"/><stop offset=".67" stop-color="#5d5d5d"/><stop offset=".69" stop-color="#2d2d2d"/><stop offset=".71" stop-color="#636363"/><stop offset=".73" stop-color="#3b3b3b"/><stop offset=".75" stop-color="#505050"/><stop offset=".77" stop-color="#414141"/><stop offset=".79" stop-color="#5d5d5d"/><stop offset=".81" stop-color="#636363"/><stop offset=".83" stop-color="#767676"/><stop offset=".85" stop-color="#626262"/><stop offset=".87" stop-color="#5d5d5d"/><stop offset=".89" stop-color="#828282"/><stop offset=".91" stop-color="#636363"/><stop offset=".93" stop-color="#999"/><stop offset=".95" stop-color="#848484"/><stop offset=".97" stop-color="#cecece"/><stop offset=".99" stop-color="#e3e3e3"/><stop offset="1" stop-color="#f4f4f4"/></linearGradient><path fill="url(#n410)" stroke="url(#n410)" d="M370.2 170.5l1.5-.8 1.5 .4 1.4 8.2 1.5 1.3 1.5 6.1 1.4-6.6 1.5 3.6 1.5 8.4 1.4-8.8 1.5 1.7 1.4 3.8 1.5-3.1 1.5 .7 1.4 1.3 1.5-1.1 1.5 9.7 1.4-2.2 1.5-6.3 1.5-1.2 1.4 7.3 1.5-4 1.5 1.2 1.4-6.9 1.5 5.1 1.4-4 1.5 .2 1.5 3.9 1.4-8.5 1.5 1.6 1.5 6.2 1.4-1.8 1.5 2.2 1.5-9.6 1.4 8.3 1.5-10.2 1.4 7 1.5-4.4 1.5 2.5 1.4-5.5 1.5-1.5 1.5-3.9 1.4 3.3 1.5 .6 1.5-7.2 1.4 5.3 1.5-10.2 1.5 3.5 1.4-13.9 1.5-4.3 1.4-3.3-1.1 1.4-1.5 5.9-1.4-.3-1.5 7.2-1.4 5.8-1.5 4.9-1.5-6.9-1.4 6.6-1.5 3-1.5 5-1.4 2-1.5-1.4-1.5-1.9-1.4 2.5-1.5 2.7-1.5 3.8-1.4-4.9-1.5-2.7-1.4 10.8-1.5-10.2-1.5 10.4-1.4-1.8-1.5 2.4-1.5-1.3-1.4-.1-1.5-6.9-1.5 7.6-1.4-8.3-1.5 5.6-1.4 1.2-1.5 3.9-1.5-8.9-1.4 7.9-1.5-7.1-1.5 1.9-1.4 8.9-1.5-2.2-1.5-2-1.4-2.7-1.5 3.5-1.5 1.9-1.4-1-1.5-7.4-1.4-.2-1.5 4.3-1.5-4.8-1.4 1-1.5-13.2-1.5 5.5-1.4-1.6-1.5-10.9z"/><linearGradient id="n411" href="#u" x1="370.8" x2="444"><stop offset=".01" stop-color="#c1c1c1"/><stop offset=".03" stop-color="#afafaf"/><stop offset=".05" stop-color="#cacaca"/><stop offset=".07" stop-color="#9d9d9d"/><stop offset=".09" stop-color="#9a9a9a"/><stop offset=".11" stop-color="#828282"/><stop offset=".13" stop-color="#5e5e5e"/><stop offset=".15" stop-color="#575757"/><stop offset=".17" stop-color="#696969"/><stop offset=".19" stop-color="#525252"/><stop offset=".21" stop-color="#5d5d5d"/><stop offset=".23" stop-color="#606060"/><stop offset=".25" stop-color="#414141"/><stop offset=".27" stop-color="#565656"/><stop offset=".29" stop-color="#424242"/><stop offset=".31" stop-color="#5c5c5c"/><stop offset=".33" stop-color="#3a3a3a"/><stop offset=".35" stop-color="#5a5a5a"/><stop offset=".37" stop-color="#3d3d3d"/><stop offset=".39" stop-color="#4b4b4b"/><stop offset=".41" stop-color="#4e4e4e"/><stop offset=".43" stop-color="#515151"/><stop offset=".45" stop-color="#303030"/><stop offset=".47" stop-color="#1f1f1f"/><stop offset=".49" stop-color="#181818"/><stop offset=".51" stop-color="#545454"/><stop offset=".53" stop-color="#242424"/><stop offset=".55" stop-color="#4f4f4f"/><stop offset=".57" stop-color="#363636"/><stop offset=".59" stop-color="#343434"/><stop offset=".61" stop-color="#565656"/><stop offset=".63" stop-color="#3a3a3a"/><stop offset=".65" stop-color="#1c1c1c"/><stop offset=".67" stop-color="#4e4e4e"/><stop offset=".69" stop-color="#1f1f1f"/><stop offset=".71" stop-color="#3f3f3f"/><stop offset=".73" stop-color="#525252"/><stop offset=".75" stop-color="#3f3f3f"/><stop offset=".77" stop-color="#5e5e5e"/><stop offset=".79" stop-color="#2e2e2e"/><stop offset=".81" stop-color="#424242"/><stop offset=".83" stop-color="#6e6e6e"/><stop offset=".85" stop-color="#717171"/><stop offset=".87" stop-color="#666"/><stop offset=".89" stop-color="#626262"/><stop offset=".91" stop-color="#636363"/><stop offset=".93" stop-color="#a0a0a0"/><stop offset=".95" stop-color="#898989"/><stop offset=".97" stop-color="#bcbcbc"/><stop offset=".99" stop-color="#bebebe"/><stop offset="1" stop-color="#e4e4e4"/></linearGradient><path fill="url(#n411)" stroke="url(#n411)" d="M371.4 173.3l1.4 2.9 1.5-5.3 1.5 7.8 1.4 .1 1.5 4 1.5 6.3 1.4 .9 1.5-3.7 1.5 3.9 1.4-2.5 1.5-.9 1.4 5.2 1.5-4.2 1.5 3.4 1.4-5.2 1.5 5.8 1.5-6.2 1.4 5 1.5-2.9 1.5-1 1.4-.9 1.5 5.5 1.5 2.8 1.4 .9 1.5-11.3 1.4 8.4 1.5-8.2 1.5 4 1.4 0 1.5-6.5 1.5 4.6 1.4 5.2 1.5-9.4 1.5 8.1 1.4-6.2 1.5-3.8 1.4 3.1 1.5-6 1.5 8.3 1.4-4 1.5-8.4 1.5-.9 1.4 1.5 1.5 .3 1.5-.6 1.4-11.5 1.5 3.9 1.5-9.6 1.4-.7 1.5-7.3-1.2-3.4-1.4 3.3-1.5 4.3-1.4 13.9-1.5-3.5-1.5 10.2-1.4-5.3-1.5 7.2-1.5-.6-1.4-3.3-1.5 3.9-1.5 1.5-1.4 5.5-1.5-2.5-1.5 4.4-1.4-7-1.5 10.2-1.4-8.3-1.5 9.6-1.5-2.2-1.4 1.8-1.5-6.2-1.5-1.6-1.4 8.5-1.5-3.9-1.5-.2-1.4 4-1.5-5.1-1.4 6.9-1.5-1.2-1.5 4-1.4-7.3-1.5 1.2-1.5 6.3-1.4 2.2-1.5-9.7-1.5 1.1-1.4-1.3-1.5-.7-1.5 3.1-1.4-3.8-1.5-1.7-1.4 8.8-1.5-8.4-1.5-3.6-1.4 6.6-1.5-6.1-1.5-1.3-1.4-8.2-1.5-.4-1.5 .8z"/><linearGradient id="n412" href="#u" x1="371.9" x2="445.1"><stop offset=".01" stop-color="#ececec"/><stop offset=".03" stop-color="#a6a6a6"/><stop offset=".05" stop-color="#b5b5b5"/><stop offset=".07" stop-color="#787878"/><stop offset=".09" stop-color="#9a9a9a"/><stop offset=".11" stop-color="#6d6d6d"/><stop offset=".13" stop-color="#545454"/><stop offset=".15" stop-color="#656565"/><stop offset=".17" stop-color="#363636"/><stop offset=".19" stop-color="#646464"/><stop offset=".21" stop-color="#636363"/><stop offset=".23" stop-color="#616161"/><stop offset=".25" stop-color="#363636"/><stop offset=".27" stop-color="#2a2a2a"/><stop offset=".29" stop-color="#545454"/><stop offset=".31" stop-color="#515151"/><stop offset=".33" stop-color="#505050"/><stop offset=".35" stop-color="#4f4f4f"/><stop offset=".37" stop-color="#3c3c3c"/><stop offset=".39" stop-color="#121212"/><stop offset=".41" stop-color="#424242"/><stop offset=".43" stop-color="#4f4f4f"/><stop offset=".45" stop-color="#1e1e1e"/><stop offset=".47" stop-color="#212121"/><stop offset=".49" stop-color="#232323"/><stop offset=".51" stop-color="#444"/><stop offset=".53" stop-color="#393939"/><stop offset=".55" stop-color="#141414"/><stop offset=".57" stop-color="#343434"/><stop offset=".59" stop-color="#262626"/><stop offset=".61" stop-color="#434343"/><stop offset=".63" stop-color="#393939"/><stop offset=".65" stop-color="#282828"/><stop offset=".67" stop-color="#1e1e1e"/><stop offset=".69" stop-color="#181818"/><stop offset=".71" stop-color="#444"/><stop offset=".73" stop-color="#404040"/><stop offset=".75" stop-color="#2d2d2d"/><stop offset=".77" stop-color="#555"/><stop offset=".79" stop-color="#262626"/><stop offset=".81" stop-color="#5f5f5f"/><stop offset=".83" stop-color="#393939"/><stop offset=".85" stop-color="#626262"/><stop offset=".87" stop-color="#4f4f4f"/><stop offset=".89" stop-color="#4f4f4f"/><stop offset=".91" stop-color="#696969"/><stop offset=".93" stop-color="#959595"/><stop offset=".95" stop-color="#a0a0a0"/><stop offset=".97" stop-color="#b7b7b7"/><stop offset=".99" stop-color="#afafaf"/><stop offset="1" stop-color="#ebebeb"/></linearGradient><path fill="url(#n412)" stroke="url(#n412)" d="M372.5 166l1.5 12.4 1.4-3.2 1.5 10.7 1.5-6.5 1.4 7.8 1.5 4.1 1.5-3.4 1.4 8.2 1.5-8.7 1.5-.3 1.4 0 1.5 7.6 1.4 1.7 1.5-8.1 1.5 .1 1.4-.1 1.5-.2 1.5 3.1 1.4 7.4 1.5-9.2 1.5-2.8 1.4 8.5 1.5-.9 1.5-.7 1.4-6.3 1.5 1.5 1.4 6.5 1.5-6.3 1.5 2.1 1.4-5.7 1.5 1.5 1.5 2.7 1.4 1.6 1.5 .5 1.5-8.3 1.4 .3 1.5 3.1 1.4-7.7 1.5 8.2 1.5-10.7 1.4 6.5 1.5-7.8 1.5 3 1.4-.4 1.5-5 1.5-8.4 1.4-2.5 1.5-4.4 1.5 .9 1.4-11.3-1.1 .9-1.5 7.3-1.4 .7-1.5 9.6-1.5-3.9-1.4 11.5-1.5 .6-1.5-.3-1.4-1.5-1.5 .9-1.5 8.4-1.4 4-1.5-8.3-1.5 6-1.4-3.1-1.5 3.8-1.4 6.2-1.5-8.1-1.5 9.4-1.4-5.2-1.5-4.6-1.5 6.5-1.4 0-1.5-4-1.5 8.2-1.4-8.4-1.5 11.3-1.4-.9-1.5-2.8-1.5-5.5-1.4 .9-1.5 1-1.5 2.9-1.4-5-1.5 6.2-1.5-5.8-1.4 5.2-1.5-3.4-1.5 4.2-1.4-5.2-1.5 .9-1.4 2.5-1.5-3.9-1.5 3.7-1.4-.9-1.5-6.3-1.5-4-1.4-.1-1.5-7.8-1.5 5.3-1.4-2.9z"/><linearGradient id="n413" href="#u" x1="373.1" x2="446.3"><stop offset=".01" stop-color="#cacaca"/><stop offset=".03" stop-color="#c4c4c4"/><stop offset=".05" stop-color="#9c9c9c"/><stop offset=".07" stop-color="#7d7d7d"/><stop offset=".09" stop-color="#6d6d6d"/><stop offset=".11" stop-color="#5c5c5c"/><stop offset=".13" stop-color="#616161"/><stop offset=".15" stop-color="#595959"/><stop offset=".17" stop-color="#313131"/><stop offset=".19" stop-color="#282828"/><stop offset=".21" stop-color="#363636"/><stop offset=".23" stop-color="#373737"/><stop offset=".25" stop-color="#2d2d2d"/><stop offset=".27" stop-color="#171717"/><stop offset=".29" stop-color="#131313"/><stop offset=".31" stop-color="#2b2b2b"/><stop offset=".33" stop-color="#1e1e1e"/><stop offset=".35" stop-color="#242424"/><stop offset=".37" stop-color="#424242"/><stop offset=".39" stop-color="#0c0c0c"/><stop offset=".41" stop-color="#3a3a3a"/><stop offset=".43" stop-color="#3c3c3c"/><stop offset=".45" stop-color="#101010"/><stop offset=".47" stop-color="#2f2f2f"/><stop offset=".49" stop-color="#151515"/><stop offset=".51" stop-color="#181818"/><stop offset=".53" stop-color="#1b1b1b"/><stop offset=".55" stop-color="#303030"/><stop offset=".57" stop-color="#0c0c0c"/><stop offset=".59" stop-color="#282828"/><stop offset=".61" stop-color="#202020"/><stop offset=".63" stop-color="#3b3b3b"/><stop offset=".65" stop-color="#3a3a3a"/><stop offset=".67" stop-color="#414141"/><stop offset=".69" stop-color="#4b4b4b"/><stop offset=".71" stop-color="#303030"/><stop offset=".73" stop-color="#131313"/><stop offset=".75" stop-color="#515151"/><stop offset=".77" stop-color="#1d1d1d"/><stop offset=".79" stop-color="#585858"/><stop offset=".81" stop-color="#555"/><stop offset=".83" stop-color="#343434"/><stop offset=".85" stop-color="#474747"/><stop offset=".87" stop-color="#5d5d5d"/><stop offset=".89" stop-color="#5e5e5e"/><stop offset=".91" stop-color="#828282"/><stop offset=".93" stop-color="#606060"/><stop offset=".95" stop-color="#929292"/><stop offset=".97" stop-color="#8a8a8a"/><stop offset=".99" stop-color="#b3b3b3"/><stop offset="1" stop-color="#e2e2e2"/></linearGradient><path fill="url(#n413)" stroke="url(#n413)" d="M373.7 172.6l1.4 .7 1.5 7 1.4 5.3 1.5 2.5 1.5 2.8 1.4-1.3 1.5 1 1.5 6.9 1.4 1.2 1.5-2.9 1.5-.5 1.4 1.4 1.5 3.6 1.4 .5 1.5-4.8 1.5 1.9 1.4-1.4 1.5-5.9 1.5 9.4 1.4-8.6 1.5-.9 1.5 7.6 1.4-6 1.5 4.4 1.5-.9 1.4-1 1.5-4.1 1.4 6.3 1.5-5.5 1.5 .9 1.4-5.3 1.5-.1 1.5-1.7 1.4-2.3 1.5 4.6 1.5 5 1.4-11.7 1.5 9.1 1.4-11.2 1.5 .2 1.5 5.7 1.4-3.9 1.5-4.4 1.5-.5 1.4-7 1.5 5.8 1.5-9.5 1.4 1.2 1.5-7.9 1.5-9-1.2-2.2-1.4 11.3-1.5-.9-1.5 4.4-1.4 2.5-1.5 8.4-1.5 5-1.4 .4-1.5-3-1.5 7.8-1.4-6.5-1.5 10.7-1.5-8.2-1.4 7.7-1.5-3.1-1.4-.3-1.5 8.3-1.5-.5-1.4-1.6-1.5-2.7-1.5-1.5-1.4 5.7-1.5-2.1-1.5 6.3-1.4-6.5-1.5-1.5-1.4 6.3-1.5 .7-1.5 .9-1.4-8.5-1.5 2.8-1.5 9.2-1.4-7.4-1.5-3.1-1.5 .2-1.4 .1-1.5-.1-1.5 8.1-1.4-1.7-1.5-7.6-1.4 0-1.5 .3-1.5 8.7-1.4-8.2-1.5 3.4-1.5-4.1-1.4-7.8-1.5 6.5-1.5-10.7-1.4 3.2-1.5-12.4z"/><linearGradient id="n414" href="#u" x1="374.2" x2="447.4"><stop offset=".01" stop-color="#bebebe"/><stop offset=".03" stop-color="#a3a3a3"/><stop offset=".05" stop-color="#939393"/><stop offset=".07" stop-color="#7f7f7f"/><stop offset=".09" stop-color="#858585"/><stop offset=".11" stop-color="#505050"/><stop offset=".13" stop-color="#484848"/><stop offset=".15" stop-color="#676767"/><stop offset=".17" stop-color="#373737"/><stop offset=".19" stop-color="#474747"/><stop offset=".21" stop-color="#3f3f3f"/><stop offset=".23" stop-color="#3a3a3a"/><stop offset=".25" stop-color="#505050"/><stop offset=".27" stop-color="#242424"/><stop offset=".29" stop-color="#101010"/><stop offset=".31" stop-color="#111"/><stop offset=".33" stop-color="#484848"/><stop offset=".35" stop-color="#2b2b2b"/><stop offset=".37" stop-color="#1b1b1b"/><stop offset=".39" stop-color="#222"/><stop offset=".41" stop-color="#171717"/><stop offset=".43" stop-color="#333"/><stop offset=".45" stop-color="#101010"/><stop offset=".47" stop-color="#2f2f2f"/><stop offset=".49" stop-color="#383838"/><stop offset=".51" stop-color="#191919"/><stop offset=".53" stop-color="#474747"/><stop offset=".55" stop-color="#1d1d1d"/><stop offset=".57" stop-color="#484848"/><stop offset=".59" stop-color="#1e1e1e"/><stop offset=".61" stop-color="#252525"/><stop offset=".63" stop-color="#3a3a3a"/><stop offset=".65" stop-color="#363636"/><stop offset=".67" stop-color="#0e0e0e"/><stop offset=".69" stop-color="#1e1e1e"/><stop offset=".71" stop-color="#282828"/><stop offset=".73" stop-color="#252525"/><stop offset=".75" stop-color="#303030"/><stop offset=".77" stop-color="#1b1b1b"/><stop offset=".79" stop-color="#484848"/><stop offset=".81" stop-color="#2b2b2b"/><stop offset=".83" stop-color="#454545"/><stop offset=".85" stop-color="#595959"/><stop offset=".87" stop-color="#3e3e3e"/><stop offset=".89" stop-color="#686868"/><stop offset=".91" stop-color="#7b7b7b"/><stop offset=".93" stop-color="#646464"/><stop offset=".95" stop-color="#909090"/><stop offset=".97" stop-color="#a1a1a1"/><stop offset=".99" stop-color="#d2d2d2"/><stop offset="1" stop-color="#e1e1e1"/></linearGradient><path fill="url(#n414)" stroke="url(#n414)" d="M374.8 175.3l1.5 4.6 1.4 2.4 1.5 3.4 1.4-1.4 1.5 9.2 1.5 1.1 1.4-6 1.5 8.3 1.5-3.3 1.4 1 1.5 .7 1.5-4.5 1.4 7.7 1.5 3.2 1.4-.6 1.5-10.2 1.5 4.9 1.4 2.5 1.5-1.7 1.5 1.7 1.4-5.6 1.5 6.1 1.5-6.1 1.4-2.1 1.5 5.4 1.5-8.8 1.4 7.2 1.5-8.2 1.4 7.2 1.5-1.6 1.5-4.2 1.4 .4 1.5 6.9 1.5-3.3 1.4-2.1 1.5 0 1.5-2.3 1.4 3.4 1.5-8.5 1.4 4.8 1.5-5 1.5-4 1.4 4.5 1.5-8.1 1.5-3.9 1.4 3.9 1.5-8.5 1.5-3.5 1.4-9.3 1.5-3-1.1-.7-1.5 9-1.5 7.9-1.4-1.2-1.5 9.5-1.5-5.8-1.4 7-1.5 .5-1.5 4.4-1.4 3.9-1.5-5.7-1.5-.2-1.4 11.2-1.5-9.1-1.4 11.7-1.5-5-1.5-4.6-1.4 2.3-1.5 1.7-1.5 .1-1.4 5.3-1.5-.9-1.5 5.5-1.4-6.3-1.5 4.1-1.4 1-1.5 .9-1.5-4.4-1.4 6-1.5-7.6-1.5 .9-1.4 8.6-1.5-9.4-1.5 5.9-1.4 1.4-1.5-1.9-1.5 4.8-1.4-.5-1.5-3.6-1.4-1.4-1.5 .5-1.5 2.9-1.4-1.2-1.5-6.9-1.5-1-1.4 1.3-1.5-2.8-1.5-2.5-1.4-5.3-1.5-7-1.4-.7z"/><linearGradient id="n415" href="#u" x1="375.4" x2="448.6"><stop offset=".01" stop-color="#acacac"/><stop offset=".03" stop-color="#9c9c9c"/><stop offset=".05" stop-color="#b6b6b6"/><stop offset=".07" stop-color="#919191"/><stop offset=".09" stop-color="#6e6e6e"/><stop offset=".11" stop-color="#5a5a5a"/><stop offset=".13" stop-color="#3e3e3e"/><stop offset=".15" stop-color="#3a3a3a"/><stop offset=".17" stop-color="#5f5f5f"/><stop offset=".19" stop-color="#393939"/><stop offset=".21" stop-color="#3f3f3f"/><stop offset=".23" stop-color="#212121"/><stop offset=".25" stop-color="#434343"/><stop offset=".27" stop-color="#151515"/><stop offset=".29" stop-color="#1a1a1a"/><stop offset=".31" stop-color="#090909"/><stop offset=".33" stop-color="#080808"/><stop offset=".35" stop-color="#121212"/><stop offset=".37" stop-color="#2b2b2b"/><stop offset=".39" stop-color="#383838"/><stop offset=".41" stop-color="#101010"/><stop offset=".43" stop-color="#121212"/><stop offset=".45" stop-color="#0f0f0f"/><stop offset=".47" stop-color="#292929"/><stop offset=".49" stop-color="#444"/><stop offset=".51" stop-color="#262626"/><stop offset=".53" stop-color="#040404"/><stop offset=".55" stop-color="#333"/><stop offset=".57" stop-color="#131313"/><stop offset=".59" stop-color="#060606"/><stop offset=".61" stop-color="#363636"/><stop offset=".63" stop-color="#090909"/><stop offset=".65" stop-color="#0d0d0d"/><stop offset=".67" stop-color="#444"/><stop offset=".69" stop-color="#3d3d3d"/><stop offset=".71" stop-color="#1e1e1e"/><stop offset=".73" stop-color="#232323"/><stop offset=".75" stop-color="#191919"/><stop offset=".77" stop-color="#363636"/><stop offset=".79" stop-color="#2e2e2e"/><stop offset=".81" stop-color="#212121"/><stop offset=".83" stop-color="#2e2e2e"/><stop offset=".85" stop-color="#5d5d5d"/><stop offset=".87" stop-color="#3c3c3c"/><stop offset=".89" stop-color="#464646"/><stop offset=".91" stop-color="#4e4e4e"/><stop offset=".93" stop-color="#858585"/><stop offset=".95" stop-color="#9c9c9c"/><stop offset=".97" stop-color="#9d9d9d"/><stop offset=".99" stop-color="#969696"/><stop offset="1" stop-color="#b8b8b8"/></linearGradient><path fill="url(#n415)" stroke="url(#n415)" d="M375.9 179.1l1.5 2.6 1.5-5.2 1.4 6.4 1.5 6 1.4 3.3 1.5 4.7 1.5 .5 1.4-7.3 1.5 6.6 1.5-1.4 1.4 5.1 1.5-6.6 1.5 7.9 1.4-1.3 1.5 2.8 1.4-.3 1.5-2.1 1.5-5 1.4-2.7 1.5 7 1.5-.9 1.4 .3 1.5-5.2 1.5-5.2 1.4 5 1.5 5.7 1.5-8.9 1.4 5.5 1.5 1.9 1.4-9 1.5 7.8 1.5-1.2 1.4-10.3 1.5 .9 1.5 5.2 1.4-1.3 1.5 1.4 1.5-5.5 1.4 1 1.5 2 1.4-2.9 1.5-8.8 1.5 5.7 1.4-2.3 1.5-1.8 1.5-10.4 1.4-4.6 1.5-.5 1.5 .8 1.4-6.5-1.1-8-1.5 3-1.4 9.3-1.5 3.5-1.5 8.5-1.4-3.9-1.5 3.9-1.5 8.1-1.4-4.5-1.5 4-1.5 5-1.4-4.8-1.5 8.5-1.4-3.4-1.5 2.3-1.5 0-1.4 2.1-1.5 3.3-1.5-6.9-1.4-.4-1.5 4.2-1.5 1.6-1.4-7.2-1.5 8.2-1.4-7.2-1.5 8.8-1.5-5.4-1.4 2.1-1.5 6.1-1.5-6.1-1.4 5.6-1.5-1.7-1.5 1.7-1.4-2.5-1.5-4.9-1.5 10.2-1.4 .6-1.5-3.2-1.4-7.7-1.5 4.5-1.5-.7-1.4-1-1.5 3.3-1.5-8.3-1.4 6-1.5-1.1-1.5-9.2-1.4 1.4-1.5-3.4-1.4-2.4-1.5-4.6z"/><linearGradient id="n416" href="#u" x1="376.5" x2="449.7"><stop offset=".01" stop-color="#b6b6b6"/><stop offset=".03" stop-color="#9e9e9e"/><stop offset=".05" stop-color="#979797"/><stop offset=".07" stop-color="#9c9c9c"/><stop offset=".09" stop-color="#757575"/><stop offset=".11" stop-color="#484848"/><stop offset=".13" stop-color="#757575"/><stop offset=".15" stop-color="#353535"/><stop offset=".17" stop-color="#414141"/><stop offset=".19" stop-color="#494949"/><stop offset=".21" stop-color="#3f3f3f"/><stop offset=".23" stop-color="#242424"/><stop offset=".25" stop-color="#313131"/><stop offset=".27" stop-color="#303030"/><stop offset=".29" stop-color="#0a0a0a"/><stop offset=".31" stop-color="#3e3e3e"/><stop offset=".33" stop-color="#1d1d1d"/><stop offset=".35" stop-color="#1e1e1e"/><stop offset=".37" stop-color="#202020"/><stop offset=".39" stop-color="#373737"/><stop offset=".41" stop-color="#1a1a1a"/><stop offset=".43" stop-color="#3e3e3e"/><stop offset=".45" stop-color="#222"/><stop offset=".47" stop-color="#303030"/><stop offset=".49" stop-color="#323232"/><stop offset=".51" stop-color="#060606"/><stop offset=".53" stop-color="#252525"/><stop offset=".55" stop-color="#0a0a0a"/><stop offset=".57" stop-color="#161616"/><stop offset=".59" stop-color="#212121"/><stop offset=".61" stop-color="#141414"/><stop offset=".63" stop-color="#424242"/><stop offset=".65" stop-color="#161616"/><stop offset=".67" stop-color="#181818"/><stop offset=".69" stop-color="#282828"/><stop offset=".71" stop-color="#141414"/><stop offset=".73" stop-color="#454545"/><stop offset=".75" stop-color="#494949"/><stop offset=".77" stop-color="#333"/><stop offset=".79" stop-color="#474747"/><stop offset=".81" stop-color="#2f2f2f"/><stop offset=".83" stop-color="#373737"/><stop offset=".85" stop-color="#3a3a3a"/><stop offset=".87" stop-color="#676767"/><stop offset=".89" stop-color="#6b6b6b"/><stop offset=".91" stop-color="#454545"/><stop offset=".93" stop-color="#5d5d5d"/><stop offset=".95" stop-color="#828282"/><stop offset=".97" stop-color="#999"/><stop offset=".99" stop-color="#aaa"/><stop offset="1" stop-color="#bcbcbc"/></linearGradient><path fill="url(#n416)" stroke="url(#n416)" d="M377.1 177.8l1.4 4.1 1.5 .7 1.5-1.2 1.4 6.8 1.5 7.7 1.4-8.4 1.5 11.3 1.5-2.6 1.4-1.8 1.5 1.3 1.5 4.5 1.4-2.7 1.5-.2 1.5 6.5 1.4-9.7 1.5 5.6 1.4-.7 1.5-.6 1.5-4.6 1.4 4.9 1.5-7 1.5 4.8 1.4-3.1 1.5-.7 1.5 7.7 1.4-6 1.5 4.5 1.5-2.5 1.4-2.4 1.5 1.9 1.4-8.7 1.5 7.7 1.5-.7 1.4-3.4 1.5 3.2 1.5-9.3 1.4-1 1.5 3.5 1.5-4 1.4 4 1.5-1.8 1.4-1 1.5-8.5 1.5-1.1 1.4 6.6 1.5-4.9 1.5-7 1.4-4.7 1.5-3.5 1.5-3.6-1.2 .3-1.4 6.5-1.5-.8-1.5 .5-1.4 4.6-1.5 10.4-1.5 1.8-1.4 2.3-1.5-5.7-1.5 8.8-1.4 2.9-1.5-2-1.4-1-1.5 5.5-1.5-1.4-1.4 1.3-1.5-5.2-1.5-.9-1.4 10.3-1.5 1.2-1.5-7.8-1.4 9-1.5-1.9-1.4-5.5-1.5 8.9-1.5-5.7-1.4-5-1.5 5.2-1.5 5.2-1.4-.3-1.5 .9-1.5-7-1.4 2.7-1.5 5-1.5 2.1-1.4 .3-1.5-2.8-1.4 1.3-1.5-7.9-1.5 6.6-1.4-5.1-1.5 1.4-1.5-6.6-1.4 7.3-1.5-.5-1.5-4.7-1.4-3.3-1.5-6-1.4-6.4-1.5 5.2-1.5-2.6z"/><linearGradient id="n417" href="#u" x1="377.6" x2="450.8"><stop offset=".01" stop-color="#bcbcbc"/><stop offset=".03" stop-color="#a0a0a0"/><stop offset=".05" stop-color="#a2a2a2"/><stop offset=".07" stop-color="#939393"/><stop offset=".09" stop-color="#868686"/><stop offset=".11" stop-color="#4e4e4e"/><stop offset=".13" stop-color="#494949"/><stop offset=".15" stop-color="#2b2b2b"/><stop offset=".17" stop-color="#2e2e2e"/><stop offset=".19" stop-color="#353535"/><stop offset=".21" stop-color="#474747"/><stop offset=".23" stop-color="#4b4b4b"/><stop offset=".25" stop-color="#3e3e3e"/><stop offset=".27" stop-color="#303030"/><stop offset=".29" stop-color="#292929"/><stop offset=".31" stop-color="#0d0d0d"/><stop offset=".33" stop-color="#303030"/><stop offset=".35" stop-color="#131313"/><stop offset=".37" stop-color="#2a2a2a"/><stop offset=".39" stop-color="#222"/><stop offset=".41" stop-color="#1e1e1e"/><stop offset=".43" stop-color="#2d2d2d"/><stop offset=".45" stop-color="#070707"/><stop offset=".47" stop-color="#1d1d1d"/><stop offset=".49" stop-color="#040404"/><stop offset=".51" stop-color="#181818"/><stop offset=".53" stop-color="#1f1f1f"/><stop offset=".55" stop-color="#333"/><stop offset=".57" stop-color="#0e0e0e"/><stop offset=".59" stop-color="#292929"/><stop offset=".61" stop-color="#363636"/><stop offset=".63" stop-color="#0b0b0b"/><stop offset=".65" stop-color="#030303"/><stop offset=".67" stop-color="#2c2c2c"/><stop offset=".69" stop-color="#0a0a0a"/><stop offset=".71" stop-color="#0b0b0b"/><stop offset=".73" stop-color="#161616"/><stop offset=".75" stop-color="#2f2f2f"/><stop offset=".77" stop-color="#2b2b2b"/><stop offset=".79" stop-color="#202020"/><stop offset=".81" stop-color="#161616"/><stop offset=".83" stop-color="#4a4a4a"/><stop offset=".85" stop-color="#353535"/><stop offset=".87" stop-color="#383838"/><stop offset=".89" stop-color="#595959"/><stop offset=".91" stop-color="#5e5e5e"/><stop offset=".93" stop-color="#555"/><stop offset=".95" stop-color="#6e6e6e"/><stop offset=".97" stop-color="#b0b0b0"/><stop offset=".99" stop-color="#bdbdbd"/><stop offset="1" stop-color="#ababab"/></linearGradient><path fill="url(#n417)" stroke="url(#n417)" d="M378.2 177.3l1.5 4.7 1.4-.8 1.5 2.4 1.5 2 1.4 9.9 1.5 .5 1.4 5 1.5-1 1.5-1.6 1.4-3.7 1.5-1 1.5 1.9 1.4 2.3 1.5 .9 1.5 4.6 1.4-6.7 1.5 4.8 1.4-4.4 1.5 1.1 1.5 .3 1.4-3.1 1.5 6.6 1.5-4.5 1.4 4.1 1.5-4 1.5-1.6 1.4-4.1 1.5 6.4 1.5-5.2 1.4-2.8 1.5 7.3 1.4 1.2 1.5-7.9 1.5 5.8 1.4-.4 1.5-2.5 1.5-5 1.4 .5 1.5 1.6 1.5 1.5 1.4-10 1.5 3.4 1.4-.8 1.5-6.5 1.5-1.3 1.4 1.3 1.5-4.9 1.5-12.4 1.4-2.8 1.5 3-1.1-3.7-1.5 3.6-1.5 3.5-1.4 4.7-1.5 7-1.5 4.9-1.4-6.6-1.5 1.1-1.5 8.5-1.4 1-1.5 1.8-1.4-4-1.5 4-1.5-3.5-1.4 1-1.5 9.3-1.5-3.2-1.4 3.4-1.5 .7-1.5-7.7-1.4 8.7-1.5-1.9-1.4 2.4-1.5 2.5-1.5-4.5-1.4 6-1.5-7.7-1.5 .7-1.4 3.1-1.5-4.8-1.5 7-1.4-4.9-1.5 4.6-1.5 .6-1.4 .7-1.5-5.6-1.4 9.7-1.5-6.5-1.5 .2-1.4 2.7-1.5-4.5-1.5-1.3-1.4 1.8-1.5 2.6-1.5-11.3-1.4 8.4-1.5-7.7-1.4-6.8-1.5 1.2-1.5-.7-1.4-4.1z"/><linearGradient id="n418" href="#u" x1="378.8" x2="452"><stop offset=".01" stop-color="#b9b9b9"/><stop offset=".03" stop-color="#aeaeae"/><stop offset=".05" stop-color="#9d9d9d"/><stop offset=".07" stop-color="#8f8f8f"/><stop offset=".09" stop-color="#8c8c8c"/><stop offset=".11" stop-color="#575757"/><stop offset=".13" stop-color="#5b5b5b"/><stop offset=".15" stop-color="#606060"/><stop offset=".17" stop-color="#585858"/><stop offset=".19" stop-color="#242424"/><stop offset=".21" stop-color="#212121"/><stop offset=".23" stop-color="#232323"/><stop offset=".25" stop-color="#191919"/><stop offset=".27" stop-color="#131313"/><stop offset=".29" stop-color="#3d3d3d"/><stop offset=".31" stop-color="#272727"/><stop offset=".33" stop-color="#323232"/><stop offset=".35" stop-color="#212121"/><stop offset=".37" stop-color="#000"/><stop offset=".39" stop-color="#191919"/><stop offset=".41" stop-color="#0a0a0a"/><stop offset=".43" stop-color="#0d0d0d"/><stop offset=".45" stop-color="#303030"/><stop offset=".47" stop-color="#181818"/><stop offset=".49" stop-color="#232323"/><stop offset=".51" stop-color="#0c0c0c"/><stop offset=".53" stop-color="#000"/><stop offset=".55" stop-color="#0a0a0a"/><stop offset=".57" stop-color="#020202"/><stop offset=".59" stop-color="#393939"/><stop offset=".61" stop-color="#383838"/><stop offset=".63" stop-color="#1d1d1d"/><stop offset=".65" stop-color="#353535"/><stop offset=".67" stop-color="#101010"/><stop offset=".69" stop-color="#363636"/><stop offset=".71" stop-color="#101010"/><stop offset=".73" stop-color="#262626"/><stop offset=".75" stop-color="#191919"/><stop offset=".77" stop-color="#1a1a1a"/><stop offset=".79" stop-color="#333"/><stop offset=".81" stop-color="#222"/><stop offset=".83" stop-color="#444"/><stop offset=".85" stop-color="#5f5f5f"/><stop offset=".87" stop-color="#626262"/><stop offset=".89" stop-color="#3b3b3b"/><stop offset=".91" stop-color="#404040"/><stop offset=".93" stop-color="#6f6f6f"/><stop offset=".95" stop-color="#989898"/><stop offset=".97" stop-color="#a0a0a0"/><stop offset=".99" stop-color="#c0c0c0"/><stop offset="1" stop-color="#cbcbcb"/></linearGradient><path fill="url(#n418)" stroke="url(#n418)" d="M379.3 178.4l1.5 1.5 1.5 2.7 1.4 2.2 1.5 .1 1.5 9.4 1.4-1.1 1.5-1.4 1.4 1.1 1.5 9.2 1.5 .2 1.4-.9 1.5 1.6 1.5 .6 1.4-8.1 1.5 3.7 1.5-2.3 1.4 2.6 1.5 5.7 1.4-5 1.5 2.4 1.5-1 1.4-6.6 1.5 3.9 1.5-2.3 1.4 3.8 1.5 2.5 1.5-3 1.4 1.1 1.5-10.4 1.5-.2 1.4 4.6 1.5-4.7 1.4 6.2 1.5-7.2 1.5 6.4 1.4-4.2 1.5 1.9 1.5-.6 1.4-5 1.5 2.8 1.5-6.6 1.4-5.3 1.5-.9 1.4 6.8 1.5-1.3 1.5-9 1.4-7.9 1.5-1.8 1.5-6.2 1.4-2.4-1.1 5.4-1.5-3-1.4 2.8-1.5 12.4-1.5 4.9-1.4-1.3-1.5 1.3-1.5 6.5-1.4 .8-1.5-3.4-1.4 10-1.5-1.5-1.5-1.6-1.4-.5-1.5 5-1.5 2.5-1.4 .4-1.5-5.8-1.5 7.9-1.4-1.2-1.5-7.3-1.4 2.8-1.5 5.2-1.5-6.4-1.4 4.1-1.5 1.6-1.5 4-1.4-4.1-1.5 4.5-1.5-6.6-1.4 3.1-1.5-.3-1.5-1.1-1.4 4.4-1.5-4.8-1.4 6.7-1.5-4.6-1.5-.9-1.4-2.3-1.5-1.9-1.5 1-1.4 3.7-1.5 1.6-1.5 1-1.4-5-1.5-.5-1.4-9.9-1.5-2-1.5-2.4-1.4 .8-1.5-4.7z"/><linearGradient id="n419" href="#u" x1="379.9" x2="453.1"><stop offset=".01" stop-color="#c7c7c7"/><stop offset=".03" stop-color="#b9b9b9"/><stop offset=".05" stop-color="#aeaeae"/><stop offset=".07" stop-color="#7f7f7f"/><stop offset=".09" stop-color="#535353"/><stop offset=".11" stop-color="#4a4a4a"/><stop offset=".13" stop-color="#585858"/><stop offset=".15" stop-color="#535353"/><stop offset=".17" stop-color="#373737"/><stop offset=".19" stop-color="#2a2a2a"/><stop offset=".21" stop-color="#424242"/><stop offset=".23" stop-color="#383838"/><stop offset=".25" stop-color="#3f3f3f"/><stop offset=".27" stop-color="#2c2c2c"/><stop offset=".29" stop-color="#2c2c2c"/><stop offset=".31" stop-color="#1e1e1e"/><stop offset=".33" stop-color="#161616"/><stop offset=".35" stop-color="#242424"/><stop offset=".37" stop-color="#222"/><stop offset=".39" stop-color="#090909"/><stop offset=".41" stop-color="#121212"/><stop offset=".43" stop-color="#000"/><stop offset=".45" stop-color="#262626"/><stop offset=".47" stop-color="#030303"/><stop offset=".49" stop-color="#1a1a1a"/><stop offset=".51" stop-color="#3a3a3a"/><stop offset=".53" stop-color="#353535"/><stop offset=".55" stop-color="#2a2a2a"/><stop offset=".57" stop-color="#303030"/><stop offset=".59" stop-color="#282828"/><stop offset=".61" stop-color="#3a3a3a"/><stop offset=".63" stop-color="#060606"/><stop offset=".65" stop-color="#252525"/><stop offset=".67" stop-color="#161616"/><stop offset=".69" stop-color="#151515"/><stop offset=".71" stop-color="#3d3d3d"/><stop offset=".73" stop-color="#363636"/><stop offset=".75" stop-color="#161616"/><stop offset=".77" stop-color="#2a2a2a"/><stop offset=".79" stop-color="#373737"/><stop offset=".81" stop-color="#353535"/><stop offset=".83" stop-color="#2e2e2e"/><stop offset=".85" stop-color="#212121"/><stop offset=".87" stop-color="#555"/><stop offset=".89" stop-color="#616161"/><stop offset=".91" stop-color="#565656"/><stop offset=".93" stop-color="#505050"/><stop offset=".95" stop-color="#606060"/><stop offset=".97" stop-color="#9f9f9f"/><stop offset=".99" stop-color="#b5b5b5"/><stop offset="1" stop-color="#d9d9d9"/></linearGradient><path fill="url(#n419)" stroke="url(#n419)" d="M380.5 176.3l1.4 2.1 1.5 1.6 1.5 8.3 1.4 7.5 1.5 1.4 1.5-2.9 1.4 .5 1.5 4.7 1.4 2 1.5-4.8 1.5 1.4 1.4-1.6 1.5 3 1.5-.3 1.4 2.2 1.5 1 1.5-2.9 1.4-.1 1.5 4.3 1.4-2 1.5 2.9 1.5-7.3 1.4 5.9 1.5-4.6 1.5-6.2 1.4 .6 1.5 1.6 1.5-1.4 1.4 1.1 1.5-3.7 1.5 9.1 1.4-6 1.5 2.3 1.4-.2 1.5-7.7 1.5 .9 1.4 5.4 1.5-4 1.5-2.8 1.4 .1 1.5 .9 1.5 1.9 1.4-9.8 1.5-2.5 1.4 1.5 1.5 .8 1.5-3.4 1.4-11.7 1.5-4.5 1.5-6.9-1.2 2-1.4 2.4-1.5 6.2-1.5 1.8-1.4 7.9-1.5 9-1.5 1.3-1.4-6.8-1.5 .9-1.4 5.3-1.5 6.6-1.5-2.8-1.4 5-1.5 .6-1.5-1.9-1.4 4.2-1.5-6.4-1.5 7.2-1.4-6.2-1.5 4.7-1.4-4.6-1.5 .2-1.5 10.4-1.4-1.1-1.5 3-1.5-2.5-1.4-3.8-1.5 2.3-1.5-3.9-1.4 6.6-1.5 1-1.5-2.4-1.4 5-1.5-5.7-1.4-2.6-1.5 2.3-1.5-3.7-1.4 8.1-1.5-.6-1.5-1.6-1.4 .9-1.5-.2-1.5-9.2-1.4-1.1-1.5 1.4-1.4 1.1-1.5-9.4-1.5-.1-1.4-2.2-1.5-2.7-1.5-1.5z"/><linearGradient id="n420" href="#u" x1="381" x2="454.2"><stop offset=".01" stop-color="#c6c6c6"/><stop offset=".03" stop-color="#c5c5c5"/><stop offset=".05" stop-color="#a3a3a3"/><stop offset=".07" stop-color="#737373"/><stop offset=".09" stop-color="#838383"/><stop offset=".11" stop-color="#7a7a7a"/><stop offset=".13" stop-color="#4c4c4c"/><stop offset=".15" stop-color="#3d3d3d"/><stop offset=".17" stop-color="#3f3f3f"/><stop offset=".19" stop-color="#1e1e1e"/><stop offset=".21" stop-color="#444"/><stop offset=".23" stop-color="#161616"/><stop offset=".25" stop-color="#353535"/><stop offset=".27" stop-color="#181818"/><stop offset=".29" stop-color="#101010"/><stop offset=".31" stop-color="#343434"/><stop offset=".33" stop-color="#3c3c3c"/><stop offset=".35" stop-color="#111"/><stop offset=".37" stop-color="#363636"/><stop offset=".39" stop-color="#050505"/><stop offset=".41" stop-color="#131313"/><stop offset=".43" stop-color="#101010"/><stop offset=".45" stop-color="#212121"/><stop offset=".47" stop-color="#101010"/><stop offset=".49" stop-color="#090909"/><stop offset=".51" stop-color="#232323"/><stop offset=".53" stop-color="#171717"/><stop offset=".55" stop-color="#262626"/><stop offset=".57" stop-color="#1c1c1c"/><stop offset=".59" stop-color="#131313"/><stop offset=".61" stop-color="#1a1a1a"/><stop offset=".63" stop-color="#2f2f2f"/><stop offset=".65" stop-color="#292929"/><stop offset=".67" stop-color="#101010"/><stop offset=".69" stop-color="#1b1b1b"/><stop offset=".71" stop-color="#000"/><stop offset=".73" stop-color="#393939"/><stop offset=".75" stop-color="#414141"/><stop offset=".77" stop-color="#363636"/><stop offset=".79" stop-color="#434343"/><stop offset=".81" stop-color="#191919"/><stop offset=".83" stop-color="#2b2b2b"/><stop offset=".85" stop-color="#252525"/><stop offset=".87" stop-color="#282828"/><stop offset=".89" stop-color="#484848"/><stop offset=".91" stop-color="#5f5f5f"/><stop offset=".93" stop-color="#7f7f7f"/><stop offset=".95" stop-color="#949494"/><stop offset=".97" stop-color="#7e7e7e"/><stop offset=".99" stop-color="#bdbdbd"/><stop offset="1" stop-color="#d9d9d9"/></linearGradient><path fill="url(#n420)" stroke="url(#n420)" d="M381.6 176.8l1.5-.1 1.4 5.9 1.5 8.4 1.5-3.4 1.4 1.4 1.5 7.8 1.5 2.4 1.4-.7 1.5 5.6 1.4-7.3 1.5 8 1.5-6 1.4 4.8 1.5 1.1 1.5-6.8 1.4-1.8 1.5 7.4 1.5-7.2 1.4 8.5 1.5-2.8 1.4 .1 1.5-3.4 1.5 2.7 1.4 .9 1.5-5.2 1.5 1.8 1.4-3.1 1.5 1.4 1.5 1.3 1.4-1.5 1.5-4.4 1.5 .8 1.4 4.1 1.5-2.3 1.4 4.8 1.5-11 1.5-1.9 1.4 1.7 1.5-2.8 1.5 7.3 1.4-3.7 1.5 .8 1.5-1 1.4-6.3 1.5-4.6 1.4-6.1 1.5-4.3 1.5 3.7 1.4-11.9 1.5-5.3-1.1-.6-1.5 6.9-1.5 4.5-1.4 11.7-1.5 3.4-1.5-.8-1.4-1.5-1.5 2.5-1.4 9.8-1.5-1.9-1.5-.9-1.4-.1-1.5 2.8-1.5 4-1.4-5.4-1.5-.9-1.5 7.7-1.4 .2-1.5-2.3-1.4 6-1.5-9.1-1.5 3.7-1.4-1.1-1.5 1.4-1.5-1.6-1.4-.6-1.5 6.2-1.5 4.6-1.4-5.9-1.5 7.3-1.5-2.9-1.4 2-1.5-4.3-1.4 .1-1.5 2.9-1.5-1-1.4-2.2-1.5 .3-1.5-3-1.4 1.6-1.5-1.4-1.5 4.8-1.4-2-1.5-4.7-1.4-.5-1.5 2.9-1.5-1.4-1.4-7.5-1.5-8.3-1.5-1.6-1.4-2.1z"/><linearGradient id="n421" href="#u" x1="382.2" x2="455.4"><stop offset=".01" stop-color="#a5a5a5"/><stop offset=".03" stop-color="#969696"/><stop offset=".05" stop-color="#6f6f6f"/><stop offset=".07" stop-color="#686868"/><stop offset=".09" stop-color="#4e4e4e"/><stop offset=".11" stop-color="#696969"/><stop offset=".13" stop-color="#676767"/><stop offset=".15" stop-color="#474747"/><stop offset=".17" stop-color="#1f1f1f"/><stop offset=".19" stop-color="#222"/><stop offset=".21" stop-color="#131313"/><stop offset=".23" stop-color="#484848"/><stop offset=".25" stop-color="#242424"/><stop offset=".27" stop-color="#0b0b0b"/><stop offset=".29" stop-color="#232323"/><stop offset=".31" stop-color="#0c0c0c"/><stop offset=".33" stop-color="#232323"/><stop offset=".35" stop-color="#181818"/><stop offset=".37" stop-color="#212121"/><stop offset=".39" stop-color="#2d2d2d"/><stop offset=".41" stop-color="#181818"/><stop offset=".43" stop-color="#020202"/><stop offset=".45" stop-color="#161616"/><stop offset=".47" stop-color="#1d1d1d"/><stop offset=".49" stop-color="#050505"/><stop offset=".51" stop-color="#2f2f2f"/><stop offset=".53" stop-color="#242424"/><stop offset=".55" stop-color="#000"/><stop offset=".57" stop-color="#2a2a2a"/><stop offset=".59" stop-color="#292929"/><stop offset=".61" stop-color="#1e1e1e"/><stop offset=".63" stop-color="#1a1a1a"/><stop offset=".65" stop-color="#191919"/><stop offset=".67" stop-color="#000"/><stop offset=".69" stop-color="#000"/><stop offset=".71" stop-color="#313131"/><stop offset=".73" stop-color="#191919"/><stop offset=".75" stop-color="#262626"/><stop offset=".77" stop-color="#2e2e2e"/><stop offset=".79" stop-color="#424242"/><stop offset=".81" stop-color="#393939"/><stop offset=".83" stop-color="#313131"/><stop offset=".85" stop-color="#3d3d3d"/><stop offset=".87" stop-color="#333"/><stop offset=".89" stop-color="#676767"/><stop offset=".91" stop-color="#636363"/><stop offset=".93" stop-color="#4e4e4e"/><stop offset=".95" stop-color="#8c8c8c"/><stop offset=".97" stop-color="#afafaf"/><stop offset=".99" stop-color="#c0c0c0"/><stop offset="1" stop-color="#c8c8c8"/></linearGradient><path fill="url(#n421)" stroke="url(#n421)" d="M382.7 183.4l1.5 2.4 1.5 6.7 1.4 1 1.5 4.3 1.5-5.3 1.4 0 1.5 5.5 1.5 6.9 1.4-1 1.5 2.3 1.4-10 1.5 6.3 1.5 4 1.4-4.6 1.5 3.7 1.5-4.5 1.4 1.7 1.5-2.1 1.5-2.6 1.4 3.4 1.5 3.7 1.4-3.9 1.5-1.8 1.5 4 1.4-8.1 1.5 1.6 1.5 6.4 1.4-8.2 1.5-.2 1.5 1.6 1.4 .4 1.5-.2 1.5 4.3 1.4 0 1.5-9.7 1.4 3.9 1.5-2.7 1.5-1.8 1.4-4 1.5 1.1 1.5 1.2 1.4-2.7 1.5 1.5 1.5-9.9 1.4 .5 1.5 3.4 1.4-11.7 1.5-6.7 1.5-3.6 1.4-1.9-1.1-3.4-1.5 5.3-1.4 11.9-1.5-3.7-1.5 4.3-1.4 6.1-1.5 4.6-1.4 6.3-1.5 1-1.5-.8-1.4 3.7-1.5-7.3-1.5 2.8-1.4-1.7-1.5 1.9-1.5 11-1.4-4.8-1.5 2.3-1.4-4.1-1.5-.8-1.5 4.4-1.4 1.5-1.5-1.3-1.5-1.4-1.4 3.1-1.5-1.8-1.5 5.2-1.4-.9-1.5-2.7-1.5 3.4-1.4-.1-1.5 2.8-1.4-8.5-1.5 7.2-1.5-7.4-1.4 1.8-1.5 6.8-1.5-1.1-1.4-4.8-1.5 6-1.5-8-1.4 7.3-1.5-5.6-1.4 .7-1.5-2.4-1.5-7.8-1.4-1.4-1.5 3.4-1.5-8.4-1.4-5.9-1.5 .1z"/><linearGradient id="n422" href="#u" x1="383.3" x2="456.5"><stop offset=".01" stop-color="#d6d6d6"/><stop offset=".03" stop-color="#999"/><stop offset=".05" stop-color="#6f6f6f"/><stop offset=".07" stop-color="#797979"/><stop offset=".09" stop-color="#7c7c7c"/><stop offset=".11" stop-color="#6d6d6d"/><stop offset=".13" stop-color="#626262"/><stop offset=".15" stop-color="#565656"/><stop offset=".17" stop-color="#494949"/><stop offset=".19" stop-color="#171717"/><stop offset=".21" stop-color="#383838"/><stop offset=".23" stop-color="#464646"/><stop offset=".25" stop-color="#232323"/><stop offset=".27" stop-color="#111"/><stop offset=".29" stop-color="#363636"/><stop offset=".31" stop-color="#2d2d2d"/><stop offset=".33" stop-color="#1e1e1e"/><stop offset=".35" stop-color="#000"/><stop offset=".37" stop-color="#131313"/><stop offset=".39" stop-color="#121212"/><stop offset=".41" stop-color="#272727"/><stop offset=".43" stop-color="#363636"/><stop offset=".45" stop-color="#171717"/><stop offset=".47" stop-color="#141414"/><stop offset=".49" stop-color="#1d1d1d"/><stop offset=".51" stop-color="#1d1d1d"/><stop offset=".53" stop-color="#222"/><stop offset=".55" stop-color="#050505"/><stop offset=".57" stop-color="#131313"/><stop offset=".59" stop-color="#2d2d2d"/><stop offset=".61" stop-color="#1c1c1c"/><stop offset=".63" stop-color="#121212"/><stop offset=".65" stop-color="#020202"/><stop offset=".67" stop-color="#050505"/><stop offset=".69" stop-color="#000"/><stop offset=".71" stop-color="#373737"/><stop offset=".73" stop-color="#222"/><stop offset=".75" stop-color="#2f2f2f"/><stop offset=".77" stop-color="#303030"/><stop offset=".79" stop-color="#2e2e2e"/><stop offset=".81" stop-color="#131313"/><stop offset=".83" stop-color="#2f2f2f"/><stop offset=".85" stop-color="#2e2e2e"/><stop offset=".87" stop-color="#232323"/><stop offset=".89" stop-color="#4f4f4f"/><stop offset=".91" stop-color="#777"/><stop offset=".93" stop-color="#888"/><stop offset=".95" stop-color="#616161"/><stop offset=".97" stop-color="#a0a0a0"/><stop offset=".99" stop-color="#848484"/><stop offset="1" stop-color="#a5a5a5"/></linearGradient><path fill="url(#n422)" stroke="url(#n422)" d="M383.9 175l1.4 10.8 1.5 7.2 1.5-2.1 1.4-.9 1.5 2.3 1.5 1.6 1.4 1.8 1.5 2 1.5 8.7 1.4-6.4 1.5-2.8 1.4 5.8 1.5 3 1.5-7.2 1.4 1.3 1.5 2.4 1.5 6.3 1.4-5.1 1.5-.1 1.5-4.3 1.4-3 1.5 5.1 1.4 .3 1.5-2.1 1.5-.3 1.4-1.4 1.5 5 1.5-2.9 1.4-5.1 1.5 2.6 1.5 1.5 1.4 2.5 1.5-.8 1.5 .8 1.4-10.7 1.5 3.4 1.4-2.7 1.5-.7 1.5-.1 1.4 4.6 1.5-5.5 1.5-.1 1.4 1.6 1.5-8.4 1.5-7.7 1.4-3.4 1.5 6.6 1.4-11.8 1.5 4.8 1.5-6.4-1.2-7-1.4 1.9-1.5 3.6-1.5 6.7-1.4 11.7-1.5-3.4-1.4-.5-1.5 9.9-1.5-1.5-1.4 2.7-1.5-1.2-1.5-1.1-1.4 4-1.5 1.8-1.5 2.7-1.4-3.9-1.5 9.7-1.4 0-1.5-4.3-1.5 .2-1.4-.4-1.5-1.6-1.5 .2-1.4 8.2-1.5-6.4-1.5-1.6-1.4 8.1-1.5-4-1.5 1.8-1.4 3.9-1.5-3.7-1.4-3.4-1.5 2.6-1.5 2.1-1.4-1.7-1.5 4.5-1.5-3.7-1.4 4.6-1.5-4-1.5-6.3-1.4 10-1.5-2.3-1.4 1-1.5-6.9-1.5-5.5-1.4 0-1.5 5.3-1.5-4.3-1.4-1-1.5-6.7-1.5-2.4z"/><linearGradient id="n423" href="#u" x1="384.4" x2="457.6"><stop offset=".01" stop-color="#c6c6c6"/><stop offset=".03" stop-color="#b8b8b8"/><stop offset=".05" stop-color="#808080"/><stop offset=".07" stop-color="#7b7b7b"/><stop offset=".09" stop-color="#777"/><stop offset=".11" stop-color="#5f5f5f"/><stop offset=".13" stop-color="#676767"/><stop offset=".15" stop-color="#2f2f2f"/><stop offset=".17" stop-color="#515151"/><stop offset=".19" stop-color="#171717"/><stop offset=".21" stop-color="#212121"/><stop offset=".23" stop-color="#3f3f3f"/><stop offset=".25" stop-color="#252525"/><stop offset=".27" stop-color="#3c3c3c"/><stop offset=".29" stop-color="#252525"/><stop offset=".31" stop-color="#2f2f2f"/><stop offset=".33" stop-color="#080808"/><stop offset=".35" stop-color="#181818"/><stop offset=".37" stop-color="#171717"/><stop offset=".39" stop-color="#0a0a0a"/><stop offset=".41" stop-color="#151515"/><stop offset=".43" stop-color="#212121"/><stop offset=".45" stop-color="#333"/><stop offset=".47" stop-color="#1a1a1a"/><stop offset=".49" stop-color="#000"/><stop offset=".51" stop-color="#0f0f0f"/><stop offset=".53" stop-color="#0a0a0a"/><stop offset=".55" stop-color="#070707"/><stop offset=".57" stop-color="#131313"/><stop offset=".59" stop-color="#0b0b0b"/><stop offset=".61" stop-color="#2a2a2a"/><stop offset=".63" stop-color="#141414"/><stop offset=".65" stop-color="#313131"/><stop offset=".67" stop-color="#0c0c0c"/><stop offset=".69" stop-color="#3a3a3a"/><stop offset=".71" stop-color="#030303"/><stop offset=".73" stop-color="#252525"/><stop offset=".75" stop-color="#070707"/><stop offset=".77" stop-color="#111"/><stop offset=".79" stop-color="#3b3b3b"/><stop offset=".81" stop-color="#303030"/><stop offset=".83" stop-color="#2a2a2a"/><stop offset=".85" stop-color="#1d1d1d"/><stop offset=".87" stop-color="#5c5c5c"/><stop offset=".89" stop-color="#585858"/><stop offset=".91" stop-color="#3c3c3c"/><stop offset=".93" stop-color="#606060"/><stop offset=".95" stop-color="#7a7a7a"/><stop offset=".97" stop-color="#6f6f6f"/><stop offset=".99" stop-color="#888"/><stop offset="1" stop-color="#c5c5c5"/></linearGradient><path fill="url(#n423)" stroke="url(#n423)" d="M385 178.4l1.5 2.3 1.4 9.7 1.5 .7 1.5 .2 1.4 4.1 1.5-2 1.5 9.9 1.4-6.5 1.5 10.1 1.5-2.2 1.4-5.9 1.5 4.4 1.4-4.5 1.5 3.7 1.5-2.1 1.4 6.6 1.5-3.2 1.5-.1 1.4 1.9 1.5-2.3 1.5-2.7 1.4-3.7 1.5 4.3 1.4 4.9 1.5-3.8 1.5 .6 1.4 .2 1.5-2.6 1.5 1.1 1.4-6 1.5 3.7 1.5-5.7 1.4 6.4 1.5-8.8 1.5 9.7 1.4-6.8 1.5 5.2 1.4-2.2 1.5-8.1 1.5 1.7 1.4 .7 1.5 1.9 1.5-11.7 1.4 .3 1.5 4.7 1.5-6.9 1.4-5.2 1.5 1.7 1.4-4.9 1.5-11.6-1.1 5.4-1.5 6.4-1.5-4.8-1.4 11.8-1.5-6.6-1.4 3.4-1.5 7.7-1.5 8.4-1.4-1.6-1.5 .1-1.5 5.5-1.4-4.6-1.5 .1-1.5 .7-1.4 2.7-1.5-3.4-1.4 10.7-1.5-.8-1.5 .8-1.4-2.5-1.5-1.5-1.5-2.6-1.4 5.1-1.5 2.9-1.5-5-1.4 1.4-1.5 .3-1.5 2.1-1.4-.3-1.5-5.1-1.4 3-1.5 4.3-1.5 .1-1.4 5.1-1.5-6.3-1.5-2.4-1.4-1.3-1.5 7.2-1.5-3-1.4-5.8-1.5 2.8-1.4 6.4-1.5-8.7-1.5-2-1.4-1.8-1.5-1.6-1.5-2.3-1.4 .9-1.5 2.1-1.5-7.2-1.4-10.8z"/><linearGradient id="n424" href="#u" x1="385.6" x2="458.8"><stop offset=".01" stop-color="#b5b5b5"/><stop offset=".03" stop-color="#8d8d8d"/><stop offset=".05" stop-color="#747474"/><stop offset=".07" stop-color="#696969"/><stop offset=".09" stop-color="#828282"/><stop offset=".11" stop-color="#4c4c4c"/><stop offset=".13" stop-color="#515151"/><stop offset=".15" stop-color="#2b2b2b"/><stop offset=".17" stop-color="#5a5a5a"/><stop offset=".19" stop-color="#4c4c4c"/><stop offset=".21" stop-color="#161616"/><stop offset=".23" stop-color="#141414"/><stop offset=".25" stop-color="#3c3c3c"/><stop offset=".27" stop-color="#121212"/><stop offset=".29" stop-color="#030303"/><stop offset=".31" stop-color="#212121"/><stop offset=".33" stop-color="#020202"/><stop offset=".35" stop-color="#000"/><stop offset=".37" stop-color="#212121"/><stop offset=".39" stop-color="#363636"/><stop offset=".41" stop-color="#030303"/><stop offset=".43" stop-color="#2e2e2e"/><stop offset=".45" stop-color="#1f1f1f"/><stop offset=".47" stop-color="#2f2f2f"/><stop offset=".49" stop-color="#0c0c0c"/><stop offset=".51" stop-color="#0d0d0d"/><stop offset=".53" stop-color="#1b1b1b"/><stop offset=".55" stop-color="#050505"/><stop offset=".57" stop-color="#0a0a0a"/><stop offset=".59" stop-color="#000"/><stop offset=".61" stop-color="#2e2e2e"/><stop offset=".63" stop-color="#161616"/><stop offset=".65" stop-color="#000"/><stop offset=".67" stop-color="#333"/><stop offset=".69" stop-color="#070707"/><stop offset=".71" stop-color="#000"/><stop offset=".73" stop-color="#1c1c1c"/><stop offset=".75" stop-color="#292929"/><stop offset=".77" stop-color="#262626"/><stop offset=".79" stop-color="#323232"/><stop offset=".81" stop-color="#272727"/><stop offset=".83" stop-color="#484848"/><stop offset=".85" stop-color="#414141"/><stop offset=".87" stop-color="#2f2f2f"/><stop offset=".89" stop-color="#676767"/><stop offset=".91" stop-color="#3e3e3e"/><stop offset=".93" stop-color="#606060"/><stop offset=".95" stop-color="#818181"/><stop offset=".97" stop-color="#acacac"/><stop offset=".99" stop-color="#999"/><stop offset="1" stop-color="#a8a8a8"/></linearGradient><path fill="url(#n424)" stroke="url(#n424)" d="M386.1 182.1l1.5 6.9 1.5 4.1 1.4 1.7 1.5-5.1 1.5 9.7 1.4-1.4 1.5 6.5 1.5-8.9 1.4 2.1 1.5 9.5 1.5 0 1.4-7.6 1.5 7.3 1.4 2.4 1.5-6 1.5 5.3 1.4 .7 1.5-7 1.5-4.4 1.4 9.1 1.5-8.3 1.5 2.3 1.4-3.2 1.5 6 1.4-.6 1.5-3 1.5 3.8 1.4-1.4 1.5 1.8 1.5-9.1 1.4 4.1 1.5 3.4 1.5-9.7 1.4 7.8 1.5 1.4 1.5-6.1 1.4-2.8 1.5 .3 1.4-2.6 1.5 1.7 1.5-6.5 1.4 .9 1.5 2.9 1.5-10.6 1.4 7.1 1.5-6.5 1.5-6.4 1.4-8.2 1.5 3.1 1.4-3.1-1.1-5.9-1.5 11.6-1.4 4.9-1.5-1.7-1.4 5.2-1.5 6.9-1.5-4.7-1.4-.3-1.5 11.7-1.5-1.9-1.4-.7-1.5-1.7-1.5 8.1-1.4 2.2-1.5-5.2-1.4 6.8-1.5-9.7-1.5 8.8-1.4-6.4-1.5 5.7-1.5-3.7-1.4 6-1.5-1.1-1.5 2.6-1.4-.2-1.5-.6-1.5 3.8-1.4-4.9-1.5-4.3-1.4 3.7-1.5 2.7-1.5 2.3-1.4-1.9-1.5 .1-1.5 3.2-1.4-6.6-1.5 2.1-1.5-3.7-1.4 4.5-1.5-4.4-1.4 5.9-1.5 2.2-1.5-10.1-1.4 6.5-1.5-9.9-1.5 2-1.4-4.1-1.5-.2-1.5-.7-1.4-9.7-1.5-2.3z"/><linearGradient id="n425" href="#u" x1="386.7" x2="459.9"><stop offset=".01" stop-color="#aaa"/><stop offset=".03" stop-color="#a8a8a8"/><stop offset=".05" stop-color="#808080"/><stop offset=".07" stop-color="#5b5b5b"/><stop offset=".09" stop-color="#494949"/><stop offset=".11" stop-color="#4d4d4d"/><stop offset=".13" stop-color="#4b4b4b"/><stop offset=".15" stop-color="#3f3f3f"/><stop offset=".17" stop-color="#363636"/><stop offset=".19" stop-color="#323232"/><stop offset=".21" stop-color="#141414"/><stop offset=".23" stop-color="#313131"/><stop offset=".25" stop-color="#343434"/><stop offset=".27" stop-color="#1b1b1b"/><stop offset=".29" stop-color="#1a1a1a"/><stop offset=".31" stop-color="#020202"/><stop offset=".33" stop-color="#000"/><stop offset=".35" stop-color="#070707"/><stop offset=".37" stop-color="#131313"/><stop offset=".39" stop-color="#000"/><stop offset=".41" stop-color="#0d0d0d"/><stop offset=".43" stop-color="#151515"/><stop offset=".45" stop-color="#191919"/><stop offset=".47" stop-color="#262626"/><stop offset=".49" stop-color="#181818"/><stop offset=".51" stop-color="#010101"/><stop offset=".53" stop-color="#0a0a0a"/><stop offset=".55" stop-color="#121212"/><stop offset=".57" stop-color="#191919"/><stop offset=".59" stop-color="#111"/><stop offset=".61" stop-color="#101010"/><stop offset=".63" stop-color="#323232"/><stop offset=".65" stop-color="#232323"/><stop offset=".67" stop-color="#343434"/><stop offset=".69" stop-color="#040404"/><stop offset=".71" stop-color="#262626"/><stop offset=".73" stop-color="#1b1b1b"/><stop offset=".75" stop-color="#131313"/><stop offset=".77" stop-color="#050505"/><stop offset=".79" stop-color="#404040"/><stop offset=".81" stop-color="#0b0b0b"/><stop offset=".83" stop-color="#484848"/><stop offset=".85" stop-color="#313131"/><stop offset=".87" stop-color="#5a5a5a"/><stop offset=".89" stop-color="#2f2f2f"/><stop offset=".91" stop-color="#3c3c3c"/><stop offset=".93" stop-color="#626262"/><stop offset=".95" stop-color="#818181"/><stop offset=".97" stop-color="#969696"/><stop offset=".99" stop-color="#949494"/><stop offset="1" stop-color="#c4c4c4"/></linearGradient><path fill="url(#n425)" stroke="url(#n425)" d="M387.3 184.6l1.4-.1 1.5 6.9 1.5 6.4 1.4 3 1.5-1.1 1.5-.1 1.4 1.9 1.5 1.2 1.5 .3 1.4 5.2 1.5-5.7 1.5-1 1.4 4.1 1.5-.2 1.4 4.1 1.5 1 1.5-2.8 1.4-2.4 1.5 3.5 1.5-3.3 1.4-1.7 1.5-1.2 1.5-2.7 1.4 2.1 1.5 3.9 1.4-2 1.5-1.9 1.5-1.7 1.4 1.1 1.5-.1 1.5-6.7 1.4 2.5 1.5-3.6 1.5 8.5 1.4-6.6 1.5 1.5 1.5 1.1 1.4 2.2 1.5-11.2 1.4 9.3 1.5-11.4 1.5 3.8 1.4-7.9 1.5 7.5 1.5-2.8 1.4-7.2 1.5-6.1 1.5-4.3 1.4 0 1.5-9.1-1.2 4.7-1.4 3.1-1.5-3.1-1.4 8.2-1.5 6.4-1.5 6.5-1.4-7.1-1.5 10.6-1.5-2.9-1.4-.9-1.5 6.5-1.5-1.7-1.4 2.6-1.5-.3-1.4 2.8-1.5 6.1-1.5-1.4-1.4-7.8-1.5 9.7-1.5-3.4-1.4-4.1-1.5 9.1-1.5-1.8-1.4 1.4-1.5-3.8-1.5 3-1.4 .6-1.5-6-1.4 3.2-1.5-2.3-1.5 8.3-1.4-9.1-1.5 4.4-1.5 7-1.4-.7-1.5-5.3-1.5 6-1.4-2.4-1.5-7.3-1.4 7.6-1.5 0-1.5-9.5-1.4-2.1-1.5 8.9-1.5-6.5-1.4 1.4-1.5-9.7-1.5 5.1-1.4-1.7-1.5-4.1-1.5-6.9z"/><linearGradient id="n426" href="#u" x1="387.9" x2="461.1"><stop offset=".01" stop-color="#a5a5a5"/><stop offset=".03" stop-color="#bbb"/><stop offset=".05" stop-color="#7c7c7c"/><stop offset=".07" stop-color="#787878"/><stop offset=".09" stop-color="#858585"/><stop offset=".11" stop-color="#515151"/><stop offset=".13" stop-color="#525252"/><stop offset=".15" stop-color="#4f4f4f"/><stop offset=".17" stop-color="#353535"/><stop offset=".19" stop-color="#222"/><stop offset=".21" stop-color="#2d2d2d"/><stop offset=".23" stop-color="#3a3a3a"/><stop offset=".25" stop-color="#1c1c1c"/><stop offset=".27" stop-color="#2b2b2b"/><stop offset=".29" stop-color="#0c0c0c"/><stop offset=".31" stop-color="#131313"/><stop offset=".33" stop-color="#363636"/><stop offset=".35" stop-color="#000"/><stop offset=".37" stop-color="#333"/><stop offset=".39" stop-color="#000"/><stop offset=".41" stop-color="#2b2b2b"/><stop offset=".43" stop-color="#0e0e0e"/><stop offset=".45" stop-color="#242424"/><stop offset=".47" stop-color="#050505"/><stop offset=".49" stop-color="#010101"/><stop offset=".51" stop-color="#000"/><stop offset=".53" stop-color="#000"/><stop offset=".55" stop-color="#0e0e0e"/><stop offset=".57" stop-color="#000"/><stop offset=".59" stop-color="#080808"/><stop offset=".61" stop-color="#2f2f2f"/><stop offset=".63" stop-color="#242424"/><stop offset=".65" stop-color="#121212"/><stop offset=".67" stop-color="#000"/><stop offset=".69" stop-color="#000"/><stop offset=".71" stop-color="#3b3b3b"/><stop offset=".73" stop-color="#191919"/><stop offset=".75" stop-color="#252525"/><stop offset=".77" stop-color="#323232"/><stop offset=".79" stop-color="#2e2e2e"/><stop offset=".81" stop-color="#3c3c3c"/><stop offset=".83" stop-color="#363636"/><stop offset=".85" stop-color="#393939"/><stop offset=".87" stop-color="#3f3f3f"/><stop offset=".89" stop-color="#676767"/><stop offset=".91" stop-color="#7a7a7a"/><stop offset=".93" stop-color="#606060"/><stop offset=".95" stop-color="#666"/><stop offset=".97" stop-color="#a8a8a8"/><stop offset=".99" stop-color="#949494"/><stop offset="1" stop-color="#c9c9c9"/></linearGradient><path fill="url(#n426)" stroke="url(#n426)" d="M388.4 185.9l1.5-4.3 1.4 11.2 1.5 .3 1.5-2.8 1.4 9.1 1.5-.6 1.5 .2 1.4 4.3 1.5 3.2 1.5-2.5 1.4-2.7 1.5 5 1.5-3.1 1.4 5.3 1.5-1.7 1.4-6.7 1.5 10.3 1.5-10.4 1.4 10 1.5-9.4 1.5 4.9 1.4-4.3 1.5 5.3 1.5 .2 1.4 .7 1.5 .6 1.4-4.8 1.5 3.6 1.5-3.2 1.4-7.6 1.5 1.7 1.5 2.9 1.4 4.3 1.5-.9 1.5-12 1.4 5.9 1.5-2.7 1.5-2.7 1.4 .4 1.5-3 1.4 .8 1.5-1 1.5-1.5 1.4-7.6 1.5-3.8 1.5 4.2 1.4-1.3 1.5-12.6 1.5 3.3 1.4-10-1.1 .4-1.5 9.1-1.4 0-1.5 4.3-1.5 6.1-1.4 7.2-1.5 2.8-1.5-7.5-1.4 7.9-1.5-3.8-1.5 11.4-1.4-9.3-1.5 11.2-1.4-2.2-1.5-1.1-1.5-1.5-1.4 6.6-1.5-8.5-1.5 3.6-1.4-2.5-1.5 6.7-1.5 .1-1.4-1.1-1.5 1.7-1.5 1.9-1.4 2-1.5-3.9-1.4-2.1-1.5 2.7-1.5 1.2-1.4 1.7-1.5 3.3-1.5-3.5-1.4 2.4-1.5 2.8-1.5-1-1.4-4.1-1.5 .2-1.4-4.1-1.5 1-1.5 5.7-1.4-5.2-1.5-.3-1.5-1.2-1.4-1.9-1.5 .1-1.5 1.1-1.4-3-1.5-6.4-1.5-6.9-1.4 .1z"/><linearGradient id="n427" href="#u" x1="389" x2="462.2"><stop offset=".01" stop-color="#bbb"/><stop offset=".03" stop-color="#8a8a8a"/><stop offset=".05" stop-color="#a6a6a6"/><stop offset=".07" stop-color="#696969"/><stop offset=".09" stop-color="#515151"/><stop offset=".11" stop-color="#454545"/><stop offset=".13" stop-color="#393939"/><stop offset=".15" stop-color="#5e5e5e"/><stop offset=".17" stop-color="#353535"/><stop offset=".19" stop-color="#434343"/><stop offset=".21" stop-color="#414141"/><stop offset=".23" stop-color="#0c0c0c"/><stop offset=".25" stop-color="#2a2a2a"/><stop offset=".27" stop-color="#343434"/><stop offset=".29" stop-color="#0b0b0b"/><stop offset=".31" stop-color="#373737"/><stop offset=".33" stop-color="#1b1b1b"/><stop offset=".35" stop-color="#191919"/><stop offset=".37" stop-color="#383838"/><stop offset=".39" stop-color="#020202"/><stop offset=".41" stop-color="#333"/><stop offset=".43" stop-color="#060606"/><stop offset=".45" stop-color="#1a1a1a"/><stop offset=".47" stop-color="#000"/><stop offset=".49" stop-color="#0d0d0d"/><stop offset=".51" stop-color="#060606"/><stop offset=".53" stop-color="#282828"/><stop offset=".55" stop-color="#363636"/><stop offset=".57" stop-color="#000"/><stop offset=".59" stop-color="#000"/><stop offset=".61" stop-color="#212121"/><stop offset=".63" stop-color="#363636"/><stop offset=".65" stop-color="#363636"/><stop offset=".67" stop-color="#303030"/><stop offset=".69" stop-color="#282828"/><stop offset=".71" stop-color="#202020"/><stop offset=".73" stop-color="#000"/><stop offset=".75" stop-color="#3c3c3c"/><stop offset=".77" stop-color="#272727"/><stop offset=".79" stop-color="#242424"/><stop offset=".81" stop-color="#0c0c0c"/><stop offset=".83" stop-color="#1c1c1c"/><stop offset=".85" stop-color="#2f2f2f"/><stop offset=".87" stop-color="#616161"/><stop offset=".89" stop-color="#565656"/><stop offset=".91" stop-color="#676767"/><stop offset=".93" stop-color="#606060"/><stop offset=".95" stop-color="#898989"/><stop offset=".97" stop-color="#797979"/><stop offset=".99" stop-color="#949494"/><stop offset="1" stop-color="#bdbdbd"/></linearGradient><path fill="url(#n427)" stroke="url(#n427)" d="M389.6 182.5l1.4 8.6 1.5-5.6 1.4 10.7 1.5 4.1 1.5 1.8 1.4 1.8 1.5-7.1 1.5 7.1 1.4-2.9 1.5-.1 1.5 9.4 1.4-5.9 1.5-2.3 1.5 7.2 1.4-8.5 1.5 4.7 1.4 0 1.5-5.9 1.5 9.4 1.4-9.3 1.5 7.8 1.5-4.1 1.4 5.5 1.5-3.8 1.5 1 1.4-6.8 1.5-2.9 1.4 9.7 1.5 .6 1.5-7.6 1.4-4.2 1.5-.3 1.5 .7 1.4 1 1.5 1.2 1.5 6 1.4-11.8 1.5 3.3 1.5 .1 1.4 4.1 1.5-3.4 1.4-3.8 1.5-9.4 1.5 1.5 1.4-3.4 1.5 .8 1.5-7.7 1.4 2.5 1.5-5.3 1.5-7.9-1.2-2.7-1.4 10-1.5-3.3-1.5 12.6-1.4 1.3-1.5-4.2-1.5 3.8-1.4 7.6-1.5 1.5-1.5 1-1.4-.8-1.5 3-1.4-.4-1.5 2.7-1.5 2.7-1.4-5.9-1.5 12-1.5 .9-1.4-4.3-1.5-2.9-1.5-1.7-1.4 7.6-1.5 3.2-1.5-3.6-1.4 4.8-1.5-.6-1.4-.7-1.5-.2-1.5-5.3-1.4 4.3-1.5-4.9-1.5 9.4-1.4-10-1.5 10.4-1.5-10.3-1.4 6.7-1.5 1.7-1.4-5.3-1.5 3.1-1.5-5-1.4 2.7-1.5 2.5-1.5-3.2-1.4-4.3-1.5-.2-1.5 .6-1.4-9.1-1.5 2.8-1.5-.3-1.4-11.2-1.5 4.3z"/><linearGradient id="n428" href="#u" x1="390.1" x2="463.3"><stop offset=".01" stop-color="#9d9d9d"/><stop offset=".03" stop-color="#9a9a9a"/><stop offset=".05" stop-color="#949494"/><stop offset=".07" stop-color="#747474"/><stop offset=".09" stop-color="#5b5b5b"/><stop offset=".11" stop-color="#4e4e4e"/><stop offset=".13" stop-color="#404040"/><stop offset=".15" stop-color="#414141"/><stop offset=".17" stop-color="#5a5a5a"/><stop offset=".19" stop-color="#4d4d4d"/><stop offset=".21" stop-color="#2e2e2e"/><stop offset=".23" stop-color="#404040"/><stop offset=".25" stop-color="#0c0c0c"/><stop offset=".27" stop-color="#282828"/><stop offset=".29" stop-color="#313131"/><stop offset=".31" stop-color="#0b0b0b"/><stop offset=".33" stop-color="#1d1d1d"/><stop offset=".35" stop-color="#191919"/><stop offset=".37" stop-color="#000"/><stop offset=".39" stop-color="#363636"/><stop offset=".41" stop-color="#0e0e0e"/><stop offset=".43" stop-color="#1b1b1b"/><stop offset=".45" stop-color="#000"/><stop offset=".47" stop-color="#181818"/><stop offset=".49" stop-color="#121212"/><stop offset=".51" stop-color="#2f2f2f"/><stop offset=".53" stop-color="#000"/><stop offset=".55" stop-color="#2f2f2f"/><stop offset=".57" stop-color="#020202"/><stop offset=".59" stop-color="#2d2d2d"/><stop offset=".61" stop-color="#282828"/><stop offset=".63" stop-color="#1e1e1e"/><stop offset=".65" stop-color="#0e0e0e"/><stop offset=".67" stop-color="#151515"/><stop offset=".69" stop-color="#242424"/><stop offset=".71" stop-color="#121212"/><stop offset=".73" stop-color="#000"/><stop offset=".75" stop-color="#2d2d2d"/><stop offset=".77" stop-color="#303030"/><stop offset=".79" stop-color="#181818"/><stop offset=".81" stop-color="#191919"/><stop offset=".83" stop-color="#4c4c4c"/><stop offset=".85" stop-color="#303030"/><stop offset=".87" stop-color="#262626"/><stop offset=".89" stop-color="#656565"/><stop offset=".91" stop-color="#484848"/><stop offset=".93" stop-color="#616161"/><stop offset=".95" stop-color="#7d7d7d"/><stop offset=".97" stop-color="#8a8a8a"/><stop offset=".99" stop-color="#8f8f8f"/><stop offset="1" stop-color="#a9a9a9"/></linearGradient><path fill="url(#n428)" stroke="url(#n428)" d="M390.7 188.5l1.5 .1 1.4 .8 1.5 5.4 1.4 4.2 1.5 1.9 1.5 2.2 1.4-.5 1.5-5 1.5 1.9 1.4 5.4 1.5-3.7 1.5 9.1 1.4-5.4 1.5-2.1 1.5 6.6 1.4-3.7 1.5 .3 1.4 4.7 1.5-10.7 1.5 6.9 1.4-2.7 1.5 6.2 1.5-6.4 1.4 .6 1.5-5.6 1.5 9.3 1.4-10.1 1.5 7.9 1.4-8.2 1.5 .5 1.5 1.5 1.4 2.5 1.5-1.7 1.5-3.1 1.4 2.8 1.5 3 1.5-8.5 1.4-1 1.5 3.9 1.5-.5 1.4-9.7 1.5 4.9 1.4 1.3 1.5-11.9 1.5 4.9 1.4-4.9 1.5-5.5 1.5-2.8 1.4-1.3 1.5-5.1-1.1-4.1-1.5 7.9-1.5 5.3-1.4-2.5-1.5 7.7-1.5-.8-1.4 3.4-1.5-1.5-1.5 9.4-1.4 3.8-1.5 3.4-1.4-4.1-1.5-.1-1.5-3.3-1.4 11.8-1.5-6-1.5-1.2-1.4-1-1.5-.7-1.5 .3-1.4 4.2-1.5 7.6-1.5-.6-1.4-9.7-1.5 2.9-1.4 6.8-1.5-1-1.5 3.8-1.4-5.5-1.5 4.1-1.5-7.8-1.4 9.3-1.5-9.4-1.5 5.9-1.4 0-1.5-4.7-1.4 8.5-1.5-7.2-1.5 2.3-1.4 5.9-1.5-9.4-1.5 .1-1.4 2.9-1.5-7.1-1.5 7.1-1.4-1.8-1.5-1.8-1.5-4.1-1.4-10.7-1.5 5.6-1.4-8.6z"/><linearGradient id="n429" href="#u" x1="391.3" x2="464.5"><stop offset=".01" stop-color="#a5a5a5"/><stop offset=".03" stop-color="#bfbfbf"/><stop offset=".05" stop-color="#ababab"/><stop offset=".07" stop-color="#7f7f7f"/><stop offset=".09" stop-color="#757575"/><stop offset=".11" stop-color="#737373"/><stop offset=".13" stop-color="#686868"/><stop offset=".15" stop-color="#292929"/><stop offset=".17" stop-color="#2e2e2e"/><stop offset=".19" stop-color="#454545"/><stop offset=".21" stop-color="#1d1d1d"/><stop offset=".23" stop-color="#212121"/><stop offset=".25" stop-color="#424242"/><stop offset=".27" stop-color="#1d1d1d"/><stop offset=".29" stop-color="#212121"/><stop offset=".31" stop-color="#080808"/><stop offset=".33" stop-color="#020202"/><stop offset=".35" stop-color="#333"/><stop offset=".37" stop-color="#292929"/><stop offset=".39" stop-color="#000"/><stop offset=".41" stop-color="#333"/><stop offset=".43" stop-color="#303030"/><stop offset=".45" stop-color="#0b0b0b"/><stop offset=".47" stop-color="#2f2f2f"/><stop offset=".49" stop-color="#000"/><stop offset=".51" stop-color="#060606"/><stop offset=".53" stop-color="#2f2f2f"/><stop offset=".55" stop-color="#181818"/><stop offset=".57" stop-color="#101010"/><stop offset=".59" stop-color="#090909"/><stop offset=".61" stop-color="#040404"/><stop offset=".63" stop-color="#020202"/><stop offset=".65" stop-color="#141414"/><stop offset=".67" stop-color="#181818"/><stop offset=".69" stop-color="#000"/><stop offset=".71" stop-color="#2a2a2a"/><stop offset=".73" stop-color="#010101"/><stop offset=".75" stop-color="#070707"/><stop offset=".77" stop-color="#3c3c3c"/><stop offset=".79" stop-color="#1e1e1e"/><stop offset=".81" stop-color="#131313"/><stop offset=".83" stop-color="#2b2b2b"/><stop offset=".85" stop-color="#242424"/><stop offset=".87" stop-color="#292929"/><stop offset=".89" stop-color="#6d6d6d"/><stop offset=".91" stop-color="#3e3e3e"/><stop offset=".93" stop-color="#787878"/><stop offset=".95" stop-color="#767676"/><stop offset=".97" stop-color="#7a7a7a"/><stop offset=".99" stop-color="#bbb"/><stop offset="1" stop-color="#bcbcbc"/></linearGradient><path fill="url(#n429)" stroke="url(#n429)" d="M391.8 187.5l1.5-5.2 1.5 3.3 1.4 7.8 1.5 1.4 1.4 0 1.5 1.6 1.5 11 1.4-1.3 1.5-4.5 1.5 7 1.4-1.3 1.5-6.3 1.5 6.3 1.4-1.1 1.5 4.2 1.5 .8 1.4-9.3 1.5 1.4 1.4 7.3 1.5-9.9 1.5 .1 1.4 6.4 1.5-7 1.5 8.6 1.4-1.7 1.5-8 1.5 3.9 1.4 1 1.5 .9 1.4 .6 1.5 0 1.5-3.7 1.4-1.1 1.5 4.4 1.5-8.4 1.4 6.9 1.5-1.4 1.5-10 1.4 5.1 1.5 1.6 1.5-4.7 1.4 .9 1.5-1.4 1.4-12.7 1.5 8.1 1.5-10.9 1.4 .1 1.5-1.3 1.5-12.1 1.4-.6-1.1 2.9-1.5 5.1-1.4 1.3-1.5 2.8-1.5 5.5-1.4 4.9-1.5-4.9-1.5 11.9-1.4-1.3-1.5-4.9-1.4 9.7-1.5 .5-1.5-3.9-1.4 1-1.5 8.5-1.5-3-1.4-2.8-1.5 3.1-1.5 1.7-1.4-2.5-1.5-1.5-1.5-.5-1.4 8.2-1.5-7.9-1.4 10.1-1.5-9.3-1.5 5.6-1.4-.6-1.5 6.4-1.5-6.2-1.4 2.7-1.5-6.9-1.5 10.7-1.4-4.7-1.5-.3-1.4 3.7-1.5-6.6-1.5 2.1-1.4 5.4-1.5-9.1-1.5 3.7-1.4-5.4-1.5-1.9-1.5 5-1.4 .5-1.5-2.2-1.5-1.9-1.4-4.2-1.5-5.4-1.4-.8-1.5-.1z"/><linearGradient id="n430" href="#u" x1="392.4" x2="465.6"><stop offset=".01" stop-color="#b3b3b3"/><stop offset=".03" stop-color="#9b9b9b"/><stop offset=".05" stop-color="#aaa"/><stop offset=".07" stop-color="#6b6b6b"/><stop offset=".09" stop-color="#707070"/><stop offset=".11" stop-color="#5c5c5c"/><stop offset=".13" stop-color="#6d6d6d"/><stop offset=".15" stop-color="#242424"/><stop offset=".17" stop-color="#595959"/><stop offset=".19" stop-color="#282828"/><stop offset=".21" stop-color="#404040"/><stop offset=".23" stop-color="#131313"/><stop offset=".25" stop-color="#303030"/><stop offset=".27" stop-color="#141414"/><stop offset=".29" stop-color="#080808"/><stop offset=".31" stop-color="#050505"/><stop offset=".33" stop-color="#030303"/><stop offset=".35" stop-color="#333"/><stop offset=".37" stop-color="#141414"/><stop offset=".39" stop-color="#0b0b0b"/><stop offset=".41" stop-color="#2b2b2b"/><stop offset=".43" stop-color="#191919"/><stop offset=".45" stop-color="#222"/><stop offset=".47" stop-color="#080808"/><stop offset=".49" stop-color="#020202"/><stop offset=".51" stop-color="#000"/><stop offset=".53" stop-color="#0c0c0c"/><stop offset=".55" stop-color="#101010"/><stop offset=".57" stop-color="#202020"/><stop offset=".59" stop-color="#0f0f0f"/><stop offset=".61" stop-color="#0f0f0f"/><stop offset=".63" stop-color="#030303"/><stop offset=".65" stop-color="#101010"/><stop offset=".67" stop-color="#1b1b1b"/><stop offset=".69" stop-color="#010101"/><stop offset=".71" stop-color="#2b2b2b"/><stop offset=".73" stop-color="#383838"/><stop offset=".75" stop-color="#232323"/><stop offset=".77" stop-color="#161616"/><stop offset=".79" stop-color="#454545"/><stop offset=".81" stop-color="#131313"/><stop offset=".83" stop-color="#1d1d1d"/><stop offset=".85" stop-color="#4b4b4b"/><stop offset=".87" stop-color="#575757"/><stop offset=".89" stop-color="#454545"/><stop offset=".91" stop-color="#3f3f3f"/><stop offset=".93" stop-color="#717171"/><stop offset=".95" stop-color="#6f6f6f"/><stop offset=".97" stop-color="#a3a3a3"/><stop offset=".99" stop-color="#858585"/><stop offset="1" stop-color="#bdbdbd"/></linearGradient><path fill="url(#n430)" stroke="url(#n430)" d="M393 185.4l1.4 4.1 1.5-3.3 1.5 11.2 1.4-1.3 1.5 3.4 1.4-3.5 1.5 12.8 1.5-10 1.4 8.6 1.5-4.7 1.5 7.8 1.4-5.8 1.5 4.8 1.5 1.8 1.4 .1 1.5 0 1.5-9.1 1.4 5.2 1.5 1.4 1.4-6.3 1.5 3 1.5-2 1.4 4.3 1.5 .7 1.5 .2 1.4-2.7 1.5-1.2 1.5-3.2 1.4 2.6 1.5-.3 1.4 1.8 1.5-2.8 1.5-2.4 1.4 4.4 1.5-8.1 1.5-2.7 1.4 3.4 1.5 2.1 1.5-9.1 1.4 8.9 1.5-2.4 1.5-8.7 1.4-2.5 1.5 2.9 1.4 .7 1.5-9.5 1.5 .1 1.4-10 1.5 5.1 1.5-10.6-1.2-.3-1.4 .6-1.5 12.1-1.5 1.3-1.4-.1-1.5 10.9-1.5-8.1-1.4 12.7-1.5 1.4-1.4-.9-1.5 4.7-1.5-1.6-1.4-5.1-1.5 10-1.5 1.4-1.4-6.9-1.5 8.4-1.5-4.4-1.4 1.1-1.5 3.7-1.5 0-1.4-.6-1.5-.9-1.4-1-1.5-3.9-1.5 8-1.4 1.7-1.5-8.6-1.5 7-1.4-6.4-1.5-.1-1.5 9.9-1.4-7.3-1.5-1.4-1.4 9.3-1.5-.8-1.5-4.2-1.4 1.1-1.5-6.3-1.5 6.3-1.4 1.3-1.5-7-1.5 4.5-1.4 1.3-1.5-11-1.5-1.6-1.4 0-1.5-1.4-1.4-7.8-1.5-3.3-1.5 5.2z"/><linearGradient id="n431" href="#u" x1="393.5" x2="466.7"><stop offset=".01" stop-color="#a2a2a2"/><stop offset=".03" stop-color="#c2c2c2"/><stop offset=".05" stop-color="#7c7c7c"/><stop offset=".07" stop-color="#676767"/><stop offset=".09" stop-color="#707070"/><stop offset=".11" stop-color="#5d5d5d"/><stop offset=".13" stop-color="#505050"/><stop offset=".15" stop-color="#5b5b5b"/><stop offset=".17" stop-color="#191919"/><stop offset=".19" stop-color="#1b1b1b"/><stop offset=".21" stop-color="#171717"/><stop offset=".23" stop-color="#2a2a2a"/><stop offset=".25" stop-color="#191919"/><stop offset=".27" stop-color="#292929"/><stop offset=".29" stop-color="#171717"/><stop offset=".31" stop-color="#000"/><stop offset=".33" stop-color="#2c2c2c"/><stop offset=".35" stop-color="#181818"/><stop offset=".37" stop-color="#101010"/><stop offset=".39" stop-color="#080808"/><stop offset=".41" stop-color="#2f2f2f"/><stop offset=".43" stop-color="#1f1f1f"/><stop offset=".45" stop-color="#000"/><stop offset=".47" stop-color="#0f0f0f"/><stop offset=".49" stop-color="#363636"/><stop offset=".51" stop-color="#060606"/><stop offset=".53" stop-color="#000"/><stop offset=".55" stop-color="#000"/><stop offset=".57" stop-color="#000"/><stop offset=".59" stop-color="#000"/><stop offset=".61" stop-color="#141414"/><stop offset=".63" stop-color="#313131"/><stop offset=".65" stop-color="#353535"/><stop offset=".67" stop-color="#333"/><stop offset=".69" stop-color="#111"/><stop offset=".71" stop-color="#272727"/><stop offset=".73" stop-color="#000"/><stop offset=".75" stop-color="#313131"/><stop offset=".77" stop-color="#131313"/><stop offset=".79" stop-color="#313131"/><stop offset=".81" stop-color="#1e1e1e"/><stop offset=".83" stop-color="#313131"/><stop offset=".85" stop-color="#373737"/><stop offset=".87" stop-color="#4a4a4a"/><stop offset=".89" stop-color="#424242"/><stop offset=".91" stop-color="#454545"/><stop offset=".93" stop-color="#6c6c6c"/><stop offset=".95" stop-color="#8b8b8b"/><stop offset=".97" stop-color="#848484"/><stop offset=".99" stop-color="#c0c0c0"/><stop offset="1" stop-color="#b7b7b7"/></linearGradient><path fill="url(#n431)" stroke="url(#n431)" d="M394.1 189l1.5-6.1 1.4 12.4 1.5 3.3 1.5-2 1.4 3.1 1.5 2 1.4-2.3 1.5 11.6 1.5-.7 1.4 .2 1.5-3.7 1.5 2.7 1.4-3.2 1.5 2.8 1.5 4.7 1.4-9.3 1.5 3.2 1.5 1.1 1.4 1.1 1.5-7.4 1.4 2.5 1.5 6 1.5-4 1.4-7.5 1.5 8.5 1.5 1.2 1.4 .3 1.5-.4 1.5-.1 1.4-5.5 1.5-5.7 1.4-1 1.5 0 1.5 5.7 1.4-4.3 1.5 6.8 1.5-9.4 1.4 5 1.5-5.7 1.5 3.1 1.4-3.9 1.5-1.5 1.5-3.8 1.4 1.1 1.5-1 1.4-7.5 1.5-5.9 1.5 .7 1.4-11.3 1.5 1.3-1.1-1.6-1.5 10.6-1.5-5.1-1.4 10-1.5-.1-1.5 9.5-1.4-.7-1.5-2.9-1.4 2.5-1.5 8.7-1.5 2.4-1.4-8.9-1.5 9.1-1.5-2.1-1.4-3.4-1.5 2.7-1.5 8.1-1.4-4.4-1.5 2.4-1.5 2.8-1.4-1.8-1.5 .3-1.4-2.6-1.5 3.2-1.5 1.2-1.4 2.7-1.5-.2-1.5-.7-1.4-4.3-1.5 2-1.5-3-1.4 6.3-1.5-1.4-1.4-5.2-1.5 9.1-1.5 0-1.4-.1-1.5-1.8-1.5-4.8-1.4 5.8-1.5-7.8-1.5 4.7-1.4-8.6-1.5 10-1.5-12.8-1.4 3.5-1.5-3.4-1.4 1.3-1.5-11.2-1.5 3.3-1.4-4.1z"/><linearGradient id="n432" href="#u" x1="394.7" x2="467.9"><stop offset=".01" stop-color="#aaa"/><stop offset=".03" stop-color="#8a8a8a"/><stop offset=".05" stop-color="#7f7f7f"/><stop offset=".07" stop-color="#8c8c8c"/><stop offset=".09" stop-color="#888"/><stop offset=".11" stop-color="#5c5c5c"/><stop offset=".13" stop-color="#484848"/><stop offset=".15" stop-color="#525252"/><stop offset=".17" stop-color="#515151"/><stop offset=".19" stop-color="#333"/><stop offset=".21" stop-color="#2b2b2b"/><stop offset=".23" stop-color="#202020"/><stop offset=".25" stop-color="#1e1e1e"/><stop offset=".27" stop-color="#1b1b1b"/><stop offset=".29" stop-color="#030303"/><stop offset=".31" stop-color="#373737"/><stop offset=".33" stop-color="#1a1a1a"/><stop offset=".35" stop-color="#242424"/><stop offset=".37" stop-color="#141414"/><stop offset=".39" stop-color="#292929"/><stop offset=".41" stop-color="#040404"/><stop offset=".43" stop-color="#2d2d2d"/><stop offset=".45" stop-color="#343434"/><stop offset=".47" stop-color="#000"/><stop offset=".49" stop-color="#121212"/><stop offset=".51" stop-color="#000"/><stop offset=".53" stop-color="#282828"/><stop offset=".55" stop-color="#181818"/><stop offset=".57" stop-color="#000"/><stop offset=".59" stop-color="#313131"/><stop offset=".61" stop-color="#323232"/><stop offset=".63" stop-color="#080808"/><stop offset=".65" stop-color="#272727"/><stop offset=".67" stop-color="#000"/><stop offset=".69" stop-color="#232323"/><stop offset=".71" stop-color="#0e0e0e"/><stop offset=".73" stop-color="#000"/><stop offset=".75" stop-color="#121212"/><stop offset=".77" stop-color="#252525"/><stop offset=".79" stop-color="#080808"/><stop offset=".81" stop-color="#444"/><stop offset=".83" stop-color="#2c2c2c"/><stop offset=".85" stop-color="#3a3a3a"/><stop offset=".87" stop-color="#616161"/><stop offset=".89" stop-color="#696969"/><stop offset=".91" stop-color="#686868"/><stop offset=".93" stop-color="#777"/><stop offset=".95" stop-color="#8f8f8f"/><stop offset=".97" stop-color="#959595"/><stop offset=".99" stop-color="#a9a9a9"/><stop offset="1" stop-color="#d3d3d3"/></linearGradient><path fill="url(#n432)" stroke="url(#n432)" d="M395.2 188l1.5 5.6 1.5 1.7 1.4-2.9 1.5 .4 1.5 7.7 1.4 3.2 1.5-2.3 1.4-.2 1.5 5.3 1.5 1 1.4 1.6 1.5-.1 1.5 .3 1.4 3.9 1.5-9.8 1.5 4.8 1.4-2.2 1.5 2.6 1.5-4.2 1.4 6.3 1.5-7.8 1.4-1.7 1.5 9.5 1.5-4 1.4 4.4 1.5-9.2 1.5 2.6 1.4 5.5 1.5-10.9 1.5-.6 1.4 7.3 1.5-6 1.4 7.5 1.5-7.5 1.5 3.4 1.4 2.8 1.5-4.3 1.5-3.7 1.4 4.9 1.5-11.5 1.5 4 1.4-2.9 1.5-7.4 1.5-1.9 1.4-.2 1.5-3.1 1.4-4.7 1.5-1.5 1.5-4 1.4-8.1-1.1 4.6-1.5-1.3-1.4 11.3-1.5-.7-1.5 5.9-1.4 7.5-1.5 1-1.4-1.1-1.5 3.8-1.5 1.5-1.4 3.9-1.5-3.1-1.5 5.7-1.4-5-1.5 9.4-1.5-6.8-1.4 4.3-1.5-5.7-1.5 0-1.4 1-1.5 5.7-1.4 5.5-1.5 .1-1.5 .4-1.4-.3-1.5-1.2-1.5-8.5-1.4 7.5-1.5 4-1.5-6-1.4-2.5-1.5 7.4-1.4-1.1-1.5-1.1-1.5-3.2-1.4 9.3-1.5-4.7-1.5-2.8-1.4 3.2-1.5-2.7-1.5 3.7-1.4-.2-1.5 .7-1.5-11.6-1.4 2.3-1.5-2-1.4-3.1-1.5 2-1.5-3.3-1.4-12.4-1.5 6.1z"/><linearGradient id="n433" href="#u" x1="395.8" x2="469"><stop offset=".01" stop-color="#cecece"/><stop offset=".03" stop-color="#a6a6a6"/><stop offset=".05" stop-color="#919191"/><stop offset=".07" stop-color="#949494"/><stop offset=".09" stop-color="#4e4e4e"/><stop offset=".11" stop-color="#7a7a7a"/><stop offset=".13" stop-color="#565656"/><stop offset=".15" stop-color="#4f4f4f"/><stop offset=".17" stop-color="#1a1a1a"/><stop offset=".19" stop-color="#4a4a4a"/><stop offset=".21" stop-color="#252525"/><stop offset=".23" stop-color="#202020"/><stop offset=".25" stop-color="#2b2b2b"/><stop offset=".27" stop-color="#181818"/><stop offset=".29" stop-color="#393939"/><stop offset=".31" stop-color="#363636"/><stop offset=".33" stop-color="#111"/><stop offset=".35" stop-color="#060606"/><stop offset=".37" stop-color="#111"/><stop offset=".39" stop-color="#373737"/><stop offset=".41" stop-color="#0a0a0a"/><stop offset=".43" stop-color="#161616"/><stop offset=".45" stop-color="#020202"/><stop offset=".47" stop-color="#151515"/><stop offset=".49" stop-color="#343434"/><stop offset=".51" stop-color="#101010"/><stop offset=".53" stop-color="#000"/><stop offset=".55" stop-color="#1e1e1e"/><stop offset=".57" stop-color="#292929"/><stop offset=".59" stop-color="#0c0c0c"/><stop offset=".61" stop-color="#000"/><stop offset=".63" stop-color="#0e0e0e"/><stop offset=".65" stop-color="#2a2a2a"/><stop offset=".67" stop-color="#161616"/><stop offset=".69" stop-color="#000"/><stop offset=".71" stop-color="#272727"/><stop offset=".73" stop-color="#0d0d0d"/><stop offset=".75" stop-color="#222"/><stop offset=".77" stop-color="#1d1d1d"/><stop offset=".79" stop-color="#121212"/><stop offset=".81" stop-color="#252525"/><stop offset=".83" stop-color="#232323"/><stop offset=".85" stop-color="#3c3c3c"/><stop offset=".87" stop-color="#2b2b2b"/><stop offset=".89" stop-color="#6e6e6e"/><stop offset=".91" stop-color="#6f6f6f"/><stop offset=".93" stop-color="#777"/><stop offset=".95" stop-color="#686868"/><stop offset=".97" stop-color="#aaa"/><stop offset=".99" stop-color="#c1c1c1"/><stop offset="1" stop-color="#a2a2a2"/></linearGradient><path fill="url(#n433)" stroke="url(#n433)" d="M396.4 182.1l1.4 6.9 1.5 3.3 1.5-.9 1.4 12.4 1.5-8.3 1.5 6.1 1.4 1 1.5 9.3 1.4-9.2 1.5 6.4 1.5 .6 1.4-2.5 1.5 3.1 1.5-6.5 1.4 .3 1.5 6.4 1.5 1.6 1.4-2.4 1.5-7.4 1.5 8 1.4-2.7 1.5 3.2 1.4-3.8 1.5-6 1.5 6.2 1.4 4.3 1.5-7.6 1.5-2.4 1.4 4.9 1.5 2.5 1.5-3.6 1.4-5.5 1.5 3.3 1.4 4.8 1.5-8.8 1.5 4.5 1.4-4.3 1.5 .5 1.5 1.6 1.4-3.7 1.5 0 1.5-5 1.4 2.7 1.5-12.5 1.5-.7 1.4-1.8 1.5 2.3 1.4-12.3 1.5-4.6 1.5 5.4-1.2-9.6-1.4 8.1-1.5 4-1.5 1.5-1.4 4.7-1.5 3.1-1.4 .2-1.5 1.9-1.5 7.4-1.4 2.9-1.5-4-1.5 11.5-1.4-4.9-1.5 3.7-1.5 4.3-1.4-2.8-1.5-3.4-1.5 7.5-1.4-7.5-1.5 6-1.4-7.3-1.5 .6-1.5 10.9-1.4-5.5-1.5-2.6-1.5 9.2-1.4-4.4-1.5 4-1.5-9.5-1.4 1.7-1.5 7.8-1.4-6.3-1.5 4.2-1.5-2.6-1.4 2.2-1.5-4.8-1.5 9.8-1.4-3.9-1.5-.3-1.5 .1-1.4-1.6-1.5-1-1.5-5.3-1.4 .2-1.5 2.3-1.4-3.2-1.5-7.7-1.5-.4-1.4 2.9-1.5-1.7-1.5-5.6z"/><linearGradient id="n434" href="#u" x1="396.9" x2="470.1"><stop offset=".01" stop-color="#bcbcbc"/><stop offset=".03" stop-color="#9a9a9a"/><stop offset=".05" stop-color="#9c9c9c"/><stop offset=".07" stop-color="#8d8d8d"/><stop offset=".09" stop-color="#6e6e6e"/><stop offset=".11" stop-color="#666"/><stop offset=".13" stop-color="#646464"/><stop offset=".15" stop-color="#393939"/><stop offset=".17" stop-color="#505050"/><stop offset=".19" stop-color="#303030"/><stop offset=".21" stop-color="#474747"/><stop offset=".23" stop-color="#353535"/><stop offset=".25" stop-color="#2a2a2a"/><stop offset=".27" stop-color="#3f3f3f"/><stop offset=".29" stop-color="#1d1d1d"/><stop offset=".31" stop-color="#080808"/><stop offset=".33" stop-color="#1b1b1b"/><stop offset=".35" stop-color="#101010"/><stop offset=".37" stop-color="#363636"/><stop offset=".39" stop-color="#020202"/><stop offset=".41" stop-color="#1f1f1f"/><stop offset=".43" stop-color="#1a1a1a"/><stop offset=".45" stop-color="#000"/><stop offset=".47" stop-color="#232323"/><stop offset=".49" stop-color="#1b1b1b"/><stop offset=".51" stop-color="#121212"/><stop offset=".53" stop-color="#343434"/><stop offset=".55" stop-color="#000"/><stop offset=".57" stop-color="#1f1f1f"/><stop offset=".59" stop-color="#090909"/><stop offset=".61" stop-color="#161616"/><stop offset=".63" stop-color="#0e0e0e"/><stop offset=".65" stop-color="#232323"/><stop offset=".67" stop-color="#323232"/><stop offset=".69" stop-color="#000"/><stop offset=".71" stop-color="#191919"/><stop offset=".73" stop-color="#2c2c2c"/><stop offset=".75" stop-color="#111"/><stop offset=".77" stop-color="#171717"/><stop offset=".79" stop-color="#444"/><stop offset=".81" stop-color="#121212"/><stop offset=".83" stop-color="#383838"/><stop offset=".85" stop-color="#474747"/><stop offset=".87" stop-color="#4d4d4d"/><stop offset=".89" stop-color="#313131"/><stop offset=".91" stop-color="#787878"/><stop offset=".93" stop-color="#494949"/><stop offset=".95" stop-color="#5a5a5a"/><stop offset=".97" stop-color="#909090"/><stop offset=".99" stop-color="#868686"/><stop offset="1" stop-color="#afafaf"/></linearGradient><path fill="url(#n434)" stroke="url(#n434)" d="M397.5 185.8l1.5 5.9 1.4-.8 1.5 2.4 1.5 5.2 1.4 1.1 1.5 0 1.5 7.4 1.4-4.4 1.5 5.3 1.4-4.5 1.5 2.9 1.5 1.6 1.4-4.1 1.5 5.7 1.5 3.5 1.4-3.9 1.5 1.7 1.5-7.4 1.4 9.2 1.5-5.7 1.5 .5 1.4 4.8 1.5-7.2 1.4 1 1.5 1.3 1.5-6.5 1.4 9.7 1.5-6.7 1.5 3.7 1.4-2.8 1.5 1.1 1.5-4.3 1.4-3 1.5 9.2 1.4-5.4 1.5-3.9 1.5 4.5 1.4-1.5 1.5-8.4 1.5 8.7 1.4-7.3 1.5-3.1 1.5-1.6 1.4 4.8 1.5-13.3 1.5 8.2 1.4-3.6 1.5-10.1 1.4 1.4 1.5-7.9-1.1 2-1.5-5.4-1.5 4.6-1.4 12.3-1.5-2.3-1.4 1.8-1.5 .7-1.5 12.5-1.4-2.7-1.5 5-1.5 0-1.4 3.7-1.5-1.6-1.5-.5-1.4 4.3-1.5-4.5-1.5 8.8-1.4-4.8-1.5-3.3-1.4 5.5-1.5 3.6-1.5-2.5-1.4-4.9-1.5 2.4-1.5 7.6-1.4-4.3-1.5-6.2-1.5 6-1.4 3.8-1.5-3.2-1.4 2.7-1.5-8-1.5 7.4-1.4 2.4-1.5-1.6-1.5-6.4-1.4-.3-1.5 6.5-1.5-3.1-1.4 2.5-1.5-.6-1.5-6.4-1.4 9.2-1.5-9.3-1.4-1-1.5-6.1-1.5 8.3-1.4-12.4-1.5 .9-1.5-3.3-1.4-6.9z"/><linearGradient id="n435" href="#u" x1="398.1" x2="471.3"><stop offset=".01" stop-color="#b7b7b7"/><stop offset=".03" stop-color="#b0b0b0"/><stop offset=".05" stop-color="#6f6f6f"/><stop offset=".07" stop-color="#676767"/><stop offset=".09" stop-color="#757575"/><stop offset=".11" stop-color="#676767"/><stop offset=".13" stop-color="#525252"/><stop offset=".15" stop-color="#333"/><stop offset=".17" stop-color="#272727"/><stop offset=".19" stop-color="#343434"/><stop offset=".21" stop-color="#1c1c1c"/><stop offset=".23" stop-color="#363636"/><stop offset=".25" stop-color="#343434"/><stop offset=".27" stop-color="#2d2d2d"/><stop offset=".29" stop-color="#252525"/><stop offset=".31" stop-color="#343434"/><stop offset=".33" stop-color="#1c1c1c"/><stop offset=".35" stop-color="#0a0a0a"/><stop offset=".37" stop-color="#060606"/><stop offset=".39" stop-color="#000"/><stop offset=".41" stop-color="#1e1e1e"/><stop offset=".43" stop-color="#282828"/><stop offset=".45" stop-color="#1e1e1e"/><stop offset=".47" stop-color="#000"/><stop offset=".49" stop-color="#242424"/><stop offset=".51" stop-color="#262626"/><stop offset=".53" stop-color="#0e0e0e"/><stop offset=".55" stop-color="#191919"/><stop offset=".57" stop-color="#000"/><stop offset=".59" stop-color="#1d1d1d"/><stop offset=".61" stop-color="#000"/><stop offset=".63" stop-color="#0d0d0d"/><stop offset=".65" stop-color="#2c2c2c"/><stop offset=".67" stop-color="#202020"/><stop offset=".69" stop-color="#111"/><stop offset=".71" stop-color="#363636"/><stop offset=".73" stop-color="#252525"/><stop offset=".75" stop-color="#3b3b3b"/><stop offset=".77" stop-color="#222"/><stop offset=".79" stop-color="#313131"/><stop offset=".81" stop-color="#353535"/><stop offset=".83" stop-color="#141414"/><stop offset=".85" stop-color="#222"/><stop offset=".87" stop-color="#2a2a2a"/><stop offset=".89" stop-color="#3a3a3a"/><stop offset=".91" stop-color="#7a7a7a"/><stop offset=".93" stop-color="#737373"/><stop offset=".95" stop-color="#878787"/><stop offset=".97" stop-color="#a8a8a8"/><stop offset=".99" stop-color="#8d8d8d"/><stop offset="1" stop-color="#cbcbcb"/></linearGradient><path fill="url(#n435)" stroke="url(#n435)" d="M398.6 187.3l1.5 .9 1.5 11.4 1.4 1.1 1.5-3 1.5 2.2 1.4 3.5 1.5 5.3 1.5 1.7 1.4-2.7 1.5 4 1.4-5.1 1.5 0 1.5 .8 1.4 1.2 1.5-3.2 1.5 3.9 1.4 3.1 1.5 .3 1.5 1.3 1.4-6.5 1.5-2.1 1.5 1.5 1.4 5.3 1.5-7.2 1.4-.8 1.5 4.1 1.5-2.6 1.4 5.3 1.5-6.7 1.5 6.6 1.4-4.4 1.5-6 1.5 1.7 1.4 2.4 1.5-7.1 1.4 2.7 1.5-4.4 1.5 4.3 1.4-3.2 1.5-1.1 1.5 5.5 1.4-2.8 1.5-1.8 1.5-3.4 1.4-12 1.5 .8 1.5-4 1.4-6.3 1.5 4.5 1.4-11.8-1.1 4.7-1.5 7.9-1.4-1.4-1.5 10.1-1.4 3.6-1.5-8.2-1.5 13.3-1.4-4.8-1.5 1.6-1.5 3.1-1.4 7.3-1.5-8.7-1.5 8.4-1.4 1.5-1.5-4.5-1.5 3.9-1.4 5.4-1.5-9.2-1.4 3-1.5 4.3-1.5-1.1-1.4 2.8-1.5-3.7-1.5 6.7-1.4-9.7-1.5 6.5-1.5-1.3-1.4-1-1.5 7.2-1.4-4.8-1.5-.5-1.5 5.7-1.4-9.2-1.5 7.4-1.5-1.7-1.4 3.9-1.5-3.5-1.5-5.7-1.4 4.1-1.5-1.6-1.5-2.9-1.4 4.5-1.5-5.3-1.4 4.4-1.5-7.4-1.5 0-1.4-1.1-1.5-5.2-1.5-2.4-1.4 .8-1.5-5.9z"/><linearGradient id="n436" href="#u" x1="399.2" x2="472.4"><stop offset=".01" stop-color="#c4c4c4"/><stop offset=".03" stop-color="#b2b2b2"/><stop offset=".05" stop-color="#8b8b8b"/><stop offset=".07" stop-color="#787878"/><stop offset=".09" stop-color="#5e5e5e"/><stop offset=".11" stop-color="#787878"/><stop offset=".13" stop-color="#6e6e6e"/><stop offset=".15" stop-color="#4c4c4c"/><stop offset=".17" stop-color="#505050"/><stop offset=".19" stop-color="#2a2a2a"/><stop offset=".21" stop-color="#313131"/><stop offset=".23" stop-color="#1e1e1e"/><stop offset=".25" stop-color="#404040"/><stop offset=".27" stop-color="#262626"/><stop offset=".29" stop-color="#363636"/><stop offset=".31" stop-color="#222"/><stop offset=".33" stop-color="#000"/><stop offset=".35" stop-color="#0b0b0b"/><stop offset=".37" stop-color="#1d1d1d"/><stop offset=".39" stop-color="#323232"/><stop offset=".41" stop-color="#212121"/><stop offset=".43" stop-color="#0d0d0d"/><stop offset=".45" stop-color="#212121"/><stop offset=".47" stop-color="#1f1f1f"/><stop offset=".49" stop-color="#353535"/><stop offset=".51" stop-color="#1d1d1d"/><stop offset=".53" stop-color="#000"/><stop offset=".55" stop-color="#363636"/><stop offset=".57" stop-color="#000"/><stop offset=".59" stop-color="#0d0d0d"/><stop offset=".61" stop-color="#353535"/><stop offset=".63" stop-color="#222"/><stop offset=".65" stop-color="#232323"/><stop offset=".67" stop-color="#141414"/><stop offset=".69" stop-color="#131313"/><stop offset=".71" stop-color="#0e0e0e"/><stop offset=".73" stop-color="#2e2e2e"/><stop offset=".75" stop-color="#161616"/><stop offset=".77" stop-color="#0a0a0a"/><stop offset=".79" stop-color="#131313"/><stop offset=".81" stop-color="#141414"/><stop offset=".83" stop-color="#4c4c4c"/><stop offset=".85" stop-color="#2a2a2a"/><stop offset=".87" stop-color="#313131"/><stop offset=".89" stop-color="#575757"/><stop offset=".91" stop-color="#4d4d4d"/><stop offset=".93" stop-color="#7c7c7c"/><stop offset=".95" stop-color="#858585"/><stop offset=".97" stop-color="#929292"/><stop offset=".99" stop-color="#a1a1a1"/><stop offset="1" stop-color="#b3b3b3"/></linearGradient><path fill="url(#n436)" stroke="url(#n436)" d="M399.8 185.3l1.4 2.9 1.5 6.7 1.5 3.2 1.4 4.4 1.5-5.1 1.5 1.4 1.4 5.8 1.5-1.2 1.5 6.7 1.4-1.8 1.5 3.2 1.4-6.6 1.5 4.3 1.5-3.3 1.4 3.3 1.5 6.3 1.5-2.9 1.4-3.7 1.5-4.2 1.5 2.8 1.4 3.3 1.5-4 1.5-.1 1.4-4.4 1.5 4 1.4 6.8 1.5-12.2 1.5 9.8 1.4-3 1.5-7.7 1.5 3.1 1.4-.6 1.5 2.5 1.5-.2 1.4 .5 1.5-6.2 1.4 3.9 1.5 1.9 1.5-2.1 1.4-.6 1.5-10.5 1.5 5.8 1.4-1.6 1.5-7.4 1.5 1.6 1.4-9.1 1.5-2 1.5-2.7 1.4-3.1 1.5-3.7-1.2-5-1.4 11.8-1.5-4.5-1.4 6.3-1.5 4-1.5-.8-1.4 12-1.5 3.4-1.5 1.8-1.4 2.8-1.5-5.5-1.5 1.1-1.4 3.2-1.5-4.3-1.5 4.4-1.4-2.7-1.5 7.1-1.4-2.4-1.5-1.7-1.5 6-1.4 4.4-1.5-6.6-1.5 6.7-1.4-5.3-1.5 2.6-1.5-4.1-1.4 .8-1.5 7.2-1.4-5.3-1.5-1.5-1.5 2.1-1.4 6.5-1.5-1.3-1.5-.3-1.4-3.1-1.5-3.9-1.5 3.2-1.4-1.2-1.5-.8-1.5 0-1.4 5.1-1.5-4-1.4 2.7-1.5-1.7-1.5-5.3-1.4-3.5-1.5-2.2-1.5 3-1.4-1.1-1.5-11.4-1.5-.9z"/><linearGradient id="n437" href="#u" x1="400.3" x2="473.5"><stop offset=".01" stop-color="#d5d5d5"/><stop offset=".03" stop-color="#9b9b9b"/><stop offset=".05" stop-color="#737373"/><stop offset=".07" stop-color="#818181"/><stop offset=".09" stop-color="#676767"/><stop offset=".11" stop-color="#464646"/><stop offset=".13" stop-color="#696969"/><stop offset=".15" stop-color="#414141"/><stop offset=".17" stop-color="#5a5a5a"/><stop offset=".19" stop-color="#242424"/><stop offset=".21" stop-color="#0f0f0f"/><stop offset=".23" stop-color="#414141"/><stop offset=".25" stop-color="#151515"/><stop offset=".27" stop-color="#3b3b3b"/><stop offset=".29" stop-color="#1c1c1c"/><stop offset=".31" stop-color="#272727"/><stop offset=".33" stop-color="#000"/><stop offset=".35" stop-color="#090909"/><stop offset=".37" stop-color="#232323"/><stop offset=".39" stop-color="#353535"/><stop offset=".41" stop-color="#2c2c2c"/><stop offset=".43" stop-color="#313131"/><stop offset=".45" stop-color="#292929"/><stop offset=".47" stop-color="#363636"/><stop offset=".49" stop-color="#050505"/><stop offset=".51" stop-color="#000"/><stop offset=".53" stop-color="#050505"/><stop offset=".55" stop-color="#1c1c1c"/><stop offset=".57" stop-color="#0e0e0e"/><stop offset=".59" stop-color="#000"/><stop offset=".61" stop-color="#000"/><stop offset=".63" stop-color="#090909"/><stop offset=".65" stop-color="#0d0d0d"/><stop offset=".67" stop-color="#0c0c0c"/><stop offset=".69" stop-color="#1e1e1e"/><stop offset=".71" stop-color="#252525"/><stop offset=".73" stop-color="#333"/><stop offset=".75" stop-color="#171717"/><stop offset=".77" stop-color="#3f3f3f"/><stop offset=".79" stop-color="#1f1f1f"/><stop offset=".81" stop-color="#272727"/><stop offset=".83" stop-color="#2c2c2c"/><stop offset=".85" stop-color="#4b4b4b"/><stop offset=".87" stop-color="#525252"/><stop offset=".89" stop-color="#484848"/><stop offset=".91" stop-color="#505050"/><stop offset=".93" stop-color="#4d4d4d"/><stop offset=".95" stop-color="#696969"/><stop offset=".97" stop-color="#707070"/><stop offset=".99" stop-color="#979797"/><stop offset="1" stop-color="#a7a7a7"/></linearGradient><path fill="url(#n437)" stroke="url(#n437)" d="M400.9 182.7l1.5 10.3 1.4 7 1.5-3.1 1.5 4.4 1.4 5.7 1.5-6.7 1.5 6.8 1.4-4.9 1.5 9.5 1.5 3.4 1.4-9.6 1.5 7.7 1.4-7.3 1.5 5.4 1.5-2.6 1.4 6.9 1.5-2 1.5-5.2 1.4-3.6 1.5 1.2 1.5-1.3 1.4 1.2 1.5-2.8 1.5 8.5 1.4 1 1.5-1.8 1.4-4.5 1.5 2.1 1.5 3.7 1.4-1.5 1.5-2.3 1.5-1.1 1.4-.3 1.5-3.6 1.5-1.7 1.4-3 1.5 4.7 1.4-7.7 1.5 5.6 1.5-1.8 1.4-1.4 1.5-6 1.5-1.7 1.4 1.4 1.5-1.7 1.5 .1 1.4-5.5 1.5-1.7 1.5-7.5 1.4-3.1-1.1-2.8-1.5 3.7-1.4 3.1-1.5 2.7-1.5 2-1.4 9.1-1.5-1.6-1.5 7.4-1.4 1.6-1.5-5.8-1.5 10.5-1.4 .6-1.5 2.1-1.5-1.9-1.4-3.9-1.5 6.2-1.4-.5-1.5 .2-1.5-2.5-1.4 .6-1.5-3.1-1.5 7.7-1.4 3-1.5-9.8-1.5 12.2-1.4-6.8-1.5-4-1.4 4.4-1.5 .1-1.5 4-1.4-3.3-1.5-2.8-1.5 4.2-1.4 3.7-1.5 2.9-1.5-6.3-1.4-3.3-1.5 3.3-1.5-4.3-1.4 6.6-1.5-3.2-1.4 1.8-1.5-6.7-1.5 1.2-1.4-5.8-1.5-1.4-1.5 5.1-1.4-4.4-1.5-3.2-1.5-6.7-1.4-2.9z"/><linearGradient id="n438" href="#u" x1="401.5" x2="474.7"><stop offset=".01" stop-color="#adadad"/><stop offset=".03" stop-color="#969696"/><stop offset=".05" stop-color="#a3a3a3"/><stop offset=".07" stop-color="#5f5f5f"/><stop offset=".09" stop-color="#868686"/><stop offset=".11" stop-color="#555"/><stop offset=".13" stop-color="#636363"/><stop offset=".15" stop-color="#585858"/><stop offset=".17" stop-color="#464646"/><stop offset=".19" stop-color="#151515"/><stop offset=".21" stop-color="#363636"/><stop offset=".23" stop-color="#232323"/><stop offset=".25" stop-color="#161616"/><stop offset=".27" stop-color="#212121"/><stop offset=".29" stop-color="#282828"/><stop offset=".31" stop-color="#141414"/><stop offset=".33" stop-color="#131313"/><stop offset=".35" stop-color="#060606"/><stop offset=".37" stop-color="#020202"/><stop offset=".39" stop-color="#1f1f1f"/><stop offset=".41" stop-color="#363636"/><stop offset=".43" stop-color="#000"/><stop offset=".45" stop-color="#212121"/><stop offset=".47" stop-color="#1d1d1d"/><stop offset=".49" stop-color="#272727"/><stop offset=".51" stop-color="#0b0b0b"/><stop offset=".53" stop-color="#070707"/><stop offset=".55" stop-color="#090909"/><stop offset=".57" stop-color="#2d2d2d"/><stop offset=".59" stop-color="#2e2e2e"/><stop offset=".61" stop-color="#2c2c2c"/><stop offset=".63" stop-color="#090909"/><stop offset=".65" stop-color="#101010"/><stop offset=".67" stop-color="#0b0b0b"/><stop offset=".69" stop-color="#262626"/><stop offset=".71" stop-color="#090909"/><stop offset=".73" stop-color="#2d2d2d"/><stop offset=".75" stop-color="#333"/><stop offset=".77" stop-color="#252525"/><stop offset=".79" stop-color="#111"/><stop offset=".81" stop-color="#1c1c1c"/><stop offset=".83" stop-color="#373737"/><stop offset=".85" stop-color="#494949"/><stop offset=".87" stop-color="#2f2f2f"/><stop offset=".89" stop-color="#575757"/><stop offset=".91" stop-color="#757575"/><stop offset=".93" stop-color="#787878"/><stop offset=".95" stop-color="#939393"/><stop offset=".97" stop-color="#ababab"/><stop offset=".99" stop-color="#949494"/><stop offset="1" stop-color="#a8a8a8"/></linearGradient><path fill="url(#n438)" stroke="url(#n438)" d="M402.1 190.6l1.4 3.7 1.5-2.7 1.4 12.1 1.5-7.5 1.5 8.6 1.4-3 1.5 1.6 1.5 3 1.4 8.5 1.5-6.4 1.5 3 1.4 2 1.5-2.3 1.4-1.6 1.5 3.3 1.5-.4 1.4 2.1 1.5 .4 1.5-5.8 1.4-4.5 1.5 10.1 1.5-7 1.4 .3 1.5-2.2 1.5 4.8 1.4 .3 1.5-.7 1.4-7 1.5-.5 1.5 0 1.4 6 1.5-1.7 1.5 .6 1.4-5.4 1.5 4.8 1.5-6.8 1.4-1.5 1.5 2.2 1.4 3.1 1.5-2.3 1.5-5.2 1.4-3.8 1.5 4.4 1.5-7.7 1.4-5.8 1.5-.9 1.5-5.3 1.4-4.7 1.5 3.8 1.5-4.1-1.2-.2-1.4 3.1-1.5 7.5-1.5 1.7-1.4 5.5-1.5-.1-1.5 1.7-1.4-1.4-1.5 1.7-1.5 6-1.4 1.4-1.5 1.8-1.5-5.6-1.4 7.7-1.5-4.7-1.4 3-1.5 1.7-1.5 3.6-1.4 .3-1.5 1.1-1.5 2.3-1.4 1.5-1.5-3.7-1.5-2.1-1.4 4.5-1.5 1.8-1.4-1-1.5-8.5-1.5 2.8-1.4-1.2-1.5 1.3-1.5-1.2-1.4 3.6-1.5 5.2-1.5 2-1.4-6.9-1.5 2.6-1.5-5.4-1.4 7.3-1.5-7.7-1.4 9.6-1.5-3.4-1.5-9.5-1.4 4.9-1.5-6.8-1.5 6.7-1.4-5.7-1.5-4.4-1.5 3.1-1.4-7-1.5-10.3z"/><linearGradient id="n439" href="#u" x1="402.6" x2="475.8"><stop offset=".01" stop-color="#bbb"/><stop offset=".03" stop-color="#b8b8b8"/><stop offset=".05" stop-color="#979797"/><stop offset=".07" stop-color="#6d6d6d"/><stop offset=".09" stop-color="#666"/><stop offset=".11" stop-color="#636363"/><stop offset=".13" stop-color="#474747"/><stop offset=".15" stop-color="#2f2f2f"/><stop offset=".17" stop-color="#282828"/><stop offset=".19" stop-color="#434343"/><stop offset=".21" stop-color="#191919"/><stop offset=".23" stop-color="#131313"/><stop offset=".25" stop-color="#151515"/><stop offset=".27" stop-color="#404040"/><stop offset=".29" stop-color="#3e3e3e"/><stop offset=".31" stop-color="#1a1a1a"/><stop offset=".33" stop-color="#070707"/><stop offset=".35" stop-color="#151515"/><stop offset=".37" stop-color="#313131"/><stop offset=".39" stop-color="#1d1d1d"/><stop offset=".41" stop-color="#323232"/><stop offset=".43" stop-color="#303030"/><stop offset=".45" stop-color="#2c2c2c"/><stop offset=".47" stop-color="#303030"/><stop offset=".49" stop-color="#181818"/><stop offset=".51" stop-color="#010101"/><stop offset=".53" stop-color="#292929"/><stop offset=".55" stop-color="#373737"/><stop offset=".57" stop-color="#222"/><stop offset=".59" stop-color="#070707"/><stop offset=".61" stop-color="#343434"/><stop offset=".63" stop-color="#343434"/><stop offset=".65" stop-color="#343434"/><stop offset=".67" stop-color="#242424"/><stop offset=".69" stop-color="#373737"/><stop offset=".71" stop-color="#0a0a0a"/><stop offset=".73" stop-color="#222"/><stop offset=".75" stop-color="#404040"/><stop offset=".77" stop-color="#444"/><stop offset=".79" stop-color="#3b3b3b"/><stop offset=".81" stop-color="#323232"/><stop offset=".83" stop-color="#3b3b3b"/><stop offset=".85" stop-color="#333"/><stop offset=".87" stop-color="#313131"/><stop offset=".89" stop-color="#686868"/><stop offset=".91" stop-color="#606060"/><stop offset=".93" stop-color="#606060"/><stop offset=".95" stop-color="#6e6e6e"/><stop offset=".97" stop-color="#777"/><stop offset=".99" stop-color="#8e8e8e"/><stop offset="1" stop-color="#c7c7c7"/></linearGradient><path fill="url(#n439)" stroke="url(#n439)" d="M403.2 188.5l1.5 .1 1.4 5.7 1.5 7.3 1.4 .9 1.5 .3 1.5 4.5 1.4 4 1.5 1 1.5-5.2 1.4 7.1 1.5 .9 1.5-.9 1.4-8.2 1.5 .1 1.4 6.1 1.5 3 1.5-2.9 1.4-5.5 1.5 3.4 1.5-4.2 1.4-.1 1.5 .4 1.5-1.2 1.4 4.1 1.5 3.7 1.5-7.7 1.4-2.9 1.5 3.5 1.4 4.6 1.5-8.5 1.5-.4 1.4-.5 1.5 2.6 1.5-3.8 1.4 7.8 1.5-4.9 1.5-5.8 1.4-1 1.5 1.2 1.4 1.2 1.5-2 1.5 1.1 1.4 0 1.5-10.4 1.5 1 1.4-.3 1.5-3 1.5-2.1 1.4-4.5 1.5-10.7-1.1 5.1-1.5 4.1-1.5-3.8-1.4 4.7-1.5 5.3-1.5 .9-1.4 5.8-1.5 7.7-1.5-4.4-1.4 3.8-1.5 5.2-1.5 2.3-1.4-3.1-1.5-2.2-1.4 1.5-1.5 6.8-1.5-4.8-1.4 5.4-1.5-.6-1.5 1.7-1.4-6-1.5 0-1.5 .5-1.4 7-1.5 .7-1.4-.3-1.5-4.8-1.5 2.2-1.4-.3-1.5 7-1.5-10.1-1.4 4.5-1.5 5.8-1.5-.4-1.4-2.1-1.5 .4-1.5-3.3-1.4 1.6-1.5 2.3-1.4-2-1.5-3-1.5 6.4-1.4-8.5-1.5-3-1.5-1.6-1.4 3-1.5-8.6-1.5 7.5-1.4-12.1-1.5 2.7-1.4-3.7z"/><linearGradient id="n440" href="#u" x1="403.8" x2="477"><stop offset=".01" stop-color="#aeaeae"/><stop offset=".03" stop-color="#aaa"/><stop offset=".05" stop-color="#a7a7a7"/><stop offset=".07" stop-color="#808080"/><stop offset=".09" stop-color="#606060"/><stop offset=".11" stop-color="#727272"/><stop offset=".13" stop-color="#505050"/><stop offset=".15" stop-color="#4c4c4c"/><stop offset=".17" stop-color="#4c4c4c"/><stop offset=".19" stop-color="#252525"/><stop offset=".21" stop-color="#393939"/><stop offset=".23" stop-color="#181818"/><stop offset=".25" stop-color="#2e2e2e"/><stop offset=".27" stop-color="#101010"/><stop offset=".29" stop-color="#313131"/><stop offset=".31" stop-color="#121212"/><stop offset=".33" stop-color="#393939"/><stop offset=".35" stop-color="#040404"/><stop offset=".37" stop-color="#272727"/><stop offset=".39" stop-color="#2f2f2f"/><stop offset=".41" stop-color="#303030"/><stop offset=".43" stop-color="#191919"/><stop offset=".45" stop-color="#1b1b1b"/><stop offset=".47" stop-color="#0a0a0a"/><stop offset=".49" stop-color="#2f2f2f"/><stop offset=".51" stop-color="#292929"/><stop offset=".53" stop-color="#181818"/><stop offset=".55" stop-color="#181818"/><stop offset=".57" stop-color="#333"/><stop offset=".59" stop-color="#1c1c1c"/><stop offset=".61" stop-color="#000"/><stop offset=".63" stop-color="#000"/><stop offset=".65" stop-color="#2a2a2a"/><stop offset=".67" stop-color="#1b1b1b"/><stop offset=".69" stop-color="#1e1e1e"/><stop offset=".71" stop-color="#171717"/><stop offset=".73" stop-color="#000"/><stop offset=".75" stop-color="#343434"/><stop offset=".77" stop-color="#1c1c1c"/><stop offset=".79" stop-color="#252525"/><stop offset=".81" stop-color="#292929"/><stop offset=".83" stop-color="#1b1b1b"/><stop offset=".85" stop-color="#595959"/><stop offset=".87" stop-color="#626262"/><stop offset=".89" stop-color="#2e2e2e"/><stop offset=".91" stop-color="#3e3e3e"/><stop offset=".93" stop-color="#626262"/><stop offset=".95" stop-color="#9a9a9a"/><stop offset=".97" stop-color="#8c8c8c"/><stop offset=".99" stop-color="#bfbfbf"/><stop offset="1" stop-color="#b2b2b2"/></linearGradient><path fill="url(#n440)" stroke="url(#n440)" d="M404.3 191.4l1.5 .4 1.5 .2 1.4 6.7 1.5 5.5 1.4-3.7 1.5 5.7 1.5 .5 1.4-.4 1.5 6.6 1.5-4 1.4 5.6 1.5-4.2 1.5 4.9 1.4-6.3 1.5 5.3 1.4-7.5 1.5 9.3 1.5-6.7 1.4-2 1.5-.6 1.5 3.9 1.4-.7 1.5 2.7 1.5-7.1 1.4 .7 1.5 2.6 1.5-.2 1.4-5.4 1.5 3.9 1.4 5.2 1.5-.6 1.5-8.4 1.4 2.4 1.5-.9 1.5 .8 1.4 4.2 1.5-10.2 1.5 4 1.4-2.1 1.5-1 1.4 2.1 1.5-11.7 1.5-2 1.4 9.1 1.5-3.2 1.5-7 1.4-10.6 1.5 2.1 1.5-9.6 1.4 2.1-1.1-4.4-1.5 10.7-1.4 4.5-1.5 2.1-1.5 3-1.4 .3-1.5-1-1.5 10.4-1.4 0-1.5-1.1-1.5 2-1.4-1.2-1.5-1.2-1.4 1-1.5 5.8-1.5 4.9-1.4-7.8-1.5 3.8-1.5-2.6-1.4 .5-1.5 .4-1.5 8.5-1.4-4.6-1.5-3.5-1.4 2.9-1.5 7.7-1.5-3.7-1.4-4.1-1.5 1.2-1.5-.4-1.4 .1-1.5 4.2-1.5-3.4-1.4 5.5-1.5 2.9-1.5-3-1.4-6.1-1.5-.1-1.4 8.2-1.5 .9-1.5-.9-1.4-7.1-1.5 5.2-1.5-1-1.4-4-1.5-4.5-1.5-.3-1.4-.9-1.5-7.3-1.4-5.7-1.5-.1z"/><linearGradient id="n441" href="#u" x1="404.9" x2="478.1"><stop offset=".01" stop-color="#d4d4d4"/><stop offset=".03" stop-color="#8a8a8a"/><stop offset=".05" stop-color="#929292"/><stop offset=".07" stop-color="#848484"/><stop offset=".09" stop-color="#868686"/><stop offset=".11" stop-color="#3d3d3d"/><stop offset=".13" stop-color="#505050"/><stop offset=".15" stop-color="#545454"/><stop offset=".17" stop-color="#464646"/><stop offset=".19" stop-color="#4c4c4c"/><stop offset=".21" stop-color="#383838"/><stop offset=".23" stop-color="#313131"/><stop offset=".25" stop-color="#2c2c2c"/><stop offset=".27" stop-color="#0b0b0b"/><stop offset=".29" stop-color="#363636"/><stop offset=".31" stop-color="#1e1e1e"/><stop offset=".33" stop-color="#000"/><stop offset=".35" stop-color="#2f2f2f"/><stop offset=".37" stop-color="#262626"/><stop offset=".39" stop-color="#232323"/><stop offset=".41" stop-color="#000"/><stop offset=".43" stop-color="#262626"/><stop offset=".45" stop-color="#0e0e0e"/><stop offset=".47" stop-color="#2d2d2d"/><stop offset=".49" stop-color="#020202"/><stop offset=".51" stop-color="#0d0d0d"/><stop offset=".53" stop-color="#000"/><stop offset=".55" stop-color="#000"/><stop offset=".57" stop-color="#0d0d0d"/><stop offset=".59" stop-color="#262626"/><stop offset=".61" stop-color="#131313"/><stop offset=".63" stop-color="#0c0c0c"/><stop offset=".65" stop-color="#363636"/><stop offset=".67" stop-color="#292929"/><stop offset=".69" stop-color="#3a3a3a"/><stop offset=".71" stop-color="#101010"/><stop offset=".73" stop-color="#0a0a0a"/><stop offset=".75" stop-color="#404040"/><stop offset=".77" stop-color="#090909"/><stop offset=".79" stop-color="#3b3b3b"/><stop offset=".81" stop-color="#4b4b4b"/><stop offset=".83" stop-color="#424242"/><stop offset=".85" stop-color="#404040"/><stop offset=".87" stop-color="#3c3c3c"/><stop offset=".89" stop-color="#424242"/><stop offset=".91" stop-color="#3f3f3f"/><stop offset=".93" stop-color="#626262"/><stop offset=".95" stop-color="#7b7b7b"/><stop offset=".97" stop-color="#7e7e7e"/><stop offset=".99" stop-color="#c3c3c3"/><stop offset="1" stop-color="#dedede"/></linearGradient><path fill="url(#n441)" stroke="url(#n441)" d="M405.5 184.9l1.4 13.2 1.5-1.8 1.5 2.2 1.4-.8 1.5 12.9 1.4-3.8 1.5-1.1 1.5 2.2 1.4-1.5 1.5 3.3 1.5 .8 1.4 .7 1.5 5.5 1.5-8.2 1.4 4.1 1.5 5.8 1.4-9.8 1.5 1.3 1.5 .1 1.4 7 1.5-8.2 1.5 4 1.4-6.1 1.5 7.5 1.5-2.5 1.4 2.4 1.5 .6 1.5-4 1.4-4.9 1.5 2.9 1.4 1.1 1.5-8.2 1.5 2.1 1.4-3.6 1.5 7.4 1.5 .6 1.4-10.1 1.5 9.6 1.5-9.6 1.4-3.2 1.5 1.2 1.4 0 1.5 .4 1.5-1.4 1.4 0 1.5-6.7 1.5-5 1.4-.8 1.5-13 1.5-5.3-1.2 7.6-1.4-2.1-1.5 9.6-1.5-2.1-1.4 10.6-1.5 7-1.5 3.2-1.4-9.1-1.5 2-1.5 11.7-1.4-2.1-1.5 1-1.4 2.1-1.5-4-1.5 10.2-1.4-4.2-1.5-.8-1.5 .9-1.4-2.4-1.5 8.4-1.5 .6-1.4-5.2-1.5-3.9-1.4 5.4-1.5 .2-1.5-2.6-1.4-.7-1.5 7.1-1.5-2.7-1.4 .7-1.5-3.9-1.5 .6-1.4 2-1.5 6.7-1.5-9.3-1.4 7.5-1.5-5.3-1.4 6.3-1.5-4.9-1.5 4.2-1.4-5.6-1.5 4-1.5-6.6-1.4 .4-1.5-.5-1.5-5.7-1.4 3.7-1.5-5.5-1.4-6.7-1.5-.2-1.5-.4z"/><linearGradient id="n442" href="#u" x1="406" x2="479.2"><stop offset=".01" stop-color="#c3c3c3"/><stop offset=".03" stop-color="#c1c1c1"/><stop offset=".05" stop-color="#a9a9a9"/><stop offset=".07" stop-color="#717171"/><stop offset=".09" stop-color="#757575"/><stop offset=".11" stop-color="#494949"/><stop offset=".13" stop-color="#474747"/><stop offset=".15" stop-color="#525252"/><stop offset=".17" stop-color="#414141"/><stop offset=".19" stop-color="#1a1a1a"/><stop offset=".21" stop-color="#131313"/><stop offset=".23" stop-color="#3b3b3b"/><stop offset=".25" stop-color="#333"/><stop offset=".27" stop-color="#2c2c2c"/><stop offset=".29" stop-color="#0d0d0d"/><stop offset=".31" stop-color="#303030"/><stop offset=".33" stop-color="#212121"/><stop offset=".35" stop-color="#040404"/><stop offset=".37" stop-color="#040404"/><stop offset=".39" stop-color="#222"/><stop offset=".41" stop-color="#393939"/><stop offset=".43" stop-color="#1f1f1f"/><stop offset=".45" stop-color="#0c0c0c"/><stop offset=".47" stop-color="#282828"/><stop offset=".49" stop-color="#060606"/><stop offset=".51" stop-color="#232323"/><stop offset=".53" stop-color="#141414"/><stop offset=".55" stop-color="#000"/><stop offset=".57" stop-color="#1a1a1a"/><stop offset=".59" stop-color="#1a1a1a"/><stop offset=".61" stop-color="#353535"/><stop offset=".63" stop-color="#282828"/><stop offset=".65" stop-color="#0d0d0d"/><stop offset=".67" stop-color="#252525"/><stop offset=".69" stop-color="#0c0c0c"/><stop offset=".71" stop-color="#282828"/><stop offset=".73" stop-color="#262626"/><stop offset=".75" stop-color="#2a2a2a"/><stop offset=".77" stop-color="#0f0f0f"/><stop offset=".79" stop-color="#373737"/><stop offset=".81" stop-color="#313131"/><stop offset=".83" stop-color="#454545"/><stop offset=".85" stop-color="#1f1f1f"/><stop offset=".87" stop-color="#555"/><stop offset=".89" stop-color="#6e6e6e"/><stop offset=".91" stop-color="#626262"/><stop offset=".93" stop-color="#545454"/><stop offset=".95" stop-color="#989898"/><stop offset=".97" stop-color="#939393"/><stop offset=".99" stop-color="#969696"/><stop offset="1" stop-color="#c6c6c6"/></linearGradient><path fill="url(#n442)" stroke="url(#n442)" d="M406.6 188.6l1.5 0 1.4 4 1.5 9.7 1.5-1 1.4 7.7 1.5-.1 1.4-2.3 1.5 2.7 1.5 6.8 1.4 .8 1.5-7.7 1.5 1.2 1.4 .8 1.5 5.3 1.5-6.8 1.4 2.3 1.5 5 1.4-.5 1.5-5.7 1.5-4.6 1.4 4.3 1.5 3.1 1.5-5.4 1.4 5.8 1.5-5.6 1.5 2.3 1.4 4.2 1.5-6.2 1.5-.3 1.4-5.2 1.5 1.9 1.4 4.5 1.5-4.6 1.5 4.1 1.4-5.5 1.5-.1 1.5-1 1.4 4.5 1.5-7.7 1.5 .7 1.4-4 1.5 6.6 1.4-10.2 1.5-5 1.5 1.7 1.4 2.4 1.5-12.9 1.5 .6 1.4-1.1 1.5-9-1.1-4.9-1.5 5.3-1.5 13-1.4 .8-1.5 5-1.5 6.7-1.4 0-1.5 1.4-1.5-.4-1.4 0-1.5-1.2-1.4 3.2-1.5 9.6-1.5-9.6-1.4 10.1-1.5-.6-1.5-7.4-1.4 3.6-1.5-2.1-1.5 8.2-1.4-1.1-1.5-2.9-1.4 4.9-1.5 4-1.5-.6-1.4-2.4-1.5 2.5-1.5-7.5-1.4 6.1-1.5-4-1.5 8.2-1.4-7-1.5-.1-1.5-1.3-1.4 9.8-1.5-5.8-1.4-4.1-1.5 8.2-1.5-5.5-1.4-.7-1.5-.8-1.5-3.3-1.4 1.5-1.5-2.2-1.5 1.1-1.4 3.8-1.5-12.9-1.4 .8-1.5-2.2-1.5 1.8-1.4-13.2z"/><linearGradient id="n443" href="#u" x1="407.2" x2="480.4"><stop offset=".01" stop-color="#9e9e9e"/><stop offset=".03" stop-color="#b0b0b0"/><stop offset=".05" stop-color="#919191"/><stop offset=".07" stop-color="#676767"/><stop offset=".09" stop-color="#767676"/><stop offset=".11" stop-color="#727272"/><stop offset=".13" stop-color="#636363"/><stop offset=".15" stop-color="#2b2b2b"/><stop offset=".17" stop-color="#515151"/><stop offset=".19" stop-color="#2c2c2c"/><stop offset=".21" stop-color="#474747"/><stop offset=".23" stop-color="#2f2f2f"/><stop offset=".25" stop-color="#0b0b0b"/><stop offset=".27" stop-color="#333"/><stop offset=".29" stop-color="#252525"/><stop offset=".31" stop-color="#1c1c1c"/><stop offset=".33" stop-color="#262626"/><stop offset=".35" stop-color="#191919"/><stop offset=".37" stop-color="#000"/><stop offset=".39" stop-color="#363636"/><stop offset=".41" stop-color="#0d0d0d"/><stop offset=".43" stop-color="#0c0c0c"/><stop offset=".45" stop-color="#000"/><stop offset=".47" stop-color="#292929"/><stop offset=".49" stop-color="#363636"/><stop offset=".51" stop-color="#181818"/><stop offset=".53" stop-color="#2f2f2f"/><stop offset=".55" stop-color="#0f0f0f"/><stop offset=".57" stop-color="#131313"/><stop offset=".59" stop-color="#0d0d0d"/><stop offset=".61" stop-color="#0d0d0d"/><stop offset=".63" stop-color="#1f1f1f"/><stop offset=".65" stop-color="#101010"/><stop offset=".67" stop-color="#000"/><stop offset=".69" stop-color="#2a2a2a"/><stop offset=".71" stop-color="#121212"/><stop offset=".73" stop-color="#1a1a1a"/><stop offset=".75" stop-color="#0f0f0f"/><stop offset=".77" stop-color="#090909"/><stop offset=".79" stop-color="#353535"/><stop offset=".81" stop-color="#2b2b2b"/><stop offset=".83" stop-color="#535353"/><stop offset=".85" stop-color="#1e1e1e"/><stop offset=".87" stop-color="#5c5c5c"/><stop offset=".89" stop-color="#323232"/><stop offset=".91" stop-color="#484848"/><stop offset=".93" stop-color="#4c4c4c"/><stop offset=".95" stop-color="#7e7e7e"/><stop offset=".97" stop-color="#878787"/><stop offset=".99" stop-color="#9a9a9a"/><stop offset="1" stop-color="#dedede"/></linearGradient><path fill="url(#n443)" stroke="url(#n443)" d="M407.7 195.8l1.5-3.6 1.5 5.3 1.4 7.3 1.5-3.1 1.5 .2 1.4 2.4 1.5 9.9 1.4-7.4 1.5 6.4 1.5-5.3 1.4 4.1 1.5 6.1 1.5-7.7 1.4 2.2 1.5 1.3 1.5-2.3 1.4 2.1 1.5 4.7 1.4-10.8 1.5 7.1 1.5-.2 1.4 2.4 1.5-8.4 1.5-2.7 1.4 5 1.5-4.6 1.5 5.4 1.4-1 1.5 .7 1.5-.5 1.4-3.6 1.5 2.4 1.4 2.6 1.5-8.1 1.5 4 1.4-1.8 1.5 1.6 1.5 .7 1.4-8.4 1.5 1.5 1.5-7.7 1.4 9.2 1.5-11.7 1.4 7.4 1.5-4.5 1.5-1.2 1.4-9.3 1.5-2.1 1.5-3.9 1.4-12.8-1.1 4-1.5 9-1.4 1.1-1.5-.6-1.5 12.9-1.4-2.4-1.5-1.7-1.5 5-1.4 10.2-1.5-6.6-1.4 4-1.5-.7-1.5 7.7-1.4-4.5-1.5 1-1.5 .1-1.4 5.5-1.5-4.1-1.5 4.6-1.4-4.5-1.5-1.9-1.4 5.2-1.5 .3-1.5 6.2-1.4-4.2-1.5-2.3-1.5 5.6-1.4-5.8-1.5 5.4-1.5-3.1-1.4-4.3-1.5 4.6-1.5 5.7-1.4 .5-1.5-5-1.4-2.3-1.5 6.8-1.5-5.3-1.4-.8-1.5-1.2-1.5 7.7-1.4-.8-1.5-6.8-1.5-2.7-1.4 2.3-1.5 .1-1.4-7.7-1.5 1-1.5-9.7-1.4-4-1.5 0z"/><linearGradient id="n444" href="#u" x1="408.3" x2="481.5"><stop offset=".01" stop-color="#d0d0d0"/><stop offset=".03" stop-color="#989898"/><stop offset=".05" stop-color="#a7a7a7"/><stop offset=".07" stop-color="#8f8f8f"/><stop offset=".09" stop-color="#606060"/><stop offset=".11" stop-color="#5d5d5d"/><stop offset=".13" stop-color="#616161"/><stop offset=".15" stop-color="#535353"/><stop offset=".17" stop-color="#414141"/><stop offset=".19" stop-color="#252525"/><stop offset=".21" stop-color="#262626"/><stop offset=".23" stop-color="#393939"/><stop offset=".25" stop-color="#252525"/><stop offset=".27" stop-color="#333"/><stop offset=".29" stop-color="#2f2f2f"/><stop offset=".31" stop-color="#171717"/><stop offset=".33" stop-color="#050505"/><stop offset=".35" stop-color="#2a2a2a"/><stop offset=".37" stop-color="#141414"/><stop offset=".39" stop-color="#212121"/><stop offset=".41" stop-color="#040404"/><stop offset=".43" stop-color="#050505"/><stop offset=".45" stop-color="#171717"/><stop offset=".47" stop-color="#272727"/><stop offset=".49" stop-color="#030303"/><stop offset=".51" stop-color="#2e2e2e"/><stop offset=".53" stop-color="#333"/><stop offset=".55" stop-color="#282828"/><stop offset=".57" stop-color="#2d2d2d"/><stop offset=".59" stop-color="#0b0b0b"/><stop offset=".61" stop-color="#020202"/><stop offset=".63" stop-color="#121212"/><stop offset=".65" stop-color="#050505"/><stop offset=".67" stop-color="#181818"/><stop offset=".69" stop-color="#303030"/><stop offset=".71" stop-color="#121212"/><stop offset=".73" stop-color="#3a3a3a"/><stop offset=".75" stop-color="#222"/><stop offset=".77" stop-color="#121212"/><stop offset=".79" stop-color="#363636"/><stop offset=".81" stop-color="#2d2d2d"/><stop offset=".83" stop-color="#2d2d2d"/><stop offset=".85" stop-color="#404040"/><stop offset=".87" stop-color="#696969"/><stop offset=".89" stop-color="#646464"/><stop offset=".91" stop-color="#525252"/><stop offset=".93" stop-color="#8a8a8a"/><stop offset=".95" stop-color="#6a6a6a"/><stop offset=".97" stop-color="#8c8c8c"/><stop offset=".99" stop-color="#a0a0a0"/><stop offset="1" stop-color="#e1e1e1"/></linearGradient><path fill="url(#n444)" stroke="url(#n444)" d="M408.9 187.3l1.4 9.8 1.5-3.2 1.5 4.1 1.4 8.1 1.5 .2 1.5-1.1 1.4 2.1 1.5 3 1.4 4.7 1.5-.5 1.5-3.9 1.4 3.2 1.5-2.9 1.5 .5 1.4 3.9 1.5 3 1.5-7.2 1.4 3.6 1.5-2.8 1.4 5 1.5-.6 1.5-3.7 1.4-3.3 1.5 6.2 1.5-8.3 1.4-1.3 1.5 1.8 1.5-1.3 1.4 5.7 1.5 1.3 1.5-3.2 1.4 2 1.5-4 1.4-4.7 1.5 5.1 1.5-7.6 1.4 3.9 1.5 2.6 1.5-6.9 1.4 1.1 1.5-.2 1.5-4 1.4-7.8 1.5 .6 1.4 2.8 1.5-10.6 1.5 5.5 1.4-6.6 1.5-3.9 1.5-12.3-1.2-.1-1.4 12.8-1.5 3.9-1.5 2.1-1.4 9.3-1.5 1.2-1.5 4.5-1.4-7.4-1.5 11.7-1.4-9.2-1.5 7.7-1.5-1.5-1.4 8.4-1.5-.7-1.5-1.6-1.4 1.8-1.5-4-1.5 8.1-1.4-2.6-1.5-2.4-1.4 3.6-1.5 .5-1.5-.7-1.4 1-1.5-5.4-1.5 4.6-1.4-5-1.5 2.7-1.5 8.4-1.4-2.4-1.5 .2-1.5-7.1-1.4 10.8-1.5-4.7-1.4-2.1-1.5 2.3-1.5-1.3-1.4-2.2-1.5 7.7-1.5-6.1-1.4-4.1-1.5 5.3-1.5-6.4-1.4 7.4-1.5-9.9-1.4-2.4-1.5-.2-1.5 3.1-1.4-7.3-1.5-5.3-1.5 3.6z"/><linearGradient id="n445" href="#u" x1="409.4" x2="482.6"><stop offset=".01" stop-color="#d0d0d0"/><stop offset=".03" stop-color="#cacaca"/><stop offset=".05" stop-color="#797979"/><stop offset=".07" stop-color="#858585"/><stop offset=".09" stop-color="#7c7c7c"/><stop offset=".11" stop-color="#6a6a6a"/><stop offset=".13" stop-color="#464646"/><stop offset=".15" stop-color="#636363"/><stop offset=".17" stop-color="#313131"/><stop offset=".19" stop-color="#515151"/><stop offset=".21" stop-color="#323232"/><stop offset=".23" stop-color="#171717"/><stop offset=".25" stop-color="#404040"/><stop offset=".27" stop-color="#0b0b0b"/><stop offset=".29" stop-color="#383838"/><stop offset=".31" stop-color="#292929"/><stop offset=".33" stop-color="#3a3a3a"/><stop offset=".35" stop-color="#343434"/><stop offset=".37" stop-color="#191919"/><stop offset=".39" stop-color="#070707"/><stop offset=".41" stop-color="#0f0f0f"/><stop offset=".43" stop-color="#000"/><stop offset=".45" stop-color="#282828"/><stop offset=".47" stop-color="#030303"/><stop offset=".49" stop-color="#090909"/><stop offset=".51" stop-color="#0e0e0e"/><stop offset=".53" stop-color="#181818"/><stop offset=".55" stop-color="#2b2b2b"/><stop offset=".57" stop-color="#1b1b1b"/><stop offset=".59" stop-color="#1f1f1f"/><stop offset=".61" stop-color="#040404"/><stop offset=".63" stop-color="#141414"/><stop offset=".65" stop-color="#0c0c0c"/><stop offset=".67" stop-color="#303030"/><stop offset=".69" stop-color="#010101"/><stop offset=".71" stop-color="#2a2a2a"/><stop offset=".73" stop-color="#313131"/><stop offset=".75" stop-color="#272727"/><stop offset=".77" stop-color="#0c0c0c"/><stop offset=".79" stop-color="#1e1e1e"/><stop offset=".81" stop-color="#222"/><stop offset=".83" stop-color="#2b2b2b"/><stop offset=".85" stop-color="#323232"/><stop offset=".87" stop-color="#6a6a6a"/><stop offset=".89" stop-color="#686868"/><stop offset=".91" stop-color="#7b7b7b"/><stop offset=".93" stop-color="#7e7e7e"/><stop offset=".95" stop-color="#777"/><stop offset=".97" stop-color="#b1b1b1"/><stop offset=".99" stop-color="#a9a9a9"/><stop offset="1" stop-color="#aeaeae"/></linearGradient><path fill="url(#n445)" stroke="url(#n445)" d="M410 187.7l1.5 .9 1.4 14.2 1.5-2.5 1.5 1.3 1.4 2.8 1.5 6.3 1.5-5.8 1.4 8.9 1.5-6.2 1.4 5.2 1.5 4.5 1.5-7.8 1.4 9.2 1.5-8.5 1.5 2.3 1.4-3.4 1.5 .6 1.5 4.6 1.4 2.9 1.5-1.9 1.4 2.8 1.5-8.1 1.5 6.4 1.4-1.5 1.5-1.2 1.5-2.3 1.4-3.7 1.5 2.5 1.5-1.1 1.4 4.5 1.5-3.4 1.5 1.1 1.4-6.9 1.5 8.1 1.4-7.8 1.5-1.7 1.5 1.5 1.4 4.5 1.5-3.6 1.5-1.2 1.4-1.9 1.5-1.7 1.5-10.5 1.4-.2 1.5-3.8 1.4-.9 1.5 .9 1.5-11 1.4 1.1 1.5-1.3-1.1-9.7-1.5 12.3-1.5 3.9-1.4 6.6-1.5-5.5-1.5 10.6-1.4-2.8-1.5-.6-1.4 7.8-1.5 4-1.5 .2-1.4-1.1-1.5 6.9-1.5-2.6-1.4-3.9-1.5 7.6-1.5-5.1-1.4 4.7-1.5 4-1.4-2-1.5 3.2-1.5-1.3-1.4-5.7-1.5 1.3-1.5-1.8-1.4 1.3-1.5 8.3-1.5-6.2-1.4 3.3-1.5 3.7-1.5 .6-1.4-5-1.5 2.8-1.4-3.6-1.5 7.2-1.5-3-1.4-3.9-1.5-.5-1.5 2.9-1.4-3.2-1.5 3.9-1.5 .5-1.4-4.7-1.5-3-1.4-2.1-1.5 1.1-1.5-.2-1.4-8.1-1.5-4.1-1.5 3.2-1.4-9.8z"/><linearGradient id="n446" href="#u" x1="410.6" x2="483.8"><stop offset=".01" stop-color="#a6a6a6"/><stop offset=".03" stop-color="#b8b8b8"/><stop offset=".05" stop-color="#b1b1b1"/><stop offset=".07" stop-color="#6d6d6d"/><stop offset=".09" stop-color="#757575"/><stop offset=".11" stop-color="#727272"/><stop offset=".13" stop-color="#424242"/><stop offset=".15" stop-color="#3c3c3c"/><stop offset=".17" stop-color="#282828"/><stop offset=".19" stop-color="#262626"/><stop offset=".21" stop-color="#1d1d1d"/><stop offset=".23" stop-color="#232323"/><stop offset=".25" stop-color="#3d3d3d"/><stop offset=".27" stop-color="#363636"/><stop offset=".29" stop-color="#383838"/><stop offset=".31" stop-color="#303030"/><stop offset=".33" stop-color="#373737"/><stop offset=".35" stop-color="#0b0b0b"/><stop offset=".37" stop-color="#252525"/><stop offset=".39" stop-color="#020202"/><stop offset=".41" stop-color="#212121"/><stop offset=".43" stop-color="#383838"/><stop offset=".45" stop-color="#1f1f1f"/><stop offset=".47" stop-color="#131313"/><stop offset=".49" stop-color="#121212"/><stop offset=".51" stop-color="#1a1a1a"/><stop offset=".53" stop-color="#3c3c3c"/><stop offset=".55" stop-color="#404040"/><stop offset=".57" stop-color="#313131"/><stop offset=".59" stop-color="#414141"/><stop offset=".61" stop-color="#323232"/><stop offset=".63" stop-color="#131313"/><stop offset=".65" stop-color="#1e1e1e"/><stop offset=".67" stop-color="#313131"/><stop offset=".69" stop-color="#313131"/><stop offset=".71" stop-color="#313131"/><stop offset=".73" stop-color="#262626"/><stop offset=".75" stop-color="#121212"/><stop offset=".77" stop-color="#4b4b4b"/><stop offset=".79" stop-color="#1f1f1f"/><stop offset=".81" stop-color="#565656"/><stop offset=".83" stop-color="#242424"/><stop offset=".85" stop-color="#646464"/><stop offset=".87" stop-color="#454545"/><stop offset=".89" stop-color="#6c6c6c"/><stop offset=".91" stop-color="#444"/><stop offset=".93" stop-color="#6f6f6f"/><stop offset=".95" stop-color="#737373"/><stop offset=".97" stop-color="#a4a4a4"/><stop offset=".99" stop-color="#b7b7b7"/><stop offset="1" stop-color="#c3c3c3"/></linearGradient><path fill="url(#n446)" stroke="url(#n446)" d="M411.1 196l1.5-3.8 1.5 .9 1.4 12.1 1.5-1.8 1.5 .1 1.4 8.3 1.5 .7 1.5 3.4 1.4-.1 1.5 1.3 1.4-1.5 1.5-5.2 1.5 .9 1.4-.7 1.5 1.2 1.5-1.7 1.4 7.5 1.5-5.1 1.5 6.1 1.4-6 1.5-4.5 1.4 4.1 1.5 1.7 1.5-.1 1.4-1.8 1.5-6.6 1.5-1.2 1.4 2.4 1.5-3.3 1.5 2.3 1.4 5.3 1.5-2.3 1.5-3.9 1.4-.4 1.5-.3 1.4 1.5 1.5 3.3 1.5-10.8 1.4 7.8 1.5-10.4 1.5 8.7 1.4-12 1.5 5.2 1.5-7.6 1.4 7 1.5-8.3 1.4-1 1.5-9.3 1.5-4 1.4-2.4-1.1 3.2-1.5 1.3-1.4-1.1-1.5 11-1.5-.9-1.4 .9-1.5 3.8-1.4 .2-1.5 10.5-1.5 1.7-1.4 1.9-1.5 1.2-1.5 3.6-1.4-4.5-1.5-1.5-1.5 1.7-1.4 7.8-1.5-8.1-1.4 6.9-1.5-1.1-1.5 3.4-1.4-4.5-1.5 1.1-1.5-2.5-1.4 3.7-1.5 2.3-1.5 1.2-1.4 1.5-1.5-6.4-1.5 8.1-1.4-2.8-1.5 1.9-1.4-2.9-1.5-4.6-1.5-.6-1.4 3.4-1.5-2.3-1.5 8.5-1.4-9.2-1.5 7.8-1.5-4.5-1.4-5.2-1.5 6.2-1.4-8.9-1.5 5.8-1.5-6.3-1.4-2.8-1.5-1.3-1.5 2.5-1.4-14.2-1.5-.9z"/><linearGradient id="n447" href="#u" x1="411.7" x2="484.9"><stop offset=".01" stop-color="#afafaf"/><stop offset=".03" stop-color="#9a9a9a"/><stop offset=".05" stop-color="#b2b2b2"/><stop offset=".07" stop-color="#717171"/><stop offset=".09" stop-color="#898989"/><stop offset=".11" stop-color="#7b7b7b"/><stop offset=".13" stop-color="#404040"/><stop offset=".15" stop-color="#4c4c4c"/><stop offset=".17" stop-color="#5a5a5a"/><stop offset=".19" stop-color="#3f3f3f"/><stop offset=".21" stop-color="#515151"/><stop offset=".23" stop-color="#2c2c2c"/><stop offset=".25" stop-color="#383838"/><stop offset=".27" stop-color="#1a1a1a"/><stop offset=".29" stop-color="#414141"/><stop offset=".31" stop-color="#3f3f3f"/><stop offset=".33" stop-color="#2b2b2b"/><stop offset=".35" stop-color="#1a1a1a"/><stop offset=".37" stop-color="#1b1b1b"/><stop offset=".39" stop-color="#2b2b2b"/><stop offset=".41" stop-color="#0c0c0c"/><stop offset=".43" stop-color="#252525"/><stop offset=".45" stop-color="#171717"/><stop offset=".47" stop-color="#1a1a1a"/><stop offset=".49" stop-color="#181818"/><stop offset=".51" stop-color="#3a3a3a"/><stop offset=".53" stop-color="#0f0f0f"/><stop offset=".55" stop-color="#131313"/><stop offset=".57" stop-color="#0e0e0e"/><stop offset=".59" stop-color="#040404"/><stop offset=".61" stop-color="#1f1f1f"/><stop offset=".63" stop-color="#3b3b3b"/><stop offset=".65" stop-color="#404040"/><stop offset=".67" stop-color="#252525"/><stop offset=".69" stop-color="#222"/><stop offset=".71" stop-color="#404040"/><stop offset=".73" stop-color="#2c2c2c"/><stop offset=".75" stop-color="#303030"/><stop offset=".77" stop-color="#3a3a3a"/><stop offset=".79" stop-color="#191919"/><stop offset=".81" stop-color="#505050"/><stop offset=".83" stop-color="#262626"/><stop offset=".85" stop-color="#494949"/><stop offset=".87" stop-color="#6c6c6c"/><stop offset=".89" stop-color="#5e5e5e"/><stop offset=".91" stop-color="#5d5d5d"/><stop offset=".93" stop-color="#858585"/><stop offset=".95" stop-color="#a1a1a1"/><stop offset=".97" stop-color="#a2a2a2"/><stop offset=".99" stop-color="#939393"/><stop offset="1" stop-color="#e1e1e1"/></linearGradient><path fill="url(#n447)" stroke="url(#n447)" d="M412.3 194.8l1.4 3.4 1.5-4.6 1.5 11.3 1.4-4.6 1.5 2 1.5 10.5 1.4-2.6 1.5-3 1.5 4.6 1.4-3.8 1.5 6.4 1.4-2.6 1.5 5.2 1.5-7.4 1.4 0 1.5 3.2 1.5 2.7 1.4-.6 1.5-3.2 1.5 5.2 1.4-4.9 1.5 2.2 1.4-.9 1.5-.2 1.5-6.5 1.4 7.5 1.5-1.1 1.5 .5 1.4 1.4 1.5-5.3 1.5-5.5 1.4-1.1 1.5 4.4 1.5 .2 1.4-6 1.5 3.4 1.4-1.1 1.5-2.2 1.5 5.7 1.4-10.4 1.5 7.2 1.5-6.8 1.4-6.8 1.5 2.2 1.5-.2 1.4-7.6 1.5-5.5 1.4-.5 1.5 2.4 1.5-14.8-1.2 5.1-1.4 2.4-1.5 4-1.5 9.3-1.4 1-1.5 8.3-1.4-7-1.5 7.6-1.5-5.2-1.4 12-1.5-8.7-1.5 10.4-1.4-7.8-1.5 10.8-1.5-3.3-1.4-1.5-1.5 .3-1.4 .4-1.5 3.9-1.5 2.3-1.4-5.3-1.5-2.3-1.5 3.3-1.4-2.4-1.5 1.2-1.5 6.6-1.4 1.8-1.5 .1-1.5-1.7-1.4-4.1-1.5 4.5-1.4 6-1.5-6.1-1.5 5.1-1.4-7.5-1.5 1.7-1.5-1.2-1.4 .7-1.5-.9-1.5 5.2-1.4 1.5-1.5-1.3-1.4 .1-1.5-3.4-1.5-.7-1.4-8.3-1.5-.1-1.5 1.8-1.4-12.1-1.5-.9-1.5 3.8z"/><linearGradient id="n448" href="#u" x1="412.8" x2="486"><stop offset=".01" stop-color="#dcdcdc"/><stop offset=".03" stop-color="#d4d4d4"/><stop offset=".05" stop-color="#bababa"/><stop offset=".07" stop-color="#8e8e8e"/><stop offset=".09" stop-color="#6d6d6d"/><stop offset=".11" stop-color="#737373"/><stop offset=".13" stop-color="#6b6b6b"/><stop offset=".15" stop-color="#565656"/><stop offset=".17" stop-color="#414141"/><stop offset=".19" stop-color="#404040"/><stop offset=".21" stop-color="#222"/><stop offset=".23" stop-color="#2a2a2a"/><stop offset=".25" stop-color="#1c1c1c"/><stop offset=".27" stop-color="#3b3b3b"/><stop offset=".29" stop-color="#4c4c4c"/><stop offset=".31" stop-color="#151515"/><stop offset=".33" stop-color="#0c0c0c"/><stop offset=".35" stop-color="#393939"/><stop offset=".37" stop-color="#1f1f1f"/><stop offset=".39" stop-color="#292929"/><stop offset=".41" stop-color="#0b0b0b"/><stop offset=".43" stop-color="#131313"/><stop offset=".45" stop-color="#353535"/><stop offset=".47" stop-color="#2f2f2f"/><stop offset=".49" stop-color="#3f3f3f"/><stop offset=".51" stop-color="#464646"/><stop offset=".53" stop-color="#1f1f1f"/><stop offset=".55" stop-color="#303030"/><stop offset=".57" stop-color="#242424"/><stop offset=".59" stop-color="#282828"/><stop offset=".61" stop-color="#212121"/><stop offset=".63" stop-color="#484848"/><stop offset=".65" stop-color="#313131"/><stop offset=".67" stop-color="#121212"/><stop offset=".69" stop-color="#383838"/><stop offset=".71" stop-color="#4b4b4b"/><stop offset=".73" stop-color="#484848"/><stop offset=".75" stop-color="#343434"/><stop offset=".77" stop-color="#141414"/><stop offset=".79" stop-color="#4c4c4c"/><stop offset=".81" stop-color="#5a5a5a"/><stop offset=".83" stop-color="#535353"/><stop offset=".85" stop-color="#464646"/><stop offset=".87" stop-color="#4c4c4c"/><stop offset=".89" stop-color="#6f6f6f"/><stop offset=".91" stop-color="#515151"/><stop offset=".93" stop-color="#8c8c8c"/><stop offset=".95" stop-color="#8a8a8a"/><stop offset=".97" stop-color="#818181"/><stop offset=".99" stop-color="#c9c9c9"/><stop offset="1" stop-color="#c5c5c5"/></linearGradient><path fill="url(#n448)" stroke="url(#n448)" d="M413.4 187.1l1.5 1.1 1.4 4.4 1.5 7.6 1.5 5.6 1.4-1.5 1.5 1.1 1.5 3.5 1.4 3.5 1.5-.4 1.5 5.3 1.4-2 1.5 2.2 1.4-6.1 1.5-3.4 1.5 9.6 1.4 1.4 1.5-8.7 1.5 4.4 1.4-2.1 1.5 5 1.5-1.8 1.4-6.6 1.5 .7 1.4-3.3 1.5-1.7 1.5 6.8 1.4-3.5 1.5 1.7 1.5-1.1 1.4 1 1.5-7.5 1.5 3.8 1.4 5.3 1.5-7.3 1.5-3.8 1.4 .1 1.5 3.2 1.4 5.5 1.5-10.6 1.5-2.8 1.4 .8 1.5 1.9 1.5-1.4 1.4-6.7 1.5 5 1.5-11.2 1.4 0 1.5 1.3 1.4-13.4 1.5 .2-1.1-5.6-1.5 14.8-1.5-2.4-1.4 .5-1.5 5.5-1.4 7.6-1.5 .2-1.5-2.2-1.4 6.8-1.5 6.8-1.5-7.2-1.4 10.4-1.5-5.7-1.5 2.2-1.4 1.1-1.5-3.4-1.4 6-1.5-.2-1.5-4.4-1.4 1.1-1.5 5.5-1.5 5.3-1.4-1.4-1.5-.5-1.5 1.1-1.4-7.5-1.5 6.5-1.5 .2-1.4 .9-1.5-2.2-1.4 4.9-1.5-5.2-1.5 3.2-1.4 .6-1.5-2.7-1.5-3.2-1.4 0-1.5 7.4-1.5-5.2-1.4 2.6-1.5-6.4-1.4 3.8-1.5-4.6-1.5 3-1.4 2.6-1.5-10.5-1.5-2-1.4 4.6-1.5-11.3-1.5 4.6-1.4-3.4z"/><linearGradient id="n449" href="#u" x1="414" x2="487.2"><stop offset=".01" stop-color="#b0b0b0"/><stop offset=".03" stop-color="#b1b1b1"/><stop offset=".05" stop-color="#c3c3c3"/><stop offset=".07" stop-color="#a4a4a4"/><stop offset=".09" stop-color="#838383"/><stop offset=".11" stop-color="#5c5c5c"/><stop offset=".13" stop-color="#7f7f7f"/><stop offset=".15" stop-color="#545454"/><stop offset=".17" stop-color="#575757"/><stop offset=".19" stop-color="#343434"/><stop offset=".21" stop-color="#363636"/><stop offset=".23" stop-color="#323232"/><stop offset=".25" stop-color="#313131"/><stop offset=".27" stop-color="#161616"/><stop offset=".29" stop-color="#3d3d3d"/><stop offset=".31" stop-color="#1b1b1b"/><stop offset=".33" stop-color="#363636"/><stop offset=".35" stop-color="#363636"/><stop offset=".37" stop-color="#3a3a3a"/><stop offset=".39" stop-color="#1f1f1f"/><stop offset=".41" stop-color="#1f1f1f"/><stop offset=".43" stop-color="#3d3d3d"/><stop offset=".45" stop-color="#252525"/><stop offset=".47" stop-color="#151515"/><stop offset=".49" stop-color="#474747"/><stop offset=".51" stop-color="#0c0c0c"/><stop offset=".53" stop-color="#464646"/><stop offset=".55" stop-color="#1f1f1f"/><stop offset=".57" stop-color="#252525"/><stop offset=".59" stop-color="#4c4c4c"/><stop offset=".61" stop-color="#282828"/><stop offset=".63" stop-color="#3b3b3b"/><stop offset=".65" stop-color="#282828"/><stop offset=".67" stop-color="#494949"/><stop offset=".69" stop-color="#3e3e3e"/><stop offset=".71" stop-color="#2f2f2f"/><stop offset=".73" stop-color="#171717"/><stop offset=".75" stop-color="#2c2c2c"/><stop offset=".77" stop-color="#383838"/><stop offset=".79" stop-color="#2e2e2e"/><stop offset=".81" stop-color="#444"/><stop offset=".83" stop-color="#353535"/><stop offset=".85" stop-color="#4f4f4f"/><stop offset=".87" stop-color="#5a5a5a"/><stop offset=".89" stop-color="#6f6f6f"/><stop offset=".91" stop-color="#808080"/><stop offset=".93" stop-color="#8d8d8d"/><stop offset=".95" stop-color="#8a8a8a"/><stop offset=".97" stop-color="#9f9f9f"/><stop offset=".99" stop-color="#d1d1d1"/><stop offset="1" stop-color="#c8c8c8"/></linearGradient><path fill="url(#n449)" stroke="url(#n449)" d="M414.5 195.5l1.5-.4 1.5-3.7 1.4 5.3 1.5 5.6 1.5 6.8 1.4-6.8 1.5 7.5 1.5-1.1 1.4 6 1.5-.7 1.5 .4 1.4-.3 1.5 4.7 1.4-7.5 1.5 5.8 1.5-5.3 1.4-.4 1.5-1.2 1.5 4.6 1.4-.3 1.5-5.9 1.5 4 1.4 2.5 1.5-9.5 1.4 10.4 1.5-10.9 1.5 6.8 1.4-1.5 1.5-7.6 1.5 6.1 1.4-3.7 1.5 3.1 1.5-6.5 1.4 1.8 1.5 2.2 1.5 4 1.4-4.2 1.5-2.5 1.4 1.4 1.5-4.4 1.5 2.4 1.4-5.2 1.5-2.4 1.5-4.1 1.4-3.5 1.5-2.8 1.5 .2 1.4-4.3 1.5-9.4 1.4 1.3-1.1-.1-1.5-.2-1.4 13.4-1.5-1.3-1.4 0-1.5 11.2-1.5-5-1.4 6.7-1.5 1.4-1.5-1.9-1.4-.8-1.5 2.8-1.5 10.6-1.4-5.5-1.5-3.2-1.4-.1-1.5 3.8-1.5 7.3-1.4-5.3-1.5-3.8-1.5 7.5-1.4-1-1.5 1.1-1.5-1.7-1.4 3.5-1.5-6.8-1.5 1.7-1.4 3.3-1.5-.7-1.4 6.6-1.5 1.8-1.5-5-1.4 2.1-1.5-4.4-1.5 8.7-1.4-1.4-1.5-9.6-1.5 3.4-1.4 6.1-1.5-2.2-1.4 2-1.5-5.3-1.5 .4-1.4-3.5-1.5-3.5-1.5-1.1-1.4 1.5-1.5-5.6-1.5-7.6-1.4-4.4-1.5-1.1z"/><linearGradient id="n450" href="#u" x1="415.1" x2="488.3"><stop offset=".01" stop-color="#dadada"/><stop offset=".03" stop-color="#d6d6d6"/><stop offset=".05" stop-color="#a4a4a4"/><stop offset=".07" stop-color="#979797"/><stop offset=".09" stop-color="#909090"/><stop offset=".11" stop-color="#5a5a5a"/><stop offset=".13" stop-color="#646464"/><stop offset=".15" stop-color="#444"/><stop offset=".17" stop-color="#3d3d3d"/><stop offset=".19" stop-color="#2c2c2c"/><stop offset=".21" stop-color="#343434"/><stop offset=".23" stop-color="#2f2f2f"/><stop offset=".25" stop-color="#3f3f3f"/><stop offset=".27" stop-color="#3f3f3f"/><stop offset=".29" stop-color="#4d4d4d"/><stop offset=".31" stop-color="#353535"/><stop offset=".33" stop-color="#4e4e4e"/><stop offset=".35" stop-color="#2c2c2c"/><stop offset=".37" stop-color="#434343"/><stop offset=".39" stop-color="#363636"/><stop offset=".41" stop-color="#3a3a3a"/><stop offset=".43" stop-color="#232323"/><stop offset=".45" stop-color="#4e4e4e"/><stop offset=".47" stop-color="#434343"/><stop offset=".49" stop-color="#1a1a1a"/><stop offset=".51" stop-color="#343434"/><stop offset=".53" stop-color="#525252"/><stop offset=".55" stop-color="#141414"/><stop offset=".57" stop-color="#252525"/><stop offset=".59" stop-color="#424242"/><stop offset=".61" stop-color="#141414"/><stop offset=".63" stop-color="#424242"/><stop offset=".65" stop-color="#373737"/><stop offset=".67" stop-color="#434343"/><stop offset=".69" stop-color="#383838"/><stop offset=".71" stop-color="#535353"/><stop offset=".73" stop-color="#2e2e2e"/><stop offset=".75" stop-color="#3f3f3f"/><stop offset=".77" stop-color="#202020"/><stop offset=".79" stop-color="#454545"/><stop offset=".81" stop-color="#424242"/><stop offset=".83" stop-color="#6d6d6d"/><stop offset=".85" stop-color="#727272"/><stop offset=".87" stop-color="#464646"/><stop offset=".89" stop-color="#4a4a4a"/><stop offset=".91" stop-color="#5c5c5c"/><stop offset=".93" stop-color="#6f6f6f"/><stop offset=".95" stop-color="#a3a3a3"/><stop offset=".97" stop-color="#aaa"/><stop offset=".99" stop-color="#c0c0c0"/><stop offset="1" stop-color="#d4d4d4"/></linearGradient><path fill="url(#n450)" stroke="url(#n450)" d="M415.7 188.5l1.4 .4 1.5 8.6 1.5 2.1 1.4 .8 1.5 9.5 1.5-2.2 1.4 5.5 1.5 .9 1.5 2.6 1.4-1.7 1.5 .4 1.5-3.2 1.4-.4 1.5-3 1.4 4.1 1.5-5 1.5 5.7 1.4-4.4 1.5 2 1.5-1.2 1.4 3.9 1.5-8.4 1.5 1.7 1.4 7.1 1.5-5.1 1.4-5.9 1.5 11 1.5-3.4 1.4-5.7 1.5 8 1.5-8.9 1.4 1.6 1.5-2.4 1.5 1.6 1.4-5.3 1.5 6.4 1.5-3.6 1.4 5.3 1.5-7.2 1.4 .3 1.5-8.3 1.5-1.3 1.4 7.7 1.5-1.2 1.5-3.6 1.4-3.9 1.5-9.8 1.5-1.7 1.4-4.3 1.5-4-1.2 1.7-1.4-1.3-1.5 9.4-1.4 4.3-1.5-.2-1.5 2.8-1.4 3.5-1.5 4.1-1.5 2.4-1.4 5.2-1.5-2.4-1.5 4.4-1.4-1.4-1.5 2.5-1.4 4.2-1.5-4-1.5-2.2-1.4-1.8-1.5 6.5-1.5-3.1-1.4 3.7-1.5-6.1-1.5 7.6-1.4 1.5-1.5-6.8-1.5 10.9-1.4-10.4-1.5 9.5-1.4-2.5-1.5-4-1.5 5.9-1.4 .3-1.5-4.6-1.5 1.2-1.4 .4-1.5 5.3-1.5-5.8-1.4 7.5-1.5-4.7-1.4 .3-1.5-.4-1.5 .7-1.4-6-1.5 1.1-1.5-7.5-1.4 6.8-1.5-6.8-1.5-5.6-1.4-5.3-1.5 3.7-1.5 .4z"/><linearGradient id="n451" href="#u" x1="416.3" x2="489.5"><stop offset=".01" stop-color="#f4f4f4"/><stop offset=".03" stop-color="#aeaeae"/><stop offset=".05" stop-color="#c3c3c3"/><stop offset=".07" stop-color="#7c7c7c"/><stop offset=".09" stop-color="#a2a2a2"/><stop offset=".11" stop-color="#878787"/><stop offset=".13" stop-color="#6b6b6b"/><stop offset=".15" stop-color="#6f6f6f"/><stop offset=".17" stop-color="#585858"/><stop offset=".19" stop-color="#666"/><stop offset=".21" stop-color="#343434"/><stop offset=".23" stop-color="#494949"/><stop offset=".25" stop-color="#5c5c5c"/><stop offset=".27" stop-color="#5d5d5d"/><stop offset=".29" stop-color="#2c2c2c"/><stop offset=".31" stop-color="#2c2c2c"/><stop offset=".33" stop-color="#555"/><stop offset=".35" stop-color="#2f2f2f"/><stop offset=".37" stop-color="#1c1c1c"/><stop offset=".39" stop-color="#474747"/><stop offset=".41" stop-color="#333"/><stop offset=".43" stop-color="#474747"/><stop offset=".45" stop-color="#363636"/><stop offset=".47" stop-color="#383838"/><stop offset=".49" stop-color="#323232"/><stop offset=".51" stop-color="#2a2a2a"/><stop offset=".53" stop-color="#525252"/><stop offset=".55" stop-color="#434343"/><stop offset=".57" stop-color="#4b4b4b"/><stop offset=".59" stop-color="#525252"/><stop offset=".61" stop-color="#282828"/><stop offset=".63" stop-color="#545454"/><stop offset=".65" stop-color="#515151"/><stop offset=".67" stop-color="#3a3a3a"/><stop offset=".69" stop-color="#3f3f3f"/><stop offset=".71" stop-color="#232323"/><stop offset=".73" stop-color="#4f4f4f"/><stop offset=".75" stop-color="#2b2b2b"/><stop offset=".77" stop-color="#464646"/><stop offset=".79" stop-color="#2f2f2f"/><stop offset=".81" stop-color="#313131"/><stop offset=".83" stop-color="#5b5b5b"/><stop offset=".85" stop-color="#5a5a5a"/><stop offset=".87" stop-color="#707070"/><stop offset=".89" stop-color="#828282"/><stop offset=".91" stop-color="#9b9b9b"/><stop offset=".93" stop-color="#6e6e6e"/><stop offset=".95" stop-color="#a3a3a3"/><stop offset=".97" stop-color="#b3b3b3"/><stop offset=".99" stop-color="#cecece"/><stop offset="1" stop-color="#dfdfdf"/></linearGradient><path fill="url(#n451)" stroke="url(#n451)" d="M416.8 184.2l1.5 12.4 1.4-4.3 1.5 12.6 1.5-7.2 1.4 4.5 1.5 4.7 1.5-1.2 1.4 3.8 1.5-2.8 1.5 8.8 1.4-4.2 1.5-4 1.5-.4 1.4 8.5 1.5-.4 1.4-7.9 1.5 6.5 1.5 3.2 1.4-8.2 1.5 3.3 1.5-4.2 1.4 2.7 1.5-.6 1.5 .6 1.4 1.1 1.5-7.7 1.4 2.4 1.5-1.8 1.5-1.7 1.4 7.4 1.5-8.5 1.5 .2 1.4 3.8 1.5-1.3 1.5 4.8 1.4-8.5 1.5 6.2 1.5-5.3 1.4 3.7 1.5-.6 1.4-8 1.5-.3 1.5-4.3 1.4-3.7 1.5-5 1.5 7.8 1.4-10 1.5-3.2 1.5-5.3 1.4-3.6-1.1 1.6-1.5 4-1.4 4.3-1.5 1.7-1.5 9.8-1.4 3.9-1.5 3.6-1.5 1.2-1.4-7.7-1.5 1.3-1.5 8.3-1.4-.3-1.5 7.2-1.4-5.3-1.5 3.6-1.5-6.4-1.4 5.3-1.5-1.6-1.5 2.4-1.4-1.6-1.5 8.9-1.5-8-1.4 5.7-1.5 3.4-1.5-11-1.4 5.9-1.5 5.1-1.4-7.1-1.5-1.7-1.5 8.4-1.4-3.9-1.5 1.2-1.5-2-1.4 4.4-1.5-5.7-1.5 5-1.4-4.1-1.5 3-1.4 .4-1.5 3.2-1.5-.4-1.4 1.7-1.5-2.6-1.5-.9-1.4-5.5-1.5 2.2-1.5-9.5-1.4-.8-1.5-2.1-1.5-8.6-1.4-.4z"/><linearGradient id="n452" href="#u" x1="417.4" x2="490.6"><stop offset=".01" stop-color="#cfcfcf"/><stop offset=".03" stop-color="#c7c7c7"/><stop offset=".05" stop-color="#b5b5b5"/><stop offset=".07" stop-color="#a7a7a7"/><stop offset=".09" stop-color="#999"/><stop offset=".11" stop-color="#7a7a7a"/><stop offset=".13" stop-color="#7e7e7e"/><stop offset=".15" stop-color="#555"/><stop offset=".17" stop-color="#545454"/><stop offset=".19" stop-color="#6e6e6e"/><stop offset=".21" stop-color="#3e3e3e"/><stop offset=".23" stop-color="#3d3d3d"/><stop offset=".25" stop-color="#3a3a3a"/><stop offset=".27" stop-color="#474747"/><stop offset=".29" stop-color="#242424"/><stop offset=".31" stop-color="#242424"/><stop offset=".33" stop-color="#3f3f3f"/><stop offset=".35" stop-color="#2b2b2b"/><stop offset=".37" stop-color="#4c4c4c"/><stop offset=".39" stop-color="#535353"/><stop offset=".41" stop-color="#454545"/><stop offset=".43" stop-color="#4c4c4c"/><stop offset=".45" stop-color="#383838"/><stop offset=".47" stop-color="#212121"/><stop offset=".49" stop-color="#3b3b3b"/><stop offset=".51" stop-color="#373737"/><stop offset=".53" stop-color="#464646"/><stop offset=".55" stop-color="#272727"/><stop offset=".57" stop-color="#2d2d2d"/><stop offset=".59" stop-color="#545454"/><stop offset=".61" stop-color="#303030"/><stop offset=".63" stop-color="#3a3a3a"/><stop offset=".65" stop-color="#5d5d5d"/><stop offset=".67" stop-color="#323232"/><stop offset=".69" stop-color="#2b2b2b"/><stop offset=".71" stop-color="#515151"/><stop offset=".73" stop-color="#4a4a4a"/><stop offset=".75" stop-color="#4f4f4f"/><stop offset=".77" stop-color="#2d2d2d"/><stop offset=".79" stop-color="#4a4a4a"/><stop offset=".81" stop-color="#343434"/><stop offset=".83" stop-color="#4a4a4a"/><stop offset=".85" stop-color="#707070"/><stop offset=".87" stop-color="#4f4f4f"/><stop offset=".89" stop-color="#696969"/><stop offset=".91" stop-color="#a3a3a3"/><stop offset=".93" stop-color="#b0b0b0"/><stop offset=".95" stop-color="#a1a1a1"/><stop offset=".97" stop-color="#c5c5c5"/><stop offset=".99" stop-color="#d4d4d4"/><stop offset="1" stop-color="#e1e1e1"/></linearGradient><path fill="url(#n452)" stroke="url(#n452)" d="M418 191.5l1.4 1.1 1.5 2.9 1.4 2.1 1.5 2.2 1.5 5.2 1.4-1 1.5 7.1 1.5-.2 1.4-5.2 1.5 8.5 1.5-.3 1.4 .1 1.5-2.6 1.5 5.9 1.4-.4 1.5-5.3 1.4 3.4 1.5-6.5 1.5-1.7 1.4 2.3 1.5-1.7 1.5 3.3 1.4 3.7 1.5-5.1 1.5 .4 1.4-3 1.5 5.1 1.4-1.5 1.5-7.4 1.5 6.2 1.4-2.2 1.5-6.8 1.5 7.4 1.4 1 1.5-7.3 1.5 .9 1.4-1.4 1.5 5.9 1.5-5.7 1.4 3.7 1.5-4.5 1.4-7.2 1.5 5.7 1.5-5.2 1.4-10.9 1.5-2.9 1.5 2.5 1.4-7 1.5-3.1 1.5-2.9-1.2-.1-1.4 3.6-1.5 5.3-1.5 3.2-1.4 10-1.5-7.8-1.5 5-1.4 3.7-1.5 4.3-1.5 .3-1.4 8-1.5 .6-1.4-3.7-1.5 5.3-1.5-6.2-1.4 8.5-1.5-4.8-1.5 1.3-1.4-3.8-1.5-.2-1.5 8.5-1.4-7.4-1.5 1.7-1.5 1.8-1.4-2.4-1.5 7.7-1.4-1.1-1.5-.6-1.5 .6-1.4-2.7-1.5 4.2-1.5-3.3-1.4 8.2-1.5-3.2-1.5-6.5-1.4 7.9-1.5 .4-1.4-8.5-1.5 .4-1.5 4-1.4 4.2-1.5-8.8-1.5 2.8-1.4-3.8-1.5 1.2-1.5-4.7-1.4-4.5-1.5 7.2-1.5-12.6-1.4 4.3-1.5-12.4z"/><linearGradient id="n453" href="#u" x1="418.5" x2="491.7"><stop offset=".01" stop-color="#d5d5d5"/><stop offset=".03" stop-color="#ececec"/><stop offset=".05" stop-color="#d1d1d1"/><stop offset=".07" stop-color="#c9c9c9"/><stop offset=".09" stop-color="#919191"/><stop offset=".11" stop-color="#787878"/><stop offset=".13" stop-color="#6d6d6d"/><stop offset=".15" stop-color="#898989"/><stop offset=".17" stop-color="#898989"/><stop offset=".19" stop-color="#707070"/><stop offset=".21" stop-color="#5c5c5c"/><stop offset=".23" stop-color="#4a4a4a"/><stop offset=".25" stop-color="#6a6a6a"/><stop offset=".27" stop-color="#696969"/><stop offset=".29" stop-color="#333"/><stop offset=".31" stop-color="#393939"/><stop offset=".33" stop-color="#606060"/><stop offset=".35" stop-color="#606060"/><stop offset=".37" stop-color="#3c3c3c"/><stop offset=".39" stop-color="#3a3a3a"/><stop offset=".41" stop-color="#434343"/><stop offset=".43" stop-color="#4a4a4a"/><stop offset=".45" stop-color="#2d2d2d"/><stop offset=".47" stop-color="#5e5e5e"/><stop offset=".49" stop-color="#4a4a4a"/><stop offset=".51" stop-color="#5a5a5a"/><stop offset=".53" stop-color="#363636"/><stop offset=".55" stop-color="#666"/><stop offset=".57" stop-color="#585858"/><stop offset=".59" stop-color="#3d3d3d"/><stop offset=".61" stop-color="#656565"/><stop offset=".63" stop-color="#555"/><stop offset=".65" stop-color="#5f5f5f"/><stop offset=".67" stop-color="#2b2b2b"/><stop offset=".69" stop-color="#2d2d2d"/><stop offset=".71" stop-color="#5c5c5c"/><stop offset=".73" stop-color="#414141"/><stop offset=".75" stop-color="#515151"/><stop offset=".77" stop-color="#3d3d3d"/><stop offset=".79" stop-color="#777"/><stop offset=".81" stop-color="#5d5d5d"/><stop offset=".83" stop-color="#797979"/><stop offset=".85" stop-color="#4f4f4f"/><stop offset=".87" stop-color="#727272"/><stop offset=".89" stop-color="#626262"/><stop offset=".91" stop-color="#a4a4a4"/><stop offset=".93" stop-color="#969696"/><stop offset=".95" stop-color="#8e8e8e"/><stop offset=".97" stop-color="#a2a2a2"/><stop offset=".99" stop-color="#d6d6d6"/><stop offset="1" stop-color="#d0d0d0"/></linearGradient><path fill="url(#n453)" stroke="url(#n453)" d="M419.1 190.8l1.5-4.5 1.4 4.5 1.5 1.1 1.4 9.9 1.5 4.2 1.5 1.5 1.4-5.5 1.5-.4 1.5 4.2 1.4 3.4 1.5 2.9 1.5-6.2 1.4-.2 1.5 9.4 1.5-1.5 1.4-7.5 1.5-.4 1.4 6.2 1.5 .1 1.5-2.1 1.4-1.7 1.5 5 1.5-9.3 1.4 3.2 1.5-3.2 1.5 6.1 1.4-9.2 1.5 2.2 1.4 4.5 1.5-7.6 1.5 2.5 1.4-2.1 1.5 9 1.5-.7 1.4-8.9 1.5 4.5 1.5-3.4 1.4 3.4 1.5-11 1.5 4.4 1.4-5.5 1.5 7.3 1.4-6.9 1.5 2.7 1.5-12.5 1.4 2.2 1.5 1.1 1.5-4 1.4-9.9 1.5 .7-1.1-3.7-1.5 2.9-1.5 3.1-1.4 7-1.5-2.5-1.5 2.9-1.4 10.9-1.5 5.2-1.5-5.7-1.4 7.2-1.5 4.5-1.4-3.7-1.5 5.7-1.5-5.9-1.4 1.4-1.5-.9-1.5 7.3-1.4-1-1.5-7.4-1.5 6.8-1.4 2.2-1.5-6.2-1.5 7.4-1.4 1.5-1.5-5.1-1.4 3-1.5-.4-1.5 5.1-1.4-3.7-1.5-3.3-1.5 1.7-1.4-2.3-1.5 1.7-1.5 6.5-1.4-3.4-1.5 5.3-1.4 .4-1.5-5.9-1.5 2.6-1.4-.1-1.5 .3-1.5-8.5-1.4 5.2-1.5 .2-1.5-7.1-1.4 1-1.5-5.2-1.5-2.2-1.4-2.1-1.5-2.9-1.4-1.1z"/><linearGradient id="n454" href="#u" x1="419.7" x2="492.9"><stop offset=".01" stop-color="#fff"/><stop offset=".03" stop-color="#fcfcfc"/><stop offset=".05" stop-color="#dedede"/><stop offset=".07" stop-color="#b7b7b7"/><stop offset=".09" stop-color="#888"/><stop offset=".11" stop-color="#949494"/><stop offset=".13" stop-color="#a4a4a4"/><stop offset=".15" stop-color="#909090"/><stop offset=".17" stop-color="#737373"/><stop offset=".19" stop-color="#6a6a6a"/><stop offset=".21" stop-color="#545454"/><stop offset=".23" stop-color="#4c4c4c"/><stop offset=".25" stop-color="#414141"/><stop offset=".27" stop-color="#747474"/><stop offset=".29" stop-color="#616161"/><stop offset=".31" stop-color="#3e3e3e"/><stop offset=".33" stop-color="#4e4e4e"/><stop offset=".35" stop-color="#353535"/><stop offset=".37" stop-color="#3f3f3f"/><stop offset=".39" stop-color="#616161"/><stop offset=".41" stop-color="#5b5b5b"/><stop offset=".43" stop-color="#505050"/><stop offset=".45" stop-color="#424242"/><stop offset=".47" stop-color="#5b5b5b"/><stop offset=".49" stop-color="#6f6f6f"/><stop offset=".51" stop-color="#4d4d4d"/><stop offset=".53" stop-color="#353535"/><stop offset=".55" stop-color="#343434"/><stop offset=".57" stop-color="#363636"/><stop offset=".59" stop-color="#6f6f6f"/><stop offset=".61" stop-color="#545454"/><stop offset=".63" stop-color="#686868"/><stop offset=".65" stop-color="#3c3c3c"/><stop offset=".67" stop-color="#434343"/><stop offset=".69" stop-color="#616161"/><stop offset=".71" stop-color="#6f6f6f"/><stop offset=".73" stop-color="#4d4d4d"/><stop offset=".75" stop-color="#3d3d3d"/><stop offset=".77" stop-color="#757575"/><stop offset=".79" stop-color="#545454"/><stop offset=".81" stop-color="#767676"/><stop offset=".83" stop-color="#565656"/><stop offset=".85" stop-color="#818181"/><stop offset=".87" stop-color="#949494"/><stop offset=".89" stop-color="#979797"/><stop offset=".91" stop-color="#8b8b8b"/><stop offset=".93" stop-color="#b2b2b2"/><stop offset=".95" stop-color="#9c9c9c"/><stop offset=".97" stop-color="#bbb"/><stop offset=".99" stop-color="#d8d8d8"/><stop offset="1" stop-color="#fff"/></linearGradient><path fill="url(#n454)" stroke="url(#n454)" d="M420.2 182l1.5 1.9 1.5 5.1 1.4 6.8 1.5 8.1 1.4-2.5 1.5-3.4 1.5 3.3 1.4 4.9 1.5 1.3 1.5 3.6 1.4 1.1 1.5 1.6 1.5-9.6 1.4 3.1 1.5 6 1.5-3.4 1.4 4.2 1.5-2.2 1.4-6.5 1.5 .6 1.5 1.7 1.4 2.1 1.5-4.9 1.5-4.1 1.4 5.9 1.5 4 1.5-.2 1.4-.7 1.5-10.9 1.4 4.6 1.5-4 1.5 7.6 1.4-1.6 1.5-5.8 1.5-3.1 1.4 5.9 1.5 2.5 1.5-10.6 1.4 5.8 1.5-6.7 1.5 5.4 1.4-8.2 1.5-3.8 1.4-.9 1.5 1.7 1.5-7.4 1.4 3.6 1.5-6 1.5-5.6 1.4-10.4-1.1 10.9-1.5-.7-1.4 9.9-1.5 4-1.5-1.1-1.4-2.2-1.5 12.5-1.5-2.7-1.4 6.9-1.5-7.3-1.4 5.5-1.5-4.4-1.5 11-1.4-3.4-1.5 3.4-1.5-4.5-1.4 8.9-1.5 .7-1.5-9-1.4 2.1-1.5-2.5-1.5 7.6-1.4-4.5-1.5-2.2-1.4 9.2-1.5-6.1-1.5 3.2-1.4-3.2-1.5 9.3-1.5-5-1.4 1.7-1.5 2.1-1.5-.1-1.4-6.2-1.5 .4-1.4 7.5-1.5 1.5-1.5-9.4-1.4 .2-1.5 6.2-1.5-2.9-1.4-3.4-1.5-4.2-1.5 .4-1.4 5.5-1.5-1.5-1.5-4.2-1.4-9.9-1.5-1.1-1.4-4.5-1.5 4.5z"/><linearGradient id="n455" href="#u" x1="420.8" x2="494"><stop offset=".01" stop-color="#ededed"/><stop offset=".03" stop-color="#e9e9e9"/><stop offset=".05" stop-color="#b7b7b7"/><stop offset=".07" stop-color="#bebebe"/><stop offset=".09" stop-color="#a5a5a5"/><stop offset=".11" stop-color="#adadad"/><stop offset=".13" stop-color="#a3a3a3"/><stop offset=".15" stop-color="#959595"/><stop offset=".17" stop-color="#8c8c8c"/><stop offset=".19" stop-color="#6f6f6f"/><stop offset=".21" stop-color="#7c7c7c"/><stop offset=".23" stop-color="#626262"/><stop offset=".25" stop-color="#6d6d6d"/><stop offset=".27" stop-color="#595959"/><stop offset=".29" stop-color="#5f5f5f"/><stop offset=".31" stop-color="#434343"/><stop offset=".33" stop-color="#4e4e4e"/><stop offset=".35" stop-color="#7d7d7d"/><stop offset=".37" stop-color="#4b4b4b"/><stop offset=".39" stop-color="#696969"/><stop offset=".41" stop-color="#666"/><stop offset=".43" stop-color="#6b6b6b"/><stop offset=".45" stop-color="#5a5a5a"/><stop offset=".47" stop-color="#626262"/><stop offset=".49" stop-color="#404040"/><stop offset=".51" stop-color="#404040"/><stop offset=".53" stop-color="#484848"/><stop offset=".55" stop-color="#454545"/><stop offset=".57" stop-color="#424242"/><stop offset=".59" stop-color="#444"/><stop offset=".61" stop-color="#606060"/><stop offset=".63" stop-color="#484848"/><stop offset=".65" stop-color="#7b7b7b"/><stop offset=".67" stop-color="#6a6a6a"/><stop offset=".69" stop-color="#626262"/><stop offset=".71" stop-color="#6e6e6e"/><stop offset=".73" stop-color="#535353"/><stop offset=".75" stop-color="#818181"/><stop offset=".77" stop-color="#7e7e7e"/><stop offset=".79" stop-color="#7b7b7b"/><stop offset=".81" stop-color="#707070"/><stop offset=".83" stop-color="#8e8e8e"/><stop offset=".85" stop-color="#8f8f8f"/><stop offset=".87" stop-color="#939393"/><stop offset=".89" stop-color="#aeaeae"/><stop offset=".91" stop-color="#a8a8a8"/><stop offset=".93" stop-color="#a5a5a5"/><stop offset=".95" stop-color="#c2c2c2"/><stop offset=".97" stop-color="#bebebe"/><stop offset=".99" stop-color="#d4d4d4"/><stop offset="1" stop-color="#fff"/></linearGradient><path fill="url(#n455)" stroke="url(#n455)" d="M421.4 187.5l1.4 .4 1.5 8.8 1.5-1.7 1.4 4.2 1.5-1.9 1.4 1.4 1.5 2.2 1.5 1.3 1.4 4.8 1.5-2.8 1.5 4.5 1.4-2.4 1.5 3.2 1.5-1.3 1.4 4.5 1.5-2.2 1.5-9 1.4 8.7 1.5-5.9 1.4 .2 1.5-1.2 1.5 2.6 1.4-1.8 1.5 5.9 1.5-.4 1.4-1.9 1.5 .2 1.5 .2 1.4-.7 1.5-5.5 1.4 3.9 1.5-9.6 1.5 2.7 1.4 1.1 1.5-2.6 1.5 4.6 1.4-8.8 1.5 .1 1.5 .2 1.4 1.6 1.5-5.9 1.5-.6 1.4-1 1.5-5.3 1.4 .7 1.5 .1 1.5-5.6 1.4 .4 1.5-4.4 1.5-11.3-1.2-.3-1.4 10.4-1.5 5.6-1.5 6-1.4-3.6-1.5 7.4-1.5-1.7-1.4 .9-1.5 3.8-1.4 8.2-1.5-5.4-1.5 6.7-1.4-5.8-1.5 10.6-1.5-2.5-1.4-5.9-1.5 3.1-1.5 5.8-1.4 1.6-1.5-7.6-1.5 4-1.4-4.6-1.5 10.9-1.4 .7-1.5 .2-1.5-4-1.4-5.9-1.5 4.1-1.5 4.9-1.4-2.1-1.5-1.7-1.5-.6-1.4 6.5-1.5 2.2-1.4-4.2-1.5 3.4-1.5-6-1.4-3.1-1.5 9.6-1.5-1.6-1.4-1.1-1.5-3.6-1.5-1.3-1.4-4.9-1.5-3.3-1.5 3.4-1.4 2.5-1.5-8.1-1.4-6.8-1.5-5.1-1.5-1.9z"/><linearGradient id="n456" href="#u" x1="421.9" x2="495.1"><stop offset=".01" stop-color="#fff"/><stop offset=".03" stop-color="#fff"/><stop offset=".05" stop-color="#d1d1d1"/><stop offset=".07" stop-color="#ccc"/><stop offset=".09" stop-color="#d4d4d4"/><stop offset=".11" stop-color="#c6c6c6"/><stop offset=".13" stop-color="#878787"/><stop offset=".15" stop-color="#818181"/><stop offset=".17" stop-color="#6e6e6e"/><stop offset=".19" stop-color="#808080"/><stop offset=".21" stop-color="#5f5f5f"/><stop offset=".23" stop-color="#767676"/><stop offset=".25" stop-color="#7e7e7e"/><stop offset=".27" stop-color="#636363"/><stop offset=".29" stop-color="#7a7a7a"/><stop offset=".31" stop-color="#737373"/><stop offset=".33" stop-color="#4c4c4c"/><stop offset=".35" stop-color="#6e6e6e"/><stop offset=".37" stop-color="#5a5a5a"/><stop offset=".39" stop-color="#636363"/><stop offset=".41" stop-color="#5a5a5a"/><stop offset=".43" stop-color="#757575"/><stop offset=".45" stop-color="#656565"/><stop offset=".47" stop-color="#525252"/><stop offset=".49" stop-color="#6b6b6b"/><stop offset=".51" stop-color="#7b7b7b"/><stop offset=".53" stop-color="#5c5c5c"/><stop offset=".55" stop-color="#565656"/><stop offset=".57" stop-color="#616161"/><stop offset=".59" stop-color="#858585"/><stop offset=".61" stop-color="#888"/><stop offset=".63" stop-color="#747474"/><stop offset=".65" stop-color="#848484"/><stop offset=".67" stop-color="#818181"/><stop offset=".69" stop-color="#636363"/><stop offset=".71" stop-color="#525252"/><stop offset=".73" stop-color="#797979"/><stop offset=".75" stop-color="#757575"/><stop offset=".77" stop-color="#6b6b6b"/><stop offset=".79" stop-color="#676767"/><stop offset=".81" stop-color="#787878"/><stop offset=".83" stop-color="#828282"/><stop offset=".85" stop-color="#7c7c7c"/><stop offset=".87" stop-color="#878787"/><stop offset=".89" stop-color="#9d9d9d"/><stop offset=".91" stop-color="#c4c4c4"/><stop offset=".93" stop-color="#c0c0c0"/><stop offset=".95" stop-color="#bdbdbd"/><stop offset=".97" stop-color="#d0d0d0"/><stop offset=".99" stop-color="#f1f1f1"/><stop offset="1" stop-color="#fafafa"/></linearGradient><path fill="url(#n456)" stroke="url(#n456)" d="M422.5 181.6l1.5 2.2 1.4 8.7 1.5 .4 1.5-1.9 1.4 2.3 1.5 11.1 1.4 .6 1.5 3.1 1.5-3.6 1.4 5.7 1.5-4.6 1.5-1.9 1.4 4.6 1.5-4.7 1.5 1 1.4 6.7 1.5-6.6 1.5 3.4 1.4-2.2 1.5 1.2 1.4-5.2 1.5 2.6 1.5 3.1 1.4-5.1 1.5-3.2 1.5 5.3 1.4 .7 1.5-2.4 1.5-7 1.4-.9 1.5 3.3 1.4-3.3 1.5 .2 1.5 5 1.4 2.8 1.5-7.4 1.5 .3 1.4 1.3 1.5 .5 1.5-3.5 1.4-2.2 1.5 .6 1.5-2.3 1.4-4.3 1.5-7.5 1.4 .2 1.5 .2 1.5-3.8 1.4-6.5 1.5-1.9-1.1-4.5-1.5 11.3-1.5 4.4-1.4-.4-1.5 5.6-1.5-.1-1.4-.7-1.5 5.3-1.4 1-1.5 .6-1.5 5.9-1.4-1.6-1.5-.2-1.5-.1-1.4 8.8-1.5-4.6-1.5 2.6-1.4-1.1-1.5-2.7-1.5 9.6-1.4-3.9-1.5 5.5-1.4 .7-1.5-.2-1.5-.2-1.4 1.9-1.5 .4-1.5-5.9-1.4 1.8-1.5-2.6-1.5 1.2-1.4-.2-1.5 5.9-1.4-8.7-1.5 9-1.5 2.2-1.4-4.5-1.5 1.3-1.5-3.2-1.4 2.4-1.5-4.5-1.5 2.8-1.4-4.8-1.5-1.3-1.5-2.2-1.4-1.4-1.5 1.9-1.4-4.2-1.5 1.7-1.5-8.8-1.4-.4z"/></g></g></g><text x="425.4" y="242.8">-1</text><text x="443.7" y="238.1">-0.5</text><text x="462" y="233.3">0</text><text x="480.3" y="228.6">0.5</text><text x="419.2" y="242.1" text-anchor="end">-1</text><text x="405" y="235.8" text-anchor="end">-0.5</text><text x="390.8" y="229.5" text-anchor="end">0</text><text x="376.6" y="223.1" text-anchor="end">0.5</text><text x="362.6" y="204.6" text-anchor="end">0.5</text><text x="362.6" y="197.1" text-anchor="end">1</text><text x="362.6" y="189.6" text-anchor="end">1.5</text><text x="362.6" y="182.1" text-anchor="end">2</text><text x="362.6" y="174.6" text-anchor="end">2.5</text><text x="362.6" y="167.1" text-anchor="end">3</text><text x="362.6" y="159.6" text-anchor="end">3.5</text><text class="tt" x="430.7" y="133.7" text-anchor="middle">F7 Parameter space</text><text x="457.5" y="244.9" text-anchor="middle">x<tspan class="u" dy=".9">1</tspan></text><text x="391.8" y="243.5" text-anchor="middle">x<tspan class="u" dy=".9">2</tspan></text><text text-anchor="middle" transform="translate(352.9 182.7) rotate(-90)">F7( x<tspan class="u" dy=".9">1</tspan><tspan dy="-.9"> , x</tspan><tspan class="u" dy=".9">2</tspan><tspan dy="-.9"> )</tspan></text></g>
</svg>
</body></html>
